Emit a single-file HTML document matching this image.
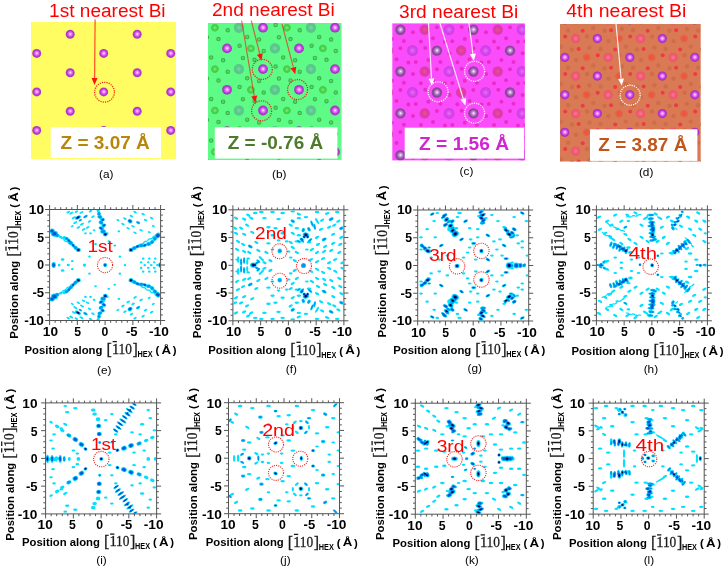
<!DOCTYPE html>
<html><head><meta charset="utf-8"><style>
*{margin:0;padding:0}
html,body{width:725px;height:568px;overflow:hidden;background:#fff}
svg{position:absolute;left:0;top:0;display:block;filter:blur(0.35px)}
</style></head>
<body>
<svg width="725" height="568" viewBox="0 0 725 568"><defs>
<radialGradient id="ga" cx="0.5" cy="0.5" r="0.5" fx="0.5" fy="0.5">
 <stop offset="0" stop-color="#fff4ff"/><stop offset="0.3" stop-color="#e878f4"/><stop offset="0.75" stop-color="#b830d8"/><stop offset="1" stop-color="#a028c8" stop-opacity="0.8"/>
</radialGradient>
<radialGradient id="gc" cx="0.5" cy="0.5" r="0.5">
 <stop offset="0" stop-color="#fff4ff"/><stop offset="0.3" stop-color="#c890d8"/><stop offset="0.75" stop-color="#8a509a"/><stop offset="1" stop-color="#7a4a8a" stop-opacity="0.8"/>
</radialGradient>

<radialGradient id="gA" cx="0.5" cy="0.5" r="0.5" fx="0.52" fy="0.48">
 <stop offset="0" stop-color="#fff6ff"/><stop offset="0.28" stop-color="#ee88f8"/><stop offset="0.7" stop-color="#bb33dd"/><stop offset="1" stop-color="#9922bb" stop-opacity="0.85"/>
</radialGradient>
<radialGradient id="gC" cx="0.5" cy="0.5" r="0.5" fx="0.52" fy="0.48">
 <stop offset="0" stop-color="#fff6ff"/><stop offset="0.28" stop-color="#cc99e0"/><stop offset="0.7" stop-color="#8c4c9c"/><stop offset="1" stop-color="#7a3c8a" stop-opacity="0.85"/>
</radialGradient>
<radialGradient id="gTeal" cx="0.5" cy="0.5" r="0.5">
 <stop offset="0" stop-color="#78d8a4"/><stop offset="0.55" stop-color="#5ac48c"/><stop offset="0.85" stop-color="#56c088" stop-opacity="0.8"/><stop offset="1" stop-color="#56c088" stop-opacity="0.1"/>
</radialGradient>
<radialGradient id="gGrn" cx="0.5" cy="0.5" r="0.5">
 <stop offset="0" stop-color="#80ee80"/><stop offset="0.5" stop-color="#48d048"/><stop offset="0.85" stop-color="#40c840" stop-opacity="0.8"/><stop offset="1" stop-color="#40c840" stop-opacity="0.1"/>
</radialGradient>
<radialGradient id="gMag" cx="0.5" cy="0.5" r="0.5">
 <stop offset="0" stop-color="#e670f4"/><stop offset="0.5" stop-color="#d648ec"/><stop offset="0.85" stop-color="#cc3ce4" stop-opacity="0.9"/><stop offset="1" stop-color="#cc3ce4" stop-opacity="0.2"/>
</radialGradient>
<radialGradient id="gRed" cx="0.5" cy="0.5" r="0.5">
 <stop offset="0" stop-color="#e8509e"/><stop offset="0.5" stop-color="#e03c9e"/><stop offset="0.85" stop-color="#dc38a8" stop-opacity="0.85"/><stop offset="1" stop-color="#dc38a8" stop-opacity="0.15"/>
</radialGradient>
<radialGradient id="gPink" cx="0.5" cy="0.5" r="0.5">
 <stop offset="0" stop-color="#fa7a90"/><stop offset="0.5" stop-color="#f25a76"/><stop offset="0.85" stop-color="#ee5070" stop-opacity="0.85"/><stop offset="1" stop-color="#ee5070" stop-opacity="0.15"/>
</radialGradient>
<radialGradient id="gOr" cx="0.5" cy="0.5" r="0.5">
 <stop offset="0" stop-color="#f4503a"/><stop offset="0.5" stop-color="#ea5a42"/><stop offset="0.85" stop-color="#e26048" stop-opacity="0.6"/><stop offset="1" stop-color="#e26048" stop-opacity="0"/>
</radialGradient>
<clipPath id="cpa"><rect x="31" y="22" width="145" height="137"/></clipPath>
<clipPath id="cpb"><rect x="208" y="23" width="133.5" height="137"/></clipPath>
<clipPath id="cpc"><rect x="392.3" y="23.4" width="132.5" height="137"/></clipPath>
<clipPath id="cpd"><rect x="560" y="24" width="140.7" height="137.5"/></clipPath>
</defs>
<rect x="31" y="22" width="145" height="137" fill="#fffd62"/><g clip-path="url(#cpa)"><circle cx="36.7" cy="14.9" r="4.5" fill="url(#gA)"/><circle cx="36.7" cy="53.4" r="4.5" fill="url(#gA)"/><circle cx="70.2" cy="34.2" r="4.5" fill="url(#gA)"/><circle cx="103.7" cy="14.9" r="4.5" fill="url(#gA)"/><circle cx="36.7" cy="91.9" r="4.5" fill="url(#gA)"/><circle cx="70.2" cy="72.7" r="4.5" fill="url(#gA)"/><circle cx="103.7" cy="53.4" r="4.5" fill="url(#gA)"/><circle cx="137.2" cy="34.2" r="4.5" fill="url(#gA)"/><circle cx="170.7" cy="14.9" r="4.5" fill="url(#gA)"/><circle cx="36.7" cy="130.4" r="4.5" fill="url(#gA)"/><circle cx="70.2" cy="111.2" r="4.5" fill="url(#gA)"/><circle cx="103.7" cy="91.9" r="4.5" fill="url(#gA)"/><circle cx="137.2" cy="72.7" r="4.5" fill="url(#gA)"/><circle cx="170.7" cy="53.4" r="4.5" fill="url(#gA)"/><circle cx="70.2" cy="149.7" r="4.5" fill="url(#gA)"/><circle cx="103.7" cy="130.4" r="4.5" fill="url(#gA)"/><circle cx="137.2" cy="111.2" r="4.5" fill="url(#gA)"/><circle cx="170.7" cy="91.9" r="4.5" fill="url(#gA)"/><circle cx="137.2" cy="149.7" r="4.5" fill="url(#gA)"/><circle cx="170.7" cy="130.4" r="4.5" fill="url(#gA)"/></g><rect x="208" y="23" width="133.5" height="137" fill="#5efc86"/><g clip-path="url(#cpb)"><circle cx="203.6" cy="25.0" r="1.7" fill="#58dc72" stroke="#3cb446" stroke-width="1.1"/><circle cx="206.9" cy="37.2" r="1.7" fill="#58dc72" stroke="#3cb446" stroke-width="1.1"/><circle cx="223.1" cy="18.9" r="1.7" fill="#58dc72" stroke="#3cb446" stroke-width="1.1"/><circle cx="242.9" cy="16.5" r="1.7" fill="#58dc72" stroke="#3cb446" stroke-width="1.1"/><circle cx="211.2" cy="16.2" r="1.7" fill="#58dc72" stroke="#3cb446" stroke-width="1.1"/><circle cx="203.6" cy="66.4" r="1.7" fill="#58dc72" stroke="#3cb446" stroke-width="1.1"/><circle cx="206.9" cy="78.6" r="1.7" fill="#58dc72" stroke="#3cb446" stroke-width="1.1"/><circle cx="227.7" cy="30.3" r="1.7" fill="#58dc72" stroke="#3cb446" stroke-width="1.1"/><circle cx="218.5" cy="39.1" r="1.7" fill="#58dc72" stroke="#3cb446" stroke-width="1.1"/><circle cx="239.6" cy="45.7" r="1.7" fill="#58dc72" stroke="#3cb446" stroke-width="1.1"/><circle cx="223.1" cy="60.3" r="1.7" fill="#58dc72" stroke="#3cb446" stroke-width="1.1"/><circle cx="242.9" cy="57.9" r="1.7" fill="#58dc72" stroke="#3cb446" stroke-width="1.1"/><circle cx="211.2" cy="57.6" r="1.7" fill="#58dc72" stroke="#3cb446" stroke-width="1.1"/><circle cx="254.5" cy="18.4" r="1.7" fill="#58dc72" stroke="#3cb446" stroke-width="1.1"/><circle cx="275.6" cy="25.0" r="1.7" fill="#58dc72" stroke="#3cb446" stroke-width="1.1"/><circle cx="259.1" cy="39.6" r="1.7" fill="#58dc72" stroke="#3cb446" stroke-width="1.1"/><circle cx="278.9" cy="37.2" r="1.7" fill="#58dc72" stroke="#3cb446" stroke-width="1.1"/><circle cx="247.2" cy="36.9" r="1.7" fill="#58dc72" stroke="#3cb446" stroke-width="1.1"/><circle cx="295.1" cy="18.9" r="1.7" fill="#58dc72" stroke="#3cb446" stroke-width="1.1"/><circle cx="314.9" cy="16.5" r="1.7" fill="#58dc72" stroke="#3cb446" stroke-width="1.1"/><circle cx="283.2" cy="16.2" r="1.7" fill="#58dc72" stroke="#3cb446" stroke-width="1.1"/><circle cx="203.6" cy="107.8" r="1.7" fill="#58dc72" stroke="#3cb446" stroke-width="1.1"/><circle cx="206.9" cy="120.0" r="1.7" fill="#58dc72" stroke="#3cb446" stroke-width="1.1"/><circle cx="227.7" cy="71.7" r="1.7" fill="#58dc72" stroke="#3cb446" stroke-width="1.1"/><circle cx="218.5" cy="80.5" r="1.7" fill="#58dc72" stroke="#3cb446" stroke-width="1.1"/><circle cx="239.6" cy="87.1" r="1.7" fill="#58dc72" stroke="#3cb446" stroke-width="1.1"/><circle cx="223.1" cy="101.7" r="1.7" fill="#58dc72" stroke="#3cb446" stroke-width="1.1"/><circle cx="242.9" cy="99.3" r="1.7" fill="#58dc72" stroke="#3cb446" stroke-width="1.1"/><circle cx="211.2" cy="99.0" r="1.7" fill="#58dc72" stroke="#3cb446" stroke-width="1.1"/><circle cx="263.7" cy="51.0" r="1.7" fill="#58dc72" stroke="#3cb446" stroke-width="1.1"/><circle cx="254.5" cy="59.8" r="1.7" fill="#58dc72" stroke="#3cb446" stroke-width="1.1"/><circle cx="275.6" cy="66.4" r="1.7" fill="#58dc72" stroke="#3cb446" stroke-width="1.1"/><circle cx="259.1" cy="81.0" r="1.7" fill="#58dc72" stroke="#3cb446" stroke-width="1.1"/><circle cx="278.9" cy="78.6" r="1.7" fill="#58dc72" stroke="#3cb446" stroke-width="1.1"/><circle cx="247.2" cy="78.3" r="1.7" fill="#58dc72" stroke="#3cb446" stroke-width="1.1"/><circle cx="299.7" cy="30.3" r="1.7" fill="#58dc72" stroke="#3cb446" stroke-width="1.1"/><circle cx="290.5" cy="39.1" r="1.7" fill="#58dc72" stroke="#3cb446" stroke-width="1.1"/><circle cx="311.6" cy="45.7" r="1.7" fill="#58dc72" stroke="#3cb446" stroke-width="1.1"/><circle cx="295.1" cy="60.3" r="1.7" fill="#58dc72" stroke="#3cb446" stroke-width="1.1"/><circle cx="314.9" cy="57.9" r="1.7" fill="#58dc72" stroke="#3cb446" stroke-width="1.1"/><circle cx="283.2" cy="57.6" r="1.7" fill="#58dc72" stroke="#3cb446" stroke-width="1.1"/><circle cx="326.5" cy="18.4" r="1.7" fill="#58dc72" stroke="#3cb446" stroke-width="1.1"/><circle cx="347.6" cy="25.0" r="1.7" fill="#58dc72" stroke="#3cb446" stroke-width="1.1"/><circle cx="331.1" cy="39.6" r="1.7" fill="#58dc72" stroke="#3cb446" stroke-width="1.1"/><circle cx="319.2" cy="36.9" r="1.7" fill="#58dc72" stroke="#3cb446" stroke-width="1.1"/><circle cx="203.6" cy="149.2" r="1.7" fill="#58dc72" stroke="#3cb446" stroke-width="1.1"/><circle cx="206.9" cy="161.4" r="1.7" fill="#58dc72" stroke="#3cb446" stroke-width="1.1"/><circle cx="227.7" cy="113.1" r="1.7" fill="#58dc72" stroke="#3cb446" stroke-width="1.1"/><circle cx="218.5" cy="121.9" r="1.7" fill="#58dc72" stroke="#3cb446" stroke-width="1.1"/><circle cx="239.6" cy="128.5" r="1.7" fill="#58dc72" stroke="#3cb446" stroke-width="1.1"/><circle cx="223.1" cy="143.1" r="1.7" fill="#58dc72" stroke="#3cb446" stroke-width="1.1"/><circle cx="242.9" cy="140.7" r="1.7" fill="#58dc72" stroke="#3cb446" stroke-width="1.1"/><circle cx="211.2" cy="140.4" r="1.7" fill="#58dc72" stroke="#3cb446" stroke-width="1.1"/><circle cx="263.7" cy="92.4" r="1.7" fill="#58dc72" stroke="#3cb446" stroke-width="1.1"/><circle cx="254.5" cy="101.2" r="1.7" fill="#58dc72" stroke="#3cb446" stroke-width="1.1"/><circle cx="275.6" cy="107.8" r="1.7" fill="#58dc72" stroke="#3cb446" stroke-width="1.1"/><circle cx="259.1" cy="122.4" r="1.7" fill="#58dc72" stroke="#3cb446" stroke-width="1.1"/><circle cx="278.9" cy="120.0" r="1.7" fill="#58dc72" stroke="#3cb446" stroke-width="1.1"/><circle cx="247.2" cy="119.7" r="1.7" fill="#58dc72" stroke="#3cb446" stroke-width="1.1"/><circle cx="299.7" cy="71.7" r="1.7" fill="#58dc72" stroke="#3cb446" stroke-width="1.1"/><circle cx="290.5" cy="80.5" r="1.7" fill="#58dc72" stroke="#3cb446" stroke-width="1.1"/><circle cx="311.6" cy="87.1" r="1.7" fill="#58dc72" stroke="#3cb446" stroke-width="1.1"/><circle cx="295.1" cy="101.7" r="1.7" fill="#58dc72" stroke="#3cb446" stroke-width="1.1"/><circle cx="314.9" cy="99.3" r="1.7" fill="#58dc72" stroke="#3cb446" stroke-width="1.1"/><circle cx="283.2" cy="99.0" r="1.7" fill="#58dc72" stroke="#3cb446" stroke-width="1.1"/><circle cx="335.7" cy="51.0" r="1.7" fill="#58dc72" stroke="#3cb446" stroke-width="1.1"/><circle cx="326.5" cy="59.8" r="1.7" fill="#58dc72" stroke="#3cb446" stroke-width="1.1"/><circle cx="347.6" cy="66.4" r="1.7" fill="#58dc72" stroke="#3cb446" stroke-width="1.1"/><circle cx="331.1" cy="81.0" r="1.7" fill="#58dc72" stroke="#3cb446" stroke-width="1.1"/><circle cx="319.2" cy="78.3" r="1.7" fill="#58dc72" stroke="#3cb446" stroke-width="1.1"/><circle cx="227.7" cy="154.5" r="1.7" fill="#58dc72" stroke="#3cb446" stroke-width="1.1"/><circle cx="218.5" cy="163.3" r="1.7" fill="#58dc72" stroke="#3cb446" stroke-width="1.1"/><circle cx="263.7" cy="133.8" r="1.7" fill="#58dc72" stroke="#3cb446" stroke-width="1.1"/><circle cx="254.5" cy="142.6" r="1.7" fill="#58dc72" stroke="#3cb446" stroke-width="1.1"/><circle cx="275.6" cy="149.2" r="1.7" fill="#58dc72" stroke="#3cb446" stroke-width="1.1"/><circle cx="259.1" cy="163.8" r="1.7" fill="#58dc72" stroke="#3cb446" stroke-width="1.1"/><circle cx="278.9" cy="161.4" r="1.7" fill="#58dc72" stroke="#3cb446" stroke-width="1.1"/><circle cx="247.2" cy="161.1" r="1.7" fill="#58dc72" stroke="#3cb446" stroke-width="1.1"/><circle cx="299.7" cy="113.1" r="1.7" fill="#58dc72" stroke="#3cb446" stroke-width="1.1"/><circle cx="290.5" cy="121.9" r="1.7" fill="#58dc72" stroke="#3cb446" stroke-width="1.1"/><circle cx="311.6" cy="128.5" r="1.7" fill="#58dc72" stroke="#3cb446" stroke-width="1.1"/><circle cx="295.1" cy="143.1" r="1.7" fill="#58dc72" stroke="#3cb446" stroke-width="1.1"/><circle cx="314.9" cy="140.7" r="1.7" fill="#58dc72" stroke="#3cb446" stroke-width="1.1"/><circle cx="283.2" cy="140.4" r="1.7" fill="#58dc72" stroke="#3cb446" stroke-width="1.1"/><circle cx="335.7" cy="92.4" r="1.7" fill="#58dc72" stroke="#3cb446" stroke-width="1.1"/><circle cx="326.5" cy="101.2" r="1.7" fill="#58dc72" stroke="#3cb446" stroke-width="1.1"/><circle cx="347.6" cy="107.8" r="1.7" fill="#58dc72" stroke="#3cb446" stroke-width="1.1"/><circle cx="331.1" cy="122.4" r="1.7" fill="#58dc72" stroke="#3cb446" stroke-width="1.1"/><circle cx="319.2" cy="119.7" r="1.7" fill="#58dc72" stroke="#3cb446" stroke-width="1.1"/><circle cx="299.7" cy="154.5" r="1.7" fill="#58dc72" stroke="#3cb446" stroke-width="1.1"/><circle cx="290.5" cy="163.3" r="1.7" fill="#58dc72" stroke="#3cb446" stroke-width="1.1"/><circle cx="335.7" cy="133.8" r="1.7" fill="#58dc72" stroke="#3cb446" stroke-width="1.1"/><circle cx="326.5" cy="142.6" r="1.7" fill="#58dc72" stroke="#3cb446" stroke-width="1.1"/><circle cx="347.6" cy="149.2" r="1.7" fill="#58dc72" stroke="#3cb446" stroke-width="1.1"/><circle cx="331.1" cy="163.8" r="1.7" fill="#58dc72" stroke="#3cb446" stroke-width="1.1"/><circle cx="319.2" cy="161.1" r="1.7" fill="#58dc72" stroke="#3cb446" stroke-width="1.1"/><circle cx="202.9" cy="48.4" r="5.6" fill="url(#gTeal)"/><circle cx="238.9" cy="27.7" r="5.6" fill="url(#gTeal)"/><circle cx="202.9" cy="89.8" r="5.6" fill="url(#gTeal)"/><circle cx="238.9" cy="69.1" r="5.6" fill="url(#gTeal)"/><circle cx="274.9" cy="48.4" r="5.6" fill="url(#gTeal)"/><circle cx="310.9" cy="27.7" r="5.6" fill="url(#gTeal)"/><circle cx="202.9" cy="131.2" r="5.6" fill="url(#gTeal)"/><circle cx="238.9" cy="110.5" r="5.6" fill="url(#gTeal)"/><circle cx="274.9" cy="89.8" r="5.6" fill="url(#gTeal)"/><circle cx="310.9" cy="69.1" r="5.6" fill="url(#gTeal)"/><circle cx="346.9" cy="48.4" r="5.6" fill="url(#gTeal)"/><circle cx="238.9" cy="151.9" r="5.6" fill="url(#gTeal)"/><circle cx="274.9" cy="131.2" r="5.6" fill="url(#gTeal)"/><circle cx="310.9" cy="110.5" r="5.6" fill="url(#gTeal)"/><circle cx="346.9" cy="89.8" r="5.6" fill="url(#gTeal)"/><circle cx="310.9" cy="151.9" r="5.6" fill="url(#gTeal)"/><circle cx="346.9" cy="131.2" r="5.6" fill="url(#gTeal)"/><circle cx="214.9" cy="27.7" r="4.2" fill="url(#gGrn)"/><circle cx="214.9" cy="69.1" r="4.2" fill="url(#gGrn)"/><circle cx="250.9" cy="48.4" r="4.2" fill="url(#gGrn)"/><circle cx="286.9" cy="27.7" r="4.2" fill="url(#gGrn)"/><circle cx="214.9" cy="110.5" r="4.2" fill="url(#gGrn)"/><circle cx="250.9" cy="89.8" r="4.2" fill="url(#gGrn)"/><circle cx="286.9" cy="69.1" r="4.2" fill="url(#gGrn)"/><circle cx="322.9" cy="48.4" r="4.2" fill="url(#gGrn)"/><circle cx="214.9" cy="151.9" r="4.2" fill="url(#gGrn)"/><circle cx="250.9" cy="131.2" r="4.2" fill="url(#gGrn)"/><circle cx="286.9" cy="110.5" r="4.2" fill="url(#gGrn)"/><circle cx="322.9" cy="89.8" r="4.2" fill="url(#gGrn)"/><circle cx="286.9" cy="151.9" r="4.2" fill="url(#gGrn)"/><circle cx="322.9" cy="131.2" r="4.2" fill="url(#gGrn)"/><circle cx="227.0" cy="48.4" r="4.9" fill="url(#gA)"/><circle cx="263.0" cy="27.7" r="4.9" fill="url(#gA)"/><circle cx="227.0" cy="89.8" r="4.9" fill="url(#gA)"/><circle cx="263.0" cy="69.1" r="4.9" fill="url(#gA)"/><circle cx="299.0" cy="48.4" r="4.9" fill="url(#gA)"/><circle cx="335.0" cy="27.7" r="4.9" fill="url(#gA)"/><circle cx="227.0" cy="131.2" r="4.9" fill="url(#gA)"/><circle cx="263.0" cy="110.5" r="4.9" fill="url(#gA)"/><circle cx="299.0" cy="89.8" r="4.9" fill="url(#gA)"/><circle cx="335.0" cy="69.1" r="4.9" fill="url(#gA)"/><circle cx="263.0" cy="151.9" r="4.9" fill="url(#gA)"/><circle cx="299.0" cy="131.2" r="4.9" fill="url(#gA)"/><circle cx="335.0" cy="110.5" r="4.9" fill="url(#gA)"/><circle cx="335.0" cy="151.9" r="4.9" fill="url(#gA)"/></g><rect x="392.3" y="23.4" width="132.5" height="137" fill="#fb4cfb"/><g clip-path="url(#cpc)"><circle cx="388.7" cy="27.0" r="2.0" fill="#ec2cc8"/><circle cx="408.4" cy="20.8" r="2.0" fill="#ec2cc8"/><circle cx="396.5" cy="17.4" r="2.0" fill="#ec2cc8"/><circle cx="413.0" cy="32.3" r="2.0" fill="#ec2cc8"/><circle cx="403.9" cy="41.0" r="2.0" fill="#ec2cc8"/><circle cx="391.8" cy="39.0" r="2.0" fill="#ec2cc8"/><circle cx="384.4" cy="20.5" r="2.0" fill="#ec2cc8"/><circle cx="400.4" cy="48.3" r="2.0" fill="#ec2cc8"/><circle cx="415.8" cy="20.3" r="2.0" fill="#ec2cc8"/><circle cx="440.4" cy="20.0" r="2.0" fill="#ec2cc8"/><circle cx="428.3" cy="18.0" r="2.0" fill="#ec2cc8"/><circle cx="436.9" cy="27.3" r="2.0" fill="#ec2cc8"/><circle cx="388.7" cy="68.8" r="2.0" fill="#ec2cc8"/><circle cx="408.4" cy="62.6" r="2.0" fill="#ec2cc8"/><circle cx="396.5" cy="59.2" r="2.0" fill="#ec2cc8"/><circle cx="413.0" cy="74.1" r="2.0" fill="#ec2cc8"/><circle cx="403.9" cy="82.8" r="2.0" fill="#ec2cc8"/><circle cx="391.8" cy="80.8" r="2.0" fill="#ec2cc8"/><circle cx="384.4" cy="62.3" r="2.0" fill="#ec2cc8"/><circle cx="400.4" cy="90.1" r="2.0" fill="#ec2cc8"/><circle cx="415.8" cy="62.1" r="2.0" fill="#ec2cc8"/><circle cx="425.2" cy="47.9" r="2.0" fill="#ec2cc8"/><circle cx="444.9" cy="41.7" r="2.0" fill="#ec2cc8"/><circle cx="433.0" cy="38.3" r="2.0" fill="#ec2cc8"/><circle cx="449.5" cy="53.2" r="2.0" fill="#ec2cc8"/><circle cx="440.4" cy="61.9" r="2.0" fill="#ec2cc8"/><circle cx="428.3" cy="59.9" r="2.0" fill="#ec2cc8"/><circle cx="420.9" cy="41.4" r="2.0" fill="#ec2cc8"/><circle cx="436.9" cy="69.2" r="2.0" fill="#ec2cc8"/><circle cx="452.3" cy="41.2" r="2.0" fill="#ec2cc8"/><circle cx="461.7" cy="27.0" r="2.0" fill="#ec2cc8"/><circle cx="481.4" cy="20.8" r="2.0" fill="#ec2cc8"/><circle cx="469.5" cy="17.4" r="2.0" fill="#ec2cc8"/><circle cx="486.0" cy="32.3" r="2.0" fill="#ec2cc8"/><circle cx="476.9" cy="41.0" r="2.0" fill="#ec2cc8"/><circle cx="464.8" cy="39.0" r="2.0" fill="#ec2cc8"/><circle cx="457.4" cy="20.5" r="2.0" fill="#ec2cc8"/><circle cx="473.4" cy="48.3" r="2.0" fill="#ec2cc8"/><circle cx="488.8" cy="20.3" r="2.0" fill="#ec2cc8"/><circle cx="513.5" cy="20.0" r="2.0" fill="#ec2cc8"/><circle cx="501.4" cy="18.0" r="2.0" fill="#ec2cc8"/><circle cx="510.0" cy="27.3" r="2.0" fill="#ec2cc8"/><circle cx="388.7" cy="110.7" r="2.0" fill="#ec2cc8"/><circle cx="408.4" cy="104.5" r="2.0" fill="#ec2cc8"/><circle cx="396.5" cy="101.1" r="2.0" fill="#ec2cc8"/><circle cx="413.0" cy="116.0" r="2.0" fill="#ec2cc8"/><circle cx="403.9" cy="124.7" r="2.0" fill="#ec2cc8"/><circle cx="391.8" cy="122.7" r="2.0" fill="#ec2cc8"/><circle cx="384.4" cy="104.2" r="2.0" fill="#ec2cc8"/><circle cx="400.4" cy="132.0" r="2.0" fill="#ec2cc8"/><circle cx="415.8" cy="104.0" r="2.0" fill="#ec2cc8"/><circle cx="425.2" cy="89.8" r="2.0" fill="#ec2cc8"/><circle cx="444.9" cy="83.6" r="2.0" fill="#ec2cc8"/><circle cx="433.0" cy="80.2" r="2.0" fill="#ec2cc8"/><circle cx="449.5" cy="95.1" r="2.0" fill="#ec2cc8"/><circle cx="440.4" cy="103.8" r="2.0" fill="#ec2cc8"/><circle cx="428.3" cy="101.8" r="2.0" fill="#ec2cc8"/><circle cx="420.9" cy="83.3" r="2.0" fill="#ec2cc8"/><circle cx="436.9" cy="111.1" r="2.0" fill="#ec2cc8"/><circle cx="452.3" cy="83.1" r="2.0" fill="#ec2cc8"/><circle cx="461.7" cy="68.8" r="2.0" fill="#ec2cc8"/><circle cx="481.4" cy="62.6" r="2.0" fill="#ec2cc8"/><circle cx="469.5" cy="59.2" r="2.0" fill="#ec2cc8"/><circle cx="486.0" cy="74.1" r="2.0" fill="#ec2cc8"/><circle cx="476.9" cy="82.8" r="2.0" fill="#ec2cc8"/><circle cx="464.8" cy="80.8" r="2.0" fill="#ec2cc8"/><circle cx="457.4" cy="62.3" r="2.0" fill="#ec2cc8"/><circle cx="473.4" cy="90.1" r="2.0" fill="#ec2cc8"/><circle cx="488.8" cy="62.1" r="2.0" fill="#ec2cc8"/><circle cx="498.3" cy="47.9" r="2.0" fill="#ec2cc8"/><circle cx="518.0" cy="41.7" r="2.0" fill="#ec2cc8"/><circle cx="506.1" cy="38.3" r="2.0" fill="#ec2cc8"/><circle cx="522.6" cy="53.2" r="2.0" fill="#ec2cc8"/><circle cx="513.5" cy="61.9" r="2.0" fill="#ec2cc8"/><circle cx="501.4" cy="59.9" r="2.0" fill="#ec2cc8"/><circle cx="494.0" cy="41.4" r="2.0" fill="#ec2cc8"/><circle cx="510.0" cy="69.2" r="2.0" fill="#ec2cc8"/><circle cx="525.4" cy="41.2" r="2.0" fill="#ec2cc8"/><circle cx="530.5" cy="20.5" r="2.0" fill="#ec2cc8"/><circle cx="388.7" cy="152.6" r="2.0" fill="#ec2cc8"/><circle cx="408.4" cy="146.3" r="2.0" fill="#ec2cc8"/><circle cx="396.5" cy="142.9" r="2.0" fill="#ec2cc8"/><circle cx="413.0" cy="157.8" r="2.0" fill="#ec2cc8"/><circle cx="403.9" cy="166.6" r="2.0" fill="#ec2cc8"/><circle cx="391.8" cy="164.6" r="2.0" fill="#ec2cc8"/><circle cx="384.4" cy="146.1" r="2.0" fill="#ec2cc8"/><circle cx="415.8" cy="145.8" r="2.0" fill="#ec2cc8"/><circle cx="425.2" cy="131.6" r="2.0" fill="#ec2cc8"/><circle cx="444.9" cy="125.4" r="2.0" fill="#ec2cc8"/><circle cx="433.0" cy="122.0" r="2.0" fill="#ec2cc8"/><circle cx="449.5" cy="136.9" r="2.0" fill="#ec2cc8"/><circle cx="440.4" cy="145.6" r="2.0" fill="#ec2cc8"/><circle cx="428.3" cy="143.6" r="2.0" fill="#ec2cc8"/><circle cx="420.9" cy="125.1" r="2.0" fill="#ec2cc8"/><circle cx="436.9" cy="152.9" r="2.0" fill="#ec2cc8"/><circle cx="452.3" cy="124.9" r="2.0" fill="#ec2cc8"/><circle cx="461.7" cy="110.7" r="2.0" fill="#ec2cc8"/><circle cx="481.4" cy="104.5" r="2.0" fill="#ec2cc8"/><circle cx="469.5" cy="101.1" r="2.0" fill="#ec2cc8"/><circle cx="486.0" cy="116.0" r="2.0" fill="#ec2cc8"/><circle cx="476.9" cy="124.7" r="2.0" fill="#ec2cc8"/><circle cx="464.8" cy="122.7" r="2.0" fill="#ec2cc8"/><circle cx="457.4" cy="104.2" r="2.0" fill="#ec2cc8"/><circle cx="473.4" cy="132.0" r="2.0" fill="#ec2cc8"/><circle cx="488.8" cy="104.0" r="2.0" fill="#ec2cc8"/><circle cx="498.3" cy="89.8" r="2.0" fill="#ec2cc8"/><circle cx="518.0" cy="83.6" r="2.0" fill="#ec2cc8"/><circle cx="506.1" cy="80.2" r="2.0" fill="#ec2cc8"/><circle cx="522.6" cy="95.1" r="2.0" fill="#ec2cc8"/><circle cx="513.5" cy="103.8" r="2.0" fill="#ec2cc8"/><circle cx="501.4" cy="101.8" r="2.0" fill="#ec2cc8"/><circle cx="494.0" cy="83.3" r="2.0" fill="#ec2cc8"/><circle cx="510.0" cy="111.1" r="2.0" fill="#ec2cc8"/><circle cx="525.4" cy="83.1" r="2.0" fill="#ec2cc8"/><circle cx="530.5" cy="62.3" r="2.0" fill="#ec2cc8"/><circle cx="444.9" cy="167.3" r="2.0" fill="#ec2cc8"/><circle cx="433.0" cy="163.9" r="2.0" fill="#ec2cc8"/><circle cx="420.9" cy="167.0" r="2.0" fill="#ec2cc8"/><circle cx="452.3" cy="166.8" r="2.0" fill="#ec2cc8"/><circle cx="461.7" cy="152.6" r="2.0" fill="#ec2cc8"/><circle cx="481.4" cy="146.3" r="2.0" fill="#ec2cc8"/><circle cx="469.5" cy="142.9" r="2.0" fill="#ec2cc8"/><circle cx="486.0" cy="157.8" r="2.0" fill="#ec2cc8"/><circle cx="476.9" cy="166.6" r="2.0" fill="#ec2cc8"/><circle cx="464.8" cy="164.6" r="2.0" fill="#ec2cc8"/><circle cx="457.4" cy="146.1" r="2.0" fill="#ec2cc8"/><circle cx="488.8" cy="145.8" r="2.0" fill="#ec2cc8"/><circle cx="498.3" cy="131.6" r="2.0" fill="#ec2cc8"/><circle cx="518.0" cy="125.4" r="2.0" fill="#ec2cc8"/><circle cx="506.1" cy="122.0" r="2.0" fill="#ec2cc8"/><circle cx="522.6" cy="136.9" r="2.0" fill="#ec2cc8"/><circle cx="513.5" cy="145.6" r="2.0" fill="#ec2cc8"/><circle cx="501.4" cy="143.6" r="2.0" fill="#ec2cc8"/><circle cx="494.0" cy="125.1" r="2.0" fill="#ec2cc8"/><circle cx="510.0" cy="152.9" r="2.0" fill="#ec2cc8"/><circle cx="525.4" cy="124.9" r="2.0" fill="#ec2cc8"/><circle cx="530.5" cy="104.2" r="2.0" fill="#ec2cc8"/><circle cx="518.0" cy="167.3" r="2.0" fill="#ec2cc8"/><circle cx="506.1" cy="163.9" r="2.0" fill="#ec2cc8"/><circle cx="494.0" cy="167.0" r="2.0" fill="#ec2cc8"/><circle cx="525.4" cy="166.8" r="2.0" fill="#ec2cc8"/><circle cx="530.5" cy="146.1" r="2.0" fill="#ec2cc8"/><circle cx="388.1" cy="50.6" r="5.6" fill="url(#gRed)"/><circle cx="424.7" cy="29.7" r="5.6" fill="url(#gRed)"/><circle cx="388.1" cy="92.5" r="5.6" fill="url(#gRed)"/><circle cx="424.7" cy="71.5" r="5.6" fill="url(#gRed)"/><circle cx="461.2" cy="50.6" r="5.6" fill="url(#gRed)"/><circle cx="497.7" cy="29.7" r="5.6" fill="url(#gRed)"/><circle cx="388.1" cy="134.3" r="5.6" fill="url(#gRed)"/><circle cx="424.7" cy="113.4" r="5.6" fill="url(#gRed)"/><circle cx="461.2" cy="92.5" r="5.6" fill="url(#gRed)"/><circle cx="497.7" cy="71.5" r="5.6" fill="url(#gRed)"/><circle cx="424.7" cy="155.2" r="5.6" fill="url(#gRed)"/><circle cx="461.2" cy="134.3" r="5.6" fill="url(#gRed)"/><circle cx="497.7" cy="113.4" r="5.6" fill="url(#gRed)"/><circle cx="497.7" cy="155.2" r="5.6" fill="url(#gRed)"/><circle cx="412.5" cy="50.6" r="5.8" fill="url(#gMag)"/><circle cx="449.1" cy="29.7" r="5.8" fill="url(#gMag)"/><circle cx="412.5" cy="92.5" r="5.8" fill="url(#gMag)"/><circle cx="449.1" cy="71.5" r="5.8" fill="url(#gMag)"/><circle cx="485.6" cy="50.6" r="5.8" fill="url(#gMag)"/><circle cx="522.1" cy="29.7" r="5.8" fill="url(#gMag)"/><circle cx="412.5" cy="134.3" r="5.8" fill="url(#gMag)"/><circle cx="449.1" cy="113.4" r="5.8" fill="url(#gMag)"/><circle cx="485.6" cy="92.5" r="5.8" fill="url(#gMag)"/><circle cx="522.1" cy="71.5" r="5.8" fill="url(#gMag)"/><circle cx="449.1" cy="155.2" r="5.8" fill="url(#gMag)"/><circle cx="485.6" cy="134.3" r="5.8" fill="url(#gMag)"/><circle cx="522.1" cy="113.4" r="5.8" fill="url(#gMag)"/><circle cx="522.1" cy="155.2" r="5.8" fill="url(#gMag)"/><circle cx="400.4" cy="29.7" r="5.2" fill="url(#gC)"/><circle cx="400.4" cy="71.5" r="5.2" fill="url(#gC)"/><circle cx="436.9" cy="50.6" r="5.2" fill="url(#gC)"/><circle cx="473.4" cy="29.7" r="5.2" fill="url(#gC)"/><circle cx="400.4" cy="113.4" r="5.2" fill="url(#gC)"/><circle cx="436.9" cy="92.5" r="5.2" fill="url(#gC)"/><circle cx="473.4" cy="71.5" r="5.2" fill="url(#gC)"/><circle cx="510.0" cy="50.6" r="5.2" fill="url(#gC)"/><circle cx="400.4" cy="155.2" r="5.2" fill="url(#gC)"/><circle cx="436.9" cy="134.3" r="5.2" fill="url(#gC)"/><circle cx="473.4" cy="113.4" r="5.2" fill="url(#gC)"/><circle cx="510.0" cy="92.5" r="5.2" fill="url(#gC)"/><circle cx="473.4" cy="155.2" r="5.2" fill="url(#gC)"/><circle cx="510.0" cy="134.3" r="5.2" fill="url(#gC)"/></g><rect x="560" y="24" width="140.7" height="137.5" fill="#d97a54"/><g clip-path="url(#cpd)"><circle cx="554.6" cy="17.8" r="2.2" fill="#cc6a48" opacity="0.8"/><circle cx="576.0" cy="22.4" r="2.2" fill="#cc6a48" opacity="0.8"/><circle cx="568.1" cy="30.2" r="2.2" fill="#cc6a48" opacity="0.8"/><circle cx="556.9" cy="29.0" r="2.2" fill="#cc6a48" opacity="0.8"/><circle cx="554.6" cy="55.2" r="2.2" fill="#cc6a48" opacity="0.8"/><circle cx="560.8" cy="46.7" r="2.2" fill="#cc6a48" opacity="0.8"/><circle cx="572.0" cy="49.6" r="2.2" fill="#cc6a48" opacity="0.8"/><circle cx="576.0" cy="59.9" r="2.2" fill="#cc6a48" opacity="0.8"/><circle cx="568.1" cy="67.8" r="2.2" fill="#cc6a48" opacity="0.8"/><circle cx="556.9" cy="66.5" r="2.2" fill="#cc6a48" opacity="0.8"/><circle cx="587.1" cy="36.5" r="2.2" fill="#cc6a48" opacity="0.8"/><circle cx="593.3" cy="27.9" r="2.2" fill="#cc6a48" opacity="0.8"/><circle cx="604.5" cy="30.8" r="2.2" fill="#cc6a48" opacity="0.8"/><circle cx="608.5" cy="41.1" r="2.2" fill="#cc6a48" opacity="0.8"/><circle cx="600.6" cy="49.0" r="2.2" fill="#cc6a48" opacity="0.8"/><circle cx="589.4" cy="47.7" r="2.2" fill="#cc6a48" opacity="0.8"/><circle cx="619.6" cy="17.8" r="2.2" fill="#cc6a48" opacity="0.8"/><circle cx="641.0" cy="22.4" r="2.2" fill="#cc6a48" opacity="0.8"/><circle cx="633.1" cy="30.2" r="2.2" fill="#cc6a48" opacity="0.8"/><circle cx="621.9" cy="29.0" r="2.2" fill="#cc6a48" opacity="0.8"/><circle cx="554.6" cy="92.8" r="2.2" fill="#cc6a48" opacity="0.8"/><circle cx="560.8" cy="84.1" r="2.2" fill="#cc6a48" opacity="0.8"/><circle cx="572.0" cy="87.0" r="2.2" fill="#cc6a48" opacity="0.8"/><circle cx="576.0" cy="97.3" r="2.2" fill="#cc6a48" opacity="0.8"/><circle cx="568.1" cy="105.2" r="2.2" fill="#cc6a48" opacity="0.8"/><circle cx="556.9" cy="103.9" r="2.2" fill="#cc6a48" opacity="0.8"/><circle cx="587.1" cy="74.0" r="2.2" fill="#cc6a48" opacity="0.8"/><circle cx="593.3" cy="65.4" r="2.2" fill="#cc6a48" opacity="0.8"/><circle cx="604.5" cy="68.3" r="2.2" fill="#cc6a48" opacity="0.8"/><circle cx="608.5" cy="78.6" r="2.2" fill="#cc6a48" opacity="0.8"/><circle cx="600.6" cy="86.5" r="2.2" fill="#cc6a48" opacity="0.8"/><circle cx="589.4" cy="85.2" r="2.2" fill="#cc6a48" opacity="0.8"/><circle cx="619.6" cy="55.2" r="2.2" fill="#cc6a48" opacity="0.8"/><circle cx="625.8" cy="46.7" r="2.2" fill="#cc6a48" opacity="0.8"/><circle cx="637.0" cy="49.6" r="2.2" fill="#cc6a48" opacity="0.8"/><circle cx="641.0" cy="59.9" r="2.2" fill="#cc6a48" opacity="0.8"/><circle cx="633.1" cy="67.8" r="2.2" fill="#cc6a48" opacity="0.8"/><circle cx="621.9" cy="66.5" r="2.2" fill="#cc6a48" opacity="0.8"/><circle cx="652.1" cy="36.5" r="2.2" fill="#cc6a48" opacity="0.8"/><circle cx="658.3" cy="27.9" r="2.2" fill="#cc6a48" opacity="0.8"/><circle cx="669.5" cy="30.8" r="2.2" fill="#cc6a48" opacity="0.8"/><circle cx="673.5" cy="41.1" r="2.2" fill="#cc6a48" opacity="0.8"/><circle cx="665.6" cy="49.0" r="2.2" fill="#cc6a48" opacity="0.8"/><circle cx="654.4" cy="47.7" r="2.2" fill="#cc6a48" opacity="0.8"/><circle cx="684.6" cy="17.8" r="2.2" fill="#cc6a48" opacity="0.8"/><circle cx="706.0" cy="22.4" r="2.2" fill="#cc6a48" opacity="0.8"/><circle cx="698.1" cy="30.2" r="2.2" fill="#cc6a48" opacity="0.8"/><circle cx="686.9" cy="29.0" r="2.2" fill="#cc6a48" opacity="0.8"/><circle cx="554.6" cy="130.2" r="2.2" fill="#cc6a48" opacity="0.8"/><circle cx="560.8" cy="121.6" r="2.2" fill="#cc6a48" opacity="0.8"/><circle cx="572.0" cy="124.5" r="2.2" fill="#cc6a48" opacity="0.8"/><circle cx="576.0" cy="134.8" r="2.2" fill="#cc6a48" opacity="0.8"/><circle cx="568.1" cy="142.8" r="2.2" fill="#cc6a48" opacity="0.8"/><circle cx="556.9" cy="141.4" r="2.2" fill="#cc6a48" opacity="0.8"/><circle cx="587.1" cy="111.5" r="2.2" fill="#cc6a48" opacity="0.8"/><circle cx="593.3" cy="102.9" r="2.2" fill="#cc6a48" opacity="0.8"/><circle cx="604.5" cy="105.8" r="2.2" fill="#cc6a48" opacity="0.8"/><circle cx="608.5" cy="116.1" r="2.2" fill="#cc6a48" opacity="0.8"/><circle cx="600.6" cy="124.0" r="2.2" fill="#cc6a48" opacity="0.8"/><circle cx="589.4" cy="122.7" r="2.2" fill="#cc6a48" opacity="0.8"/><circle cx="619.6" cy="92.8" r="2.2" fill="#cc6a48" opacity="0.8"/><circle cx="625.8" cy="84.1" r="2.2" fill="#cc6a48" opacity="0.8"/><circle cx="637.0" cy="87.0" r="2.2" fill="#cc6a48" opacity="0.8"/><circle cx="641.0" cy="97.3" r="2.2" fill="#cc6a48" opacity="0.8"/><circle cx="633.1" cy="105.2" r="2.2" fill="#cc6a48" opacity="0.8"/><circle cx="621.9" cy="103.9" r="2.2" fill="#cc6a48" opacity="0.8"/><circle cx="652.1" cy="74.0" r="2.2" fill="#cc6a48" opacity="0.8"/><circle cx="658.3" cy="65.4" r="2.2" fill="#cc6a48" opacity="0.8"/><circle cx="669.5" cy="68.3" r="2.2" fill="#cc6a48" opacity="0.8"/><circle cx="673.5" cy="78.6" r="2.2" fill="#cc6a48" opacity="0.8"/><circle cx="665.6" cy="86.5" r="2.2" fill="#cc6a48" opacity="0.8"/><circle cx="654.4" cy="85.2" r="2.2" fill="#cc6a48" opacity="0.8"/><circle cx="684.6" cy="55.2" r="2.2" fill="#cc6a48" opacity="0.8"/><circle cx="690.8" cy="46.6" r="2.2" fill="#cc6a48" opacity="0.8"/><circle cx="702.0" cy="49.5" r="2.2" fill="#cc6a48" opacity="0.8"/><circle cx="706.0" cy="59.8" r="2.2" fill="#cc6a48" opacity="0.8"/><circle cx="698.1" cy="67.8" r="2.2" fill="#cc6a48" opacity="0.8"/><circle cx="686.9" cy="66.4" r="2.2" fill="#cc6a48" opacity="0.8"/><circle cx="554.6" cy="167.8" r="2.2" fill="#cc6a48" opacity="0.8"/><circle cx="560.8" cy="159.2" r="2.2" fill="#cc6a48" opacity="0.8"/><circle cx="572.0" cy="162.0" r="2.2" fill="#cc6a48" opacity="0.8"/><circle cx="587.1" cy="149.0" r="2.2" fill="#cc6a48" opacity="0.8"/><circle cx="593.3" cy="140.4" r="2.2" fill="#cc6a48" opacity="0.8"/><circle cx="604.5" cy="143.3" r="2.2" fill="#cc6a48" opacity="0.8"/><circle cx="608.5" cy="153.6" r="2.2" fill="#cc6a48" opacity="0.8"/><circle cx="600.6" cy="161.5" r="2.2" fill="#cc6a48" opacity="0.8"/><circle cx="589.4" cy="160.2" r="2.2" fill="#cc6a48" opacity="0.8"/><circle cx="619.6" cy="130.2" r="2.2" fill="#cc6a48" opacity="0.8"/><circle cx="625.8" cy="121.6" r="2.2" fill="#cc6a48" opacity="0.8"/><circle cx="637.0" cy="124.5" r="2.2" fill="#cc6a48" opacity="0.8"/><circle cx="641.0" cy="134.8" r="2.2" fill="#cc6a48" opacity="0.8"/><circle cx="633.1" cy="142.8" r="2.2" fill="#cc6a48" opacity="0.8"/><circle cx="621.9" cy="141.4" r="2.2" fill="#cc6a48" opacity="0.8"/><circle cx="652.1" cy="111.5" r="2.2" fill="#cc6a48" opacity="0.8"/><circle cx="658.3" cy="102.9" r="2.2" fill="#cc6a48" opacity="0.8"/><circle cx="669.5" cy="105.8" r="2.2" fill="#cc6a48" opacity="0.8"/><circle cx="673.5" cy="116.1" r="2.2" fill="#cc6a48" opacity="0.8"/><circle cx="665.6" cy="124.0" r="2.2" fill="#cc6a48" opacity="0.8"/><circle cx="654.4" cy="122.7" r="2.2" fill="#cc6a48" opacity="0.8"/><circle cx="684.6" cy="92.8" r="2.2" fill="#cc6a48" opacity="0.8"/><circle cx="690.8" cy="84.1" r="2.2" fill="#cc6a48" opacity="0.8"/><circle cx="702.0" cy="87.0" r="2.2" fill="#cc6a48" opacity="0.8"/><circle cx="706.0" cy="97.3" r="2.2" fill="#cc6a48" opacity="0.8"/><circle cx="698.1" cy="105.2" r="2.2" fill="#cc6a48" opacity="0.8"/><circle cx="686.9" cy="103.9" r="2.2" fill="#cc6a48" opacity="0.8"/><circle cx="619.6" cy="167.8" r="2.2" fill="#cc6a48" opacity="0.8"/><circle cx="625.8" cy="159.2" r="2.2" fill="#cc6a48" opacity="0.8"/><circle cx="637.0" cy="162.0" r="2.2" fill="#cc6a48" opacity="0.8"/><circle cx="652.1" cy="149.0" r="2.2" fill="#cc6a48" opacity="0.8"/><circle cx="658.3" cy="140.4" r="2.2" fill="#cc6a48" opacity="0.8"/><circle cx="669.5" cy="143.3" r="2.2" fill="#cc6a48" opacity="0.8"/><circle cx="673.5" cy="153.6" r="2.2" fill="#cc6a48" opacity="0.8"/><circle cx="665.6" cy="161.5" r="2.2" fill="#cc6a48" opacity="0.8"/><circle cx="654.4" cy="160.2" r="2.2" fill="#cc6a48" opacity="0.8"/><circle cx="684.6" cy="130.2" r="2.2" fill="#cc6a48" opacity="0.8"/><circle cx="690.8" cy="121.6" r="2.2" fill="#cc6a48" opacity="0.8"/><circle cx="702.0" cy="124.5" r="2.2" fill="#cc6a48" opacity="0.8"/><circle cx="706.0" cy="134.8" r="2.2" fill="#cc6a48" opacity="0.8"/><circle cx="698.1" cy="142.8" r="2.2" fill="#cc6a48" opacity="0.8"/><circle cx="686.9" cy="141.4" r="2.2" fill="#cc6a48" opacity="0.8"/><circle cx="684.6" cy="167.8" r="2.2" fill="#cc6a48" opacity="0.8"/><circle cx="690.8" cy="159.2" r="2.2" fill="#cc6a48" opacity="0.8"/><circle cx="702.0" cy="162.0" r="2.2" fill="#cc6a48" opacity="0.8"/><circle cx="565.2" cy="36.5" r="2.0" fill="#f23844"/><circle cx="597.7" cy="17.8" r="2.0" fill="#f23844"/><circle cx="578.6" cy="49.0" r="2.0" fill="#f23844"/><circle cx="565.2" cy="74.0" r="2.0" fill="#f23844"/><circle cx="582.7" cy="30.8" r="2.0" fill="#f23844"/><circle cx="611.1" cy="30.3" r="2.0" fill="#f23844"/><circle cx="597.7" cy="55.3" r="2.0" fill="#f23844"/><circle cx="630.2" cy="36.5" r="2.0" fill="#f23844"/><circle cx="662.7" cy="17.8" r="2.0" fill="#f23844"/><circle cx="578.6" cy="86.5" r="2.0" fill="#f23844"/><circle cx="565.2" cy="111.5" r="2.0" fill="#f23844"/><circle cx="582.7" cy="68.3" r="2.0" fill="#f23844"/><circle cx="611.1" cy="67.8" r="2.0" fill="#f23844"/><circle cx="597.7" cy="92.8" r="2.0" fill="#f23844"/><circle cx="615.2" cy="49.6" r="2.0" fill="#f23844"/><circle cx="643.6" cy="49.0" r="2.0" fill="#f23844"/><circle cx="630.2" cy="74.0" r="2.0" fill="#f23844"/><circle cx="647.7" cy="30.8" r="2.0" fill="#f23844"/><circle cx="676.1" cy="30.3" r="2.0" fill="#f23844"/><circle cx="662.7" cy="55.3" r="2.0" fill="#f23844"/><circle cx="695.2" cy="36.5" r="2.0" fill="#f23844"/><circle cx="578.6" cy="124.0" r="2.0" fill="#f23844"/><circle cx="565.2" cy="149.0" r="2.0" fill="#f23844"/><circle cx="582.7" cy="105.8" r="2.0" fill="#f23844"/><circle cx="611.1" cy="105.3" r="2.0" fill="#f23844"/><circle cx="597.7" cy="130.3" r="2.0" fill="#f23844"/><circle cx="615.2" cy="87.0" r="2.0" fill="#f23844"/><circle cx="643.6" cy="86.5" r="2.0" fill="#f23844"/><circle cx="630.2" cy="111.5" r="2.0" fill="#f23844"/><circle cx="647.7" cy="68.3" r="2.0" fill="#f23844"/><circle cx="676.1" cy="67.8" r="2.0" fill="#f23844"/><circle cx="662.7" cy="92.8" r="2.0" fill="#f23844"/><circle cx="680.2" cy="49.5" r="2.0" fill="#f23844"/><circle cx="708.6" cy="49.0" r="2.0" fill="#f23844"/><circle cx="695.2" cy="74.0" r="2.0" fill="#f23844"/><circle cx="578.6" cy="161.5" r="2.0" fill="#f23844"/><circle cx="582.7" cy="143.3" r="2.0" fill="#f23844"/><circle cx="611.1" cy="142.8" r="2.0" fill="#f23844"/><circle cx="597.7" cy="167.8" r="2.0" fill="#f23844"/><circle cx="615.2" cy="124.5" r="2.0" fill="#f23844"/><circle cx="643.6" cy="124.0" r="2.0" fill="#f23844"/><circle cx="630.2" cy="149.0" r="2.0" fill="#f23844"/><circle cx="647.7" cy="105.8" r="2.0" fill="#f23844"/><circle cx="676.1" cy="105.3" r="2.0" fill="#f23844"/><circle cx="662.7" cy="130.3" r="2.0" fill="#f23844"/><circle cx="680.2" cy="87.0" r="2.0" fill="#f23844"/><circle cx="708.6" cy="86.5" r="2.0" fill="#f23844"/><circle cx="695.2" cy="111.5" r="2.0" fill="#f23844"/><circle cx="615.2" cy="162.0" r="2.0" fill="#f23844"/><circle cx="643.6" cy="161.5" r="2.0" fill="#f23844"/><circle cx="647.7" cy="143.3" r="2.0" fill="#f23844"/><circle cx="676.1" cy="142.8" r="2.0" fill="#f23844"/><circle cx="662.7" cy="167.8" r="2.0" fill="#f23844"/><circle cx="680.2" cy="124.5" r="2.0" fill="#f23844"/><circle cx="708.6" cy="124.0" r="2.0" fill="#f23844"/><circle cx="695.2" cy="149.0" r="2.0" fill="#f23844"/><circle cx="680.2" cy="162.0" r="2.0" fill="#f23844"/><circle cx="708.6" cy="161.5" r="2.0" fill="#f23844"/><circle cx="554.1" cy="38.6" r="4.4" fill="url(#gOr)"/><circle cx="586.6" cy="19.9" r="4.4" fill="url(#gOr)"/><circle cx="554.1" cy="76.1" r="4.4" fill="url(#gOr)"/><circle cx="586.6" cy="57.4" r="4.4" fill="url(#gOr)"/><circle cx="619.1" cy="38.6" r="4.4" fill="url(#gOr)"/><circle cx="651.6" cy="19.9" r="4.4" fill="url(#gOr)"/><circle cx="554.1" cy="113.6" r="4.4" fill="url(#gOr)"/><circle cx="586.6" cy="94.8" r="4.4" fill="url(#gOr)"/><circle cx="619.1" cy="76.1" r="4.4" fill="url(#gOr)"/><circle cx="651.6" cy="57.4" r="4.4" fill="url(#gOr)"/><circle cx="684.1" cy="38.6" r="4.4" fill="url(#gOr)"/><circle cx="554.1" cy="151.1" r="4.4" fill="url(#gOr)"/><circle cx="586.6" cy="132.3" r="4.4" fill="url(#gOr)"/><circle cx="619.1" cy="113.6" r="4.4" fill="url(#gOr)"/><circle cx="651.6" cy="94.8" r="4.4" fill="url(#gOr)"/><circle cx="684.1" cy="76.1" r="4.4" fill="url(#gOr)"/><circle cx="619.1" cy="151.1" r="4.4" fill="url(#gOr)"/><circle cx="651.6" cy="132.3" r="4.4" fill="url(#gOr)"/><circle cx="684.1" cy="113.6" r="4.4" fill="url(#gOr)"/><circle cx="684.1" cy="151.1" r="4.4" fill="url(#gOr)"/><circle cx="575.6" cy="38.6" r="5.0" fill="url(#gPink)"/><circle cx="608.1" cy="19.9" r="5.0" fill="url(#gPink)"/><circle cx="575.6" cy="76.1" r="5.0" fill="url(#gPink)"/><circle cx="608.1" cy="57.4" r="5.0" fill="url(#gPink)"/><circle cx="640.6" cy="38.6" r="5.0" fill="url(#gPink)"/><circle cx="673.1" cy="19.9" r="5.0" fill="url(#gPink)"/><circle cx="575.6" cy="113.6" r="5.0" fill="url(#gPink)"/><circle cx="608.1" cy="94.8" r="5.0" fill="url(#gPink)"/><circle cx="640.6" cy="76.1" r="5.0" fill="url(#gPink)"/><circle cx="673.1" cy="57.4" r="5.0" fill="url(#gPink)"/><circle cx="705.6" cy="38.6" r="5.0" fill="url(#gPink)"/><circle cx="575.6" cy="151.1" r="5.0" fill="url(#gPink)"/><circle cx="608.1" cy="132.3" r="5.0" fill="url(#gPink)"/><circle cx="640.6" cy="113.6" r="5.0" fill="url(#gPink)"/><circle cx="673.1" cy="94.8" r="5.0" fill="url(#gPink)"/><circle cx="705.6" cy="76.1" r="5.0" fill="url(#gPink)"/><circle cx="640.6" cy="151.1" r="5.0" fill="url(#gPink)"/><circle cx="673.1" cy="132.3" r="5.0" fill="url(#gPink)"/><circle cx="705.6" cy="113.6" r="5.0" fill="url(#gPink)"/><circle cx="705.6" cy="151.1" r="5.0" fill="url(#gPink)"/><circle cx="564.8" cy="19.9" r="4.6" fill="url(#gA)"/><circle cx="564.8" cy="57.4" r="4.6" fill="url(#gA)"/><circle cx="597.3" cy="38.6" r="4.6" fill="url(#gA)"/><circle cx="629.8" cy="19.9" r="4.6" fill="url(#gA)"/><circle cx="564.8" cy="94.8" r="4.6" fill="url(#gA)"/><circle cx="597.3" cy="76.1" r="4.6" fill="url(#gA)"/><circle cx="629.8" cy="57.4" r="4.6" fill="url(#gA)"/><circle cx="662.3" cy="38.6" r="4.6" fill="url(#gA)"/><circle cx="694.8" cy="19.9" r="4.6" fill="url(#gA)"/><circle cx="564.8" cy="132.3" r="4.6" fill="url(#gA)"/><circle cx="597.3" cy="113.6" r="4.6" fill="url(#gA)"/><circle cx="629.8" cy="94.8" r="4.6" fill="url(#gA)"/><circle cx="662.3" cy="76.1" r="4.6" fill="url(#gA)"/><circle cx="694.8" cy="57.3" r="4.6" fill="url(#gA)"/><circle cx="597.3" cy="151.1" r="4.6" fill="url(#gA)"/><circle cx="629.8" cy="132.3" r="4.6" fill="url(#gA)"/><circle cx="662.3" cy="113.6" r="4.6" fill="url(#gA)"/><circle cx="694.8" cy="94.8" r="4.6" fill="url(#gA)"/><circle cx="662.3" cy="151.1" r="4.6" fill="url(#gA)"/><circle cx="694.8" cy="132.3" r="4.6" fill="url(#gA)"/></g><path d="M95.1 19.5L94.6 78.0" stroke="#ff1010" stroke-width="1.2" opacity="0.75"/><path d="M94.5 85.0L91.6 78.0L97.6 78.0Z" fill="#ff1010"/><circle cx="104.5" cy="92.2" r="9.9" fill="none" stroke="#ee2a1a" stroke-width="1.3" stroke-dasharray="1.2 1.1"/><path d="M241.6 20.5L254.2 95.9" stroke="#ff1010" stroke-width="1.2" opacity="0.62"/><path d="M255.4 102.8L251.3 96.4L257.2 95.4Z" fill="#ff1010"/><path d="M251.2 20.5L259.8 54.0" stroke="#ff1010" stroke-width="1.2" opacity="0.62"/><path d="M261.5 60.8L256.9 54.8L262.7 53.3Z" fill="#ff1010"/><path d="M282.0 24.0L293.4 67.4" stroke="#ff1010" stroke-width="1.2" opacity="0.62"/><path d="M295.2 74.2L290.5 68.2L296.3 66.7Z" fill="#ff1010"/><circle cx="262.3" cy="69.3" r="10" fill="none" stroke="#e03020" stroke-width="1.3" stroke-dasharray="1.2 1.1"/><circle cx="261.6" cy="110.8" r="10" fill="none" stroke="#e03020" stroke-width="1.3" stroke-dasharray="1.2 1.1"/><circle cx="297.6" cy="89.6" r="10" fill="none" stroke="#e03020" stroke-width="1.3" stroke-dasharray="1.2 1.1"/><path d="M428.4 21.5L431.5 78.5" stroke="#ffffff" stroke-width="1.2" opacity="0.85"/><path d="M431.9 85.5L428.5 78.7L434.5 78.3Z" fill="#ffffff"/><path d="M439.4 21.5L463.3 98.9" stroke="#ffffff" stroke-width="1.2" opacity="0.85"/><path d="M465.4 105.6L460.5 99.8L466.2 98.0Z" fill="#ffffff"/><path d="M468.8 21.5L472.9 53.9" stroke="#ffffff" stroke-width="1.2" opacity="0.85"/><path d="M473.8 60.8L469.9 54.2L475.9 53.5Z" fill="#ffffff"/><circle cx="438.1" cy="91.8" r="10" fill="none" stroke="#ffffff" stroke-width="1.3" stroke-dasharray="1.2 1.1"/><circle cx="474.6" cy="71.3" r="10" fill="none" stroke="#ffffff" stroke-width="1.3" stroke-dasharray="1.2 1.1"/><circle cx="474.6" cy="113.2" r="10" fill="none" stroke="#ffffff" stroke-width="1.3" stroke-dasharray="1.2 1.1"/><path d="M615.8 21.5L621.1 78.6" stroke="#ffffff" stroke-width="1.2" opacity="0.85"/><path d="M621.7 85.6L618.1 78.9L624.0 78.4Z" fill="#ffffff"/><circle cx="630.2" cy="95.2" r="10" fill="none" stroke="#ffffff" stroke-width="1.3" stroke-dasharray="1.2 1.1"/><text x="49.10" y="16.60" font-size="18.8" font-family="'Liberation Sans', sans-serif" fill="#f00" textLength="116.50" lengthAdjust="spacingAndGlyphs">1st nearest Bi</text><text x="212.00" y="15.90" font-size="18.8" font-family="'Liberation Sans', sans-serif" fill="#f00" textLength="122.80" lengthAdjust="spacingAndGlyphs">2nd nearest Bi</text><text x="399.10" y="17.70" font-size="18.8" font-family="'Liberation Sans', sans-serif" fill="#f00" textLength="119.10" lengthAdjust="spacingAndGlyphs">3rd nearest Bi</text><text x="566.30" y="17.20" font-size="18.8" font-family="'Liberation Sans', sans-serif" fill="#f00" textLength="120.10" lengthAdjust="spacingAndGlyphs">4th nearest Bi</text><rect x="50.7" y="127" width="110.3" height="31.0" fill="#fff"/><text x="60.50" y="149.00" font-size="18.3" font-family="'Liberation Sans', sans-serif" font-weight="bold" fill="#b8860b" textLength="89.30" lengthAdjust="spacingAndGlyphs">Z = 3.07 Å</text><rect x="214.8" y="127.3" width="122.6" height="31.3" fill="#fff"/><text x="227.70" y="149.30" font-size="18.3" font-family="'Liberation Sans', sans-serif" font-weight="bold" fill="#4e7a2c" textLength="95.50" lengthAdjust="spacingAndGlyphs">Z = -0.76 Å</text><rect x="404.7" y="127.7" width="119.3" height="30.9" fill="#fff"/><text x="419.10" y="149.90" font-size="18.3" font-family="'Liberation Sans', sans-serif" font-weight="bold" fill="#d026d2" textLength="90.00" lengthAdjust="spacingAndGlyphs">Z = 1.56 Å</text><rect x="590" y="129.3" width="107.4" height="31.6" fill="#fff"/><text x="598.30" y="151.30" font-size="18.3" font-family="'Liberation Sans', sans-serif" font-weight="bold" fill="#c0561a" textLength="89.10" lengthAdjust="spacingAndGlyphs">Z = 3.87 Å</text><text x="99.10" y="177.50" font-size="11.8" font-family="'Liberation Sans', sans-serif">(a)</text><text x="272.10" y="177.50" font-size="11.8" font-family="'Liberation Sans', sans-serif">(b)</text><text x="459.60" y="174.60" font-size="11.8" font-family="'Liberation Sans', sans-serif">(c)</text><text x="638.90" y="176.40" font-size="11.8" font-family="'Liberation Sans', sans-serif">(d)</text><rect x="49.6" y="209.5" width="111.0" height="111.0" fill="#fff" stroke="#555" stroke-width="1"/><clipPath id="pce"><rect x="50.1" y="210.0" width="110.0" height="110.0"/></clipPath><g clip-path="url(#pce)"><path fill="#00e0ff" d="M105.5 236.2a1.85 0.59 -106 1 0 -1.02 -3.56a1.85 0.59 -106 1 0 1.02 3.56zM105.4 233.4a1.85 0.65 -106 1 0 -1.02 -3.56a1.85 0.65 -106 1 0 1.02 3.56zM104.0 231.0a1.85 0.71 -106 1 0 -1.02 -3.56a1.85 0.71 -106 1 0 1.02 3.56zM103.9 228.2a1.85 0.77 -106 1 0 -1.02 -3.56a1.85 0.77 -106 1 0 1.02 3.56zM102.5 225.9a1.85 0.62 -106 1 0 -1.02 -3.56a1.85 0.62 -106 1 0 1.02 3.56zM102.4 223.1a1.85 0.68 -106 1 0 -1.02 -3.56a1.85 0.68 -106 1 0 1.02 3.56zM101.0 220.7a1.85 0.74 -106 1 0 -1.02 -3.56a1.85 0.74 -106 1 0 1.02 3.56zM100.9 217.9a1.85 0.59 -106 1 0 -1.02 -3.56a1.85 0.59 -106 1 0 1.02 3.56zM99.5 215.5a1.85 0.65 -106 1 0 -1.02 -3.56a1.85 0.65 -106 1 0 1.02 3.56zM99.5 212.7a1.85 0.71 -106 1 0 -1.02 -3.56a1.85 0.71 -106 1 0 1.02 3.56zM79.7 251.3a1.85 0.59 -145 1 0 -3.03 -2.14a1.85 0.59 -145 1 0 3.03 2.14zM77.9 249.1a1.85 0.65 -145 1 0 -3.03 -2.14a1.85 0.65 -145 1 0 3.03 2.14zM75.3 248.2a1.85 0.71 -145 1 0 -3.03 -2.14a1.85 0.71 -145 1 0 3.03 2.14zM73.5 246.0a1.85 0.77 -145 1 0 -3.03 -2.14a1.85 0.77 -145 1 0 3.03 2.14zM70.9 245.1a1.85 0.62 -145 1 0 -3.03 -2.14a1.85 0.62 -145 1 0 3.03 2.14zM69.1 242.9a1.85 0.68 -145 1 0 -3.03 -2.14a1.85 0.68 -145 1 0 3.03 2.14zM66.5 242.0a1.85 0.74 -145 1 0 -3.03 -2.14a1.85 0.74 -145 1 0 3.03 2.14zM64.7 239.8a1.85 0.59 -145 1 0 -3.03 -2.14a1.85 0.59 -145 1 0 3.03 2.14zM62.1 238.8a1.85 0.65 -145 1 0 -3.03 -2.14a1.85 0.65 -145 1 0 3.03 2.14zM60.3 236.7a1.85 0.71 -145 1 0 -3.03 -2.14a1.85 0.71 -145 1 0 3.03 2.14zM57.7 235.7a1.85 0.77 -145 1 0 -3.03 -2.14a1.85 0.77 -145 1 0 3.03 2.14zM56.0 233.6a1.85 0.62 -145 1 0 -3.03 -2.14a1.85 0.62 -145 1 0 3.03 2.14zM53.4 232.6a1.85 0.68 -145 1 0 -3.03 -2.14a1.85 0.68 -145 1 0 3.03 2.14zM129.2 250.5a1.85 0.59 -30 1 0 3.22 -1.84a1.85 0.59 -30 1 0 -3.22 1.84zM131.9 249.8a1.85 0.65 -30 1 0 3.22 -1.84a1.85 0.65 -30 1 0 -3.22 1.84zM133.8 247.9a1.85 0.71 -30 1 0 3.22 -1.84a1.85 0.71 -30 1 0 -3.22 1.84zM136.4 247.2a1.85 0.77 -30 1 0 3.22 -1.84a1.85 0.77 -30 1 0 -3.22 1.84zM138.3 245.3a1.85 0.62 -30 1 0 3.22 -1.84a1.85 0.62 -30 1 0 -3.22 1.84zM141.0 244.6a1.85 0.68 -30 1 0 3.22 -1.84a1.85 0.68 -30 1 0 -3.22 1.84zM142.9 242.7a1.85 0.74 -30 1 0 3.22 -1.84a1.85 0.74 -30 1 0 -3.22 1.84zM145.5 242.0a1.85 0.59 -30 1 0 3.22 -1.84a1.85 0.59 -30 1 0 -3.22 1.84zM147.4 240.1a1.85 0.65 -30 1 0 3.22 -1.84a1.85 0.65 -30 1 0 -3.22 1.84zM150.1 239.4a1.85 0.71 -30 1 0 3.22 -1.84a1.85 0.71 -30 1 0 -3.22 1.84zM152.0 237.5a1.85 0.77 -30 1 0 3.22 -1.84a1.85 0.77 -30 1 0 -3.22 1.84zM154.6 236.8a1.85 0.62 -30 1 0 3.22 -1.84a1.85 0.62 -30 1 0 -3.22 1.84zM156.6 234.9a1.85 0.68 -30 1 0 3.22 -1.84a1.85 0.68 -30 1 0 -3.22 1.84zM106.1 294.2a1.85 0.59 106 1 0 -1.02 3.56a1.85 0.59 106 1 0 1.02 -3.56zM104.7 296.6a1.85 0.65 106 1 0 -1.02 3.56a1.85 0.65 106 1 0 1.02 -3.56zM104.7 299.4a1.85 0.71 106 1 0 -1.02 3.56a1.85 0.71 106 1 0 1.02 -3.56zM103.2 301.8a1.85 0.77 106 1 0 -1.02 3.56a1.85 0.77 106 1 0 1.02 -3.56zM103.2 304.5a1.85 0.62 106 1 0 -1.02 3.56a1.85 0.62 106 1 0 1.02 -3.56zM101.8 306.9a1.85 0.68 106 1 0 -1.02 3.56a1.85 0.68 106 1 0 1.02 -3.56zM101.7 309.7a1.85 0.74 106 1 0 -1.02 3.56a1.85 0.74 106 1 0 1.02 -3.56zM100.3 312.1a1.85 0.59 106 1 0 -1.02 3.56a1.85 0.59 106 1 0 1.02 -3.56zM100.2 314.9a1.85 0.65 106 1 0 -1.02 3.56a1.85 0.65 106 1 0 1.02 -3.56zM98.8 317.3a1.85 0.71 106 1 0 -1.02 3.56a1.85 0.71 106 1 0 1.02 -3.56zM80.1 279.5a1.85 0.59 145 1 0 -3.03 2.14a1.85 0.59 145 1 0 3.03 -2.14zM77.5 280.5a1.85 0.65 145 1 0 -3.03 2.14a1.85 0.65 145 1 0 3.03 -2.14zM75.7 282.6a1.85 0.71 145 1 0 -3.03 2.14a1.85 0.71 145 1 0 3.03 -2.14zM73.1 283.6a1.85 0.77 145 1 0 -3.03 2.14a1.85 0.77 145 1 0 3.03 -2.14zM71.3 285.7a1.85 0.62 145 1 0 -3.03 2.14a1.85 0.62 145 1 0 3.03 -2.14zM68.7 286.7a1.85 0.68 145 1 0 -3.03 2.14a1.85 0.68 145 1 0 3.03 -2.14zM66.9 288.8a1.85 0.74 145 1 0 -3.03 2.14a1.85 0.74 145 1 0 3.03 -2.14zM64.3 289.8a1.85 0.59 145 1 0 -3.03 2.14a1.85 0.59 145 1 0 3.03 -2.14zM62.5 291.9a1.85 0.65 145 1 0 -3.03 2.14a1.85 0.65 145 1 0 3.03 -2.14zM59.9 292.9a1.85 0.71 145 1 0 -3.03 2.14a1.85 0.71 145 1 0 3.03 -2.14zM58.2 295.0a1.85 0.77 145 1 0 -3.03 2.14a1.85 0.77 145 1 0 3.03 -2.14zM55.6 296.0a1.85 0.62 145 1 0 -3.03 2.14a1.85 0.62 145 1 0 3.03 -2.14zM53.8 298.1a1.85 0.68 145 1 0 -3.03 2.14a1.85 0.68 145 1 0 3.03 -2.14zM129.6 279.1a1.85 0.59 30 1 0 3.22 1.84a1.85 0.59 30 1 0 -3.22 -1.84zM131.5 281.0a1.85 0.65 30 1 0 3.22 1.84a1.85 0.65 30 1 0 -3.22 -1.84zM134.1 281.7a1.85 0.71 30 1 0 3.22 1.84a1.85 0.71 30 1 0 -3.22 -1.84zM136.1 283.6a1.85 0.77 30 1 0 3.22 1.84a1.85 0.77 30 1 0 -3.22 -1.84zM138.7 284.3a1.85 0.62 30 1 0 3.22 1.84a1.85 0.62 30 1 0 -3.22 -1.84zM140.6 286.2a1.85 0.68 30 1 0 3.22 1.84a1.85 0.68 30 1 0 -3.22 -1.84zM143.2 286.9a1.85 0.74 30 1 0 3.22 1.84a1.85 0.74 30 1 0 -3.22 -1.84zM145.2 288.8a1.85 0.59 30 1 0 3.22 1.84a1.85 0.59 30 1 0 -3.22 -1.84zM147.8 289.5a1.85 0.65 30 1 0 3.22 1.84a1.85 0.65 30 1 0 -3.22 -1.84zM149.7 291.4a1.85 0.71 30 1 0 3.22 1.84a1.85 0.71 30 1 0 -3.22 -1.84zM152.4 292.0a1.85 0.77 30 1 0 3.22 1.84a1.85 0.77 30 1 0 -3.22 -1.84zM154.3 294.0a1.85 0.62 30 1 0 3.22 1.84a1.85 0.62 30 1 0 -3.22 -1.84zM156.9 294.6a1.85 0.68 30 1 0 3.22 1.84a1.85 0.68 30 1 0 -3.22 -1.84zM102.8 234.3a2.48 2.20 0 1 0 4.96 0.00a2.48 2.20 0 1 0 -4.96 -0.00zM75.9 249.9a2.48 2.20 0 1 0 4.96 0.00a2.48 2.20 0 1 0 -4.96 -0.00zM128.5 249.9a2.48 2.20 0 1 0 4.96 0.00a2.48 2.20 0 1 0 -4.96 -0.00zM75.1 219.2a3.30 1.65 -30 1 0 5.72 -3.30a3.30 1.65 -30 1 0 -5.72 3.30zM127.9 219.9a2.48 1.93 30 1 0 4.29 2.48a2.48 1.93 30 1 0 -4.29 -2.48zM158.3 265.1a1.65 2.75 0 1 0 3.30 0.00a1.65 2.75 0 1 0 -3.30 -0.00zM51.5 265.1a2.20 3.03 0 1 0 4.41 0.00a2.20 3.03 0 1 0 -4.41 -0.00zM103.2 265.1a1.93 1.93 0 1 0 3.85 0.00a1.93 1.93 0 1 0 -3.85 -0.00zM100.2 231.5a2.85 2.22 0 1 0 5.70 0.00a2.85 2.22 0 1 0 -5.70 -0.00zM98.9 227.0a2.48 1.65 30 1 0 4.29 2.48a2.48 1.65 30 1 0 -4.29 -2.48zM101.7 226.7a2.48 1.65 -30 1 0 4.29 -2.48a2.48 1.65 -30 1 0 -4.29 2.48zM98.9 221.3a2.53 1.90 30 1 0 4.39 2.53a2.53 1.90 30 1 0 -4.39 -2.53zM100.6 220.5a2.20 1.65 -20 1 0 4.14 -1.51a2.20 1.65 -20 1 0 -4.14 1.51zM97.5 216.0a2.53 1.90 20 1 0 4.76 1.73a2.53 1.90 20 1 0 -4.76 -1.73zM97.1 213.7a1.90 1.90 0 1 0 3.80 0.00a1.90 1.90 0 1 0 -3.80 -0.00zM96.6 210.6a1.58 1.90 0 1 0 3.17 0.00a1.58 1.90 0 1 0 -3.17 -0.00zM105.5 233.5a1.58 1.27 0 1 0 3.17 0.00a1.58 1.27 0 1 0 -3.17 -0.00zM73.6 246.1a2.53 1.90 40 1 0 3.88 3.26a2.53 1.90 40 1 0 -3.88 -3.26zM71.7 243.6a2.20 1.65 50 1 0 2.83 3.37a2.20 1.65 50 1 0 -2.83 -3.37zM68.8 241.7a2.22 1.90 30 1 0 3.84 2.22a2.22 1.90 30 1 0 -3.84 -2.22zM67.4 238.9a2.20 1.65 50 1 0 2.83 3.37a2.20 1.65 50 1 0 -2.83 -3.37zM64.5 237.8a2.22 1.58 20 1 0 4.17 1.52a2.22 1.58 20 1 0 -4.17 -1.52zM62.3 237.6a1.90 1.58 0 1 0 3.80 0.00a1.90 1.58 0 1 0 -3.80 -0.00zM59.0 237.0a1.58 1.27 0 1 0 3.17 0.00a1.58 1.27 0 1 0 -3.17 -0.00zM54.9 235.5a2.22 1.90 0 1 0 4.43 0.00a2.22 1.90 0 1 0 -4.43 -0.00zM50.9 233.7a3.58 3.03 0 1 0 7.16 0.00a3.58 3.03 0 1 0 -7.16 -0.00zM49.3 231.1a2.75 2.48 0 1 0 5.51 0.00a2.75 2.48 0 1 0 -5.51 -0.00zM131.9 249.0a2.53 1.90 -20 1 0 4.76 -1.73a2.53 1.90 -20 1 0 -4.76 1.73zM135.2 247.3a2.48 1.65 -20 1 0 4.66 -1.70a2.48 1.65 -20 1 0 -4.66 1.70zM138.6 245.7a2.53 1.90 0 1 0 5.07 0.00a2.53 1.90 0 1 0 -5.07 -0.00zM142.4 246.1a2.48 1.65 -20 1 0 4.66 -1.70a2.48 1.65 -20 1 0 -4.66 1.70zM146.1 244.0a2.53 1.90 0 1 0 5.07 0.00a2.53 1.90 0 1 0 -5.07 -0.00zM150.4 243.4a2.22 1.90 -40 1 0 3.40 -2.85a2.22 1.90 -40 1 0 -3.40 2.85zM153.2 240.2a2.22 1.90 -40 1 0 3.40 -2.85a2.22 1.90 -40 1 0 -3.40 2.85zM155.4 237.5a3.03 2.48 -40 1 0 4.64 -3.89a3.03 2.48 -40 1 0 -4.64 3.89zM69.4 214.2a2.22 0.95 -30 1 0 3.84 -2.22a2.22 0.95 -30 1 0 -3.84 2.22zM79.5 213.6a2.22 0.95 -30 1 0 3.84 -2.22a2.22 0.95 -30 1 0 -3.84 2.22zM88.9 212.0a1.90 0.95 -30 1 0 3.29 -1.90a1.90 0.95 -30 1 0 -3.29 1.90zM72.0 218.8a2.22 0.95 -30 1 0 3.84 -2.22a2.22 0.95 -30 1 0 -3.84 2.22zM83.3 217.8a2.53 1.27 -30 1 0 4.39 -2.53a2.53 1.27 -30 1 0 -4.39 2.53zM73.4 223.7a2.22 0.95 -30 1 0 3.84 -2.22a2.22 0.95 -30 1 0 -3.84 2.22zM80.1 225.3a2.22 0.95 -30 1 0 3.84 -2.22a2.22 0.95 -30 1 0 -3.84 2.22zM87.9 222.3a1.90 0.95 -30 1 0 3.29 -1.90a1.90 0.95 -30 1 0 -3.29 1.90zM76.7 228.4a1.90 0.95 -30 1 0 3.29 -1.90a1.90 0.95 -30 1 0 -3.29 1.90zM82.0 230.4a1.90 0.95 -30 1 0 3.29 -1.90a1.90 0.95 -30 1 0 -3.29 1.90zM86.0 228.4a1.90 0.95 -30 1 0 3.29 -1.90a1.90 0.95 -30 1 0 -3.29 1.90zM89.3 233.3a1.27 0.95 0 1 0 2.53 0.00a1.27 0.95 0 1 0 -2.53 -0.00zM84.2 233.3a1.27 0.95 0 1 0 2.53 0.00a1.27 0.95 0 1 0 -2.53 -0.00zM92.9 230.3a1.27 0.95 0 1 0 2.53 0.00a1.27 0.95 0 1 0 -2.53 -0.00zM66.6 213.0a1.90 0.95 -30 1 0 3.29 -1.90a1.90 0.95 -30 1 0 -3.29 1.90zM74.7 212.6a1.90 0.95 -30 1 0 3.29 -1.90a1.90 0.95 -30 1 0 -3.29 1.90zM78.7 221.1a1.90 0.95 -30 1 0 3.29 -1.90a1.90 0.95 -30 1 0 -3.29 1.90zM91.3 217.5a1.90 0.95 -30 1 0 3.29 -1.90a1.90 0.95 -30 1 0 -3.29 1.90zM70.9 227.0a1.58 0.95 -30 1 0 2.74 -1.58a1.58 0.95 -30 1 0 -2.74 1.58zM123.3 217.6a1.90 0.95 30 1 0 3.29 1.90a1.90 0.95 30 1 0 -3.29 -1.90zM129.8 215.1a1.90 0.95 30 1 0 3.29 1.90a1.90 0.95 30 1 0 -3.29 -1.90zM121.3 223.2a1.90 0.95 30 1 0 3.29 1.90a1.90 0.95 30 1 0 -3.29 -1.90zM126.5 227.3a1.90 0.95 30 1 0 3.29 1.90a1.90 0.95 30 1 0 -3.29 -1.90zM131.4 225.3a1.90 0.95 30 1 0 3.29 1.90a1.90 0.95 30 1 0 -3.29 -1.90zM136.2 221.5a2.22 1.27 30 1 0 3.84 2.22a2.22 1.27 30 1 0 -3.84 -2.22zM133.4 231.8a1.90 0.95 30 1 0 3.29 1.90a1.90 0.95 30 1 0 -3.29 -1.90zM139.5 229.3a1.90 0.95 30 1 0 3.29 1.90a1.90 0.95 30 1 0 -3.29 -1.90zM117.6 231.3a1.27 0.95 0 1 0 2.53 0.00a1.27 0.95 0 1 0 -2.53 -0.00zM143.9 219.2a1.90 0.95 30 1 0 3.29 1.90a1.90 0.95 30 1 0 -3.29 -1.90zM150.0 217.2a1.90 0.95 30 1 0 3.29 1.90a1.90 0.95 30 1 0 -3.29 -1.90zM133.4 211.1a1.90 0.95 30 1 0 3.29 1.90a1.90 0.95 30 1 0 -3.29 -1.90zM141.5 213.1a1.90 0.95 30 1 0 3.29 1.90a1.90 0.95 30 1 0 -3.29 -1.90zM151.9 225.4a1.58 0.95 30 1 0 2.74 1.58a1.58 0.95 30 1 0 -2.74 -1.58zM116.5 219.4a1.58 0.95 30 1 0 2.74 1.58a1.58 0.95 30 1 0 -2.74 -1.58zM147.9 231.5a1.58 0.95 30 1 0 2.74 1.58a1.58 0.95 30 1 0 -2.74 -1.58zM139.9 262.3a1.27 0.95 0 1 0 2.53 0.00a1.27 0.95 0 1 0 -2.53 -0.00zM143.5 265.1a1.27 0.95 0 1 0 2.53 0.00a1.27 0.95 0 1 0 -2.53 -0.00zM147.0 262.3a1.27 0.95 0 1 0 2.53 0.00a1.27 0.95 0 1 0 -2.53 -0.00zM150.0 265.1a1.27 0.95 0 1 0 2.53 0.00a1.27 0.95 0 1 0 -2.53 -0.00zM153.0 262.3a1.27 0.95 0 1 0 2.53 0.00a1.27 0.95 0 1 0 -2.53 -0.00zM156.1 265.1a1.27 0.95 0 1 0 2.53 0.00a1.27 0.95 0 1 0 -2.53 -0.00zM141.9 258.6a1.27 0.95 0 1 0 2.53 0.00a1.27 0.95 0 1 0 -2.53 -0.00zM148.0 258.6a1.27 0.95 0 1 0 2.53 0.00a1.27 0.95 0 1 0 -2.53 -0.00zM154.0 258.6a1.27 0.95 0 1 0 2.53 0.00a1.27 0.95 0 1 0 -2.53 -0.00zM60.7 259.6a1.90 1.27 0 1 0 3.80 0.00a1.90 1.27 0 1 0 -3.80 -0.00zM66.7 265.1a1.58 1.27 0 1 0 3.17 0.00a1.58 1.27 0 1 0 -3.17 -0.00zM57.9 265.1a1.27 1.27 0 1 0 2.53 0.00a1.27 1.27 0 1 0 -2.53 -0.00zM71.0 261.0a1.27 0.95 0 1 0 2.53 0.00a1.27 0.95 0 1 0 -2.53 -0.00zM88.2 256.6a1.27 0.95 0 1 0 2.53 0.00a1.27 0.95 0 1 0 -2.53 -0.00zM118.6 256.6a1.27 0.95 0 1 0 2.53 0.00a1.27 0.95 0 1 0 -2.53 -0.00zM82.9 265.1a1.58 1.58 0 1 0 3.17 0.00a1.58 1.58 0 1 0 -3.17 -0.00zM113.5 245.5a1.27 0.95 0 1 0 2.53 0.00a1.27 0.95 0 1 0 -2.53 -0.00zM94.3 244.0a1.27 0.95 0 1 0 2.53 0.00a1.27 0.95 0 1 0 -2.53 -0.00zM123.7 265.1a1.27 0.95 0 1 0 2.53 0.00a1.27 0.95 0 1 0 -2.53 -0.00zM107.5 241.4a1.27 0.95 0 1 0 2.53 0.00a1.27 0.95 0 1 0 -2.53 -0.00zM102.8 295.9a2.48 2.20 0 1 0 4.96 0.00a2.48 2.20 0 1 0 -4.96 -0.00zM75.9 280.3a2.48 2.20 0 1 0 4.96 0.00a2.48 2.20 0 1 0 -4.96 -0.00zM128.5 280.3a2.48 2.20 0 1 0 4.96 0.00a2.48 2.20 0 1 0 -4.96 -0.00zM75.1 311.0a3.30 1.65 30 1 0 5.72 3.30a3.30 1.65 30 1 0 -5.72 -3.30zM127.9 310.3a2.48 1.93 -30 1 0 4.29 -2.48a2.48 1.93 -30 1 0 -4.29 2.48zM100.2 298.7a2.85 2.22 0 1 0 5.70 0.00a2.85 2.22 0 1 0 -5.70 -0.00zM98.9 303.2a2.48 1.65 -30 1 0 4.29 -2.48a2.48 1.65 -30 1 0 -4.29 2.48zM101.7 303.5a2.48 1.65 30 1 0 4.29 2.48a2.48 1.65 30 1 0 -4.29 -2.48zM98.9 308.9a2.53 1.90 -30 1 0 4.39 -2.53a2.53 1.90 -30 1 0 -4.39 2.53zM100.6 309.7a2.20 1.65 20 1 0 4.14 1.51a2.20 1.65 20 1 0 -4.14 -1.51zM97.5 314.1a2.53 1.90 -20 1 0 4.76 -1.73a2.53 1.90 -20 1 0 -4.76 1.73zM97.1 316.5a1.90 1.90 0 1 0 3.80 0.00a1.90 1.90 0 1 0 -3.80 -0.00zM96.6 319.6a1.58 1.90 0 1 0 3.17 0.00a1.58 1.90 0 1 0 -3.17 -0.00zM105.5 296.7a1.58 1.27 0 1 0 3.17 0.00a1.58 1.27 0 1 0 -3.17 -0.00zM73.6 284.1a2.53 1.90 -40 1 0 3.88 -3.26a2.53 1.90 -40 1 0 -3.88 3.26zM71.7 286.6a2.20 1.65 -50 1 0 2.83 -3.37a2.20 1.65 -50 1 0 -2.83 3.37zM68.8 288.5a2.22 1.90 -30 1 0 3.84 -2.22a2.22 1.90 -30 1 0 -3.84 2.22zM67.4 291.3a2.20 1.65 -50 1 0 2.83 -3.37a2.20 1.65 -50 1 0 -2.83 3.37zM64.5 292.4a2.22 1.58 -20 1 0 4.17 -1.52a2.22 1.58 -20 1 0 -4.17 1.52zM62.3 292.6a1.90 1.58 0 1 0 3.80 0.00a1.90 1.58 0 1 0 -3.80 -0.00zM59.0 293.2a1.58 1.27 0 1 0 3.17 0.00a1.58 1.27 0 1 0 -3.17 -0.00zM54.9 294.7a2.22 1.90 0 1 0 4.43 0.00a2.22 1.90 0 1 0 -4.43 -0.00zM50.9 296.5a3.58 3.03 0 1 0 7.16 0.00a3.58 3.03 0 1 0 -7.16 -0.00zM49.3 299.1a2.75 2.48 0 1 0 5.51 0.00a2.75 2.48 0 1 0 -5.51 -0.00zM131.9 281.2a2.53 1.90 20 1 0 4.76 1.73a2.53 1.90 20 1 0 -4.76 -1.73zM135.2 282.9a2.48 1.65 20 1 0 4.66 1.70a2.48 1.65 20 1 0 -4.66 -1.70zM138.6 284.5a2.53 1.90 0 1 0 5.07 0.00a2.53 1.90 0 1 0 -5.07 -0.00zM142.4 284.1a2.48 1.65 20 1 0 4.66 1.70a2.48 1.65 20 1 0 -4.66 -1.70zM146.1 286.2a2.53 1.90 0 1 0 5.07 0.00a2.53 1.90 0 1 0 -5.07 -0.00zM150.4 286.8a2.22 1.90 40 1 0 3.40 2.85a2.22 1.90 40 1 0 -3.40 -2.85zM153.2 290.0a2.22 1.90 40 1 0 3.40 2.85a2.22 1.90 40 1 0 -3.40 -2.85zM155.4 292.7a3.03 2.48 40 1 0 4.64 3.89a3.03 2.48 40 1 0 -4.64 -3.89zM69.4 316.0a2.22 0.95 30 1 0 3.84 2.22a2.22 0.95 30 1 0 -3.84 -2.22zM79.5 316.6a2.22 0.95 30 1 0 3.84 2.22a2.22 0.95 30 1 0 -3.84 -2.22zM88.9 318.2a1.90 0.95 30 1 0 3.29 1.90a1.90 0.95 30 1 0 -3.29 -1.90zM72.0 311.4a2.22 0.95 30 1 0 3.84 2.22a2.22 0.95 30 1 0 -3.84 -2.22zM83.3 312.4a2.53 1.27 30 1 0 4.39 2.53a2.53 1.27 30 1 0 -4.39 -2.53zM73.4 306.5a2.22 0.95 30 1 0 3.84 2.22a2.22 0.95 30 1 0 -3.84 -2.22zM80.1 304.9a2.22 0.95 30 1 0 3.84 2.22a2.22 0.95 30 1 0 -3.84 -2.22zM87.9 307.9a1.90 0.95 30 1 0 3.29 1.90a1.90 0.95 30 1 0 -3.29 -1.90zM76.7 301.8a1.90 0.95 30 1 0 3.29 1.90a1.90 0.95 30 1 0 -3.29 -1.90zM82.0 299.8a1.90 0.95 30 1 0 3.29 1.90a1.90 0.95 30 1 0 -3.29 -1.90zM86.0 301.8a1.90 0.95 30 1 0 3.29 1.90a1.90 0.95 30 1 0 -3.29 -1.90zM89.3 296.9a1.27 0.95 0 1 0 2.53 0.00a1.27 0.95 0 1 0 -2.53 -0.00zM84.2 296.9a1.27 0.95 0 1 0 2.53 0.00a1.27 0.95 0 1 0 -2.53 -0.00zM92.9 299.9a1.27 0.95 0 1 0 2.53 0.00a1.27 0.95 0 1 0 -2.53 -0.00zM66.6 317.2a1.90 0.95 30 1 0 3.29 1.90a1.90 0.95 30 1 0 -3.29 -1.90zM74.7 317.6a1.90 0.95 30 1 0 3.29 1.90a1.90 0.95 30 1 0 -3.29 -1.90zM78.7 309.1a1.90 0.95 30 1 0 3.29 1.90a1.90 0.95 30 1 0 -3.29 -1.90zM91.3 312.7a1.90 0.95 30 1 0 3.29 1.90a1.90 0.95 30 1 0 -3.29 -1.90zM70.9 303.2a1.58 0.95 30 1 0 2.74 1.58a1.58 0.95 30 1 0 -2.74 -1.58zM123.3 312.6a1.90 0.95 -30 1 0 3.29 -1.90a1.90 0.95 -30 1 0 -3.29 1.90zM129.8 315.0a1.90 0.95 -30 1 0 3.29 -1.90a1.90 0.95 -30 1 0 -3.29 1.90zM121.3 306.9a1.90 0.95 -30 1 0 3.29 -1.90a1.90 0.95 -30 1 0 -3.29 1.90zM126.5 302.9a1.90 0.95 -30 1 0 3.29 -1.90a1.90 0.95 -30 1 0 -3.29 1.90zM131.4 304.9a1.90 0.95 -30 1 0 3.29 -1.90a1.90 0.95 -30 1 0 -3.29 1.90zM136.2 308.7a2.22 1.27 -30 1 0 3.84 -2.22a2.22 1.27 -30 1 0 -3.84 2.22zM133.4 298.4a1.90 0.95 -30 1 0 3.29 -1.90a1.90 0.95 -30 1 0 -3.29 1.90zM139.5 300.9a1.90 0.95 -30 1 0 3.29 -1.90a1.90 0.95 -30 1 0 -3.29 1.90zM117.6 298.9a1.27 0.95 0 1 0 2.53 0.00a1.27 0.95 0 1 0 -2.53 -0.00zM143.9 311.0a1.90 0.95 -30 1 0 3.29 -1.90a1.90 0.95 -30 1 0 -3.29 1.90zM150.0 313.0a1.90 0.95 -30 1 0 3.29 -1.90a1.90 0.95 -30 1 0 -3.29 1.90zM133.4 319.1a1.90 0.95 -30 1 0 3.29 -1.90a1.90 0.95 -30 1 0 -3.29 1.90zM141.5 317.1a1.90 0.95 -30 1 0 3.29 -1.90a1.90 0.95 -30 1 0 -3.29 1.90zM151.9 304.8a1.58 0.95 -30 1 0 2.74 -1.58a1.58 0.95 -30 1 0 -2.74 1.58zM116.5 310.8a1.58 0.95 -30 1 0 2.74 -1.58a1.58 0.95 -30 1 0 -2.74 1.58zM147.9 298.7a1.58 0.95 -30 1 0 2.74 -1.58a1.58 0.95 -30 1 0 -2.74 1.58zM139.9 267.9a1.27 0.95 0 1 0 2.53 0.00a1.27 0.95 0 1 0 -2.53 -0.00zM147.0 267.9a1.27 0.95 0 1 0 2.53 0.00a1.27 0.95 0 1 0 -2.53 -0.00zM153.0 267.9a1.27 0.95 0 1 0 2.53 0.00a1.27 0.95 0 1 0 -2.53 -0.00zM141.9 271.6a1.27 0.95 0 1 0 2.53 0.00a1.27 0.95 0 1 0 -2.53 -0.00zM148.0 271.6a1.27 0.95 0 1 0 2.53 0.00a1.27 0.95 0 1 0 -2.53 -0.00zM154.0 271.6a1.27 0.95 0 1 0 2.53 0.00a1.27 0.95 0 1 0 -2.53 -0.00zM60.7 270.6a1.90 1.27 0 1 0 3.80 0.00a1.90 1.27 0 1 0 -3.80 -0.00zM71.0 269.1a1.27 0.95 0 1 0 2.53 0.00a1.27 0.95 0 1 0 -2.53 -0.00zM88.2 273.6a1.27 0.95 0 1 0 2.53 0.00a1.27 0.95 0 1 0 -2.53 -0.00zM118.6 273.6a1.27 0.95 0 1 0 2.53 0.00a1.27 0.95 0 1 0 -2.53 -0.00zM113.5 284.7a1.27 0.95 0 1 0 2.53 0.00a1.27 0.95 0 1 0 -2.53 -0.00zM94.3 286.2a1.27 0.95 0 1 0 2.53 0.00a1.27 0.95 0 1 0 -2.53 -0.00zM107.5 288.8a1.27 0.95 0 1 0 2.53 0.00a1.27 0.95 0 1 0 -2.53 -0.00z"/><path fill="#0098ee" d="M103.5 234.3a1.83 1.63 0 1 0 3.67 0.00a1.83 1.63 0 1 0 -3.67 -0.00zM76.5 249.9a1.83 1.63 0 1 0 3.67 0.00a1.83 1.63 0 1 0 -3.67 -0.00zM129.2 249.9a1.83 1.63 0 1 0 3.67 0.00a1.83 1.63 0 1 0 -3.67 -0.00zM75.8 218.7a2.45 1.22 -30 1 0 4.24 -2.45a2.45 1.22 -30 1 0 -4.24 2.45zM128.4 220.2a1.83 1.43 30 1 0 3.18 1.83a1.83 1.43 30 1 0 -3.18 -1.83zM158.7 265.1a1.22 2.04 0 1 0 2.45 0.00a1.22 2.04 0 1 0 -2.45 -0.00zM52.0 265.1a1.63 2.24 0 1 0 3.26 0.00a1.63 2.24 0 1 0 -3.26 -0.00zM103.7 265.1a1.43 1.43 0 1 0 2.85 0.00a1.43 1.43 0 1 0 -2.85 -0.00zM101.0 231.5a2.11 1.64 0 1 0 4.22 0.00a2.11 1.64 0 1 0 -4.22 -0.00zM99.5 227.3a1.83 1.22 30 1 0 3.18 1.83a1.83 1.22 30 1 0 -3.18 -1.83zM102.3 226.3a1.83 1.22 -30 1 0 3.18 -1.83a1.83 1.22 -30 1 0 -3.18 1.83zM99.4 221.6a1.87 1.41 30 1 0 3.25 1.87a1.87 1.41 30 1 0 -3.25 -1.87zM101.1 220.3a1.63 1.22 -20 1 0 3.06 -1.12a1.63 1.22 -20 1 0 -3.06 1.12zM98.1 216.3a1.87 1.41 20 1 0 3.52 1.28a1.87 1.41 20 1 0 -3.52 -1.28zM97.6 213.7a1.41 1.41 0 1 0 2.81 0.00a1.41 1.41 0 1 0 -2.81 -0.00zM74.1 246.5a1.87 1.41 40 1 0 2.87 2.41a1.87 1.41 40 1 0 -2.87 -2.41zM72.1 244.0a1.63 1.22 50 1 0 2.10 2.50a1.63 1.22 50 1 0 -2.10 -2.50zM69.3 242.0a1.64 1.41 30 1 0 2.84 1.64a1.64 1.41 30 1 0 -2.84 -1.64zM67.8 239.3a1.63 1.22 50 1 0 2.10 2.50a1.63 1.22 50 1 0 -2.10 -2.50zM65.1 238.0a1.64 1.17 20 1 0 3.08 1.12a1.64 1.17 20 1 0 -3.08 -1.12zM55.5 235.5a1.64 1.41 0 1 0 3.28 0.00a1.64 1.41 0 1 0 -3.28 -0.00zM51.8 233.7a2.65 2.24 0 1 0 5.30 0.00a2.65 2.24 0 1 0 -5.30 -0.00zM50.0 231.1a2.04 1.83 0 1 0 4.08 0.00a2.04 1.83 0 1 0 -4.08 -0.00zM132.5 248.7a1.87 1.41 -20 1 0 3.52 -1.28a1.87 1.41 -20 1 0 -3.52 1.28zM135.8 247.1a1.83 1.22 -20 1 0 3.45 -1.25a1.83 1.22 -20 1 0 -3.45 1.25zM139.3 245.7a1.87 1.41 0 1 0 3.75 0.00a1.87 1.41 0 1 0 -3.75 -0.00zM143.1 245.9a1.83 1.22 -20 1 0 3.45 -1.25a1.83 1.22 -20 1 0 -3.45 1.25zM146.8 244.0a1.87 1.41 0 1 0 3.75 0.00a1.87 1.41 0 1 0 -3.75 -0.00zM150.8 243.1a1.64 1.41 -40 1 0 2.51 -2.11a1.64 1.41 -40 1 0 -2.51 2.11zM153.6 239.8a1.64 1.41 -40 1 0 2.51 -2.11a1.64 1.41 -40 1 0 -2.51 2.11zM156.0 237.0a2.24 1.83 -40 1 0 3.43 -2.88a2.24 1.83 -40 1 0 -3.43 2.88zM83.8 217.4a1.87 0.94 -30 1 0 3.25 -1.87a1.87 0.94 -30 1 0 -3.25 1.87zM79.2 220.9a1.41 0.70 -30 1 0 2.44 -1.41a1.41 0.70 -30 1 0 -2.44 1.41zM136.7 221.8a1.64 0.94 30 1 0 2.84 1.64a1.64 0.94 30 1 0 -2.84 -1.64zM103.5 295.9a1.83 1.63 0 1 0 3.67 0.00a1.83 1.63 0 1 0 -3.67 -0.00zM76.5 280.3a1.83 1.63 0 1 0 3.67 0.00a1.83 1.63 0 1 0 -3.67 -0.00zM129.2 280.3a1.83 1.63 0 1 0 3.67 0.00a1.83 1.63 0 1 0 -3.67 -0.00zM75.8 311.5a2.45 1.22 30 1 0 4.24 2.45a2.45 1.22 30 1 0 -4.24 -2.45zM128.4 309.9a1.83 1.43 -30 1 0 3.18 -1.83a1.83 1.43 -30 1 0 -3.18 1.83zM101.0 298.7a2.11 1.64 0 1 0 4.22 0.00a2.11 1.64 0 1 0 -4.22 -0.00zM99.5 302.9a1.83 1.22 -30 1 0 3.18 -1.83a1.83 1.22 -30 1 0 -3.18 1.83zM102.3 303.9a1.83 1.22 30 1 0 3.18 1.83a1.83 1.22 30 1 0 -3.18 -1.83zM99.4 308.5a1.87 1.41 -30 1 0 3.25 -1.87a1.87 1.41 -30 1 0 -3.25 1.87zM101.1 309.9a1.63 1.22 20 1 0 3.06 1.12a1.63 1.22 20 1 0 -3.06 -1.12zM98.1 313.9a1.87 1.41 -20 1 0 3.52 -1.28a1.87 1.41 -20 1 0 -3.52 1.28zM97.6 316.5a1.41 1.41 0 1 0 2.81 0.00a1.41 1.41 0 1 0 -2.81 -0.00zM74.1 283.7a1.87 1.41 -40 1 0 2.87 -2.41a1.87 1.41 -40 1 0 -2.87 2.41zM72.1 286.2a1.63 1.22 -50 1 0 2.10 -2.50a1.63 1.22 -50 1 0 -2.10 2.50zM69.3 288.2a1.64 1.41 -30 1 0 2.84 -1.64a1.64 1.41 -30 1 0 -2.84 1.64zM67.8 290.8a1.63 1.22 -50 1 0 2.10 -2.50a1.63 1.22 -50 1 0 -2.10 2.50zM65.1 292.2a1.64 1.17 -20 1 0 3.08 -1.12a1.64 1.17 -20 1 0 -3.08 1.12zM55.5 294.7a1.64 1.41 0 1 0 3.28 0.00a1.64 1.41 0 1 0 -3.28 -0.00zM51.8 296.5a2.65 2.24 0 1 0 5.30 0.00a2.65 2.24 0 1 0 -5.30 -0.00zM50.0 299.1a2.04 1.83 0 1 0 4.08 0.00a2.04 1.83 0 1 0 -4.08 -0.00zM132.5 281.5a1.87 1.41 20 1 0 3.52 1.28a1.87 1.41 20 1 0 -3.52 -1.28zM135.8 283.1a1.83 1.22 20 1 0 3.45 1.25a1.83 1.22 20 1 0 -3.45 -1.25zM139.3 284.5a1.87 1.41 0 1 0 3.75 0.00a1.87 1.41 0 1 0 -3.75 -0.00zM143.1 284.3a1.83 1.22 20 1 0 3.45 1.25a1.83 1.22 20 1 0 -3.45 -1.25zM146.8 286.2a1.87 1.41 0 1 0 3.75 0.00a1.87 1.41 0 1 0 -3.75 -0.00zM150.8 287.1a1.64 1.41 40 1 0 2.51 2.11a1.64 1.41 40 1 0 -2.51 -2.11zM153.6 290.4a1.64 1.41 40 1 0 2.51 2.11a1.64 1.41 40 1 0 -2.51 -2.11zM156.0 293.2a2.24 1.83 40 1 0 3.43 2.88a2.24 1.83 40 1 0 -3.43 -2.88zM83.8 312.7a1.87 0.94 30 1 0 3.25 1.87a1.87 0.94 30 1 0 -3.25 -1.87zM79.2 309.3a1.41 0.70 30 1 0 2.44 1.41a1.41 0.70 30 1 0 -2.44 -1.41zM136.7 308.4a1.64 0.94 -30 1 0 2.84 -1.64a1.64 0.94 -30 1 0 -2.84 1.64z"/><path fill="#0054d0" d="M103.9 234.3a1.36 1.21 0 1 0 2.73 0.00a1.36 1.21 0 1 0 -2.73 -0.00zM77.0 249.9a1.36 1.21 0 1 0 2.73 0.00a1.36 1.21 0 1 0 -2.73 -0.00zM129.6 249.9a1.36 1.21 0 1 0 2.73 0.00a1.36 1.21 0 1 0 -2.73 -0.00zM76.4 218.4a1.82 0.91 -30 1 0 3.15 -1.82a1.82 0.91 -30 1 0 -3.15 1.82zM128.8 220.5a1.36 1.06 30 1 0 2.36 1.36a1.36 1.06 30 1 0 -2.36 -1.36zM159.1 265.1a0.91 1.51 0 1 0 1.82 0.00a0.91 1.51 0 1 0 -1.82 -0.00zM52.5 265.1a1.21 1.67 0 1 0 2.42 0.00a1.21 1.67 0 1 0 -2.42 -0.00zM104.0 265.1a1.06 1.06 0 1 0 2.12 0.00a1.06 1.06 0 1 0 -2.12 -0.00zM99.9 227.6a1.36 0.91 30 1 0 2.36 1.36a1.36 0.91 30 1 0 -2.36 -1.36zM102.7 226.1a1.36 0.91 -30 1 0 2.36 -1.36a1.36 0.91 -30 1 0 -2.36 1.36zM101.5 220.2a1.21 0.91 -20 1 0 2.28 -0.83a1.21 0.91 -20 1 0 -2.28 0.83zM72.3 244.3a1.21 0.91 50 1 0 1.56 1.86a1.21 0.91 50 1 0 -1.56 -1.86zM68.1 239.7a1.21 0.91 50 1 0 1.56 1.86a1.21 0.91 50 1 0 -1.56 -1.86zM52.5 233.7a1.97 1.67 0 1 0 3.94 0.00a1.97 1.67 0 1 0 -3.94 -0.00zM50.5 231.1a1.51 1.36 0 1 0 3.03 0.00a1.51 1.36 0 1 0 -3.03 -0.00zM136.2 246.9a1.36 0.91 -20 1 0 2.56 -0.93a1.36 0.91 -20 1 0 -2.56 0.93zM143.5 245.7a1.36 0.91 -20 1 0 2.56 -0.93a1.36 0.91 -20 1 0 -2.56 0.93zM156.5 236.6a1.67 1.36 -40 1 0 2.55 -2.14a1.67 1.36 -40 1 0 -2.55 2.14zM103.9 295.9a1.36 1.21 0 1 0 2.73 0.00a1.36 1.21 0 1 0 -2.73 -0.00zM77.0 280.3a1.36 1.21 0 1 0 2.73 0.00a1.36 1.21 0 1 0 -2.73 -0.00zM129.6 280.3a1.36 1.21 0 1 0 2.73 0.00a1.36 1.21 0 1 0 -2.73 -0.00zM76.4 311.8a1.82 0.91 30 1 0 3.15 1.82a1.82 0.91 30 1 0 -3.15 -1.82zM128.8 309.7a1.36 1.06 -30 1 0 2.36 -1.36a1.36 1.06 -30 1 0 -2.36 1.36zM99.9 302.6a1.36 0.91 -30 1 0 2.36 -1.36a1.36 0.91 -30 1 0 -2.36 1.36zM102.7 304.1a1.36 0.91 30 1 0 2.36 1.36a1.36 0.91 30 1 0 -2.36 -1.36zM101.5 310.0a1.21 0.91 20 1 0 2.28 0.83a1.21 0.91 20 1 0 -2.28 -0.83zM72.3 285.9a1.21 0.91 -50 1 0 1.56 -1.86a1.21 0.91 -50 1 0 -1.56 1.86zM68.1 290.5a1.21 0.91 -50 1 0 1.56 -1.86a1.21 0.91 -50 1 0 -1.56 1.86zM52.5 296.5a1.97 1.67 0 1 0 3.94 0.00a1.97 1.67 0 1 0 -3.94 -0.00zM50.5 299.1a1.51 1.36 0 1 0 3.03 0.00a1.51 1.36 0 1 0 -3.03 -0.00zM136.2 283.3a1.36 0.91 20 1 0 2.56 0.93a1.36 0.91 20 1 0 -2.56 -0.93zM143.5 284.5a1.36 0.91 20 1 0 2.56 0.93a1.36 0.91 20 1 0 -2.56 -0.93zM156.5 293.6a1.67 1.36 40 1 0 2.55 2.14a1.67 1.36 40 1 0 -2.55 -2.14z"/><path fill="#001470" d="M104.3 234.3a1.04 0.93 0 1 0 2.08 0.00a1.04 0.93 0 1 0 -2.08 -0.00zM77.3 249.9a1.04 0.93 0 1 0 2.08 0.00a1.04 0.93 0 1 0 -2.08 -0.00zM130.0 249.9a1.04 0.93 0 1 0 2.08 0.00a1.04 0.93 0 1 0 -2.08 -0.00zM76.8 218.2a1.39 0.69 -30 1 0 2.40 -1.39a1.39 0.69 -30 1 0 -2.40 1.39zM104.3 295.9a1.04 0.93 0 1 0 2.08 0.00a1.04 0.93 0 1 0 -2.08 -0.00zM77.3 280.3a1.04 0.93 0 1 0 2.08 0.00a1.04 0.93 0 1 0 -2.08 -0.00zM130.0 280.3a1.04 0.93 0 1 0 2.08 0.00a1.04 0.93 0 1 0 -2.08 -0.00zM76.8 312.0a1.39 0.69 30 1 0 2.40 1.39a1.39 0.69 30 1 0 -2.40 -1.39z"/><path fill="#000018" d="M104.7 234.3a0.62 0.55 0 1 0 1.24 0.00a0.62 0.55 0 1 0 -1.24 -0.00zM77.8 249.9a0.62 0.55 0 1 0 1.24 0.00a0.62 0.55 0 1 0 -1.24 -0.00zM130.4 249.9a0.62 0.55 0 1 0 1.24 0.00a0.62 0.55 0 1 0 -1.24 -0.00zM77.2 217.9a0.83 0.41 -30 1 0 1.43 -0.83a0.83 0.41 -30 1 0 -1.43 0.83zM104.7 295.9a0.62 0.55 0 1 0 1.24 0.00a0.62 0.55 0 1 0 -1.24 -0.00zM77.8 280.3a0.62 0.55 0 1 0 1.24 0.00a0.62 0.55 0 1 0 -1.24 -0.00zM130.4 280.3a0.62 0.55 0 1 0 1.24 0.00a0.62 0.55 0 1 0 -1.24 -0.00zM77.2 312.3a0.83 0.41 30 1 0 1.43 0.83a0.83 0.41 30 1 0 -1.43 -0.83z"/></g><text x="87.50" y="252.30" font-size="17.4" font-family="'Liberation Sans', sans-serif" fill="#f00" textLength="25.40" lengthAdjust="spacingAndGlyphs">1st</text><circle cx="105.0" cy="265.1" r="7.6" fill="none" stroke="#f02020" stroke-width="1.1" stroke-dasharray="1.1 1.1"/><path d="M49.60 209.5v-4.5M49.60 320.5v4.5M49.6 209.50h-4.5M160.6 209.50h4.5M55.15 209.5v-2.3M55.15 320.5v2.3M49.6 215.05h-2.3M160.6 215.05h2.3M60.70 209.5v-2.3M60.70 320.5v2.3M49.6 220.60h-2.3M160.6 220.60h2.3M66.25 209.5v-2.3M66.25 320.5v2.3M49.6 226.15h-2.3M160.6 226.15h2.3M71.80 209.5v-2.3M71.80 320.5v2.3M49.6 231.70h-2.3M160.6 231.70h2.3M77.35 209.5v-4.5M77.35 320.5v4.5M49.6 237.25h-4.5M160.6 237.25h4.5M82.90 209.5v-2.3M82.90 320.5v2.3M49.6 242.80h-2.3M160.6 242.80h2.3M88.45 209.5v-2.3M88.45 320.5v2.3M49.6 248.35h-2.3M160.6 248.35h2.3M94.00 209.5v-2.3M94.00 320.5v2.3M49.6 253.90h-2.3M160.6 253.90h2.3M99.55 209.5v-2.3M99.55 320.5v2.3M49.6 259.45h-2.3M160.6 259.45h2.3M105.10 209.5v-4.5M105.10 320.5v4.5M49.6 265.00h-4.5M160.6 265.00h4.5M110.65 209.5v-2.3M110.65 320.5v2.3M49.6 270.55h-2.3M160.6 270.55h2.3M116.20 209.5v-2.3M116.20 320.5v2.3M49.6 276.10h-2.3M160.6 276.10h2.3M121.75 209.5v-2.3M121.75 320.5v2.3M49.6 281.65h-2.3M160.6 281.65h2.3M127.30 209.5v-2.3M127.30 320.5v2.3M49.6 287.20h-2.3M160.6 287.20h2.3M132.85 209.5v-4.5M132.85 320.5v4.5M49.6 292.75h-4.5M160.6 292.75h4.5M138.40 209.5v-2.3M138.40 320.5v2.3M49.6 298.30h-2.3M160.6 298.30h2.3M143.95 209.5v-2.3M143.95 320.5v2.3M49.6 303.85h-2.3M160.6 303.85h2.3M149.50 209.5v-2.3M149.50 320.5v2.3M49.6 309.40h-2.3M160.6 309.40h2.3M155.05 209.5v-2.3M155.05 320.5v2.3M49.6 314.95h-2.3M160.6 314.95h2.3M160.60 209.5v-4.5M160.60 320.5v4.5M49.6 320.50h-4.5M160.6 320.50h4.5" stroke="#555" stroke-width="1" fill="none"/><text x="44.00" y="213.85" font-size="12.3" font-family="'Liberation Sans', sans-serif" font-weight="bold" text-anchor="end" textLength="15.20" lengthAdjust="spacingAndGlyphs">10</text><text x="44.00" y="241.60" font-size="12.3" font-family="'Liberation Sans', sans-serif" font-weight="bold" text-anchor="end" textLength="6.80" lengthAdjust="spacingAndGlyphs">5</text><text x="44.00" y="269.35" font-size="12.3" font-family="'Liberation Sans', sans-serif" font-weight="bold" text-anchor="end" textLength="6.80" lengthAdjust="spacingAndGlyphs">0</text><text x="44.00" y="297.10" font-size="12.3" font-family="'Liberation Sans', sans-serif" font-weight="bold" text-anchor="end" textLength="11.60" lengthAdjust="spacingAndGlyphs">-5</text><text x="44.00" y="324.85" font-size="12.3" font-family="'Liberation Sans', sans-serif" font-weight="bold" text-anchor="end" textLength="19.80" lengthAdjust="spacingAndGlyphs">-10</text><text x="50.40" y="336.00" font-size="12.3" font-family="'Liberation Sans', sans-serif" font-weight="bold" text-anchor="middle" textLength="15.20" lengthAdjust="spacingAndGlyphs">10</text><text x="77.60" y="336.00" font-size="12.3" font-family="'Liberation Sans', sans-serif" font-weight="bold" text-anchor="middle" textLength="6.80" lengthAdjust="spacingAndGlyphs">5</text><text x="104.80" y="336.00" font-size="12.3" font-family="'Liberation Sans', sans-serif" font-weight="bold" text-anchor="middle" textLength="6.80" lengthAdjust="spacingAndGlyphs">0</text><text x="131.70" y="336.00" font-size="12.3" font-family="'Liberation Sans', sans-serif" font-weight="bold" text-anchor="middle" textLength="11.60" lengthAdjust="spacingAndGlyphs">-5</text><text x="158.90" y="336.00" font-size="12.3" font-family="'Liberation Sans', sans-serif" font-weight="bold" text-anchor="middle" textLength="19.80" lengthAdjust="spacingAndGlyphs">-10</text><text x="24.50" y="353.50" font-size="11.3" font-family="'Liberation Sans', sans-serif" font-weight="bold" textLength="77.90" lengthAdjust="spacingAndGlyphs">Position along</text><text x="106.50" y="354.70" font-size="16" font-family="'Liberation Serif', serif" fill="#1a1a1a" stroke="#1a1a1a" stroke-width="0.3">[</text><text x="111.90" y="353.80" font-size="14.6" font-family="'Liberation Serif', serif" fill="#1a1a1a" stroke="#1a1a1a" stroke-width="0.3">1</text><path d="M112.60 341.60h4.3" stroke="#1a1a1a" stroke-width="1.3"/><text x="118.50" y="353.80" font-size="14.6" font-family="'Liberation Serif', serif" fill="#1a1a1a" textLength="13.40" lengthAdjust="spacingAndGlyphs" stroke="#1a1a1a" stroke-width="0.3">10</text><text x="132.50" y="354.70" font-size="16" font-family="'Liberation Serif', serif" fill="#1a1a1a" stroke="#1a1a1a" stroke-width="0.3">]</text><text x="137.50" y="356.80" font-size="8.2" font-family="'Liberation Sans', sans-serif" font-weight="bold" textLength="15.00" lengthAdjust="spacingAndGlyphs">HEX</text><text x="155.50" y="353.90" font-size="11.3" font-family="'Liberation Sans', sans-serif" font-weight="bold">(</text><text x="161.50" y="353.50" font-size="11.3" font-family="'Liberation Sans', sans-serif" font-weight="bold" textLength="9.60" lengthAdjust="spacingAndGlyphs">Å</text><text x="172.80" y="353.90" font-size="11.3" font-family="'Liberation Sans', sans-serif" font-weight="bold">)</text><g transform="translate(17.90 338.40) rotate(-90)"><text x="-0.40" y="0.00" font-size="11.3" font-family="'Liberation Sans', sans-serif" font-weight="bold" textLength="77.90" lengthAdjust="spacingAndGlyphs">Position along</text><text x="81.60" y="1.20" font-size="16" font-family="'Liberation Serif', serif" fill="#1a1a1a" stroke="#1a1a1a" stroke-width="0.3">[</text><text x="87.00" y="0.30" font-size="14.6" font-family="'Liberation Serif', serif" fill="#1a1a1a" stroke="#1a1a1a" stroke-width="0.3">1</text><path d="M87.70 -11.90h4.3" stroke="#1a1a1a" stroke-width="1.3"/><path d="M94.40 -11.90h4.3" stroke="#1a1a1a" stroke-width="1.3"/><text x="93.60" y="0.30" font-size="14.6" font-family="'Liberation Serif', serif" fill="#1a1a1a" textLength="13.40" lengthAdjust="spacingAndGlyphs" stroke="#1a1a1a" stroke-width="0.3">10</text><text x="107.60" y="1.20" font-size="16" font-family="'Liberation Serif', serif" fill="#1a1a1a" stroke="#1a1a1a" stroke-width="0.3">]</text><text x="112.60" y="3.30" font-size="8.2" font-family="'Liberation Sans', sans-serif" font-weight="bold" textLength="15.00" lengthAdjust="spacingAndGlyphs">HEX</text><text x="130.60" y="0.40" font-size="11.3" font-family="'Liberation Sans', sans-serif" font-weight="bold">(</text><text x="136.60" y="0.00" font-size="11.3" font-family="'Liberation Sans', sans-serif" font-weight="bold" textLength="9.60" lengthAdjust="spacingAndGlyphs">Å</text><text x="147.90" y="0.40" font-size="11.3" font-family="'Liberation Sans', sans-serif" font-weight="bold">)</text></g><text x="97.10" y="374.10" font-size="11.8" font-family="'Liberation Sans', sans-serif">(e)</text><rect x="232.9" y="209.8" width="111.0" height="111.0" fill="#fff" stroke="#555" stroke-width="1"/><clipPath id="pcf"><rect x="233.4" y="210.3" width="110.0" height="110.0"/></clipPath><g clip-path="url(#pcf)"><path fill="#00e0ff" d="M302.9 233.8a3.24 2.59 20 1 0 6.09 2.22a3.24 2.59 20 1 0 -6.09 -2.22zM302.8 235.9a1.62 1.30 40 1 0 2.48 2.08a1.62 1.30 40 1 0 -2.48 -2.08zM306.5 238.0a1.62 1.30 -40 1 0 2.48 -2.08a1.62 1.30 -40 1 0 -2.48 2.08zM250.0 265.1a3.24 2.59 0 1 0 6.48 0.00a3.24 2.59 0 1 0 -6.48 -0.00zM252.9 265.1a1.94 1.94 0 1 0 3.89 0.00a1.94 1.94 0 1 0 -3.89 -0.00zM299.7 238.3a2.98 1.12 45 1 0 4.21 4.21a2.98 1.12 45 1 0 -4.21 -4.21zM307.8 242.5a2.98 1.12 -45 1 0 4.21 -4.21a2.98 1.12 -45 1 0 -4.21 4.21zM254.7 264.1a2.98 1.12 -30 1 0 5.16 -2.98a2.98 1.12 -30 1 0 -5.16 2.98zM277.5 250.9a2.24 2.24 0 1 0 4.47 0.00a2.24 2.24 0 1 0 -4.47 -0.00zM300.9 265.5a2.61 2.61 0 1 0 5.22 0.00a2.61 2.61 0 1 0 -5.22 -0.00zM300.1 237.9a2.27 1.30 40 1 0 3.47 2.92a2.27 1.30 40 1 0 -3.47 -2.92zM302.5 232.2a2.24 1.49 -70 1 0 1.53 -4.20a2.24 1.49 -70 1 0 -1.53 4.20zM307.8 227.3a2.24 1.49 60 1 0 2.24 3.87a2.24 1.49 60 1 0 -2.24 -3.87zM310.8 220.4a3.35 1.12 70 1 0 2.29 6.30a3.35 1.12 70 1 0 -2.29 -6.30zM314.0 223.5a3.35 1.12 80 1 0 1.16 6.60a3.35 1.12 80 1 0 -1.16 -6.60zM315.4 218.2a3.35 1.12 60 1 0 3.35 5.81a3.35 1.12 60 1 0 -3.35 -5.81zM296.9 240.3a2.24 1.12 30 1 0 3.87 2.24a2.24 1.12 30 1 0 -3.87 -2.24zM240.0 262.0a1.12 3.73 0 1 0 2.24 0.00a1.12 3.73 0 1 0 -2.24 -0.00zM243.0 260.6a1.12 3.35 0 1 0 2.24 0.00a1.12 3.35 0 1 0 -2.24 -0.00zM246.1 262.0a1.12 2.98 0 1 0 2.24 0.00a1.12 2.98 0 1 0 -2.24 -0.00zM237.0 259.6a1.12 3.35 0 1 0 2.24 0.00a1.12 3.35 0 1 0 -2.24 -0.00zM256.6 259.8a2.24 1.12 40 1 0 3.42 2.87a2.24 1.12 40 1 0 -3.42 -2.87zM260.9 258.4a1.86 1.12 40 1 0 2.85 2.39a1.86 1.12 40 1 0 -2.85 -2.39zM258.9 256.4a1.86 1.12 40 1 0 2.85 2.39a1.86 1.12 40 1 0 -2.85 -2.39zM253.0 213.0a2.24 1.12 0 1 0 4.47 0.00a2.24 1.12 0 1 0 -4.47 -0.00zM259.1 212.0a2.24 1.12 0 1 0 4.47 0.00a2.24 1.12 0 1 0 -4.47 -0.00zM270.3 212.0a2.24 1.12 0 1 0 4.47 0.00a2.24 1.12 0 1 0 -4.47 -0.00zM280.4 213.0a2.24 1.12 0 1 0 4.47 0.00a2.24 1.12 0 1 0 -4.47 -0.00zM290.5 211.4a2.24 1.12 0 1 0 4.47 0.00a2.24 1.12 0 1 0 -4.47 -0.00zM296.7 213.3a2.24 1.12 20 1 0 4.20 1.53a2.24 1.12 20 1 0 -4.20 -1.53zM314.8 212.0a2.24 1.12 0 1 0 4.47 0.00a2.24 1.12 0 1 0 -4.47 -0.00zM325.1 214.2a2.24 1.12 -20 1 0 4.20 -1.53a2.24 1.12 -20 1 0 -4.20 1.53zM335.0 212.0a2.24 1.12 0 1 0 4.47 0.00a2.24 1.12 0 1 0 -4.47 -0.00zM234.1 217.0a2.24 1.12 30 1 0 3.87 2.24a2.24 1.12 30 1 0 -3.87 -2.24zM242.2 218.0a2.24 1.12 30 1 0 3.87 2.24a2.24 1.12 30 1 0 -3.87 -2.24zM249.3 217.0a2.24 1.12 30 1 0 3.87 2.24a2.24 1.12 30 1 0 -3.87 -2.24zM276.3 219.1a2.24 1.12 0 1 0 4.47 0.00a2.24 1.12 0 1 0 -4.47 -0.00zM290.8 220.0a2.24 1.49 30 1 0 3.87 2.24a2.24 1.49 30 1 0 -3.87 -2.24zM296.6 218.1a2.24 1.12 0 1 0 4.47 0.00a2.24 1.12 0 1 0 -4.47 -0.00zM320.2 221.3a2.24 1.12 -30 1 0 3.87 -2.24a2.24 1.12 -30 1 0 -3.87 2.24zM328.9 220.4a2.61 1.49 -30 1 0 4.52 -2.61a2.61 1.49 -30 1 0 -4.52 2.61zM336.4 222.3a2.24 1.12 -30 1 0 3.87 -2.24a2.24 1.12 -30 1 0 -3.87 2.24zM233.1 227.1a2.24 1.12 30 1 0 3.87 2.24a2.24 1.12 30 1 0 -3.87 -2.24zM239.2 227.1a2.24 1.12 30 1 0 3.87 2.24a2.24 1.12 30 1 0 -3.87 -2.24zM245.2 224.1a2.24 1.12 30 1 0 3.87 2.24a2.24 1.12 30 1 0 -3.87 -2.24zM266.2 227.2a2.24 1.12 0 1 0 4.47 0.00a2.24 1.12 0 1 0 -4.47 -0.00zM273.3 228.2a2.24 1.12 0 1 0 4.47 0.00a2.24 1.12 0 1 0 -4.47 -0.00zM288.8 224.1a2.24 1.12 30 1 0 3.87 2.24a2.24 1.12 30 1 0 -3.87 -2.24zM294.6 228.2a2.24 1.12 0 1 0 4.47 0.00a2.24 1.12 0 1 0 -4.47 -0.00zM319.1 230.4a2.24 1.12 -30 1 0 3.87 -2.24a2.24 1.12 -30 1 0 -3.87 2.24zM327.2 228.3a2.24 1.12 -30 1 0 3.87 -2.24a2.24 1.12 -30 1 0 -3.87 2.24zM332.3 226.3a2.24 1.12 -30 1 0 3.87 -2.24a2.24 1.12 -30 1 0 -3.87 2.24zM339.4 229.4a2.24 1.49 -30 1 0 3.87 -2.24a2.24 1.49 -30 1 0 -3.87 2.24zM234.1 232.2a2.24 1.12 30 1 0 3.87 2.24a2.24 1.12 30 1 0 -3.87 -2.24zM242.2 233.2a2.24 1.12 30 1 0 3.87 2.24a2.24 1.12 30 1 0 -3.87 -2.24zM250.3 231.2a2.24 1.12 30 1 0 3.87 2.24a2.24 1.12 30 1 0 -3.87 -2.24zM290.8 232.2a2.24 1.12 30 1 0 3.87 2.24a2.24 1.12 30 1 0 -3.87 -2.24zM296.6 235.3a2.24 1.12 0 1 0 4.47 0.00a2.24 1.12 0 1 0 -4.47 -0.00zM315.1 238.5a2.24 1.12 -30 1 0 3.87 -2.24a2.24 1.12 -30 1 0 -3.87 2.24zM321.9 240.7a2.61 1.49 -30 1 0 4.52 -2.61a2.61 1.49 -30 1 0 -4.52 2.61zM331.3 235.4a2.24 1.12 -30 1 0 3.87 -2.24a2.24 1.12 -30 1 0 -3.87 2.24zM339.4 238.5a2.24 1.12 -30 1 0 3.87 -2.24a2.24 1.12 -30 1 0 -3.87 2.24zM236.1 240.3a2.24 1.12 30 1 0 3.87 2.24a2.24 1.12 30 1 0 -3.87 -2.24zM241.2 243.3a2.24 1.12 30 1 0 3.87 2.24a2.24 1.12 30 1 0 -3.87 -2.24zM248.0 245.2a2.61 1.49 30 1 0 4.52 2.61a2.61 1.49 30 1 0 -4.52 -2.61zM254.4 241.3a2.24 1.12 30 1 0 3.87 2.24a2.24 1.12 30 1 0 -3.87 -2.24zM266.2 243.4a2.24 1.12 0 1 0 4.47 0.00a2.24 1.12 0 1 0 -4.47 -0.00zM288.8 241.3a2.24 1.12 30 1 0 3.87 2.24a2.24 1.12 30 1 0 -3.87 -2.24zM294.6 241.4a2.24 1.12 0 1 0 4.47 0.00a2.24 1.12 0 1 0 -4.47 -0.00zM306.7 242.4a2.24 1.12 0 1 0 4.47 0.00a2.24 1.12 0 1 0 -4.47 -0.00zM316.1 245.5a2.24 1.12 -30 1 0 3.87 -2.24a2.24 1.12 -30 1 0 -3.87 2.24zM323.2 247.6a2.24 1.12 -30 1 0 3.87 -2.24a2.24 1.12 -30 1 0 -3.87 2.24zM331.3 244.5a2.24 1.12 -30 1 0 3.87 -2.24a2.24 1.12 -30 1 0 -3.87 2.24zM338.4 245.5a2.24 1.12 -30 1 0 3.87 -2.24a2.24 1.12 -30 1 0 -3.87 2.24zM235.1 248.4a2.24 1.12 30 1 0 3.87 2.24a2.24 1.12 30 1 0 -3.87 -2.24zM242.2 250.4a2.24 1.12 30 1 0 3.87 2.24a2.24 1.12 30 1 0 -3.87 -2.24zM247.3 251.4a2.24 1.12 30 1 0 3.87 2.24a2.24 1.12 30 1 0 -3.87 -2.24zM256.4 249.4a2.24 1.12 30 1 0 3.87 2.24a2.24 1.12 30 1 0 -3.87 -2.24zM264.5 251.4a2.24 1.12 30 1 0 3.87 2.24a2.24 1.12 30 1 0 -3.87 -2.24zM270.6 249.5a1.86 1.12 0 1 0 3.73 0.00a1.86 1.12 0 1 0 -3.73 -0.00zM286.8 251.5a1.86 1.12 0 1 0 3.73 0.00a1.86 1.12 0 1 0 -3.73 -0.00zM290.8 246.4a2.24 1.12 30 1 0 3.87 2.24a2.24 1.12 30 1 0 -3.87 -2.24zM294.9 251.4a2.24 1.12 30 1 0 3.87 2.24a2.24 1.12 30 1 0 -3.87 -2.24zM310.0 250.6a2.24 1.12 -30 1 0 3.87 -2.24a2.24 1.12 -30 1 0 -3.87 2.24zM315.1 253.6a2.24 1.12 -30 1 0 3.87 -2.24a2.24 1.12 -30 1 0 -3.87 2.24zM322.2 252.6a2.24 1.12 -30 1 0 3.87 -2.24a2.24 1.12 -30 1 0 -3.87 2.24zM329.3 251.6a2.24 1.12 -30 1 0 3.87 -2.24a2.24 1.12 -30 1 0 -3.87 2.24zM337.4 253.6a2.24 1.12 -30 1 0 3.87 -2.24a2.24 1.12 -30 1 0 -3.87 2.24zM235.2 259.6a1.86 1.12 0 1 0 3.73 0.00a1.86 1.12 0 1 0 -3.73 -0.00zM246.3 258.6a1.86 1.12 0 1 0 3.73 0.00a1.86 1.12 0 1 0 -3.73 -0.00zM262.5 261.5a2.24 1.12 30 1 0 3.87 2.24a2.24 1.12 30 1 0 -3.87 -2.24zM268.5 259.5a2.24 1.12 30 1 0 3.87 2.24a2.24 1.12 30 1 0 -3.87 -2.24zM288.9 257.6a1.86 1.12 0 1 0 3.73 0.00a1.86 1.12 0 1 0 -3.73 -0.00zM292.8 259.5a2.24 1.12 30 1 0 3.87 2.24a2.24 1.12 30 1 0 -3.87 -2.24zM309.0 260.7a2.24 1.12 -30 1 0 3.87 -2.24a2.24 1.12 -30 1 0 -3.87 2.24zM315.1 262.8a2.24 1.12 -30 1 0 3.87 -2.24a2.24 1.12 -30 1 0 -3.87 2.24zM321.2 259.7a2.24 1.12 -30 1 0 3.87 -2.24a2.24 1.12 -30 1 0 -3.87 2.24zM327.2 263.8a2.24 1.12 -30 1 0 3.87 -2.24a2.24 1.12 -30 1 0 -3.87 2.24zM333.3 260.7a2.24 1.12 -30 1 0 3.87 -2.24a2.24 1.12 -30 1 0 -3.87 2.24zM340.4 263.8a2.24 1.12 -30 1 0 3.87 -2.24a2.24 1.12 -30 1 0 -3.87 2.24zM270.3 235.3a2.24 1.12 0 1 0 4.47 0.00a2.24 1.12 0 1 0 -4.47 -0.00zM280.4 233.3a2.24 1.12 0 1 0 4.47 0.00a2.24 1.12 0 1 0 -4.47 -0.00zM284.8 241.4a1.86 1.12 0 1 0 3.73 0.00a1.86 1.12 0 1 0 -3.73 -0.00zM276.7 240.4a1.86 1.12 0 1 0 3.73 0.00a1.86 1.12 0 1 0 -3.73 -0.00zM246.3 214.0a2.24 1.12 30 1 0 3.87 2.24a2.24 1.12 30 1 0 -3.87 -2.24zM262.2 218.1a2.24 1.12 0 1 0 4.47 0.00a2.24 1.12 0 1 0 -4.47 -0.00zM303.7 217.1a2.24 1.12 0 1 0 4.47 0.00a2.24 1.12 0 1 0 -4.47 -0.00zM305.0 249.5a1.86 1.12 0 1 0 3.73 0.00a1.86 1.12 0 1 0 -3.73 -0.00zM302.9 297.2a3.24 2.59 -20 1 0 6.09 -2.22a3.24 2.59 -20 1 0 -6.09 2.22zM302.8 295.1a1.62 1.30 -40 1 0 2.48 -2.08a1.62 1.30 -40 1 0 -2.48 2.08zM306.5 293.0a1.62 1.30 40 1 0 2.48 2.08a1.62 1.30 40 1 0 -2.48 -2.08zM299.7 292.7a2.98 1.12 -45 1 0 4.21 -4.21a2.98 1.12 -45 1 0 -4.21 4.21zM307.8 288.5a2.98 1.12 45 1 0 4.21 4.21a2.98 1.12 45 1 0 -4.21 -4.21zM254.7 266.8a2.98 1.12 30 1 0 5.16 2.98a2.98 1.12 30 1 0 -5.16 -2.98zM277.5 280.1a2.24 2.24 0 1 0 4.47 0.00a2.24 2.24 0 1 0 -4.47 -0.00zM300.1 293.1a2.27 1.30 -40 1 0 3.47 -2.92a2.27 1.30 -40 1 0 -3.47 2.92zM302.5 298.8a2.24 1.49 70 1 0 1.53 4.20a2.24 1.49 70 1 0 -1.53 -4.20zM307.8 303.7a2.24 1.49 -60 1 0 2.24 -3.87a2.24 1.49 -60 1 0 -2.24 3.87zM310.8 310.5a3.35 1.12 -70 1 0 2.29 -6.30a3.35 1.12 -70 1 0 -2.29 6.30zM314.0 307.5a3.35 1.12 -80 1 0 1.16 -6.60a3.35 1.12 -80 1 0 -1.16 6.60zM315.4 312.7a3.35 1.12 -60 1 0 3.35 -5.81a3.35 1.12 -60 1 0 -3.35 5.81zM296.9 290.7a2.24 1.12 -30 1 0 3.87 -2.24a2.24 1.12 -30 1 0 -3.87 2.24zM240.0 268.9a1.12 3.73 0 1 0 2.24 0.00a1.12 3.73 0 1 0 -2.24 -0.00zM243.0 270.3a1.12 3.35 0 1 0 2.24 0.00a1.12 3.35 0 1 0 -2.24 -0.00zM246.1 268.9a1.12 2.98 0 1 0 2.24 0.00a1.12 2.98 0 1 0 -2.24 -0.00zM237.0 271.4a1.12 3.35 0 1 0 2.24 0.00a1.12 3.35 0 1 0 -2.24 -0.00zM256.6 271.2a2.24 1.12 -40 1 0 3.42 -2.87a2.24 1.12 -40 1 0 -3.42 2.87zM260.9 272.6a1.86 1.12 -40 1 0 2.85 -2.39a1.86 1.12 -40 1 0 -2.85 2.39zM258.9 274.6a1.86 1.12 -40 1 0 2.85 -2.39a1.86 1.12 -40 1 0 -2.85 2.39zM253.0 317.9a2.24 1.12 0 1 0 4.47 0.00a2.24 1.12 0 1 0 -4.47 -0.00zM259.1 318.9a2.24 1.12 0 1 0 4.47 0.00a2.24 1.12 0 1 0 -4.47 -0.00zM270.3 318.9a2.24 1.12 0 1 0 4.47 0.00a2.24 1.12 0 1 0 -4.47 -0.00zM280.4 317.9a2.24 1.12 0 1 0 4.47 0.00a2.24 1.12 0 1 0 -4.47 -0.00zM290.5 319.5a2.24 1.12 0 1 0 4.47 0.00a2.24 1.12 0 1 0 -4.47 -0.00zM296.7 317.7a2.24 1.12 -20 1 0 4.20 -1.53a2.24 1.12 -20 1 0 -4.20 1.53zM314.8 318.9a2.24 1.12 0 1 0 4.47 0.00a2.24 1.12 0 1 0 -4.47 -0.00zM325.1 316.8a2.24 1.12 20 1 0 4.20 1.53a2.24 1.12 20 1 0 -4.20 -1.53zM335.0 318.9a2.24 1.12 0 1 0 4.47 0.00a2.24 1.12 0 1 0 -4.47 -0.00zM234.1 314.0a2.24 1.12 -30 1 0 3.87 -2.24a2.24 1.12 -30 1 0 -3.87 2.24zM242.2 313.0a2.24 1.12 -30 1 0 3.87 -2.24a2.24 1.12 -30 1 0 -3.87 2.24zM249.3 314.0a2.24 1.12 -30 1 0 3.87 -2.24a2.24 1.12 -30 1 0 -3.87 2.24zM276.3 311.9a2.24 1.12 0 1 0 4.47 0.00a2.24 1.12 0 1 0 -4.47 -0.00zM290.8 310.9a2.24 1.49 -30 1 0 3.87 -2.24a2.24 1.49 -30 1 0 -3.87 2.24zM296.6 312.9a2.24 1.12 0 1 0 4.47 0.00a2.24 1.12 0 1 0 -4.47 -0.00zM320.2 309.7a2.24 1.12 30 1 0 3.87 2.24a2.24 1.12 30 1 0 -3.87 -2.24zM328.9 310.5a2.61 1.49 30 1 0 4.52 2.61a2.61 1.49 30 1 0 -4.52 -2.61zM336.4 308.7a2.24 1.12 30 1 0 3.87 2.24a2.24 1.12 30 1 0 -3.87 -2.24zM233.1 303.9a2.24 1.12 -30 1 0 3.87 -2.24a2.24 1.12 -30 1 0 -3.87 2.24zM239.2 303.9a2.24 1.12 -30 1 0 3.87 -2.24a2.24 1.12 -30 1 0 -3.87 2.24zM245.2 306.9a2.24 1.12 -30 1 0 3.87 -2.24a2.24 1.12 -30 1 0 -3.87 2.24zM266.2 303.8a2.24 1.12 0 1 0 4.47 0.00a2.24 1.12 0 1 0 -4.47 -0.00zM273.3 302.7a2.24 1.12 0 1 0 4.47 0.00a2.24 1.12 0 1 0 -4.47 -0.00zM288.8 306.9a2.24 1.12 -30 1 0 3.87 -2.24a2.24 1.12 -30 1 0 -3.87 2.24zM294.6 302.7a2.24 1.12 0 1 0 4.47 0.00a2.24 1.12 0 1 0 -4.47 -0.00zM319.1 300.6a2.24 1.12 30 1 0 3.87 2.24a2.24 1.12 30 1 0 -3.87 -2.24zM327.2 302.6a2.24 1.12 30 1 0 3.87 2.24a2.24 1.12 30 1 0 -3.87 -2.24zM332.3 304.7a2.24 1.12 30 1 0 3.87 2.24a2.24 1.12 30 1 0 -3.87 -2.24zM339.4 301.6a2.24 1.49 30 1 0 3.87 2.24a2.24 1.49 30 1 0 -3.87 -2.24zM234.1 298.8a2.24 1.12 -30 1 0 3.87 -2.24a2.24 1.12 -30 1 0 -3.87 2.24zM242.2 297.8a2.24 1.12 -30 1 0 3.87 -2.24a2.24 1.12 -30 1 0 -3.87 2.24zM250.3 299.8a2.24 1.12 -30 1 0 3.87 -2.24a2.24 1.12 -30 1 0 -3.87 2.24zM290.8 298.8a2.24 1.12 -30 1 0 3.87 -2.24a2.24 1.12 -30 1 0 -3.87 2.24zM296.6 295.7a2.24 1.12 0 1 0 4.47 0.00a2.24 1.12 0 1 0 -4.47 -0.00zM315.1 292.5a2.24 1.12 30 1 0 3.87 2.24a2.24 1.12 30 1 0 -3.87 -2.24zM321.9 290.3a2.61 1.49 30 1 0 4.52 2.61a2.61 1.49 30 1 0 -4.52 -2.61zM331.3 295.5a2.24 1.12 30 1 0 3.87 2.24a2.24 1.12 30 1 0 -3.87 -2.24zM339.4 292.5a2.24 1.12 30 1 0 3.87 2.24a2.24 1.12 30 1 0 -3.87 -2.24zM236.1 290.7a2.24 1.12 -30 1 0 3.87 -2.24a2.24 1.12 -30 1 0 -3.87 2.24zM241.2 287.7a2.24 1.12 -30 1 0 3.87 -2.24a2.24 1.12 -30 1 0 -3.87 2.24zM248.0 285.8a2.61 1.49 -30 1 0 4.52 -2.61a2.61 1.49 -30 1 0 -4.52 2.61zM254.4 289.7a2.24 1.12 -30 1 0 3.87 -2.24a2.24 1.12 -30 1 0 -3.87 2.24zM266.2 287.6a2.24 1.12 0 1 0 4.47 0.00a2.24 1.12 0 1 0 -4.47 -0.00zM288.8 289.7a2.24 1.12 -30 1 0 3.87 -2.24a2.24 1.12 -30 1 0 -3.87 2.24zM294.6 289.6a2.24 1.12 0 1 0 4.47 0.00a2.24 1.12 0 1 0 -4.47 -0.00zM306.7 288.6a2.24 1.12 0 1 0 4.47 0.00a2.24 1.12 0 1 0 -4.47 -0.00zM316.1 285.4a2.24 1.12 30 1 0 3.87 2.24a2.24 1.12 30 1 0 -3.87 -2.24zM323.2 283.4a2.24 1.12 30 1 0 3.87 2.24a2.24 1.12 30 1 0 -3.87 -2.24zM331.3 286.4a2.24 1.12 30 1 0 3.87 2.24a2.24 1.12 30 1 0 -3.87 -2.24zM338.4 285.4a2.24 1.12 30 1 0 3.87 2.24a2.24 1.12 30 1 0 -3.87 -2.24zM235.1 282.6a2.24 1.12 -30 1 0 3.87 -2.24a2.24 1.12 -30 1 0 -3.87 2.24zM242.2 280.6a2.24 1.12 -30 1 0 3.87 -2.24a2.24 1.12 -30 1 0 -3.87 2.24zM247.3 279.6a2.24 1.12 -30 1 0 3.87 -2.24a2.24 1.12 -30 1 0 -3.87 2.24zM256.4 281.6a2.24 1.12 -30 1 0 3.87 -2.24a2.24 1.12 -30 1 0 -3.87 2.24zM264.5 279.6a2.24 1.12 -30 1 0 3.87 -2.24a2.24 1.12 -30 1 0 -3.87 2.24zM270.6 281.5a1.86 1.12 0 1 0 3.73 0.00a1.86 1.12 0 1 0 -3.73 -0.00zM286.8 279.5a1.86 1.12 0 1 0 3.73 0.00a1.86 1.12 0 1 0 -3.73 -0.00zM290.8 284.6a2.24 1.12 -30 1 0 3.87 -2.24a2.24 1.12 -30 1 0 -3.87 2.24zM294.9 279.6a2.24 1.12 -30 1 0 3.87 -2.24a2.24 1.12 -30 1 0 -3.87 2.24zM310.0 280.4a2.24 1.12 30 1 0 3.87 2.24a2.24 1.12 30 1 0 -3.87 -2.24zM315.1 277.3a2.24 1.12 30 1 0 3.87 2.24a2.24 1.12 30 1 0 -3.87 -2.24zM322.2 278.3a2.24 1.12 30 1 0 3.87 2.24a2.24 1.12 30 1 0 -3.87 -2.24zM329.3 279.4a2.24 1.12 30 1 0 3.87 2.24a2.24 1.12 30 1 0 -3.87 -2.24zM337.4 277.3a2.24 1.12 30 1 0 3.87 2.24a2.24 1.12 30 1 0 -3.87 -2.24zM235.2 271.4a1.86 1.12 0 1 0 3.73 0.00a1.86 1.12 0 1 0 -3.73 -0.00zM246.3 272.4a1.86 1.12 0 1 0 3.73 0.00a1.86 1.12 0 1 0 -3.73 -0.00zM262.5 269.4a2.24 1.12 -30 1 0 3.87 -2.24a2.24 1.12 -30 1 0 -3.87 2.24zM268.5 271.5a2.24 1.12 -30 1 0 3.87 -2.24a2.24 1.12 -30 1 0 -3.87 2.24zM288.9 273.4a1.86 1.12 0 1 0 3.73 0.00a1.86 1.12 0 1 0 -3.73 -0.00zM292.8 271.5a2.24 1.12 -30 1 0 3.87 -2.24a2.24 1.12 -30 1 0 -3.87 2.24zM309.0 270.2a2.24 1.12 30 1 0 3.87 2.24a2.24 1.12 30 1 0 -3.87 -2.24zM315.1 268.2a2.24 1.12 30 1 0 3.87 2.24a2.24 1.12 30 1 0 -3.87 -2.24zM321.2 271.3a2.24 1.12 30 1 0 3.87 2.24a2.24 1.12 30 1 0 -3.87 -2.24zM327.2 267.2a2.24 1.12 30 1 0 3.87 2.24a2.24 1.12 30 1 0 -3.87 -2.24zM333.3 270.2a2.24 1.12 30 1 0 3.87 2.24a2.24 1.12 30 1 0 -3.87 -2.24zM340.4 267.2a2.24 1.12 30 1 0 3.87 2.24a2.24 1.12 30 1 0 -3.87 -2.24zM270.3 295.7a2.24 1.12 0 1 0 4.47 0.00a2.24 1.12 0 1 0 -4.47 -0.00zM280.4 297.7a2.24 1.12 0 1 0 4.47 0.00a2.24 1.12 0 1 0 -4.47 -0.00zM284.8 289.6a1.86 1.12 0 1 0 3.73 0.00a1.86 1.12 0 1 0 -3.73 -0.00zM276.7 290.6a1.86 1.12 0 1 0 3.73 0.00a1.86 1.12 0 1 0 -3.73 -0.00zM246.3 317.0a2.24 1.12 -30 1 0 3.87 -2.24a2.24 1.12 -30 1 0 -3.87 2.24zM262.2 312.9a2.24 1.12 0 1 0 4.47 0.00a2.24 1.12 0 1 0 -4.47 -0.00zM303.7 313.9a2.24 1.12 0 1 0 4.47 0.00a2.24 1.12 0 1 0 -4.47 -0.00zM305.0 281.5a1.86 1.12 0 1 0 3.73 0.00a1.86 1.12 0 1 0 -3.73 -0.00z"/><path fill="#0098ee" d="M303.6 234.1a2.40 1.92 20 1 0 4.51 1.64a2.40 1.92 20 1 0 -4.51 -1.64zM303.2 236.2a1.20 0.96 40 1 0 1.84 1.54a1.20 0.96 40 1 0 -1.84 -1.54zM306.8 237.7a1.20 0.96 -40 1 0 1.84 -1.54a1.20 0.96 -40 1 0 -1.84 1.54zM250.9 265.1a2.40 1.92 0 1 0 4.79 0.00a2.40 1.92 0 1 0 -4.79 -0.00zM253.4 265.1a1.44 1.44 0 1 0 2.88 0.00a1.44 1.44 0 1 0 -2.88 -0.00zM300.3 238.8a2.21 0.83 45 1 0 3.12 3.12a2.21 0.83 45 1 0 -3.12 -3.12zM308.4 241.9a2.21 0.83 -45 1 0 3.12 -3.12a2.21 0.83 -45 1 0 -3.12 3.12zM255.4 263.8a2.21 0.83 -30 1 0 3.82 -2.21a2.21 0.83 -30 1 0 -3.82 2.21zM278.1 250.9a1.65 1.65 0 1 0 3.31 0.00a1.65 1.65 0 1 0 -3.31 -0.00zM301.5 265.5a1.93 1.93 0 1 0 3.86 0.00a1.93 1.93 0 1 0 -3.86 -0.00zM300.6 238.3a1.68 0.96 40 1 0 2.57 2.16a1.68 0.96 40 1 0 -2.57 -2.16zM302.7 231.6a1.65 1.10 -70 1 0 1.13 -3.11a1.65 1.10 -70 1 0 -1.13 3.11zM308.1 227.8a1.65 1.10 60 1 0 1.65 2.86a1.65 1.10 60 1 0 -1.65 -2.86zM311.1 221.2a2.48 0.83 70 1 0 1.70 4.66a2.48 0.83 70 1 0 -1.70 -4.66zM314.2 224.4a2.48 0.83 80 1 0 0.86 4.89a2.48 0.83 80 1 0 -0.86 -4.89zM297.4 240.6a1.65 0.83 30 1 0 2.86 1.65a1.65 0.83 30 1 0 -2.86 -1.65zM240.3 262.0a0.83 2.76 0 1 0 1.65 0.00a0.83 2.76 0 1 0 -1.65 -0.00zM243.3 260.6a0.83 2.48 0 1 0 1.65 0.00a0.83 2.48 0 1 0 -1.65 -0.00zM257.1 260.2a1.65 0.83 40 1 0 2.53 2.13a1.65 0.83 40 1 0 -2.53 -2.13zM291.3 220.3a1.65 1.10 30 1 0 2.86 1.65a1.65 1.10 30 1 0 -2.86 -1.65zM329.5 220.1a1.93 1.10 -30 1 0 3.34 -1.93a1.93 1.10 -30 1 0 -3.34 1.93zM339.9 229.1a1.65 1.10 -30 1 0 2.86 -1.65a1.65 1.10 -30 1 0 -2.86 1.65zM322.5 240.3a1.93 1.10 -30 1 0 3.34 -1.93a1.93 1.10 -30 1 0 -3.34 1.93zM248.6 245.5a1.93 1.10 30 1 0 3.34 1.93a1.93 1.10 30 1 0 -3.34 -1.93zM303.6 296.9a2.40 1.92 -20 1 0 4.51 -1.64a2.40 1.92 -20 1 0 -4.51 1.64zM303.2 294.8a1.20 0.96 -40 1 0 1.84 -1.54a1.20 0.96 -40 1 0 -1.84 1.54zM306.8 293.3a1.20 0.96 40 1 0 1.84 1.54a1.20 0.96 40 1 0 -1.84 -1.54zM300.3 292.2a2.21 0.83 -45 1 0 3.12 -3.12a2.21 0.83 -45 1 0 -3.12 3.12zM308.4 289.0a2.21 0.83 45 1 0 3.12 3.12a2.21 0.83 45 1 0 -3.12 -3.12zM255.4 267.2a2.21 0.83 30 1 0 3.82 2.21a2.21 0.83 30 1 0 -3.82 -2.21zM278.1 280.1a1.65 1.65 0 1 0 3.31 0.00a1.65 1.65 0 1 0 -3.31 -0.00zM300.6 292.7a1.68 0.96 -40 1 0 2.57 -2.16a1.68 0.96 -40 1 0 -2.57 2.16zM302.7 299.4a1.65 1.10 70 1 0 1.13 3.11a1.65 1.10 70 1 0 -1.13 -3.11zM308.1 303.2a1.65 1.10 -60 1 0 1.65 -2.86a1.65 1.10 -60 1 0 -1.65 2.86zM311.1 309.7a2.48 0.83 -70 1 0 1.70 -4.66a2.48 0.83 -70 1 0 -1.70 4.66zM314.2 306.6a2.48 0.83 -80 1 0 0.86 -4.89a2.48 0.83 -80 1 0 -0.86 4.89zM297.4 290.4a1.65 0.83 -30 1 0 2.86 -1.65a1.65 0.83 -30 1 0 -2.86 1.65zM240.3 268.9a0.83 2.76 0 1 0 1.65 0.00a0.83 2.76 0 1 0 -1.65 -0.00zM243.3 270.3a0.83 2.48 0 1 0 1.65 0.00a0.83 2.48 0 1 0 -1.65 -0.00zM257.1 270.8a1.65 0.83 -40 1 0 2.53 -2.13a1.65 0.83 -40 1 0 -2.53 2.13zM291.3 310.7a1.65 1.10 -30 1 0 2.86 -1.65a1.65 1.10 -30 1 0 -2.86 1.65zM329.5 310.9a1.93 1.10 30 1 0 3.34 1.93a1.93 1.10 30 1 0 -3.34 -1.93zM339.9 301.9a1.65 1.10 30 1 0 2.86 1.65a1.65 1.10 30 1 0 -2.86 -1.65zM322.5 290.6a1.93 1.10 30 1 0 3.34 1.93a1.93 1.10 30 1 0 -3.34 -1.93zM248.6 285.5a1.93 1.10 -30 1 0 3.34 -1.93a1.93 1.10 -30 1 0 -3.34 1.93z"/><path fill="#0054d0" d="M304.2 234.3a1.78 1.43 20 1 0 3.35 1.22a1.78 1.43 20 1 0 -3.35 -1.22zM303.4 236.4a0.89 0.71 40 1 0 1.36 1.15a0.89 0.71 40 1 0 -1.36 -1.15zM307.0 237.5a0.89 0.71 -40 1 0 1.36 -1.15a0.89 0.71 -40 1 0 -1.36 1.15zM251.5 265.1a1.78 1.43 0 1 0 3.56 0.00a1.78 1.43 0 1 0 -3.56 -0.00zM253.8 265.1a1.07 1.07 0 1 0 2.14 0.00a1.07 1.07 0 1 0 -2.14 -0.00zM300.9 238.6a1.25 0.71 40 1 0 1.91 1.60a1.25 0.71 40 1 0 -1.91 -1.60zM304.2 296.7a1.78 1.43 -20 1 0 3.35 -1.22a1.78 1.43 -20 1 0 -3.35 1.22zM303.4 294.6a0.89 0.71 -40 1 0 1.36 -1.15a0.89 0.71 -40 1 0 -1.36 1.15zM307.0 293.5a0.89 0.71 40 1 0 1.36 1.15a0.89 0.71 40 1 0 -1.36 -1.15zM300.9 292.4a1.25 0.71 -40 1 0 1.91 -1.60a1.25 0.71 -40 1 0 -1.91 1.60z"/><path fill="#001470" d="M304.6 234.5a1.36 1.09 20 1 0 2.56 0.93a1.36 1.09 20 1 0 -2.56 -0.93zM303.6 236.5a0.68 0.54 40 1 0 1.04 0.87a0.68 0.54 40 1 0 -1.04 -0.87zM307.2 237.4a0.68 0.54 -40 1 0 1.04 -0.87a0.68 0.54 -40 1 0 -1.04 0.87zM251.9 265.1a1.36 1.09 0 1 0 2.72 0.00a1.36 1.09 0 1 0 -2.72 -0.00zM254.1 265.1a0.82 0.82 0 1 0 1.63 0.00a0.82 0.82 0 1 0 -1.63 -0.00zM304.6 296.5a1.36 1.09 -20 1 0 2.56 -0.93a1.36 1.09 -20 1 0 -2.56 0.93zM303.6 294.5a0.68 0.54 -40 1 0 1.04 -0.87a0.68 0.54 -40 1 0 -1.04 0.87zM307.2 293.6a0.68 0.54 40 1 0 1.04 0.87a0.68 0.54 40 1 0 -1.04 -0.87z"/><path fill="#000018" d="M305.1 234.6a0.81 0.65 20 1 0 1.52 0.55a0.81 0.65 20 1 0 -1.52 -0.55zM303.8 236.7a0.40 0.32 40 1 0 0.62 0.52a0.40 0.32 40 1 0 -0.62 -0.52zM307.4 237.2a0.40 0.32 -40 1 0 0.62 -0.52a0.40 0.32 -40 1 0 -0.62 0.52zM252.4 265.1a0.81 0.65 0 1 0 1.62 0.00a0.81 0.65 0 1 0 -1.62 -0.00zM254.4 265.1a0.49 0.49 0 1 0 0.97 0.00a0.49 0.49 0 1 0 -0.97 -0.00zM305.1 296.3a0.81 0.65 -20 1 0 1.52 -0.55a0.81 0.65 -20 1 0 -1.52 0.55zM303.8 294.3a0.40 0.32 -40 1 0 0.62 -0.52a0.40 0.32 -40 1 0 -0.62 0.52zM307.4 293.8a0.40 0.32 40 1 0 0.62 0.52a0.40 0.32 40 1 0 -0.62 -0.52z"/></g><text x="255.10" y="238.90" font-size="17.4" font-family="'Liberation Sans', sans-serif" fill="#f00" textLength="31.60" lengthAdjust="spacingAndGlyphs">2nd</text><circle cx="279.5" cy="251.3" r="7.5" fill="none" stroke="#f02020" stroke-width="1.1" stroke-dasharray="1.1 1.1"/><circle cx="304.0" cy="266.0" r="7.5" fill="none" stroke="#f02020" stroke-width="1.1" stroke-dasharray="1.1 1.1"/><circle cx="279.5" cy="280.7" r="7.5" fill="none" stroke="#f02020" stroke-width="1.1" stroke-dasharray="1.1 1.1"/><path d="M232.90 209.8v-4.5M232.90 320.8v4.5M232.9 209.80h-4.5M343.9 209.80h4.5M238.45 209.8v-2.3M238.45 320.8v2.3M232.9 215.35h-2.3M343.9 215.35h2.3M244.00 209.8v-2.3M244.00 320.8v2.3M232.9 220.90h-2.3M343.9 220.90h2.3M249.55 209.8v-2.3M249.55 320.8v2.3M232.9 226.45h-2.3M343.9 226.45h2.3M255.10 209.8v-2.3M255.10 320.8v2.3M232.9 232.00h-2.3M343.9 232.00h2.3M260.65 209.8v-4.5M260.65 320.8v4.5M232.9 237.55h-4.5M343.9 237.55h4.5M266.20 209.8v-2.3M266.20 320.8v2.3M232.9 243.10h-2.3M343.9 243.10h2.3M271.75 209.8v-2.3M271.75 320.8v2.3M232.9 248.65h-2.3M343.9 248.65h2.3M277.30 209.8v-2.3M277.30 320.8v2.3M232.9 254.20h-2.3M343.9 254.20h2.3M282.85 209.8v-2.3M282.85 320.8v2.3M232.9 259.75h-2.3M343.9 259.75h2.3M288.40 209.8v-4.5M288.40 320.8v4.5M232.9 265.30h-4.5M343.9 265.30h4.5M293.95 209.8v-2.3M293.95 320.8v2.3M232.9 270.85h-2.3M343.9 270.85h2.3M299.50 209.8v-2.3M299.50 320.8v2.3M232.9 276.40h-2.3M343.9 276.40h2.3M305.05 209.8v-2.3M305.05 320.8v2.3M232.9 281.95h-2.3M343.9 281.95h2.3M310.60 209.8v-2.3M310.60 320.8v2.3M232.9 287.50h-2.3M343.9 287.50h2.3M316.15 209.8v-4.5M316.15 320.8v4.5M232.9 293.05h-4.5M343.9 293.05h4.5M321.70 209.8v-2.3M321.70 320.8v2.3M232.9 298.60h-2.3M343.9 298.60h2.3M327.25 209.8v-2.3M327.25 320.8v2.3M232.9 304.15h-2.3M343.9 304.15h2.3M332.80 209.8v-2.3M332.80 320.8v2.3M232.9 309.70h-2.3M343.9 309.70h2.3M338.35 209.8v-2.3M338.35 320.8v2.3M232.9 315.25h-2.3M343.9 315.25h2.3M343.90 209.8v-4.5M343.90 320.8v4.5M232.9 320.80h-4.5M343.9 320.80h4.5" stroke="#555" stroke-width="1" fill="none"/><text x="227.30" y="214.15" font-size="12.3" font-family="'Liberation Sans', sans-serif" font-weight="bold" text-anchor="end" textLength="15.20" lengthAdjust="spacingAndGlyphs">10</text><text x="227.30" y="241.90" font-size="12.3" font-family="'Liberation Sans', sans-serif" font-weight="bold" text-anchor="end" textLength="6.80" lengthAdjust="spacingAndGlyphs">5</text><text x="227.30" y="269.65" font-size="12.3" font-family="'Liberation Sans', sans-serif" font-weight="bold" text-anchor="end" textLength="6.80" lengthAdjust="spacingAndGlyphs">0</text><text x="227.30" y="297.40" font-size="12.3" font-family="'Liberation Sans', sans-serif" font-weight="bold" text-anchor="end" textLength="11.60" lengthAdjust="spacingAndGlyphs">-5</text><text x="227.30" y="325.15" font-size="12.3" font-family="'Liberation Sans', sans-serif" font-weight="bold" text-anchor="end" textLength="19.80" lengthAdjust="spacingAndGlyphs">-10</text><text x="233.70" y="336.30" font-size="12.3" font-family="'Liberation Sans', sans-serif" font-weight="bold" text-anchor="middle" textLength="15.20" lengthAdjust="spacingAndGlyphs">10</text><text x="260.90" y="336.30" font-size="12.3" font-family="'Liberation Sans', sans-serif" font-weight="bold" text-anchor="middle" textLength="6.80" lengthAdjust="spacingAndGlyphs">5</text><text x="288.10" y="336.30" font-size="12.3" font-family="'Liberation Sans', sans-serif" font-weight="bold" text-anchor="middle" textLength="6.80" lengthAdjust="spacingAndGlyphs">0</text><text x="315.00" y="336.30" font-size="12.3" font-family="'Liberation Sans', sans-serif" font-weight="bold" text-anchor="middle" textLength="11.60" lengthAdjust="spacingAndGlyphs">-5</text><text x="342.20" y="336.30" font-size="12.3" font-family="'Liberation Sans', sans-serif" font-weight="bold" text-anchor="middle" textLength="19.80" lengthAdjust="spacingAndGlyphs">-10</text><text x="208.30" y="354.20" font-size="11.3" font-family="'Liberation Sans', sans-serif" font-weight="bold" textLength="77.90" lengthAdjust="spacingAndGlyphs">Position along</text><text x="290.30" y="355.40" font-size="16" font-family="'Liberation Serif', serif" fill="#1a1a1a" stroke="#1a1a1a" stroke-width="0.3">[</text><text x="295.70" y="354.50" font-size="14.6" font-family="'Liberation Serif', serif" fill="#1a1a1a" stroke="#1a1a1a" stroke-width="0.3">1</text><path d="M296.40 342.30h4.3" stroke="#1a1a1a" stroke-width="1.3"/><text x="302.30" y="354.50" font-size="14.6" font-family="'Liberation Serif', serif" fill="#1a1a1a" textLength="13.40" lengthAdjust="spacingAndGlyphs" stroke="#1a1a1a" stroke-width="0.3">10</text><text x="316.30" y="355.40" font-size="16" font-family="'Liberation Serif', serif" fill="#1a1a1a" stroke="#1a1a1a" stroke-width="0.3">]</text><text x="321.30" y="357.50" font-size="8.2" font-family="'Liberation Sans', sans-serif" font-weight="bold" textLength="15.00" lengthAdjust="spacingAndGlyphs">HEX</text><text x="339.30" y="354.60" font-size="11.3" font-family="'Liberation Sans', sans-serif" font-weight="bold">(</text><text x="345.30" y="354.20" font-size="11.3" font-family="'Liberation Sans', sans-serif" font-weight="bold" textLength="9.60" lengthAdjust="spacingAndGlyphs">Å</text><text x="356.60" y="354.60" font-size="11.3" font-family="'Liberation Sans', sans-serif" font-weight="bold">)</text><g transform="translate(200.80 337.90) rotate(-90)"><text x="-0.40" y="0.00" font-size="11.3" font-family="'Liberation Sans', sans-serif" font-weight="bold" textLength="77.90" lengthAdjust="spacingAndGlyphs">Position along</text><text x="81.60" y="1.20" font-size="16" font-family="'Liberation Serif', serif" fill="#1a1a1a" stroke="#1a1a1a" stroke-width="0.3">[</text><text x="87.00" y="0.30" font-size="14.6" font-family="'Liberation Serif', serif" fill="#1a1a1a" stroke="#1a1a1a" stroke-width="0.3">1</text><path d="M87.70 -11.90h4.3" stroke="#1a1a1a" stroke-width="1.3"/><path d="M94.40 -11.90h4.3" stroke="#1a1a1a" stroke-width="1.3"/><text x="93.60" y="0.30" font-size="14.6" font-family="'Liberation Serif', serif" fill="#1a1a1a" textLength="13.40" lengthAdjust="spacingAndGlyphs" stroke="#1a1a1a" stroke-width="0.3">10</text><text x="107.60" y="1.20" font-size="16" font-family="'Liberation Serif', serif" fill="#1a1a1a" stroke="#1a1a1a" stroke-width="0.3">]</text><text x="112.60" y="3.30" font-size="8.2" font-family="'Liberation Sans', sans-serif" font-weight="bold" textLength="15.00" lengthAdjust="spacingAndGlyphs">HEX</text><text x="130.60" y="0.40" font-size="11.3" font-family="'Liberation Sans', sans-serif" font-weight="bold">(</text><text x="136.60" y="0.00" font-size="11.3" font-family="'Liberation Sans', sans-serif" font-weight="bold" textLength="9.60" lengthAdjust="spacingAndGlyphs">Å</text><text x="147.90" y="0.40" font-size="11.3" font-family="'Liberation Sans', sans-serif" font-weight="bold">)</text></g><text x="285.80" y="372.50" font-size="11.8" font-family="'Liberation Sans', sans-serif">(f)</text><rect x="417.7" y="210.0" width="111.0" height="111.0" fill="#fff" stroke="#555" stroke-width="1"/><clipPath id="pcg"><rect x="418.2" y="210.5" width="110.0" height="110.0"/></clipPath><g clip-path="url(#pcg)"><path fill="#00e0ff" d="M481.6 209.7a1.33 2.18 82 1 0 0.35 2.65a1.33 2.18 82 1 0 -0.35 -2.65zM481.4 213.8a1.33 2.40 82 1 0 0.35 2.65a1.33 2.40 82 1 0 -0.35 -2.65zM482.6 217.8a1.33 2.62 82 1 0 0.35 2.65a1.33 2.62 82 1 0 -0.35 -2.65zM482.5 221.9a1.33 2.84 82 1 0 0.35 2.65a1.33 2.84 82 1 0 -0.35 -2.65zM444.6 213.7a1.33 2.18 61 1 0 1.29 2.34a1.33 2.18 61 1 0 -1.29 -2.34zM445.8 217.4a1.33 2.40 61 1 0 1.29 2.34a1.33 2.40 61 1 0 -1.29 -2.34zM448.2 220.3a1.33 2.62 61 1 0 1.29 2.34a1.33 2.62 61 1 0 -1.29 -2.34zM449.5 224.0a1.33 2.84 61 1 0 1.29 2.34a1.33 2.84 61 1 0 -1.29 -2.34zM451.9 227.0a1.33 2.29 61 1 0 1.29 2.34a1.33 2.29 61 1 0 -1.29 -2.34zM453.1 230.6a1.33 2.51 61 1 0 1.29 2.34a1.33 2.51 61 1 0 -1.29 -2.34zM455.5 233.6a1.33 2.73 61 1 0 1.29 2.34a1.33 2.73 61 1 0 -1.29 -2.34zM420.7 244.3a1.33 1.78 40 1 0 2.05 1.71a1.33 1.78 40 1 0 -2.05 -1.71zM423.8 247.9a1.33 1.96 40 1 0 2.05 1.71a1.33 1.96 40 1 0 -2.05 -1.71zM427.9 250.4a1.33 2.14 40 1 0 2.05 1.71a1.33 2.14 40 1 0 -2.05 -1.71zM504.5 227.7a1.33 1.78 39 1 0 2.07 1.68a1.33 1.78 39 1 0 -2.07 -1.68zM506.9 230.6a1.33 1.96 39 1 0 2.07 1.68a1.33 1.96 39 1 0 -2.07 -1.68zM510.1 232.3a1.33 2.14 39 1 0 2.07 1.68a1.33 2.14 39 1 0 -2.07 -1.68zM512.5 235.2a1.33 2.32 39 1 0 2.07 1.68a1.33 2.32 39 1 0 -2.07 -1.68zM506.4 265.1a1.33 1.78 0 1 0 2.67 0.00a1.33 1.78 0 1 0 -2.67 -0.00zM510.6 265.8a1.33 1.96 0 1 0 2.67 0.00a1.33 1.96 0 1 0 -2.67 -0.00zM514.9 265.1a1.33 2.14 0 1 0 2.67 0.00a1.33 2.14 0 1 0 -2.67 -0.00zM519.1 265.8a1.33 2.32 0 1 0 2.67 0.00a1.33 2.32 0 1 0 -2.67 -0.00zM523.4 265.1a1.33 1.87 0 1 0 2.67 0.00a1.33 1.87 0 1 0 -2.67 -0.00zM480.9 321.2a1.33 2.18 -82 1 0 0.35 -2.65a1.33 2.18 -82 1 0 -0.35 2.65zM482.1 317.3a1.33 2.40 -82 1 0 0.35 -2.65a1.33 2.40 -82 1 0 -0.35 2.65zM481.9 313.1a1.33 2.62 -82 1 0 0.35 -2.65a1.33 2.62 -82 1 0 -0.35 2.65zM483.2 309.2a1.33 2.84 -82 1 0 0.35 -2.65a1.33 2.84 -82 1 0 -0.35 2.65zM444.0 316.9a1.33 2.18 -61 1 0 1.29 -2.34a1.33 2.18 -61 1 0 -1.29 2.34zM446.4 313.9a1.33 2.40 -61 1 0 1.29 -2.34a1.33 2.40 -61 1 0 -1.29 2.34zM447.6 310.3a1.33 2.62 -61 1 0 1.29 -2.34a1.33 2.62 -61 1 0 -1.29 2.34zM450.1 307.3a1.33 2.84 -61 1 0 1.29 -2.34a1.33 2.84 -61 1 0 -1.29 2.34zM451.3 303.7a1.33 2.29 -61 1 0 1.29 -2.34a1.33 2.29 -61 1 0 -1.29 2.34zM453.7 300.7a1.33 2.51 -61 1 0 1.29 -2.34a1.33 2.51 -61 1 0 -1.29 2.34zM454.9 297.1a1.33 2.73 -61 1 0 1.29 -2.34a1.33 2.73 -61 1 0 -1.29 2.34zM420.2 286.1a1.33 1.78 -40 1 0 2.05 -1.71a1.33 1.78 -40 1 0 -2.05 1.71zM424.3 283.6a1.33 1.96 -40 1 0 2.05 -1.71a1.33 1.96 -40 1 0 -2.05 1.71zM427.5 280.0a1.33 2.14 -40 1 0 2.05 -1.71a1.33 2.14 -40 1 0 -2.05 1.71zM504.0 302.7a1.33 1.78 -39 1 0 2.07 -1.68a1.33 1.78 -39 1 0 -2.07 1.68zM507.3 301.0a1.33 1.96 -39 1 0 2.07 -1.68a1.33 1.96 -39 1 0 -2.07 1.68zM509.7 298.1a1.33 2.14 -39 1 0 2.07 -1.68a1.33 2.14 -39 1 0 -2.07 1.68zM513.0 296.4a1.33 2.32 -39 1 0 2.07 -1.68a1.33 2.32 -39 1 0 -2.07 1.68zM479.3 250.9a2.11 2.11 0 1 0 4.21 0.00a2.11 2.11 0 1 0 -4.21 -0.00zM454.6 265.9a2.53 2.11 0 1 0 5.05 0.00a2.53 2.11 0 1 0 -5.05 -0.00zM478.6 213.3a2.53 1.68 -30 1 0 4.38 -2.53a2.53 1.68 -30 1 0 -4.38 2.53zM479.9 216.8a3.37 1.68 -30 1 0 5.84 -3.37a3.37 1.68 -30 1 0 -5.84 3.37zM478.5 216.4a3.37 1.68 30 1 0 5.84 3.37a3.37 1.68 30 1 0 -5.84 -3.37zM480.9 222.0a2.95 1.68 -30 1 0 5.11 -2.95a2.95 1.68 -30 1 0 -5.11 2.95zM480.0 222.8a2.24 1.12 0 1 0 4.47 0.00a2.24 1.12 0 1 0 -4.47 -0.00zM476.9 216.1a1.86 1.12 0 1 0 3.73 0.00a1.86 1.12 0 1 0 -3.73 -0.00zM484.0 218.1a1.86 1.12 0 1 0 3.73 0.00a1.86 1.12 0 1 0 -3.73 -0.00zM442.0 217.0a2.95 1.68 -30 1 0 5.11 -2.95a2.95 1.68 -30 1 0 -5.11 2.95zM444.0 221.2a2.95 1.68 -30 1 0 5.11 -2.95a2.95 1.68 -30 1 0 -5.11 2.95zM443.0 226.3a2.95 1.68 -30 1 0 5.11 -2.95a2.95 1.68 -30 1 0 -5.11 2.95zM448.1 227.3a2.95 2.11 -30 1 0 5.11 -2.95a2.95 2.11 -30 1 0 -5.11 2.95zM450.0 222.6a2.53 1.68 -30 1 0 4.38 -2.53a2.53 1.68 -30 1 0 -4.38 2.53zM449.7 232.1a3.37 2.11 -30 1 0 5.84 -3.37a3.37 2.11 -30 1 0 -5.84 3.37zM452.0 235.8a3.79 2.95 -30 1 0 6.56 -3.79a3.79 2.95 -30 1 0 -6.56 3.79zM447.2 229.2a2.24 2.24 0 1 0 4.47 0.00a2.24 2.24 0 1 0 -4.47 -0.00zM454.6 228.2a1.86 1.12 0 1 0 3.73 0.00a1.86 1.12 0 1 0 -3.73 -0.00zM419.9 244.6a2.53 1.68 30 1 0 4.38 2.53a2.53 1.68 30 1 0 -4.38 -2.53zM422.1 246.4a2.95 1.68 30 1 0 5.11 2.95a2.95 1.68 30 1 0 -5.11 -2.95zM424.8 249.2a3.37 2.11 30 1 0 5.84 3.37a3.37 2.11 30 1 0 -5.84 -3.37zM419.2 249.5a1.86 1.12 0 1 0 3.73 0.00a1.86 1.12 0 1 0 -3.73 -0.00zM427.3 247.5a1.86 1.12 0 1 0 3.73 0.00a1.86 1.12 0 1 0 -3.73 -0.00zM503.5 228.8a2.95 1.68 30 1 0 5.11 2.95a2.95 1.68 30 1 0 -5.11 -2.95zM506.2 232.6a3.37 2.11 30 1 0 5.84 3.37a3.37 2.11 30 1 0 -5.84 -3.37zM510.0 231.6a2.53 1.68 30 1 0 4.38 2.53a2.53 1.68 30 1 0 -4.38 -2.53zM512.0 228.0a2.53 1.68 30 1 0 4.38 2.53a2.53 1.68 30 1 0 -4.38 -2.53zM508.9 237.3a2.24 1.12 0 1 0 4.47 0.00a2.24 1.12 0 1 0 -4.47 -0.00zM502.2 227.2a1.86 1.12 0 1 0 3.73 0.00a1.86 1.12 0 1 0 -3.73 -0.00zM515.4 235.3a1.86 1.12 0 1 0 3.73 0.00a1.86 1.12 0 1 0 -3.73 -0.00zM505.8 265.5a3.37 3.37 0 1 0 6.74 0.00a3.37 3.37 0 1 0 -6.74 -0.00zM513.3 265.5a2.95 2.95 0 1 0 5.90 0.00a2.95 2.95 0 1 0 -5.90 -0.00zM518.2 265.5a2.11 2.53 0 1 0 4.21 0.00a2.11 2.53 0 1 0 -4.21 -0.00zM522.2 265.5a1.49 1.86 0 1 0 2.98 0.00a1.49 1.86 0 1 0 -2.98 -0.00zM510.3 262.7a1.86 1.12 0 1 0 3.73 0.00a1.86 1.12 0 1 0 -3.73 -0.00zM430.0 215.3a2.53 1.26 -30 1 0 4.38 -2.53a2.53 1.26 -30 1 0 -4.38 2.53zM435.4 213.0a1.86 1.12 0 1 0 3.73 0.00a1.86 1.12 0 1 0 -3.73 -0.00zM441.1 218.4a2.53 1.26 -30 1 0 4.38 -2.53a2.53 1.26 -30 1 0 -4.38 2.53zM457.3 213.0a2.24 1.12 0 1 0 4.47 0.00a2.24 1.12 0 1 0 -4.47 -0.00zM463.4 222.4a2.53 1.26 -30 1 0 4.38 -2.53a2.53 1.26 -30 1 0 -4.38 2.53zM467.8 228.2a1.86 1.12 0 1 0 3.73 0.00a1.86 1.12 0 1 0 -3.73 -0.00zM459.4 240.6a2.53 1.26 -30 1 0 4.38 -2.53a2.53 1.26 -30 1 0 -4.38 2.53zM468.8 239.4a1.86 1.12 0 1 0 3.73 0.00a1.86 1.12 0 1 0 -3.73 -0.00zM475.9 237.3a1.86 1.12 0 1 0 3.73 0.00a1.86 1.12 0 1 0 -3.73 -0.00zM485.7 234.1a2.53 1.26 30 1 0 4.38 2.53a2.53 1.26 30 1 0 -4.38 -2.53zM492.1 241.4a1.86 1.12 0 1 0 3.73 0.00a1.86 1.12 0 1 0 -3.73 -0.00zM498.1 239.4a1.86 1.12 0 1 0 3.73 0.00a1.86 1.12 0 1 0 -3.73 -0.00zM501.9 244.2a2.53 1.26 30 1 0 4.38 2.53a2.53 1.26 30 1 0 -4.38 -2.53zM516.4 243.4a1.86 1.12 0 1 0 3.73 0.00a1.86 1.12 0 1 0 -3.73 -0.00zM520.4 247.5a1.86 1.12 0 1 0 3.73 0.00a1.86 1.12 0 1 0 -3.73 -0.00zM524.5 221.1a1.86 1.12 0 1 0 3.73 0.00a1.86 1.12 0 1 0 -3.73 -0.00zM520.1 211.8a2.53 1.26 30 1 0 4.38 2.53a2.53 1.26 30 1 0 -4.38 -2.53zM512.3 217.1a1.86 1.12 0 1 0 3.73 0.00a1.86 1.12 0 1 0 -3.73 -0.00zM496.1 221.1a1.86 1.12 0 1 0 3.73 0.00a1.86 1.12 0 1 0 -3.73 -0.00zM490.0 215.1a1.86 1.12 0 1 0 3.73 0.00a1.86 1.12 0 1 0 -3.73 -0.00zM439.1 246.7a2.53 1.26 -30 1 0 4.38 -2.53a2.53 1.26 -30 1 0 -4.38 2.53zM433.4 237.3a1.86 1.12 0 1 0 3.73 0.00a1.86 1.12 0 1 0 -3.73 -0.00zM419.2 237.3a1.86 1.12 0 1 0 3.73 0.00a1.86 1.12 0 1 0 -3.73 -0.00zM429.3 257.6a1.86 1.12 0 1 0 3.73 0.00a1.86 1.12 0 1 0 -3.73 -0.00zM437.4 259.6a1.86 1.12 0 1 0 3.73 0.00a1.86 1.12 0 1 0 -3.73 -0.00zM445.5 255.6a1.86 1.12 0 1 0 3.73 0.00a1.86 1.12 0 1 0 -3.73 -0.00zM461.7 257.6a1.86 1.12 0 1 0 3.73 0.00a1.86 1.12 0 1 0 -3.73 -0.00zM465.8 252.5a1.86 1.12 0 1 0 3.73 0.00a1.86 1.12 0 1 0 -3.73 -0.00zM473.9 259.6a1.86 1.12 0 1 0 3.73 0.00a1.86 1.12 0 1 0 -3.73 -0.00zM485.7 258.4a2.53 1.26 30 1 0 4.38 2.53a2.53 1.26 30 1 0 -4.38 -2.53zM490.0 255.6a1.86 1.12 0 1 0 3.73 0.00a1.86 1.12 0 1 0 -3.73 -0.00zM495.1 249.5a1.86 1.12 0 1 0 3.73 0.00a1.86 1.12 0 1 0 -3.73 -0.00zM500.2 255.6a1.86 1.12 0 1 0 3.73 0.00a1.86 1.12 0 1 0 -3.73 -0.00zM503.6 258.6a2.53 1.26 0 1 0 5.05 0.00a2.53 1.26 0 1 0 -5.05 -0.00zM467.8 247.5a1.86 1.12 0 1 0 3.73 0.00a1.86 1.12 0 1 0 -3.73 -0.00zM471.2 243.4a2.53 1.26 0 1 0 5.05 0.00a2.53 1.26 0 1 0 -5.05 -0.00zM432.3 221.1a1.86 1.12 0 1 0 3.73 0.00a1.86 1.12 0 1 0 -3.73 -0.00zM425.3 229.2a1.86 1.12 0 1 0 3.73 0.00a1.86 1.12 0 1 0 -3.73 -0.00zM455.6 217.1a1.86 1.12 0 1 0 3.73 0.00a1.86 1.12 0 1 0 -3.73 -0.00zM475.9 229.2a1.86 1.12 0 1 0 3.73 0.00a1.86 1.12 0 1 0 -3.73 -0.00zM525.5 255.6a1.86 1.12 0 1 0 3.73 0.00a1.86 1.12 0 1 0 -3.73 -0.00zM520.4 241.4a1.86 1.12 0 1 0 3.73 0.00a1.86 1.12 0 1 0 -3.73 -0.00zM479.3 280.1a2.11 2.11 0 1 0 4.21 0.00a2.11 2.11 0 1 0 -4.21 -0.00zM478.6 317.7a2.53 1.68 30 1 0 4.38 2.53a2.53 1.68 30 1 0 -4.38 -2.53zM479.9 314.2a3.37 1.68 30 1 0 5.84 3.37a3.37 1.68 30 1 0 -5.84 -3.37zM478.5 314.5a3.37 1.68 -30 1 0 5.84 -3.37a3.37 1.68 -30 1 0 -5.84 3.37zM480.9 309.0a2.95 1.68 30 1 0 5.11 2.95a2.95 1.68 30 1 0 -5.11 -2.95zM480.0 308.2a2.24 1.12 0 1 0 4.47 0.00a2.24 1.12 0 1 0 -4.47 -0.00zM476.9 314.9a1.86 1.12 0 1 0 3.73 0.00a1.86 1.12 0 1 0 -3.73 -0.00zM484.0 312.9a1.86 1.12 0 1 0 3.73 0.00a1.86 1.12 0 1 0 -3.73 -0.00zM442.0 314.0a2.95 1.68 30 1 0 5.11 2.95a2.95 1.68 30 1 0 -5.11 -2.95zM444.0 309.8a2.95 1.68 30 1 0 5.11 2.95a2.95 1.68 30 1 0 -5.11 -2.95zM443.0 304.7a2.95 1.68 30 1 0 5.11 2.95a2.95 1.68 30 1 0 -5.11 -2.95zM448.1 303.7a2.95 2.11 30 1 0 5.11 2.95a2.95 2.11 30 1 0 -5.11 -2.95zM450.0 308.4a2.53 1.68 30 1 0 4.38 2.53a2.53 1.68 30 1 0 -4.38 -2.53zM449.7 298.8a3.37 2.11 30 1 0 5.84 3.37a3.37 2.11 30 1 0 -5.84 -3.37zM452.0 295.2a3.79 2.95 30 1 0 6.56 3.79a3.79 2.95 30 1 0 -6.56 -3.79zM447.2 301.7a2.24 2.24 0 1 0 4.47 0.00a2.24 2.24 0 1 0 -4.47 -0.00zM454.6 302.7a1.86 1.12 0 1 0 3.73 0.00a1.86 1.12 0 1 0 -3.73 -0.00zM419.9 286.4a2.53 1.68 -30 1 0 4.38 -2.53a2.53 1.68 -30 1 0 -4.38 2.53zM422.1 284.6a2.95 1.68 -30 1 0 5.11 -2.95a2.95 1.68 -30 1 0 -5.11 2.95zM424.8 281.7a3.37 2.11 -30 1 0 5.84 -3.37a3.37 2.11 -30 1 0 -5.84 3.37zM419.2 281.5a1.86 1.12 0 1 0 3.73 0.00a1.86 1.12 0 1 0 -3.73 -0.00zM427.3 283.5a1.86 1.12 0 1 0 3.73 0.00a1.86 1.12 0 1 0 -3.73 -0.00zM503.5 302.2a2.95 1.68 -30 1 0 5.11 -2.95a2.95 1.68 -30 1 0 -5.11 2.95zM506.2 298.4a3.37 2.11 -30 1 0 5.84 -3.37a3.37 2.11 -30 1 0 -5.84 3.37zM510.0 299.3a2.53 1.68 -30 1 0 4.38 -2.53a2.53 1.68 -30 1 0 -4.38 2.53zM512.0 303.0a2.53 1.68 -30 1 0 4.38 -2.53a2.53 1.68 -30 1 0 -4.38 2.53zM508.9 293.6a2.24 1.12 0 1 0 4.47 0.00a2.24 1.12 0 1 0 -4.47 -0.00zM502.2 303.8a1.86 1.12 0 1 0 3.73 0.00a1.86 1.12 0 1 0 -3.73 -0.00zM515.4 295.7a1.86 1.12 0 1 0 3.73 0.00a1.86 1.12 0 1 0 -3.73 -0.00zM510.3 268.3a1.86 1.12 0 1 0 3.73 0.00a1.86 1.12 0 1 0 -3.73 -0.00zM430.0 315.7a2.53 1.26 30 1 0 4.38 2.53a2.53 1.26 30 1 0 -4.38 -2.53zM435.4 317.9a1.86 1.12 0 1 0 3.73 0.00a1.86 1.12 0 1 0 -3.73 -0.00zM441.1 312.6a2.53 1.26 30 1 0 4.38 2.53a2.53 1.26 30 1 0 -4.38 -2.53zM457.3 317.9a2.24 1.12 0 1 0 4.47 0.00a2.24 1.12 0 1 0 -4.47 -0.00zM463.4 308.6a2.53 1.26 30 1 0 4.38 2.53a2.53 1.26 30 1 0 -4.38 -2.53zM467.8 302.7a1.86 1.12 0 1 0 3.73 0.00a1.86 1.12 0 1 0 -3.73 -0.00zM459.4 290.3a2.53 1.26 30 1 0 4.38 2.53a2.53 1.26 30 1 0 -4.38 -2.53zM468.8 291.6a1.86 1.12 0 1 0 3.73 0.00a1.86 1.12 0 1 0 -3.73 -0.00zM475.9 293.6a1.86 1.12 0 1 0 3.73 0.00a1.86 1.12 0 1 0 -3.73 -0.00zM485.7 296.9a2.53 1.26 -30 1 0 4.38 -2.53a2.53 1.26 -30 1 0 -4.38 2.53zM492.1 289.6a1.86 1.12 0 1 0 3.73 0.00a1.86 1.12 0 1 0 -3.73 -0.00zM498.1 291.6a1.86 1.12 0 1 0 3.73 0.00a1.86 1.12 0 1 0 -3.73 -0.00zM501.9 286.8a2.53 1.26 -30 1 0 4.38 -2.53a2.53 1.26 -30 1 0 -4.38 2.53zM516.4 287.6a1.86 1.12 0 1 0 3.73 0.00a1.86 1.12 0 1 0 -3.73 -0.00zM520.4 283.5a1.86 1.12 0 1 0 3.73 0.00a1.86 1.12 0 1 0 -3.73 -0.00zM524.5 309.8a1.86 1.12 0 1 0 3.73 0.00a1.86 1.12 0 1 0 -3.73 -0.00zM520.1 319.2a2.53 1.26 -30 1 0 4.38 -2.53a2.53 1.26 -30 1 0 -4.38 2.53zM512.3 313.9a1.86 1.12 0 1 0 3.73 0.00a1.86 1.12 0 1 0 -3.73 -0.00zM496.1 309.8a1.86 1.12 0 1 0 3.73 0.00a1.86 1.12 0 1 0 -3.73 -0.00zM490.0 315.9a1.86 1.12 0 1 0 3.73 0.00a1.86 1.12 0 1 0 -3.73 -0.00zM439.1 284.3a2.53 1.26 30 1 0 4.38 2.53a2.53 1.26 30 1 0 -4.38 -2.53zM433.4 293.6a1.86 1.12 0 1 0 3.73 0.00a1.86 1.12 0 1 0 -3.73 -0.00zM419.2 293.6a1.86 1.12 0 1 0 3.73 0.00a1.86 1.12 0 1 0 -3.73 -0.00zM429.3 273.4a1.86 1.12 0 1 0 3.73 0.00a1.86 1.12 0 1 0 -3.73 -0.00zM437.4 271.4a1.86 1.12 0 1 0 3.73 0.00a1.86 1.12 0 1 0 -3.73 -0.00zM445.5 275.4a1.86 1.12 0 1 0 3.73 0.00a1.86 1.12 0 1 0 -3.73 -0.00zM461.7 273.4a1.86 1.12 0 1 0 3.73 0.00a1.86 1.12 0 1 0 -3.73 -0.00zM465.8 278.4a1.86 1.12 0 1 0 3.73 0.00a1.86 1.12 0 1 0 -3.73 -0.00zM473.9 271.4a1.86 1.12 0 1 0 3.73 0.00a1.86 1.12 0 1 0 -3.73 -0.00zM485.7 272.6a2.53 1.26 -30 1 0 4.38 -2.53a2.53 1.26 -30 1 0 -4.38 2.53zM490.0 275.4a1.86 1.12 0 1 0 3.73 0.00a1.86 1.12 0 1 0 -3.73 -0.00zM495.1 281.5a1.86 1.12 0 1 0 3.73 0.00a1.86 1.12 0 1 0 -3.73 -0.00zM500.2 275.4a1.86 1.12 0 1 0 3.73 0.00a1.86 1.12 0 1 0 -3.73 -0.00zM503.6 272.4a2.53 1.26 0 1 0 5.05 0.00a2.53 1.26 0 1 0 -5.05 -0.00zM467.8 283.5a1.86 1.12 0 1 0 3.73 0.00a1.86 1.12 0 1 0 -3.73 -0.00zM471.2 287.6a2.53 1.26 0 1 0 5.05 0.00a2.53 1.26 0 1 0 -5.05 -0.00zM432.3 309.8a1.86 1.12 0 1 0 3.73 0.00a1.86 1.12 0 1 0 -3.73 -0.00zM425.3 301.7a1.86 1.12 0 1 0 3.73 0.00a1.86 1.12 0 1 0 -3.73 -0.00zM455.6 313.9a1.86 1.12 0 1 0 3.73 0.00a1.86 1.12 0 1 0 -3.73 -0.00zM475.9 301.7a1.86 1.12 0 1 0 3.73 0.00a1.86 1.12 0 1 0 -3.73 -0.00zM525.5 275.4a1.86 1.12 0 1 0 3.73 0.00a1.86 1.12 0 1 0 -3.73 -0.00zM520.4 289.6a1.86 1.12 0 1 0 3.73 0.00a1.86 1.12 0 1 0 -3.73 -0.00z"/><path fill="#0098ee" d="M481.6 210.0a0.99 1.61 82 1 0 0.26 1.96a0.99 1.61 82 1 0 -0.26 -1.96zM481.4 214.1a0.99 1.77 82 1 0 0.26 1.96a0.99 1.77 82 1 0 -0.26 -1.96zM482.7 218.1a0.99 1.94 82 1 0 0.26 1.96a0.99 1.94 82 1 0 -0.26 -1.96zM482.5 222.2a0.99 2.10 82 1 0 0.26 1.96a0.99 2.10 82 1 0 -0.26 -1.96zM444.8 214.0a0.99 1.61 61 1 0 0.95 1.73a0.99 1.61 61 1 0 -0.95 -1.73zM446.0 217.7a0.99 1.77 61 1 0 0.95 1.73a0.99 1.77 61 1 0 -0.95 -1.73zM448.4 220.7a0.99 1.94 61 1 0 0.95 1.73a0.99 1.94 61 1 0 -0.95 -1.73zM449.6 224.3a0.99 2.10 61 1 0 0.95 1.73a0.99 2.10 61 1 0 -0.95 -1.73zM452.1 227.3a0.99 1.69 61 1 0 0.95 1.73a0.99 1.69 61 1 0 -0.95 -1.73zM453.3 230.9a0.99 1.85 61 1 0 0.95 1.73a0.99 1.85 61 1 0 -0.95 -1.73zM455.7 233.9a0.99 2.02 61 1 0 0.95 1.73a0.99 2.02 61 1 0 -0.95 -1.73zM420.9 244.5a0.99 1.32 40 1 0 1.52 1.26a0.99 1.32 40 1 0 -1.52 -1.26zM424.1 248.1a0.99 1.45 40 1 0 1.52 1.26a0.99 1.45 40 1 0 -1.52 -1.26zM428.2 250.6a0.99 1.58 40 1 0 1.52 1.26a0.99 1.58 40 1 0 -1.52 -1.26zM504.7 227.9a0.99 1.32 39 1 0 1.54 1.24a0.99 1.32 39 1 0 -1.54 -1.24zM507.1 230.8a0.99 1.45 39 1 0 1.54 1.24a0.99 1.45 39 1 0 -1.54 -1.24zM510.4 232.5a0.99 1.58 39 1 0 1.54 1.24a0.99 1.58 39 1 0 -1.54 -1.24zM512.8 235.4a0.99 1.72 39 1 0 1.54 1.24a0.99 1.72 39 1 0 -1.54 -1.24zM506.7 265.1a0.99 1.32 0 1 0 1.98 0.00a0.99 1.32 0 1 0 -1.98 -0.00zM511.0 265.8a0.99 1.45 0 1 0 1.98 0.00a0.99 1.45 0 1 0 -1.98 -0.00zM515.2 265.1a0.99 1.58 0 1 0 1.98 0.00a0.99 1.58 0 1 0 -1.98 -0.00zM519.5 265.8a0.99 1.72 0 1 0 1.98 0.00a0.99 1.72 0 1 0 -1.98 -0.00zM523.7 265.1a0.99 1.38 0 1 0 1.98 0.00a0.99 1.38 0 1 0 -1.98 -0.00zM480.9 320.9a0.99 1.61 -82 1 0 0.26 -1.96a0.99 1.61 -82 1 0 -0.26 1.96zM482.1 316.9a0.99 1.77 -82 1 0 0.26 -1.96a0.99 1.77 -82 1 0 -0.26 1.96zM482.0 312.8a0.99 1.94 -82 1 0 0.26 -1.96a0.99 1.94 -82 1 0 -0.26 1.96zM483.2 308.8a0.99 2.10 -82 1 0 0.26 -1.96a0.99 2.10 -82 1 0 -0.26 1.96zM444.2 316.6a0.99 1.61 -61 1 0 0.95 -1.73a0.99 1.61 -61 1 0 -0.95 1.73zM446.6 313.6a0.99 1.77 -61 1 0 0.95 -1.73a0.99 1.77 -61 1 0 -0.95 1.73zM447.8 310.0a0.99 1.94 -61 1 0 0.95 -1.73a0.99 1.94 -61 1 0 -0.95 1.73zM450.2 307.0a0.99 2.10 -61 1 0 0.95 -1.73a0.99 2.10 -61 1 0 -0.95 1.73zM451.4 303.4a0.99 1.69 -61 1 0 0.95 -1.73a0.99 1.69 -61 1 0 -0.95 1.73zM453.9 300.4a0.99 1.85 -61 1 0 0.95 -1.73a0.99 1.85 -61 1 0 -0.95 1.73zM455.1 296.8a0.99 2.02 -61 1 0 0.95 -1.73a0.99 2.02 -61 1 0 -0.95 1.73zM420.5 285.9a0.99 1.32 -40 1 0 1.52 -1.26a0.99 1.32 -40 1 0 -1.52 1.26zM424.6 283.4a0.99 1.45 -40 1 0 1.52 -1.26a0.99 1.45 -40 1 0 -1.52 1.26zM427.8 279.8a0.99 1.58 -40 1 0 1.52 -1.26a0.99 1.58 -40 1 0 -1.52 1.26zM504.3 302.5a0.99 1.32 -39 1 0 1.54 -1.24a0.99 1.32 -39 1 0 -1.54 1.24zM507.6 300.7a0.99 1.45 -39 1 0 1.54 -1.24a0.99 1.45 -39 1 0 -1.54 1.24zM510.0 297.9a0.99 1.58 -39 1 0 1.54 -1.24a0.99 1.58 -39 1 0 -1.54 1.24zM513.2 296.1a0.99 1.72 -39 1 0 1.54 -1.24a0.99 1.72 -39 1 0 -1.54 1.24zM479.8 250.9a1.56 1.56 0 1 0 3.12 0.00a1.56 1.56 0 1 0 -3.12 -0.00zM455.2 265.9a1.87 1.56 0 1 0 3.74 0.00a1.87 1.56 0 1 0 -3.74 -0.00zM479.2 213.0a1.87 1.25 -30 1 0 3.24 -1.87a1.87 1.25 -30 1 0 -3.24 1.87zM480.6 216.3a2.49 1.25 -30 1 0 4.32 -2.49a2.49 1.25 -30 1 0 -4.32 2.49zM479.2 216.9a2.49 1.25 30 1 0 4.32 2.49a2.49 1.25 30 1 0 -4.32 -2.49zM481.5 221.6a2.18 1.25 -30 1 0 3.78 -2.18a2.18 1.25 -30 1 0 -3.78 2.18zM480.5 222.8a1.65 0.83 0 1 0 3.31 0.00a1.65 0.83 0 1 0 -3.31 -0.00zM442.6 216.6a2.18 1.25 -30 1 0 3.78 -2.18a2.18 1.25 -30 1 0 -3.78 2.18zM444.7 220.8a2.18 1.25 -30 1 0 3.78 -2.18a2.18 1.25 -30 1 0 -3.78 2.18zM443.7 225.9a2.18 1.25 -30 1 0 3.78 -2.18a2.18 1.25 -30 1 0 -3.78 2.18zM448.7 226.9a2.18 1.56 -30 1 0 3.78 -2.18a2.18 1.56 -30 1 0 -3.78 2.18zM450.6 222.3a1.87 1.25 -30 1 0 3.24 -1.87a1.87 1.25 -30 1 0 -3.24 1.87zM450.5 231.7a2.49 1.56 -30 1 0 4.32 -2.49a2.49 1.56 -30 1 0 -4.32 2.49zM452.8 235.3a2.80 2.18 -30 1 0 4.86 -2.80a2.80 2.18 -30 1 0 -4.86 2.80zM420.4 244.9a1.87 1.25 30 1 0 3.24 1.87a1.87 1.25 30 1 0 -3.24 -1.87zM422.8 246.8a2.18 1.25 30 1 0 3.78 2.18a2.18 1.25 30 1 0 -3.78 -2.18zM425.6 249.7a2.49 1.56 30 1 0 4.32 2.49a2.49 1.56 30 1 0 -4.32 -2.49zM427.8 247.5a1.38 0.83 0 1 0 2.76 0.00a1.38 0.83 0 1 0 -2.76 -0.00zM504.2 229.2a2.18 1.25 30 1 0 3.78 2.18a2.18 1.25 30 1 0 -3.78 -2.18zM507.0 233.1a2.49 1.56 30 1 0 4.32 2.49a2.49 1.56 30 1 0 -4.32 -2.49zM510.5 232.0a1.87 1.25 30 1 0 3.24 1.87a1.87 1.25 30 1 0 -3.24 -1.87zM512.6 228.3a1.87 1.25 30 1 0 3.24 1.87a1.87 1.25 30 1 0 -3.24 -1.87zM509.5 237.3a1.65 0.83 0 1 0 3.31 0.00a1.65 0.83 0 1 0 -3.31 -0.00zM506.6 265.5a2.49 2.49 0 1 0 4.99 0.00a2.49 2.49 0 1 0 -4.99 -0.00zM514.0 265.5a2.18 2.18 0 1 0 4.36 0.00a2.18 2.18 0 1 0 -4.36 -0.00zM518.7 265.5a1.56 1.87 0 1 0 3.12 0.00a1.56 1.87 0 1 0 -3.12 -0.00zM522.6 265.5a1.10 1.38 0 1 0 2.21 0.00a1.10 1.38 0 1 0 -2.21 -0.00zM430.6 215.0a1.87 0.93 -30 1 0 3.24 -1.87a1.87 0.93 -30 1 0 -3.24 1.87zM441.7 218.0a1.87 0.93 -30 1 0 3.24 -1.87a1.87 0.93 -30 1 0 -3.24 1.87zM464.0 222.1a1.87 0.93 -30 1 0 3.24 -1.87a1.87 0.93 -30 1 0 -3.24 1.87zM459.9 240.3a1.87 0.93 -30 1 0 3.24 -1.87a1.87 0.93 -30 1 0 -3.24 1.87zM486.2 234.4a1.87 0.93 30 1 0 3.24 1.87a1.87 0.93 30 1 0 -3.24 -1.87zM502.4 244.5a1.87 0.93 30 1 0 3.24 1.87a1.87 0.93 30 1 0 -3.24 -1.87zM520.7 212.1a1.87 0.93 30 1 0 3.24 1.87a1.87 0.93 30 1 0 -3.24 -1.87zM439.7 246.4a1.87 0.93 -30 1 0 3.24 -1.87a1.87 0.93 -30 1 0 -3.24 1.87zM486.2 258.7a1.87 0.93 30 1 0 3.24 1.87a1.87 0.93 30 1 0 -3.24 -1.87zM504.2 258.6a1.87 0.93 0 1 0 3.74 0.00a1.87 0.93 0 1 0 -3.74 -0.00zM471.8 243.4a1.87 0.93 0 1 0 3.74 0.00a1.87 0.93 0 1 0 -3.74 -0.00zM479.8 280.1a1.56 1.56 0 1 0 3.12 0.00a1.56 1.56 0 1 0 -3.12 -0.00zM479.2 318.0a1.87 1.25 30 1 0 3.24 1.87a1.87 1.25 30 1 0 -3.24 -1.87zM480.6 314.7a2.49 1.25 30 1 0 4.32 2.49a2.49 1.25 30 1 0 -4.32 -2.49zM479.2 314.1a2.49 1.25 -30 1 0 4.32 -2.49a2.49 1.25 -30 1 0 -4.32 2.49zM481.5 309.3a2.18 1.25 30 1 0 3.78 2.18a2.18 1.25 30 1 0 -3.78 -2.18zM480.5 308.2a1.65 0.83 0 1 0 3.31 0.00a1.65 0.83 0 1 0 -3.31 -0.00zM442.6 314.4a2.18 1.25 30 1 0 3.78 2.18a2.18 1.25 30 1 0 -3.78 -2.18zM444.7 310.2a2.18 1.25 30 1 0 3.78 2.18a2.18 1.25 30 1 0 -3.78 -2.18zM443.7 305.1a2.18 1.25 30 1 0 3.78 2.18a2.18 1.25 30 1 0 -3.78 -2.18zM448.7 304.1a2.18 1.56 30 1 0 3.78 2.18a2.18 1.56 30 1 0 -3.78 -2.18zM450.6 308.7a1.87 1.25 30 1 0 3.24 1.87a1.87 1.25 30 1 0 -3.24 -1.87zM450.5 299.3a2.49 1.56 30 1 0 4.32 2.49a2.49 1.56 30 1 0 -4.32 -2.49zM452.8 295.7a2.80 2.18 30 1 0 4.86 2.80a2.80 2.18 30 1 0 -4.86 -2.80zM420.4 286.1a1.87 1.25 -30 1 0 3.24 -1.87a1.87 1.25 -30 1 0 -3.24 1.87zM422.8 284.2a2.18 1.25 -30 1 0 3.78 -2.18a2.18 1.25 -30 1 0 -3.78 2.18zM425.6 281.3a2.49 1.56 -30 1 0 4.32 -2.49a2.49 1.56 -30 1 0 -4.32 2.49zM427.8 283.5a1.38 0.83 0 1 0 2.76 0.00a1.38 0.83 0 1 0 -2.76 -0.00zM504.2 301.8a2.18 1.25 -30 1 0 3.78 -2.18a2.18 1.25 -30 1 0 -3.78 2.18zM507.0 297.9a2.49 1.56 -30 1 0 4.32 -2.49a2.49 1.56 -30 1 0 -4.32 2.49zM510.5 299.0a1.87 1.25 -30 1 0 3.24 -1.87a1.87 1.25 -30 1 0 -3.24 1.87zM512.6 302.7a1.87 1.25 -30 1 0 3.24 -1.87a1.87 1.25 -30 1 0 -3.24 1.87zM509.5 293.6a1.65 0.83 0 1 0 3.31 0.00a1.65 0.83 0 1 0 -3.31 -0.00zM430.6 316.0a1.87 0.93 30 1 0 3.24 1.87a1.87 0.93 30 1 0 -3.24 -1.87zM441.7 312.9a1.87 0.93 30 1 0 3.24 1.87a1.87 0.93 30 1 0 -3.24 -1.87zM464.0 308.9a1.87 0.93 30 1 0 3.24 1.87a1.87 0.93 30 1 0 -3.24 -1.87zM459.9 290.7a1.87 0.93 30 1 0 3.24 1.87a1.87 0.93 30 1 0 -3.24 -1.87zM486.2 296.6a1.87 0.93 -30 1 0 3.24 -1.87a1.87 0.93 -30 1 0 -3.24 1.87zM502.4 286.5a1.87 0.93 -30 1 0 3.24 -1.87a1.87 0.93 -30 1 0 -3.24 1.87zM520.7 318.9a1.87 0.93 -30 1 0 3.24 -1.87a1.87 0.93 -30 1 0 -3.24 1.87zM439.7 284.6a1.87 0.93 30 1 0 3.24 1.87a1.87 0.93 30 1 0 -3.24 -1.87zM486.2 272.3a1.87 0.93 -30 1 0 3.24 -1.87a1.87 0.93 -30 1 0 -3.24 1.87zM504.2 272.4a1.87 0.93 0 1 0 3.74 0.00a1.87 0.93 0 1 0 -3.74 -0.00zM471.8 287.6a1.87 0.93 0 1 0 3.74 0.00a1.87 0.93 0 1 0 -3.74 -0.00z"/><path fill="#0054d0" d="M480.2 250.9a1.16 1.16 0 1 0 2.32 0.00a1.16 1.16 0 1 0 -2.32 -0.00zM455.7 265.9a1.39 1.16 0 1 0 2.78 0.00a1.39 1.16 0 1 0 -2.78 -0.00zM479.6 212.7a1.39 0.93 -30 1 0 2.41 -1.39a1.39 0.93 -30 1 0 -2.41 1.39zM481.2 216.0a1.85 0.93 -30 1 0 3.21 -1.85a1.85 0.93 -30 1 0 -3.21 1.85zM479.8 217.2a1.85 0.93 30 1 0 3.21 1.85a1.85 0.93 30 1 0 -3.21 -1.85zM482.0 221.4a1.62 0.93 -30 1 0 2.81 -1.62a1.62 0.93 -30 1 0 -2.81 1.62zM443.1 216.3a1.62 0.93 -30 1 0 2.81 -1.62a1.62 0.93 -30 1 0 -2.81 1.62zM445.2 220.5a1.62 0.93 -30 1 0 2.81 -1.62a1.62 0.93 -30 1 0 -2.81 1.62zM444.1 225.6a1.62 0.93 -30 1 0 2.81 -1.62a1.62 0.93 -30 1 0 -2.81 1.62zM449.2 226.6a1.62 1.16 -30 1 0 2.81 -1.62a1.62 1.16 -30 1 0 -2.81 1.62zM451.0 222.0a1.39 0.93 -30 1 0 2.41 -1.39a1.39 0.93 -30 1 0 -2.41 1.39zM451.0 231.4a1.85 1.16 -30 1 0 3.21 -1.85a1.85 1.16 -30 1 0 -3.21 1.85zM453.5 234.9a2.08 1.62 -30 1 0 3.61 -2.08a2.08 1.62 -30 1 0 -3.61 2.08zM420.9 245.2a1.39 0.93 30 1 0 2.41 1.39a1.39 0.93 30 1 0 -2.41 -1.39zM423.3 247.1a1.62 0.93 30 1 0 2.81 1.62a1.62 0.93 30 1 0 -2.81 -1.62zM426.1 250.0a1.85 1.16 30 1 0 3.21 1.85a1.85 1.16 30 1 0 -3.21 -1.85zM504.7 229.4a1.62 0.93 30 1 0 2.81 1.62a1.62 0.93 30 1 0 -2.81 -1.62zM507.5 233.4a1.85 1.16 30 1 0 3.21 1.85a1.85 1.16 30 1 0 -3.21 -1.85zM511.0 232.2a1.39 0.93 30 1 0 2.41 1.39a1.39 0.93 30 1 0 -2.41 -1.39zM513.0 228.6a1.39 0.93 30 1 0 2.41 1.39a1.39 0.93 30 1 0 -2.41 -1.39zM507.3 265.5a1.85 1.85 0 1 0 3.71 0.00a1.85 1.85 0 1 0 -3.71 -0.00zM514.6 265.5a1.62 1.62 0 1 0 3.24 0.00a1.62 1.62 0 1 0 -3.24 -0.00zM519.1 265.5a1.16 1.39 0 1 0 2.32 0.00a1.16 1.39 0 1 0 -2.32 -0.00zM431.0 214.8a1.39 0.69 -30 1 0 2.41 -1.39a1.39 0.69 -30 1 0 -2.41 1.39zM442.1 217.8a1.39 0.69 -30 1 0 2.41 -1.39a1.39 0.69 -30 1 0 -2.41 1.39zM464.4 221.8a1.39 0.69 -30 1 0 2.41 -1.39a1.39 0.69 -30 1 0 -2.41 1.39zM460.3 240.1a1.39 0.69 -30 1 0 2.41 -1.39a1.39 0.69 -30 1 0 -2.41 1.39zM486.7 234.6a1.39 0.69 30 1 0 2.41 1.39a1.39 0.69 30 1 0 -2.41 -1.39zM502.9 244.7a1.39 0.69 30 1 0 2.41 1.39a1.39 0.69 30 1 0 -2.41 -1.39zM521.1 212.4a1.39 0.69 30 1 0 2.41 1.39a1.39 0.69 30 1 0 -2.41 -1.39zM440.1 246.1a1.39 0.69 -30 1 0 2.41 -1.39a1.39 0.69 -30 1 0 -2.41 1.39zM486.7 258.9a1.39 0.69 30 1 0 2.41 1.39a1.39 0.69 30 1 0 -2.41 -1.39zM504.7 258.6a1.39 0.69 0 1 0 2.78 0.00a1.39 0.69 0 1 0 -2.78 -0.00zM472.3 243.4a1.39 0.69 0 1 0 2.78 0.00a1.39 0.69 0 1 0 -2.78 -0.00zM480.2 280.1a1.16 1.16 0 1 0 2.32 0.00a1.16 1.16 0 1 0 -2.32 -0.00zM479.6 318.2a1.39 0.93 30 1 0 2.41 1.39a1.39 0.93 30 1 0 -2.41 -1.39zM481.2 315.0a1.85 0.93 30 1 0 3.21 1.85a1.85 0.93 30 1 0 -3.21 -1.85zM479.8 313.8a1.85 0.93 -30 1 0 3.21 -1.85a1.85 0.93 -30 1 0 -3.21 1.85zM482.0 309.6a1.62 0.93 30 1 0 2.81 1.62a1.62 0.93 30 1 0 -2.81 -1.62zM443.1 314.7a1.62 0.93 30 1 0 2.81 1.62a1.62 0.93 30 1 0 -2.81 -1.62zM445.2 310.4a1.62 0.93 30 1 0 2.81 1.62a1.62 0.93 30 1 0 -2.81 -1.62zM444.1 305.4a1.62 0.93 30 1 0 2.81 1.62a1.62 0.93 30 1 0 -2.81 -1.62zM449.2 304.4a1.62 1.16 30 1 0 2.81 1.62a1.62 1.16 30 1 0 -2.81 -1.62zM451.0 308.9a1.39 0.93 30 1 0 2.41 1.39a1.39 0.93 30 1 0 -2.41 -1.39zM451.0 299.6a1.85 1.16 30 1 0 3.21 1.85a1.85 1.16 30 1 0 -3.21 -1.85zM453.5 296.0a2.08 1.62 30 1 0 3.61 2.08a2.08 1.62 30 1 0 -3.61 -2.08zM420.9 285.8a1.39 0.93 -30 1 0 2.41 -1.39a1.39 0.93 -30 1 0 -2.41 1.39zM423.3 283.9a1.62 0.93 -30 1 0 2.81 -1.62a1.62 0.93 -30 1 0 -2.81 1.62zM426.1 281.0a1.85 1.16 -30 1 0 3.21 -1.85a1.85 1.16 -30 1 0 -3.21 1.85zM504.7 301.5a1.62 0.93 -30 1 0 2.81 -1.62a1.62 0.93 -30 1 0 -2.81 1.62zM507.5 297.6a1.85 1.16 -30 1 0 3.21 -1.85a1.85 1.16 -30 1 0 -3.21 1.85zM511.0 298.8a1.39 0.93 -30 1 0 2.41 -1.39a1.39 0.93 -30 1 0 -2.41 1.39zM513.0 302.4a1.39 0.93 -30 1 0 2.41 -1.39a1.39 0.93 -30 1 0 -2.41 1.39zM431.0 316.2a1.39 0.69 30 1 0 2.41 1.39a1.39 0.69 30 1 0 -2.41 -1.39zM442.1 313.2a1.39 0.69 30 1 0 2.41 1.39a1.39 0.69 30 1 0 -2.41 -1.39zM464.4 309.1a1.39 0.69 30 1 0 2.41 1.39a1.39 0.69 30 1 0 -2.41 -1.39zM460.3 290.9a1.39 0.69 30 1 0 2.41 1.39a1.39 0.69 30 1 0 -2.41 -1.39zM486.7 296.3a1.39 0.69 -30 1 0 2.41 -1.39a1.39 0.69 -30 1 0 -2.41 1.39zM502.9 286.2a1.39 0.69 -30 1 0 2.41 -1.39a1.39 0.69 -30 1 0 -2.41 1.39zM521.1 318.6a1.39 0.69 -30 1 0 2.41 -1.39a1.39 0.69 -30 1 0 -2.41 1.39zM440.1 284.8a1.39 0.69 30 1 0 2.41 1.39a1.39 0.69 30 1 0 -2.41 -1.39zM486.7 272.1a1.39 0.69 -30 1 0 2.41 -1.39a1.39 0.69 -30 1 0 -2.41 1.39zM504.7 272.4a1.39 0.69 0 1 0 2.78 0.00a1.39 0.69 0 1 0 -2.78 -0.00zM472.3 287.6a1.39 0.69 0 1 0 2.78 0.00a1.39 0.69 0 1 0 -2.78 -0.00z"/><path fill="#001470" d="M480.5 250.9a0.88 0.88 0 1 0 1.77 0.00a0.88 0.88 0 1 0 -1.77 -0.00zM456.0 265.9a1.06 0.88 0 1 0 2.12 0.00a1.06 0.88 0 1 0 -2.12 -0.00zM481.6 215.8a1.41 0.71 -30 1 0 2.45 -1.41a1.41 0.71 -30 1 0 -2.45 1.41zM480.2 217.4a1.41 0.71 30 1 0 2.45 1.41a1.41 0.71 30 1 0 -2.45 -1.41zM445.5 220.3a1.24 0.71 -30 1 0 2.14 -1.24a1.24 0.71 -30 1 0 -2.14 1.24zM449.5 226.4a1.24 0.88 -30 1 0 2.14 -1.24a1.24 0.88 -30 1 0 -2.14 1.24zM451.4 231.2a1.41 0.88 -30 1 0 2.45 -1.41a1.41 0.88 -30 1 0 -2.45 1.41zM453.9 234.7a1.59 1.24 -30 1 0 2.76 -1.59a1.59 1.24 -30 1 0 -2.76 1.59zM426.5 250.2a1.41 0.88 30 1 0 2.45 1.41a1.41 0.88 30 1 0 -2.45 -1.41zM505.0 229.6a1.24 0.71 30 1 0 2.14 1.24a1.24 0.71 30 1 0 -2.14 -1.24zM507.9 233.6a1.41 0.88 30 1 0 2.45 1.41a1.41 0.88 30 1 0 -2.45 -1.41zM507.7 265.5a1.41 1.41 0 1 0 2.83 0.00a1.41 1.41 0 1 0 -2.83 -0.00zM480.5 280.1a0.88 0.88 0 1 0 1.77 0.00a0.88 0.88 0 1 0 -1.77 -0.00zM481.6 315.2a1.41 0.71 30 1 0 2.45 1.41a1.41 0.71 30 1 0 -2.45 -1.41zM480.2 313.6a1.41 0.71 -30 1 0 2.45 -1.41a1.41 0.71 -30 1 0 -2.45 1.41zM445.5 310.6a1.24 0.71 30 1 0 2.14 1.24a1.24 0.71 30 1 0 -2.14 -1.24zM449.5 304.6a1.24 0.88 30 1 0 2.14 1.24a1.24 0.88 30 1 0 -2.14 -1.24zM451.4 299.8a1.41 0.88 30 1 0 2.45 1.41a1.41 0.88 30 1 0 -2.45 -1.41zM453.9 296.3a1.59 1.24 30 1 0 2.76 1.59a1.59 1.24 30 1 0 -2.76 -1.59zM426.5 280.8a1.41 0.88 -30 1 0 2.45 -1.41a1.41 0.88 -30 1 0 -2.45 1.41zM505.0 301.3a1.24 0.71 -30 1 0 2.14 -1.24a1.24 0.71 -30 1 0 -2.14 1.24zM507.9 297.4a1.41 0.88 -30 1 0 2.45 -1.41a1.41 0.88 -30 1 0 -2.45 1.41z"/><path fill="#000018" d="M480.9 250.9a0.53 0.53 0 1 0 1.05 0.00a0.53 0.53 0 1 0 -1.05 -0.00zM456.5 265.9a0.63 0.53 0 1 0 1.26 0.00a0.63 0.53 0 1 0 -1.26 -0.00zM482.1 215.5a0.84 0.42 -30 1 0 1.46 -0.84a0.84 0.42 -30 1 0 -1.46 0.84zM480.7 217.7a0.84 0.42 30 1 0 1.46 0.84a0.84 0.42 30 1 0 -1.46 -0.84zM445.9 220.1a0.74 0.42 -30 1 0 1.28 -0.74a0.74 0.42 -30 1 0 -1.28 0.74zM450.0 226.2a0.74 0.53 -30 1 0 1.28 -0.74a0.74 0.53 -30 1 0 -1.28 0.74zM451.9 230.9a0.84 0.53 -30 1 0 1.46 -0.84a0.84 0.53 -30 1 0 -1.46 0.84zM454.4 234.4a0.95 0.74 -30 1 0 1.64 -0.95a0.95 0.74 -30 1 0 -1.64 0.95zM427.0 250.5a0.84 0.53 30 1 0 1.46 0.84a0.84 0.53 30 1 0 -1.46 -0.84zM505.4 229.9a0.74 0.42 30 1 0 1.28 0.74a0.74 0.42 30 1 0 -1.28 -0.74zM508.4 233.9a0.84 0.53 30 1 0 1.46 0.84a0.84 0.53 30 1 0 -1.46 -0.84zM508.3 265.5a0.84 0.84 0 1 0 1.68 0.00a0.84 0.84 0 1 0 -1.68 -0.00zM480.9 280.1a0.53 0.53 0 1 0 1.05 0.00a0.53 0.53 0 1 0 -1.05 -0.00zM482.1 315.5a0.84 0.42 30 1 0 1.46 0.84a0.84 0.42 30 1 0 -1.46 -0.84zM480.7 313.3a0.84 0.42 -30 1 0 1.46 -0.84a0.84 0.42 -30 1 0 -1.46 0.84zM445.9 310.9a0.74 0.42 30 1 0 1.28 0.74a0.74 0.42 30 1 0 -1.28 -0.74zM450.0 304.8a0.74 0.53 30 1 0 1.28 0.74a0.74 0.53 30 1 0 -1.28 -0.74zM451.9 300.1a0.84 0.53 30 1 0 1.46 0.84a0.84 0.53 30 1 0 -1.46 -0.84zM454.4 296.6a0.95 0.74 30 1 0 1.64 0.95a0.95 0.74 30 1 0 -1.64 -0.95zM427.0 280.5a0.84 0.53 -30 1 0 1.46 -0.84a0.84 0.53 -30 1 0 -1.46 0.84zM505.4 301.1a0.74 0.42 -30 1 0 1.28 -0.74a0.74 0.42 -30 1 0 -1.28 0.74zM508.4 297.1a0.84 0.53 -30 1 0 1.46 -0.84a0.84 0.53 -30 1 0 -1.46 0.84z"/></g><text x="429.20" y="261.10" font-size="17.4" font-family="'Liberation Sans', sans-serif" fill="#f00" textLength="27.30" lengthAdjust="spacingAndGlyphs">3rd</text><circle cx="457.1" cy="266.3" r="7.7" fill="none" stroke="#f02020" stroke-width="1.1" stroke-dasharray="1.1 1.1"/><circle cx="481.4" cy="250.9" r="7.7" fill="none" stroke="#f02020" stroke-width="1.1" stroke-dasharray="1.1 1.1"/><circle cx="481.4" cy="279.5" r="7.7" fill="none" stroke="#f02020" stroke-width="1.1" stroke-dasharray="1.1 1.1"/><path d="M417.70 210.0v-4.5M417.70 321.0v4.5M417.7 210.00h-4.5M528.7 210.00h4.5M423.25 210.0v-2.3M423.25 321.0v2.3M417.7 215.55h-2.3M528.7 215.55h2.3M428.80 210.0v-2.3M428.80 321.0v2.3M417.7 221.10h-2.3M528.7 221.10h2.3M434.35 210.0v-2.3M434.35 321.0v2.3M417.7 226.65h-2.3M528.7 226.65h2.3M439.90 210.0v-2.3M439.90 321.0v2.3M417.7 232.20h-2.3M528.7 232.20h2.3M445.45 210.0v-4.5M445.45 321.0v4.5M417.7 237.75h-4.5M528.7 237.75h4.5M451.00 210.0v-2.3M451.00 321.0v2.3M417.7 243.30h-2.3M528.7 243.30h2.3M456.55 210.0v-2.3M456.55 321.0v2.3M417.7 248.85h-2.3M528.7 248.85h2.3M462.10 210.0v-2.3M462.10 321.0v2.3M417.7 254.40h-2.3M528.7 254.40h2.3M467.65 210.0v-2.3M467.65 321.0v2.3M417.7 259.95h-2.3M528.7 259.95h2.3M473.20 210.0v-4.5M473.20 321.0v4.5M417.7 265.50h-4.5M528.7 265.50h4.5M478.75 210.0v-2.3M478.75 321.0v2.3M417.7 271.05h-2.3M528.7 271.05h2.3M484.30 210.0v-2.3M484.30 321.0v2.3M417.7 276.60h-2.3M528.7 276.60h2.3M489.85 210.0v-2.3M489.85 321.0v2.3M417.7 282.15h-2.3M528.7 282.15h2.3M495.40 210.0v-2.3M495.40 321.0v2.3M417.7 287.70h-2.3M528.7 287.70h2.3M500.95 210.0v-4.5M500.95 321.0v4.5M417.7 293.25h-4.5M528.7 293.25h4.5M506.50 210.0v-2.3M506.50 321.0v2.3M417.7 298.80h-2.3M528.7 298.80h2.3M512.05 210.0v-2.3M512.05 321.0v2.3M417.7 304.35h-2.3M528.7 304.35h2.3M517.60 210.0v-2.3M517.60 321.0v2.3M417.7 309.90h-2.3M528.7 309.90h2.3M523.15 210.0v-2.3M523.15 321.0v2.3M417.7 315.45h-2.3M528.7 315.45h2.3M528.70 210.0v-4.5M528.70 321.0v4.5M417.7 321.00h-4.5M528.7 321.00h4.5" stroke="#555" stroke-width="1" fill="none"/><text x="412.10" y="214.35" font-size="12.3" font-family="'Liberation Sans', sans-serif" font-weight="bold" text-anchor="end" textLength="15.20" lengthAdjust="spacingAndGlyphs">10</text><text x="412.10" y="242.10" font-size="12.3" font-family="'Liberation Sans', sans-serif" font-weight="bold" text-anchor="end" textLength="6.80" lengthAdjust="spacingAndGlyphs">5</text><text x="412.10" y="269.85" font-size="12.3" font-family="'Liberation Sans', sans-serif" font-weight="bold" text-anchor="end" textLength="6.80" lengthAdjust="spacingAndGlyphs">0</text><text x="412.10" y="297.60" font-size="12.3" font-family="'Liberation Sans', sans-serif" font-weight="bold" text-anchor="end" textLength="11.60" lengthAdjust="spacingAndGlyphs">-5</text><text x="412.10" y="325.35" font-size="12.3" font-family="'Liberation Sans', sans-serif" font-weight="bold" text-anchor="end" textLength="19.80" lengthAdjust="spacingAndGlyphs">-10</text><text x="418.50" y="336.50" font-size="12.3" font-family="'Liberation Sans', sans-serif" font-weight="bold" text-anchor="middle" textLength="15.20" lengthAdjust="spacingAndGlyphs">10</text><text x="445.70" y="336.50" font-size="12.3" font-family="'Liberation Sans', sans-serif" font-weight="bold" text-anchor="middle" textLength="6.80" lengthAdjust="spacingAndGlyphs">5</text><text x="472.90" y="336.50" font-size="12.3" font-family="'Liberation Sans', sans-serif" font-weight="bold" text-anchor="middle" textLength="6.80" lengthAdjust="spacingAndGlyphs">0</text><text x="499.80" y="336.50" font-size="12.3" font-family="'Liberation Sans', sans-serif" font-weight="bold" text-anchor="middle" textLength="11.60" lengthAdjust="spacingAndGlyphs">-5</text><text x="527.00" y="336.50" font-size="12.3" font-family="'Liberation Sans', sans-serif" font-weight="bold" text-anchor="middle" textLength="19.80" lengthAdjust="spacingAndGlyphs">-10</text><text x="393.30" y="353.70" font-size="11.3" font-family="'Liberation Sans', sans-serif" font-weight="bold" textLength="77.90" lengthAdjust="spacingAndGlyphs">Position along</text><text x="475.30" y="354.90" font-size="16" font-family="'Liberation Serif', serif" fill="#1a1a1a" stroke="#1a1a1a" stroke-width="0.3">[</text><text x="480.70" y="354.00" font-size="14.6" font-family="'Liberation Serif', serif" fill="#1a1a1a" stroke="#1a1a1a" stroke-width="0.3">1</text><path d="M481.40 341.80h4.3" stroke="#1a1a1a" stroke-width="1.3"/><text x="487.30" y="354.00" font-size="14.6" font-family="'Liberation Serif', serif" fill="#1a1a1a" textLength="13.40" lengthAdjust="spacingAndGlyphs" stroke="#1a1a1a" stroke-width="0.3">10</text><text x="501.30" y="354.90" font-size="16" font-family="'Liberation Serif', serif" fill="#1a1a1a" stroke="#1a1a1a" stroke-width="0.3">]</text><text x="506.30" y="357.00" font-size="8.2" font-family="'Liberation Sans', sans-serif" font-weight="bold" textLength="15.00" lengthAdjust="spacingAndGlyphs">HEX</text><text x="524.30" y="354.10" font-size="11.3" font-family="'Liberation Sans', sans-serif" font-weight="bold">(</text><text x="530.30" y="353.70" font-size="11.3" font-family="'Liberation Sans', sans-serif" font-weight="bold" textLength="9.60" lengthAdjust="spacingAndGlyphs">Å</text><text x="541.60" y="354.10" font-size="11.3" font-family="'Liberation Sans', sans-serif" font-weight="bold">)</text><g transform="translate(386.20 337.10) rotate(-90)"><text x="-0.40" y="0.00" font-size="11.3" font-family="'Liberation Sans', sans-serif" font-weight="bold" textLength="77.90" lengthAdjust="spacingAndGlyphs">Position along</text><text x="81.60" y="1.20" font-size="16" font-family="'Liberation Serif', serif" fill="#1a1a1a" stroke="#1a1a1a" stroke-width="0.3">[</text><text x="87.00" y="0.30" font-size="14.6" font-family="'Liberation Serif', serif" fill="#1a1a1a" stroke="#1a1a1a" stroke-width="0.3">1</text><path d="M87.70 -11.90h4.3" stroke="#1a1a1a" stroke-width="1.3"/><path d="M94.40 -11.90h4.3" stroke="#1a1a1a" stroke-width="1.3"/><text x="93.60" y="0.30" font-size="14.6" font-family="'Liberation Serif', serif" fill="#1a1a1a" textLength="13.40" lengthAdjust="spacingAndGlyphs" stroke="#1a1a1a" stroke-width="0.3">10</text><text x="107.60" y="1.20" font-size="16" font-family="'Liberation Serif', serif" fill="#1a1a1a" stroke="#1a1a1a" stroke-width="0.3">]</text><text x="112.60" y="3.30" font-size="8.2" font-family="'Liberation Sans', sans-serif" font-weight="bold" textLength="15.00" lengthAdjust="spacingAndGlyphs">HEX</text><text x="130.60" y="0.40" font-size="11.3" font-family="'Liberation Sans', sans-serif" font-weight="bold">(</text><text x="136.60" y="0.00" font-size="11.3" font-family="'Liberation Sans', sans-serif" font-weight="bold" textLength="9.60" lengthAdjust="spacingAndGlyphs">Å</text><text x="147.90" y="0.40" font-size="11.3" font-family="'Liberation Sans', sans-serif" font-weight="bold">)</text></g><text x="467.50" y="371.80" font-size="11.8" font-family="'Liberation Sans', sans-serif">(g)</text><rect x="596.4" y="209.8" width="111.0" height="111.0" fill="#fff" stroke="#555" stroke-width="1"/><clipPath id="pch"><rect x="596.9" y="210.3" width="110.0" height="110.0"/></clipPath><g clip-path="url(#pch)"><path fill="#00e0ff" d="M651.1 213.7a1.33 2.97 86 1 0 0.17 2.66a1.33 2.97 86 1 0 -0.17 -2.66zM650.7 217.4a1.33 3.27 86 1 0 0.17 2.66a1.33 3.27 86 1 0 -0.17 -2.66zM651.6 221.0a1.33 3.57 86 1 0 0.17 2.66a1.33 3.57 86 1 0 -0.17 -2.66zM651.1 224.6a1.33 3.87 86 1 0 0.17 2.66a1.33 3.87 86 1 0 -0.17 -2.66zM652.1 228.2a1.33 3.12 86 1 0 0.17 2.66a1.33 3.12 86 1 0 -0.17 -2.66zM651.6 231.8a1.33 3.42 86 1 0 0.17 2.66a1.33 3.42 86 1 0 -0.17 -2.66zM652.5 235.4a1.33 3.72 86 1 0 0.17 2.66a1.33 3.72 86 1 0 -0.17 -2.66zM652.1 239.1a1.33 2.97 86 1 0 0.17 2.66a1.33 2.97 86 1 0 -0.17 -2.66zM652.2 221.0a1.16 1.38 87 1 0 0.12 2.32a1.16 1.38 87 1 0 -0.12 -2.32zM651.7 224.8a1.16 1.52 87 1 0 0.12 2.32a1.16 1.52 87 1 0 -0.12 -2.32zM652.6 228.6a1.16 1.65 87 1 0 0.12 2.32a1.16 1.65 87 1 0 -0.12 -2.32zM652.1 232.4a1.16 1.79 87 1 0 0.12 2.32a1.16 1.79 87 1 0 -0.12 -2.32zM653.0 236.2a1.16 1.45 87 1 0 0.12 2.32a1.16 1.45 87 1 0 -0.12 -2.32zM609.7 243.8a1.33 2.77 21 1 0 2.50 0.95a1.33 2.77 21 1 0 -2.50 -0.95zM612.6 245.7a1.33 3.05 21 1 0 2.50 0.95a1.33 3.05 21 1 0 -2.50 -0.95zM616.1 246.3a1.33 3.33 21 1 0 2.50 0.95a1.33 3.33 21 1 0 -2.50 -0.95zM619.0 248.1a1.33 3.61 21 1 0 2.50 0.95a1.33 3.61 21 1 0 -2.50 -0.95zM622.5 248.7a1.33 2.91 21 1 0 2.50 0.95a1.33 2.91 21 1 0 -2.50 -0.95zM625.4 250.6a1.33 3.19 21 1 0 2.50 0.95a1.33 3.19 21 1 0 -2.50 -0.95zM616.4 245.9a1.16 1.29 24 1 0 2.11 0.96a1.16 1.29 24 1 0 -2.11 -0.96zM620.5 248.5a1.16 1.42 24 1 0 2.11 0.96a1.16 1.42 24 1 0 -2.11 -0.96zM625.3 249.9a1.16 1.55 24 1 0 2.11 0.96a1.16 1.55 24 1 0 -2.11 -0.96zM673.3 252.9a1.33 2.77 -39 1 0 2.07 -1.68a1.33 2.77 -39 1 0 -2.07 1.68zM676.5 251.2a1.33 3.05 -39 1 0 2.07 -1.68a1.33 3.05 -39 1 0 -2.07 1.68zM678.9 248.4a1.33 3.33 -39 1 0 2.07 -1.68a1.33 3.33 -39 1 0 -2.07 1.68zM682.1 246.6a1.33 3.61 -39 1 0 2.07 -1.68a1.33 3.61 -39 1 0 -2.07 1.68zM684.5 243.8a1.33 2.91 -39 1 0 2.07 -1.68a1.33 2.91 -39 1 0 -2.07 1.68zM687.7 242.1a1.33 3.19 -39 1 0 2.07 -1.68a1.33 3.19 -39 1 0 -2.07 1.68zM674.9 251.4a1.16 1.29 -38 1 0 1.82 -1.44a1.16 1.29 -38 1 0 -1.82 1.44zM678.5 249.4a1.16 1.42 -38 1 0 1.82 -1.44a1.16 1.42 -38 1 0 -1.82 1.44zM681.2 246.4a1.16 1.55 -38 1 0 1.82 -1.44a1.16 1.55 -38 1 0 -1.82 1.44zM684.8 244.4a1.16 1.68 -38 1 0 1.82 -1.44a1.16 1.68 -38 1 0 -1.82 1.44zM668.5 253.3a1.85 0.79 -21 1 0 3.45 -1.36a1.85 0.79 -21 1 0 -3.45 1.36zM671.6 252.8a1.85 0.87 -21 1 0 3.45 -1.36a1.85 0.87 -21 1 0 -3.45 1.36zM674.1 251.1a1.85 0.95 -21 1 0 3.45 -1.36a1.85 0.95 -21 1 0 -3.45 1.36zM684.7 237.0a1.85 0.59 46 1 0 2.58 2.66a1.85 0.59 46 1 0 -2.58 -2.66zM686.5 239.9a1.85 0.65 46 1 0 2.58 2.66a1.85 0.65 46 1 0 -2.58 -2.66zM689.4 241.8a1.85 0.71 46 1 0 2.58 2.66a1.85 0.71 46 1 0 -2.58 -2.66zM691.2 244.8a1.85 0.77 46 1 0 2.58 2.66a1.85 0.77 46 1 0 -2.58 -2.66zM671.3 226.0a1.33 1.39 -52 1 0 1.63 -2.12a1.33 1.39 -52 1 0 -1.63 2.12zM674.3 223.2a1.33 1.53 -52 1 0 1.63 -2.12a1.33 1.53 -52 1 0 -1.63 2.12zM676.3 219.5a1.33 1.66 -52 1 0 1.63 -2.12a1.33 1.66 -52 1 0 -1.63 2.12zM679.4 216.6a1.33 1.80 -52 1 0 1.63 -2.12a1.33 1.80 -52 1 0 -1.63 2.12zM681.4 212.9a1.33 1.46 -52 1 0 1.63 -2.12a1.33 1.46 -52 1 0 -1.63 2.12zM673.4 225.6a1.16 0.69 -57 1 0 1.28 -1.94a1.16 0.69 -57 1 0 -1.28 1.94zM676.2 222.6a1.16 0.76 -57 1 0 1.28 -1.94a1.16 0.76 -57 1 0 -1.28 1.94zM677.9 218.8a1.16 0.83 -57 1 0 1.28 -1.94a1.16 0.83 -57 1 0 -1.28 1.94zM680.7 215.8a1.16 0.90 -57 1 0 1.28 -1.94a1.16 0.90 -57 1 0 -1.28 1.94zM671.1 223.8a1.85 0.59 39 1 0 2.90 2.32a1.85 0.59 39 1 0 -2.90 -2.32zM674.7 227.6a1.85 0.65 39 1 0 2.90 2.32a1.85 0.65 39 1 0 -2.90 -2.32zM595.6 265.8a1.85 0.89 -26 1 0 3.34 -1.62a1.85 0.89 -26 1 0 -3.34 1.62zM599.3 264.8a1.85 0.98 -26 1 0 3.34 -1.62a1.85 0.98 -26 1 0 -3.34 1.62zM602.3 262.5a1.85 1.07 -26 1 0 3.34 -1.62a1.85 1.07 -26 1 0 -3.34 1.62zM695.4 264.9a1.85 0.89 0 1 0 3.71 0.00a1.85 0.89 0 1 0 -3.71 -0.00zM698.9 265.6a1.85 0.98 0 1 0 3.71 0.00a1.85 0.98 0 1 0 -3.71 -0.00zM702.5 264.9a1.85 1.07 0 1 0 3.71 0.00a1.85 1.07 0 1 0 -3.71 -0.00zM605.6 222.0a1.85 0.59 27 1 0 3.32 1.66a1.85 0.59 27 1 0 -3.32 -1.66zM608.0 224.0a1.85 0.65 27 1 0 3.32 1.66a1.85 0.65 27 1 0 -3.32 -1.66zM611.0 224.7a1.85 0.71 27 1 0 3.32 1.66a1.85 0.71 27 1 0 -3.32 -1.66zM613.4 226.7a1.85 0.77 27 1 0 3.32 1.66a1.85 0.77 27 1 0 -3.32 -1.66zM616.4 227.4a1.85 0.62 27 1 0 3.32 1.66a1.85 0.62 27 1 0 -3.32 -1.66zM618.8 229.4a1.85 0.68 27 1 0 3.32 1.66a1.85 0.68 27 1 0 -3.32 -1.66zM621.8 230.1a1.85 0.74 27 1 0 3.32 1.66a1.85 0.74 27 1 0 -3.32 -1.66zM601.7 232.0a1.85 0.59 31 1 0 3.18 1.91a1.85 0.59 31 1 0 -3.18 -1.91zM603.9 234.2a1.85 0.65 31 1 0 3.18 1.91a1.85 0.65 31 1 0 -3.18 -1.91zM606.8 235.1a1.85 0.71 31 1 0 3.18 1.91a1.85 0.71 31 1 0 -3.18 -1.91zM608.9 237.2a1.85 0.77 31 1 0 3.18 1.91a1.85 0.77 31 1 0 -3.18 -1.91zM611.8 238.1a1.85 0.62 31 1 0 3.18 1.91a1.85 0.62 31 1 0 -3.18 -1.91zM625.5 217.1a1.85 0.59 -9 1 0 3.66 -0.61a1.85 0.59 -9 1 0 -3.66 0.61zM628.7 217.2a1.85 0.65 -9 1 0 3.66 -0.61a1.85 0.65 -9 1 0 -3.66 0.61zM631.6 216.0a1.85 0.71 -9 1 0 3.66 -0.61a1.85 0.71 -9 1 0 -3.66 0.61zM634.7 216.2a1.85 0.77 -9 1 0 3.66 -0.61a1.85 0.77 -9 1 0 -3.66 0.61zM637.7 215.0a1.85 0.62 -9 1 0 3.66 -0.61a1.85 0.62 -9 1 0 -3.66 0.61zM650.4 316.8a1.33 2.97 -86 1 0 0.17 -2.66a1.33 2.97 -86 1 0 -0.17 2.66zM651.4 313.2a1.33 3.27 -86 1 0 0.17 -2.66a1.33 3.27 -86 1 0 -0.17 2.66zM650.9 309.6a1.33 3.57 -86 1 0 0.17 -2.66a1.33 3.57 -86 1 0 -0.17 2.66zM651.8 306.0a1.33 3.87 -86 1 0 0.17 -2.66a1.33 3.87 -86 1 0 -0.17 2.66zM651.4 302.3a1.33 3.12 -86 1 0 0.17 -2.66a1.33 3.12 -86 1 0 -0.17 2.66zM652.3 298.8a1.33 3.42 -86 1 0 0.17 -2.66a1.33 3.42 -86 1 0 -0.17 2.66zM651.8 295.1a1.33 3.72 -86 1 0 0.17 -2.66a1.33 3.72 -86 1 0 -0.17 2.66zM652.8 291.5a1.33 2.97 -86 1 0 0.17 -2.66a1.33 2.97 -86 1 0 -0.17 2.66zM651.5 309.6a1.16 1.38 -87 1 0 0.12 -2.32a1.16 1.38 -87 1 0 -0.12 2.32zM652.4 305.8a1.16 1.52 -87 1 0 0.12 -2.32a1.16 1.52 -87 1 0 -0.12 2.32zM651.9 302.0a1.16 1.65 -87 1 0 0.12 -2.32a1.16 1.65 -87 1 0 -0.12 2.32zM652.8 298.2a1.16 1.79 -87 1 0 0.12 -2.32a1.16 1.79 -87 1 0 -0.12 2.32zM652.3 294.4a1.16 1.45 -87 1 0 0.12 -2.32a1.16 1.45 -87 1 0 -0.12 2.32zM609.4 286.1a1.33 2.77 -21 1 0 2.50 -0.95a1.33 2.77 -21 1 0 -2.50 0.95zM612.9 285.5a1.33 3.05 -21 1 0 2.50 -0.95a1.33 3.05 -21 1 0 -2.50 0.95zM615.8 283.7a1.33 3.33 -21 1 0 2.50 -0.95a1.33 3.33 -21 1 0 -2.50 0.95zM619.3 283.1a1.33 3.61 -21 1 0 2.50 -0.95a1.33 3.61 -21 1 0 -2.50 0.95zM622.2 281.2a1.33 2.91 -21 1 0 2.50 -0.95a1.33 2.91 -21 1 0 -2.50 0.95zM625.7 280.7a1.33 3.19 -21 1 0 2.50 -0.95a1.33 3.19 -21 1 0 -2.50 0.95zM616.1 284.1a1.16 1.29 -24 1 0 2.11 -0.96a1.16 1.29 -24 1 0 -2.11 0.96zM620.8 282.7a1.16 1.42 -24 1 0 2.11 -0.96a1.16 1.42 -24 1 0 -2.11 0.96zM625.0 280.0a1.16 1.55 -24 1 0 2.11 -0.96a1.16 1.55 -24 1 0 -2.11 0.96zM673.8 277.1a1.33 2.77 39 1 0 2.07 1.68a1.33 2.77 39 1 0 -2.07 -1.68zM676.1 279.9a1.33 3.05 39 1 0 2.07 1.68a1.33 3.05 39 1 0 -2.07 -1.68zM679.3 281.7a1.33 3.33 39 1 0 2.07 1.68a1.33 3.33 39 1 0 -2.07 -1.68zM681.7 284.5a1.33 3.61 39 1 0 2.07 1.68a1.33 3.61 39 1 0 -2.07 -1.68zM684.9 286.2a1.33 2.91 39 1 0 2.07 1.68a1.33 2.91 39 1 0 -2.07 -1.68zM687.3 289.0a1.33 3.19 39 1 0 2.07 1.68a1.33 3.19 39 1 0 -2.07 -1.68zM675.3 278.7a1.16 1.29 38 1 0 1.82 1.44a1.16 1.29 38 1 0 -1.82 -1.44zM678.0 281.7a1.16 1.42 38 1 0 1.82 1.44a1.16 1.42 38 1 0 -1.82 -1.44zM681.6 283.7a1.16 1.55 38 1 0 1.82 1.44a1.16 1.55 38 1 0 -1.82 -1.44zM684.4 286.7a1.16 1.68 38 1 0 1.82 1.44a1.16 1.68 38 1 0 -1.82 -1.44zM668.7 276.6a1.85 0.79 21 1 0 3.45 1.36a1.85 0.79 21 1 0 -3.45 -1.36zM671.3 278.4a1.85 0.87 21 1 0 3.45 1.36a1.85 0.87 21 1 0 -3.45 -1.36zM674.4 278.9a1.85 0.95 21 1 0 3.45 1.36a1.85 0.95 21 1 0 -3.45 -1.36zM684.2 293.1a1.85 0.59 -46 1 0 2.58 -2.66a1.85 0.59 -46 1 0 -2.58 2.66zM687.0 291.2a1.85 0.65 -46 1 0 2.58 -2.66a1.85 0.65 -46 1 0 -2.58 2.66zM688.9 288.2a1.85 0.71 -46 1 0 2.58 -2.66a1.85 0.71 -46 1 0 -2.58 2.66zM691.7 286.3a1.85 0.77 -46 1 0 2.58 -2.66a1.85 0.77 -46 1 0 -2.58 2.66zM671.8 304.1a1.33 1.39 52 1 0 1.63 2.12a1.33 1.39 52 1 0 -1.63 -2.12zM673.8 307.8a1.33 1.53 52 1 0 1.63 2.12a1.33 1.53 52 1 0 -1.63 -2.12zM676.9 310.7a1.33 1.66 52 1 0 1.63 2.12a1.33 1.66 52 1 0 -1.63 -2.12zM678.8 314.4a1.33 1.80 52 1 0 1.63 2.12a1.33 1.80 52 1 0 -1.63 -2.12zM681.9 317.3a1.33 1.46 52 1 0 1.63 2.12a1.33 1.46 52 1 0 -1.63 -2.12zM674.0 304.6a1.16 0.69 57 1 0 1.28 1.94a1.16 0.69 57 1 0 -1.28 -1.94zM675.7 308.4a1.16 0.76 57 1 0 1.28 1.94a1.16 0.76 57 1 0 -1.28 -1.94zM678.5 311.4a1.16 0.83 57 1 0 1.28 1.94a1.16 0.83 57 1 0 -1.28 -1.94zM680.1 315.1a1.16 0.90 57 1 0 1.28 1.94a1.16 0.90 57 1 0 -1.28 -1.94zM670.7 306.3a1.85 0.59 -39 1 0 2.90 -2.32a1.85 0.59 -39 1 0 -2.90 2.32zM675.2 303.6a1.85 0.65 -39 1 0 2.90 -2.32a1.85 0.65 -39 1 0 -2.90 2.32zM595.9 264.2a1.85 0.89 26 1 0 3.34 1.62a1.85 0.89 26 1 0 -3.34 -1.62zM598.9 266.4a1.85 0.98 26 1 0 3.34 1.62a1.85 0.98 26 1 0 -3.34 -1.62zM602.6 267.4a1.85 1.07 26 1 0 3.34 1.62a1.85 1.07 26 1 0 -3.34 -1.62zM605.3 307.9a1.85 0.59 -27 1 0 3.32 -1.66a1.85 0.59 -27 1 0 -3.32 1.66zM608.3 307.2a1.85 0.65 -27 1 0 3.32 -1.66a1.85 0.65 -27 1 0 -3.32 1.66zM610.7 305.2a1.85 0.71 -27 1 0 3.32 -1.66a1.85 0.71 -27 1 0 -3.32 1.66zM613.7 304.5a1.85 0.77 -27 1 0 3.32 -1.66a1.85 0.77 -27 1 0 -3.32 1.66zM616.1 302.5a1.85 0.62 -27 1 0 3.32 -1.66a1.85 0.62 -27 1 0 -3.32 1.66zM619.1 301.8a1.85 0.68 -27 1 0 3.32 -1.66a1.85 0.68 -27 1 0 -3.32 1.66zM621.5 299.8a1.85 0.74 -27 1 0 3.32 -1.66a1.85 0.74 -27 1 0 -3.32 1.66zM601.3 297.9a1.85 0.59 -31 1 0 3.18 -1.91a1.85 0.59 -31 1 0 -3.18 1.91zM604.2 297.0a1.85 0.65 -31 1 0 3.18 -1.91a1.85 0.65 -31 1 0 -3.18 1.91zM606.4 294.9a1.85 0.71 -31 1 0 3.18 -1.91a1.85 0.71 -31 1 0 -3.18 1.91zM609.3 294.0a1.85 0.77 -31 1 0 3.18 -1.91a1.85 0.77 -31 1 0 -3.18 1.91zM611.5 291.9a1.85 0.62 -31 1 0 3.18 -1.91a1.85 0.62 -31 1 0 -3.18 1.91zM625.6 312.8a1.85 0.59 9 1 0 3.66 0.61a1.85 0.59 9 1 0 -3.66 -0.61zM628.5 314.0a1.85 0.65 9 1 0 3.66 0.61a1.85 0.65 9 1 0 -3.66 -0.61zM631.7 313.8a1.85 0.71 9 1 0 3.66 0.61a1.85 0.71 9 1 0 -3.66 -0.61zM634.6 315.0a1.85 0.77 9 1 0 3.66 0.61a1.85 0.77 9 1 0 -3.66 -0.61zM637.8 314.8a1.85 0.62 9 1 0 3.66 0.61a1.85 0.62 9 1 0 -3.66 -0.61zM650.2 265.3a1.94 1.94 0 1 0 3.89 0.00a1.94 1.94 0 1 0 -3.89 -0.00zM638.7 264.7a1.30 1.30 0 1 0 2.59 0.00a1.30 1.30 0 1 0 -2.59 -0.00zM656.5 274.8a1.30 1.30 0 1 0 2.59 0.00a1.30 1.30 0 1 0 -2.59 -0.00zM649.8 224.2a2.27 3.24 0 1 0 4.54 0.00a2.27 3.24 0 1 0 -4.54 -0.00zM650.3 229.2a2.59 3.89 0 1 0 5.18 0.00a2.59 3.89 0 1 0 -5.18 -0.00zM650.2 234.9a2.27 1.94 0 1 0 4.54 0.00a2.27 1.94 0 1 0 -4.54 -0.00zM648.4 219.1a2.24 1.86 0 1 0 4.47 0.00a2.24 1.86 0 1 0 -4.47 -0.00zM652.5 239.4a2.24 1.49 0 1 0 4.47 0.00a2.24 1.49 0 1 0 -4.47 -0.00zM643.0 219.6a2.98 1.12 -30 1 0 5.16 -2.98a2.98 1.12 -30 1 0 -5.16 2.98zM657.2 216.6a2.98 1.12 30 1 0 5.16 2.98a2.98 1.12 30 1 0 -5.16 -2.98zM645.7 240.3a2.24 1.12 30 1 0 3.87 2.24a2.24 1.12 30 1 0 -3.87 -2.24zM655.8 242.5a2.24 1.12 -30 1 0 3.87 -2.24a2.24 1.12 -30 1 0 -3.87 2.24zM646.7 216.2a2.24 1.12 -30 1 0 3.87 -2.24a2.24 1.12 -30 1 0 -3.87 2.24zM653.8 212.9a2.24 1.12 30 1 0 3.87 2.24a2.24 1.12 30 1 0 -3.87 -2.24zM617.1 245.2a2.59 1.62 30 1 0 4.49 2.59a2.59 1.62 30 1 0 -4.49 -2.59zM620.5 247.5a3.24 1.94 30 1 0 5.61 3.24a3.24 1.94 30 1 0 -5.61 -3.24zM623.5 250.9a2.27 1.94 0 1 0 4.54 0.00a2.27 1.94 0 1 0 -4.54 -0.00zM613.0 243.1a2.61 1.49 30 1 0 4.52 2.61a2.61 1.49 30 1 0 -4.52 -2.61zM628.2 252.5a2.24 1.49 0 1 0 4.47 0.00a2.24 1.49 0 1 0 -4.47 -0.00zM611.3 238.3a2.24 1.12 30 1 0 3.87 2.24a2.24 1.12 30 1 0 -3.87 -2.24zM608.2 235.2a2.24 1.12 30 1 0 3.87 2.24a2.24 1.12 30 1 0 -3.87 -2.24zM619.4 242.3a2.24 1.12 30 1 0 3.87 2.24a2.24 1.12 30 1 0 -3.87 -2.24zM626.2 247.5a2.24 1.12 0 1 0 4.47 0.00a2.24 1.12 0 1 0 -4.47 -0.00zM674.7 250.1a2.27 1.94 0 1 0 4.54 0.00a2.27 1.94 0 1 0 -4.54 -0.00zM678.0 249.1a2.59 1.62 -40 1 0 3.97 -3.33a2.59 1.62 -40 1 0 -3.97 3.33zM681.1 246.7a2.59 1.62 -40 1 0 3.97 -3.33a2.59 1.62 -40 1 0 -3.97 3.33zM673.5 253.8a1.94 1.30 -40 1 0 2.98 -2.50a1.94 1.30 -40 1 0 -2.98 2.50zM683.4 242.8a2.24 1.12 -40 1 0 3.42 -2.87a2.24 1.12 -40 1 0 -3.42 2.87zM669.7 253.5a2.24 1.12 0 1 0 4.47 0.00a2.24 1.12 0 1 0 -4.47 -0.00zM685.2 249.6a2.24 1.12 -30 1 0 3.87 -2.24a2.24 1.12 -30 1 0 -3.87 2.24zM673.3 225.8a1.94 1.30 -30 1 0 3.37 -1.94a1.94 1.30 -30 1 0 -3.37 1.94zM676.3 222.1a1.94 1.30 -30 1 0 3.37 -1.94a1.94 1.30 -30 1 0 -3.37 1.94zM671.8 226.3a2.24 1.49 60 1 0 2.24 3.87a2.24 1.49 60 1 0 -2.24 -3.87zM678.1 218.2a2.24 1.12 -30 1 0 3.87 -2.24a2.24 1.12 -30 1 0 -3.87 2.24zM670.0 220.0a2.24 1.12 30 1 0 3.87 2.24a2.24 1.12 30 1 0 -3.87 -2.24zM679.1 225.1a2.24 1.12 30 1 0 3.87 2.24a2.24 1.12 30 1 0 -3.87 -2.24zM619.4 222.3a2.24 1.12 -30 1 0 3.87 -2.24a2.24 1.12 -30 1 0 -3.87 2.24zM609.3 226.3a2.24 1.12 -30 1 0 3.87 -2.24a2.24 1.12 -30 1 0 -3.87 2.24zM623.4 228.3a2.24 1.12 -30 1 0 3.87 -2.24a2.24 1.12 -30 1 0 -3.87 2.24zM626.5 221.1a1.86 1.12 0 1 0 3.73 0.00a1.86 1.12 0 1 0 -3.73 -0.00zM615.4 229.2a1.86 1.12 0 1 0 3.73 0.00a1.86 1.12 0 1 0 -3.73 -0.00zM623.4 233.2a2.24 1.12 30 1 0 3.87 2.24a2.24 1.12 30 1 0 -3.87 -2.24zM598.2 265.3a2.92 1.30 0 1 0 5.83 0.00a2.92 1.30 0 1 0 -5.83 -0.00zM603.1 263.7a2.61 1.12 -40 1 0 4.00 -3.35a2.61 1.12 -40 1 0 -4.00 3.35zM606.1 262.4a1.86 1.12 -40 1 0 2.85 -2.39a1.86 1.12 -40 1 0 -2.85 2.39zM698.7 265.3a1.62 1.62 0 1 0 3.24 0.00a1.62 1.62 0 1 0 -3.24 -0.00zM703.9 265.3a1.49 1.49 0 1 0 2.98 0.00a1.49 1.49 0 1 0 -2.98 -0.00zM598.1 230.4a2.24 1.12 -30 1 0 3.87 -2.24a2.24 1.12 -30 1 0 -3.87 2.24zM603.2 234.4a2.24 1.12 -30 1 0 3.87 -2.24a2.24 1.12 -30 1 0 -3.87 2.24zM605.2 222.3a2.24 1.12 -30 1 0 3.87 -2.24a2.24 1.12 -30 1 0 -3.87 2.24zM597.1 218.2a2.24 1.12 -30 1 0 3.87 -2.24a2.24 1.12 -30 1 0 -3.87 2.24zM613.3 216.2a2.24 1.12 -30 1 0 3.87 -2.24a2.24 1.12 -30 1 0 -3.87 2.24zM625.5 214.0a2.24 1.12 30 1 0 3.87 2.24a2.24 1.12 30 1 0 -3.87 -2.24zM633.6 211.9a2.24 1.12 30 1 0 3.87 2.24a2.24 1.12 30 1 0 -3.87 -2.24zM639.6 224.1a2.24 1.12 30 1 0 3.87 2.24a2.24 1.12 30 1 0 -3.87 -2.24zM659.9 228.3a2.24 1.12 -30 1 0 3.87 -2.24a2.24 1.12 -30 1 0 -3.87 2.24zM666.0 218.2a2.24 1.12 -30 1 0 3.87 -2.24a2.24 1.12 -30 1 0 -3.87 2.24zM686.2 216.0a2.24 1.12 30 1 0 3.87 2.24a2.24 1.12 30 1 0 -3.87 -2.24zM696.3 211.9a2.24 1.12 30 1 0 3.87 2.24a2.24 1.12 30 1 0 -3.87 -2.24zM702.4 220.0a2.24 1.12 30 1 0 3.87 2.24a2.24 1.12 30 1 0 -3.87 -2.24zM698.3 228.1a2.24 1.12 30 1 0 3.87 2.24a2.24 1.12 30 1 0 -3.87 -2.24zM692.3 234.2a2.24 1.12 30 1 0 3.87 2.24a2.24 1.12 30 1 0 -3.87 -2.24zM702.4 240.3a2.24 1.12 30 1 0 3.87 2.24a2.24 1.12 30 1 0 -3.87 -2.24zM687.9 253.5a2.24 1.12 0 1 0 4.47 0.00a2.24 1.12 0 1 0 -4.47 -0.00zM694.0 259.6a2.24 1.12 0 1 0 4.47 0.00a2.24 1.12 0 1 0 -4.47 -0.00zM684.2 261.6a1.86 1.12 0 1 0 3.73 0.00a1.86 1.12 0 1 0 -3.73 -0.00zM633.6 242.3a2.24 1.12 30 1 0 3.87 2.24a2.24 1.12 30 1 0 -3.87 -2.24zM627.5 238.3a2.24 1.12 30 1 0 3.87 2.24a2.24 1.12 30 1 0 -3.87 -2.24zM639.6 236.2a2.24 1.12 30 1 0 3.87 2.24a2.24 1.12 30 1 0 -3.87 -2.24zM661.9 238.5a2.24 1.12 -30 1 0 3.87 -2.24a2.24 1.12 -30 1 0 -3.87 2.24zM666.0 244.5a2.24 1.12 -30 1 0 3.87 -2.24a2.24 1.12 -30 1 0 -3.87 2.24zM660.0 253.5a1.86 1.12 0 1 0 3.73 0.00a1.86 1.12 0 1 0 -3.73 -0.00zM636.7 257.6a1.86 1.12 0 1 0 3.73 0.00a1.86 1.12 0 1 0 -3.73 -0.00zM629.6 259.6a1.86 1.12 0 1 0 3.73 0.00a1.86 1.12 0 1 0 -3.73 -0.00zM613.4 257.6a1.86 1.12 0 1 0 3.73 0.00a1.86 1.12 0 1 0 -3.73 -0.00zM619.5 262.7a1.86 1.12 0 1 0 3.73 0.00a1.86 1.12 0 1 0 -3.73 -0.00zM688.2 228.1a2.24 1.12 30 1 0 3.87 2.24a2.24 1.12 30 1 0 -3.87 -2.24zM694.3 220.0a2.24 1.12 30 1 0 3.87 2.24a2.24 1.12 30 1 0 -3.87 -2.24zM703.5 233.3a1.86 1.12 0 1 0 3.73 0.00a1.86 1.12 0 1 0 -3.73 -0.00zM656.5 255.8a1.30 1.30 0 1 0 2.59 0.00a1.30 1.30 0 1 0 -2.59 -0.00zM649.8 306.4a2.27 3.24 0 1 0 4.54 0.00a2.27 3.24 0 1 0 -4.54 -0.00zM650.3 301.3a2.59 3.89 0 1 0 5.18 0.00a2.59 3.89 0 1 0 -5.18 -0.00zM650.2 295.7a2.27 1.94 0 1 0 4.54 0.00a2.27 1.94 0 1 0 -4.54 -0.00zM648.4 311.4a2.24 1.86 0 1 0 4.47 0.00a2.24 1.86 0 1 0 -4.47 -0.00zM652.5 291.2a2.24 1.49 0 1 0 4.47 0.00a2.24 1.49 0 1 0 -4.47 -0.00zM643.0 311.0a2.98 1.12 30 1 0 5.16 2.98a2.98 1.12 30 1 0 -5.16 -2.98zM657.2 313.9a2.98 1.12 -30 1 0 5.16 -2.98a2.98 1.12 -30 1 0 -5.16 2.98zM645.7 290.3a2.24 1.12 -30 1 0 3.87 -2.24a2.24 1.12 -30 1 0 -3.87 2.24zM655.8 288.1a2.24 1.12 30 1 0 3.87 2.24a2.24 1.12 30 1 0 -3.87 -2.24zM646.7 314.4a2.24 1.12 30 1 0 3.87 2.24a2.24 1.12 30 1 0 -3.87 -2.24zM653.8 317.6a2.24 1.12 -30 1 0 3.87 -2.24a2.24 1.12 -30 1 0 -3.87 2.24zM617.1 285.4a2.59 1.62 -30 1 0 4.49 -2.59a2.59 1.62 -30 1 0 -4.49 2.59zM620.5 283.1a3.24 1.94 -30 1 0 5.61 -3.24a3.24 1.94 -30 1 0 -5.61 3.24zM623.5 279.7a2.27 1.94 0 1 0 4.54 0.00a2.27 1.94 0 1 0 -4.54 -0.00zM613.0 287.4a2.61 1.49 -30 1 0 4.52 -2.61a2.61 1.49 -30 1 0 -4.52 2.61zM628.2 278.0a2.24 1.49 0 1 0 4.47 0.00a2.24 1.49 0 1 0 -4.47 -0.00zM611.3 292.3a2.24 1.12 -30 1 0 3.87 -2.24a2.24 1.12 -30 1 0 -3.87 2.24zM608.2 295.4a2.24 1.12 -30 1 0 3.87 -2.24a2.24 1.12 -30 1 0 -3.87 2.24zM619.4 288.3a2.24 1.12 -30 1 0 3.87 -2.24a2.24 1.12 -30 1 0 -3.87 2.24zM626.2 283.1a2.24 1.12 0 1 0 4.47 0.00a2.24 1.12 0 1 0 -4.47 -0.00zM674.7 280.5a2.27 1.94 0 1 0 4.54 0.00a2.27 1.94 0 1 0 -4.54 -0.00zM678.0 281.4a2.59 1.62 40 1 0 3.97 3.33a2.59 1.62 40 1 0 -3.97 -3.33zM681.1 283.9a2.59 1.62 40 1 0 3.97 3.33a2.59 1.62 40 1 0 -3.97 -3.33zM673.5 276.8a1.94 1.30 40 1 0 2.98 2.50a1.94 1.30 40 1 0 -2.98 -2.50zM683.4 287.7a2.24 1.12 40 1 0 3.42 2.87a2.24 1.12 40 1 0 -3.42 -2.87zM669.7 277.0a2.24 1.12 0 1 0 4.47 0.00a2.24 1.12 0 1 0 -4.47 -0.00zM685.2 281.0a2.24 1.12 30 1 0 3.87 2.24a2.24 1.12 30 1 0 -3.87 -2.24zM673.3 304.8a1.94 1.30 30 1 0 3.37 1.94a1.94 1.30 30 1 0 -3.37 -1.94zM676.3 308.5a1.94 1.30 30 1 0 3.37 1.94a1.94 1.30 30 1 0 -3.37 -1.94zM671.8 304.3a2.24 1.49 -60 1 0 2.24 -3.87a2.24 1.49 -60 1 0 -2.24 3.87zM678.1 312.4a2.24 1.12 30 1 0 3.87 2.24a2.24 1.12 30 1 0 -3.87 -2.24zM670.0 310.5a2.24 1.12 -30 1 0 3.87 -2.24a2.24 1.12 -30 1 0 -3.87 2.24zM679.1 305.5a2.24 1.12 -30 1 0 3.87 -2.24a2.24 1.12 -30 1 0 -3.87 2.24zM619.4 308.3a2.24 1.12 30 1 0 3.87 2.24a2.24 1.12 30 1 0 -3.87 -2.24zM609.3 304.3a2.24 1.12 30 1 0 3.87 2.24a2.24 1.12 30 1 0 -3.87 -2.24zM623.4 302.2a2.24 1.12 30 1 0 3.87 2.24a2.24 1.12 30 1 0 -3.87 -2.24zM626.5 309.4a1.86 1.12 0 1 0 3.73 0.00a1.86 1.12 0 1 0 -3.73 -0.00zM615.4 301.3a1.86 1.12 0 1 0 3.73 0.00a1.86 1.12 0 1 0 -3.73 -0.00zM623.4 297.4a2.24 1.12 -30 1 0 3.87 -2.24a2.24 1.12 -30 1 0 -3.87 2.24zM603.1 266.8a2.61 1.12 40 1 0 4.00 3.35a2.61 1.12 40 1 0 -4.00 -3.35zM606.1 268.1a1.86 1.12 40 1 0 2.85 2.39a1.86 1.12 40 1 0 -2.85 -2.39zM598.1 300.2a2.24 1.12 30 1 0 3.87 2.24a2.24 1.12 30 1 0 -3.87 -2.24zM603.2 296.2a2.24 1.12 30 1 0 3.87 2.24a2.24 1.12 30 1 0 -3.87 -2.24zM605.2 308.3a2.24 1.12 30 1 0 3.87 2.24a2.24 1.12 30 1 0 -3.87 -2.24zM597.1 312.4a2.24 1.12 30 1 0 3.87 2.24a2.24 1.12 30 1 0 -3.87 -2.24zM613.3 314.4a2.24 1.12 30 1 0 3.87 2.24a2.24 1.12 30 1 0 -3.87 -2.24zM625.5 316.6a2.24 1.12 -30 1 0 3.87 -2.24a2.24 1.12 -30 1 0 -3.87 2.24zM633.6 318.6a2.24 1.12 -30 1 0 3.87 -2.24a2.24 1.12 -30 1 0 -3.87 2.24zM639.6 306.5a2.24 1.12 -30 1 0 3.87 -2.24a2.24 1.12 -30 1 0 -3.87 2.24zM659.9 302.2a2.24 1.12 30 1 0 3.87 2.24a2.24 1.12 30 1 0 -3.87 -2.24zM666.0 312.4a2.24 1.12 30 1 0 3.87 2.24a2.24 1.12 30 1 0 -3.87 -2.24zM686.2 314.6a2.24 1.12 -30 1 0 3.87 -2.24a2.24 1.12 -30 1 0 -3.87 2.24zM696.3 318.6a2.24 1.12 -30 1 0 3.87 -2.24a2.24 1.12 -30 1 0 -3.87 2.24zM702.4 310.5a2.24 1.12 -30 1 0 3.87 -2.24a2.24 1.12 -30 1 0 -3.87 2.24zM698.3 302.4a2.24 1.12 -30 1 0 3.87 -2.24a2.24 1.12 -30 1 0 -3.87 2.24zM692.3 296.4a2.24 1.12 -30 1 0 3.87 -2.24a2.24 1.12 -30 1 0 -3.87 2.24zM702.4 290.3a2.24 1.12 -30 1 0 3.87 -2.24a2.24 1.12 -30 1 0 -3.87 2.24zM687.9 277.0a2.24 1.12 0 1 0 4.47 0.00a2.24 1.12 0 1 0 -4.47 -0.00zM694.0 271.0a2.24 1.12 0 1 0 4.47 0.00a2.24 1.12 0 1 0 -4.47 -0.00zM684.2 268.9a1.86 1.12 0 1 0 3.73 0.00a1.86 1.12 0 1 0 -3.73 -0.00zM633.6 288.3a2.24 1.12 -30 1 0 3.87 -2.24a2.24 1.12 -30 1 0 -3.87 2.24zM627.5 292.3a2.24 1.12 -30 1 0 3.87 -2.24a2.24 1.12 -30 1 0 -3.87 2.24zM639.6 294.3a2.24 1.12 -30 1 0 3.87 -2.24a2.24 1.12 -30 1 0 -3.87 2.24zM661.9 292.1a2.24 1.12 30 1 0 3.87 2.24a2.24 1.12 30 1 0 -3.87 -2.24zM666.0 286.0a2.24 1.12 30 1 0 3.87 2.24a2.24 1.12 30 1 0 -3.87 -2.24zM660.0 277.0a1.86 1.12 0 1 0 3.73 0.00a1.86 1.12 0 1 0 -3.73 -0.00zM636.7 273.0a1.86 1.12 0 1 0 3.73 0.00a1.86 1.12 0 1 0 -3.73 -0.00zM629.6 271.0a1.86 1.12 0 1 0 3.73 0.00a1.86 1.12 0 1 0 -3.73 -0.00zM613.4 273.0a1.86 1.12 0 1 0 3.73 0.00a1.86 1.12 0 1 0 -3.73 -0.00zM619.5 267.9a1.86 1.12 0 1 0 3.73 0.00a1.86 1.12 0 1 0 -3.73 -0.00zM688.2 302.4a2.24 1.12 -30 1 0 3.87 -2.24a2.24 1.12 -30 1 0 -3.87 2.24zM694.3 310.5a2.24 1.12 -30 1 0 3.87 -2.24a2.24 1.12 -30 1 0 -3.87 2.24zM703.5 297.3a1.86 1.12 0 1 0 3.73 0.00a1.86 1.12 0 1 0 -3.73 -0.00z"/><path fill="#0098ee" d="M651.2 214.1a0.99 2.20 86 1 0 0.13 1.97a0.99 2.20 86 1 0 -0.13 -1.97zM650.7 217.7a0.99 2.42 86 1 0 0.13 1.97a0.99 2.42 86 1 0 -0.13 -1.97zM651.6 221.3a0.99 2.64 86 1 0 0.13 1.97a0.99 2.64 86 1 0 -0.13 -1.97zM651.2 225.0a0.99 2.86 86 1 0 0.13 1.97a0.99 2.86 86 1 0 -0.13 -1.97zM652.1 228.5a0.99 2.31 86 1 0 0.13 1.97a0.99 2.31 86 1 0 -0.13 -1.97zM651.6 232.2a0.99 2.53 86 1 0 0.13 1.97a0.99 2.53 86 1 0 -0.13 -1.97zM652.6 235.8a0.99 2.75 86 1 0 0.13 1.97a0.99 2.75 86 1 0 -0.13 -1.97zM652.1 239.4a0.99 2.20 86 1 0 0.13 1.97a0.99 2.20 86 1 0 -0.13 -1.97zM652.2 221.3a0.86 1.02 87 1 0 0.09 1.72a0.86 1.02 87 1 0 -0.09 -1.72zM651.7 225.1a0.86 1.12 87 1 0 0.09 1.72a0.86 1.12 87 1 0 -0.09 -1.72zM652.6 228.9a0.86 1.22 87 1 0 0.09 1.72a0.86 1.22 87 1 0 -0.09 -1.72zM652.1 232.7a0.86 1.33 87 1 0 0.09 1.72a0.86 1.33 87 1 0 -0.09 -1.72zM653.0 236.5a0.86 1.07 87 1 0 0.09 1.72a0.86 1.07 87 1 0 -0.09 -1.72zM610.0 244.0a0.99 2.05 21 1 0 1.85 0.70a0.99 2.05 21 1 0 -1.85 -0.70zM612.9 245.8a0.99 2.26 21 1 0 1.85 0.70a0.99 2.26 21 1 0 -1.85 -0.70zM616.4 246.4a0.99 2.46 21 1 0 1.85 0.70a0.99 2.46 21 1 0 -1.85 -0.70zM619.3 248.3a0.99 2.67 21 1 0 1.85 0.70a0.99 2.67 21 1 0 -1.85 -0.70zM622.8 248.8a0.99 2.15 21 1 0 1.85 0.70a0.99 2.15 21 1 0 -1.85 -0.70zM625.7 250.7a0.99 2.36 21 1 0 1.85 0.70a0.99 2.36 21 1 0 -1.85 -0.70zM616.6 246.0a0.86 0.96 24 1 0 1.56 0.71a0.86 0.96 24 1 0 -1.56 -0.71zM620.8 248.6a0.86 1.05 24 1 0 1.56 0.71a0.86 1.05 24 1 0 -1.56 -0.71zM625.5 250.0a0.86 1.15 24 1 0 1.56 0.71a0.86 1.15 24 1 0 -1.56 -0.71zM673.6 252.7a0.99 2.05 -39 1 0 1.53 -1.24a0.99 2.05 -39 1 0 -1.53 1.24zM676.8 251.0a0.99 2.26 -39 1 0 1.53 -1.24a0.99 2.26 -39 1 0 -1.53 1.24zM679.2 248.1a0.99 2.46 -39 1 0 1.53 -1.24a0.99 2.46 -39 1 0 -1.53 1.24zM682.4 246.4a0.99 2.67 -39 1 0 1.53 -1.24a0.99 2.67 -39 1 0 -1.53 1.24zM684.8 243.6a0.99 2.15 -39 1 0 1.53 -1.24a0.99 2.15 -39 1 0 -1.53 1.24zM688.0 241.9a0.99 2.36 -39 1 0 1.53 -1.24a0.99 2.36 -39 1 0 -1.53 1.24zM675.1 251.2a0.86 0.96 -38 1 0 1.35 -1.06a0.86 0.96 -38 1 0 -1.35 1.06zM678.7 249.2a0.86 1.05 -38 1 0 1.35 -1.06a0.86 1.05 -38 1 0 -1.35 1.06zM681.4 246.2a0.86 1.15 -38 1 0 1.35 -1.06a0.86 1.15 -38 1 0 -1.35 1.06zM685.0 244.2a0.86 1.24 -38 1 0 1.35 -1.06a0.86 1.24 -38 1 0 -1.35 1.06zM671.5 225.8a0.99 1.03 -52 1 0 1.20 -1.57a0.99 1.03 -52 1 0 -1.20 1.57zM674.5 222.9a0.99 1.13 -52 1 0 1.20 -1.57a0.99 1.13 -52 1 0 -1.20 1.57zM676.5 219.2a0.99 1.23 -52 1 0 1.20 -1.57a0.99 1.23 -52 1 0 -1.20 1.57zM679.6 216.3a0.99 1.34 -52 1 0 1.20 -1.57a0.99 1.34 -52 1 0 -1.20 1.57zM681.6 212.6a0.99 1.08 -52 1 0 1.20 -1.57a0.99 1.08 -52 1 0 -1.20 1.57zM673.6 225.3a0.86 0.51 -57 1 0 0.95 -1.43a0.86 0.51 -57 1 0 -0.95 1.43zM676.4 222.3a0.86 0.56 -57 1 0 0.95 -1.43a0.86 0.56 -57 1 0 -0.95 1.43zM678.1 218.6a0.86 0.61 -57 1 0 0.95 -1.43a0.86 0.61 -57 1 0 -0.95 1.43zM680.9 215.6a0.86 0.66 -57 1 0 0.95 -1.43a0.86 0.66 -57 1 0 -0.95 1.43zM596.0 265.6a1.37 0.66 -26 1 0 2.47 -1.20a1.37 0.66 -26 1 0 -2.47 1.20zM599.7 264.6a1.37 0.73 -26 1 0 2.47 -1.20a1.37 0.73 -26 1 0 -2.47 1.20zM602.7 262.3a1.37 0.79 -26 1 0 2.47 -1.20a1.37 0.79 -26 1 0 -2.47 1.20zM695.9 264.9a1.37 0.66 0 1 0 2.74 0.00a1.37 0.66 0 1 0 -2.74 -0.00zM699.4 265.6a1.37 0.73 0 1 0 2.74 0.00a1.37 0.73 0 1 0 -2.74 -0.00zM703.0 264.9a1.37 0.79 0 1 0 2.74 0.00a1.37 0.79 0 1 0 -2.74 -0.00zM650.5 316.5a0.99 2.20 -86 1 0 0.13 -1.97a0.99 2.20 -86 1 0 -0.13 1.97zM651.4 312.9a0.99 2.42 -86 1 0 0.13 -1.97a0.99 2.42 -86 1 0 -0.13 1.97zM650.9 309.2a0.99 2.64 -86 1 0 0.13 -1.97a0.99 2.64 -86 1 0 -0.13 1.97zM651.9 305.7a0.99 2.86 -86 1 0 0.13 -1.97a0.99 2.86 -86 1 0 -0.13 1.97zM651.4 302.0a0.99 2.31 -86 1 0 0.13 -1.97a0.99 2.31 -86 1 0 -0.13 1.97zM652.3 298.4a0.99 2.53 -86 1 0 0.13 -1.97a0.99 2.53 -86 1 0 -0.13 1.97zM651.9 294.8a0.99 2.75 -86 1 0 0.13 -1.97a0.99 2.75 -86 1 0 -0.13 1.97zM652.8 291.2a0.99 2.20 -86 1 0 0.13 -1.97a0.99 2.20 -86 1 0 -0.13 1.97zM651.5 309.2a0.86 1.02 -87 1 0 0.09 -1.72a0.86 1.02 -87 1 0 -0.09 1.72zM652.4 305.5a0.86 1.12 -87 1 0 0.09 -1.72a0.86 1.12 -87 1 0 -0.09 1.72zM651.9 301.7a0.86 1.22 -87 1 0 0.09 -1.72a0.86 1.22 -87 1 0 -0.09 1.72zM652.8 297.9a0.86 1.33 -87 1 0 0.09 -1.72a0.86 1.33 -87 1 0 -0.09 1.72zM652.3 294.1a0.86 1.07 -87 1 0 0.09 -1.72a0.86 1.07 -87 1 0 -0.09 1.72zM609.7 286.0a0.99 2.05 -21 1 0 1.85 -0.70a0.99 2.05 -21 1 0 -1.85 0.70zM613.2 285.4a0.99 2.26 -21 1 0 1.85 -0.70a0.99 2.26 -21 1 0 -1.85 0.70zM616.1 283.5a0.99 2.46 -21 1 0 1.85 -0.70a0.99 2.46 -21 1 0 -1.85 0.70zM619.6 283.0a0.99 2.67 -21 1 0 1.85 -0.70a0.99 2.67 -21 1 0 -1.85 0.70zM622.5 281.1a0.99 2.15 -21 1 0 1.85 -0.70a0.99 2.15 -21 1 0 -1.85 0.70zM626.0 280.5a0.99 2.36 -21 1 0 1.85 -0.70a0.99 2.36 -21 1 0 -1.85 0.70zM616.3 283.9a0.86 0.96 -24 1 0 1.56 -0.71a0.86 0.96 -24 1 0 -1.56 0.71zM621.1 282.6a0.86 1.05 -24 1 0 1.56 -0.71a0.86 1.05 -24 1 0 -1.56 0.71zM625.3 279.9a0.86 1.15 -24 1 0 1.56 -0.71a0.86 1.15 -24 1 0 -1.56 0.71zM674.0 277.3a0.99 2.05 39 1 0 1.53 1.24a0.99 2.05 39 1 0 -1.53 -1.24zM676.4 280.2a0.99 2.26 39 1 0 1.53 1.24a0.99 2.26 39 1 0 -1.53 -1.24zM679.6 281.9a0.99 2.46 39 1 0 1.53 1.24a0.99 2.46 39 1 0 -1.53 -1.24zM682.0 284.7a0.99 2.67 39 1 0 1.53 1.24a0.99 2.67 39 1 0 -1.53 -1.24zM685.2 286.4a0.99 2.15 39 1 0 1.53 1.24a0.99 2.15 39 1 0 -1.53 -1.24zM687.6 289.2a0.99 2.36 39 1 0 1.53 1.24a0.99 2.36 39 1 0 -1.53 -1.24zM675.5 278.9a0.86 0.96 38 1 0 1.35 1.06a0.86 0.96 38 1 0 -1.35 -1.06zM678.3 281.9a0.86 1.05 38 1 0 1.35 1.06a0.86 1.05 38 1 0 -1.35 -1.06zM681.9 283.8a0.86 1.15 38 1 0 1.35 1.06a0.86 1.15 38 1 0 -1.35 -1.06zM684.6 286.9a0.86 1.24 38 1 0 1.35 1.06a0.86 1.24 38 1 0 -1.35 -1.06zM672.0 304.4a0.99 1.03 52 1 0 1.20 1.57a0.99 1.03 52 1 0 -1.20 -1.57zM674.0 308.1a0.99 1.13 52 1 0 1.20 1.57a0.99 1.13 52 1 0 -1.20 -1.57zM677.1 311.0a0.99 1.23 52 1 0 1.20 1.57a0.99 1.23 52 1 0 -1.20 -1.57zM679.1 314.7a0.99 1.34 52 1 0 1.20 1.57a0.99 1.34 52 1 0 -1.20 -1.57zM682.1 317.5a0.99 1.08 52 1 0 1.20 1.57a0.99 1.08 52 1 0 -1.20 -1.57zM674.2 304.9a0.86 0.51 57 1 0 0.95 1.43a0.86 0.51 57 1 0 -0.95 -1.43zM675.8 308.6a0.86 0.56 57 1 0 0.95 1.43a0.86 0.56 57 1 0 -0.95 -1.43zM678.6 311.6a0.86 0.61 57 1 0 0.95 1.43a0.86 0.61 57 1 0 -0.95 -1.43zM680.3 315.4a0.86 0.66 57 1 0 0.95 1.43a0.86 0.66 57 1 0 -0.95 -1.43zM596.3 264.4a1.37 0.66 26 1 0 2.47 1.20a1.37 0.66 26 1 0 -2.47 -1.20zM599.4 266.6a1.37 0.73 26 1 0 2.47 1.20a1.37 0.73 26 1 0 -2.47 -1.20zM603.0 267.6a1.37 0.79 26 1 0 2.47 1.20a1.37 0.79 26 1 0 -2.47 -1.20zM650.7 265.3a1.44 1.44 0 1 0 2.88 0.00a1.44 1.44 0 1 0 -2.88 -0.00zM639.0 264.7a0.96 0.96 0 1 0 1.92 0.00a0.96 0.96 0 1 0 -1.92 -0.00zM656.8 274.8a0.96 0.96 0 1 0 1.92 0.00a0.96 0.96 0 1 0 -1.92 -0.00zM650.4 224.2a1.68 2.40 0 1 0 3.36 0.00a1.68 2.40 0 1 0 -3.36 -0.00zM651.0 229.2a1.92 2.88 0 1 0 3.84 0.00a1.92 2.88 0 1 0 -3.84 -0.00zM650.8 234.9a1.68 1.44 0 1 0 3.36 0.00a1.68 1.44 0 1 0 -3.36 -0.00zM653.1 239.4a1.65 1.10 0 1 0 3.31 0.00a1.65 1.10 0 1 0 -3.31 -0.00zM617.6 245.5a1.92 1.20 30 1 0 3.32 1.92a1.92 1.20 30 1 0 -3.32 -1.92zM621.3 247.9a2.40 1.44 30 1 0 4.15 2.40a2.40 1.44 30 1 0 -4.15 -2.40zM624.1 250.9a1.68 1.44 0 1 0 3.36 0.00a1.68 1.44 0 1 0 -3.36 -0.00zM613.6 243.5a1.93 1.10 30 1 0 3.34 1.93a1.93 1.10 30 1 0 -3.34 -1.93zM675.3 250.1a1.68 1.44 0 1 0 3.36 0.00a1.68 1.44 0 1 0 -3.36 -0.00zM678.6 248.7a1.92 1.20 -40 1 0 2.94 -2.47a1.92 1.20 -40 1 0 -2.94 2.47zM681.6 246.3a1.92 1.20 -40 1 0 2.94 -2.47a1.92 1.20 -40 1 0 -2.94 2.47zM673.9 253.5a1.44 0.96 -40 1 0 2.20 -1.85a1.44 0.96 -40 1 0 -2.20 1.85zM673.7 225.5a1.44 0.96 -30 1 0 2.49 -1.44a1.44 0.96 -30 1 0 -2.49 1.44zM676.8 221.9a1.44 0.96 -30 1 0 2.49 -1.44a1.44 0.96 -30 1 0 -2.49 1.44zM672.1 226.8a1.65 1.10 60 1 0 1.65 2.86a1.65 1.10 60 1 0 -1.65 -2.86zM623.9 228.0a1.65 0.83 -30 1 0 2.86 -1.65a1.65 0.83 -30 1 0 -2.86 1.65zM598.9 265.3a2.16 0.96 0 1 0 4.31 0.00a2.16 0.96 0 1 0 -4.31 -0.00zM699.1 265.3a1.20 1.20 0 1 0 2.40 0.00a1.20 1.20 0 1 0 -2.40 -0.00zM656.8 255.8a0.96 0.96 0 1 0 1.92 0.00a0.96 0.96 0 1 0 -1.92 -0.00zM650.4 306.4a1.68 2.40 0 1 0 3.36 0.00a1.68 2.40 0 1 0 -3.36 -0.00zM651.0 301.3a1.92 2.88 0 1 0 3.84 0.00a1.92 2.88 0 1 0 -3.84 -0.00zM650.8 295.7a1.68 1.44 0 1 0 3.36 0.00a1.68 1.44 0 1 0 -3.36 -0.00zM653.1 291.2a1.65 1.10 0 1 0 3.31 0.00a1.65 1.10 0 1 0 -3.31 -0.00zM617.6 285.1a1.92 1.20 -30 1 0 3.32 -1.92a1.92 1.20 -30 1 0 -3.32 1.92zM621.3 282.7a2.40 1.44 -30 1 0 4.15 -2.40a2.40 1.44 -30 1 0 -4.15 2.40zM624.1 279.7a1.68 1.44 0 1 0 3.36 0.00a1.68 1.44 0 1 0 -3.36 -0.00zM613.6 287.1a1.93 1.10 -30 1 0 3.34 -1.93a1.93 1.10 -30 1 0 -3.34 1.93zM675.3 280.5a1.68 1.44 0 1 0 3.36 0.00a1.68 1.44 0 1 0 -3.36 -0.00zM678.6 281.9a1.92 1.20 40 1 0 2.94 2.47a1.92 1.20 40 1 0 -2.94 -2.47zM681.6 284.3a1.92 1.20 40 1 0 2.94 2.47a1.92 1.20 40 1 0 -2.94 -2.47zM673.9 277.1a1.44 0.96 40 1 0 2.20 1.85a1.44 0.96 40 1 0 -2.20 -1.85zM673.7 305.1a1.44 0.96 30 1 0 2.49 1.44a1.44 0.96 30 1 0 -2.49 -1.44zM676.8 308.7a1.44 0.96 30 1 0 2.49 1.44a1.44 0.96 30 1 0 -2.49 -1.44zM672.1 303.8a1.65 1.10 -60 1 0 1.65 -2.86a1.65 1.10 -60 1 0 -1.65 2.86zM623.9 302.5a1.65 0.83 30 1 0 2.86 1.65a1.65 0.83 30 1 0 -2.86 -1.65z"/><path fill="#0054d0" d="M652.2 221.5a0.64 0.76 87 1 0 0.07 1.27a0.64 0.76 87 1 0 -0.07 -1.27zM651.7 225.3a0.64 0.83 87 1 0 0.07 1.27a0.64 0.83 87 1 0 -0.07 -1.27zM652.6 229.1a0.64 0.91 87 1 0 0.07 1.27a0.64 0.91 87 1 0 -0.07 -1.27zM652.1 232.9a0.64 0.99 87 1 0 0.07 1.27a0.64 0.99 87 1 0 -0.07 -1.27zM653.0 236.7a0.64 0.80 87 1 0 0.07 1.27a0.64 0.80 87 1 0 -0.07 -1.27zM616.8 246.1a0.64 0.71 24 1 0 1.16 0.53a0.64 0.71 24 1 0 -1.16 -0.53zM621.0 248.7a0.64 0.78 24 1 0 1.16 0.53a0.64 0.78 24 1 0 -1.16 -0.53zM625.7 250.1a0.64 0.85 24 1 0 1.16 0.53a0.64 0.85 24 1 0 -1.16 -0.53zM675.3 251.0a0.64 0.71 -38 1 0 1.00 -0.79a0.64 0.71 -38 1 0 -1.00 0.79zM678.9 249.1a0.64 0.78 -38 1 0 1.00 -0.79a0.64 0.78 -38 1 0 -1.00 0.79zM681.6 246.0a0.64 0.85 -38 1 0 1.00 -0.79a0.64 0.85 -38 1 0 -1.00 0.79zM685.2 244.1a0.64 0.92 -38 1 0 1.00 -0.79a0.64 0.92 -38 1 0 -1.00 0.79zM673.7 225.1a0.64 0.38 -57 1 0 0.70 -1.07a0.64 0.38 -57 1 0 -0.70 1.07zM676.5 222.1a0.64 0.42 -57 1 0 0.70 -1.07a0.64 0.42 -57 1 0 -0.70 1.07zM678.2 218.4a0.64 0.45 -57 1 0 0.70 -1.07a0.64 0.45 -57 1 0 -0.70 1.07zM681.0 215.4a0.64 0.49 -57 1 0 0.70 -1.07a0.64 0.49 -57 1 0 -0.70 1.07zM651.5 309.0a0.64 0.76 -87 1 0 0.07 -1.27a0.64 0.76 -87 1 0 -0.07 1.27zM652.4 305.3a0.64 0.83 -87 1 0 0.07 -1.27a0.64 0.83 -87 1 0 -0.07 1.27zM651.9 301.4a0.64 0.91 -87 1 0 0.07 -1.27a0.64 0.91 -87 1 0 -0.07 1.27zM652.8 297.7a0.64 0.99 -87 1 0 0.07 -1.27a0.64 0.99 -87 1 0 -0.07 1.27zM652.3 293.8a0.64 0.80 -87 1 0 0.07 -1.27a0.64 0.80 -87 1 0 -0.07 1.27zM616.5 283.9a0.64 0.71 -24 1 0 1.16 -0.53a0.64 0.71 -24 1 0 -1.16 0.53zM621.3 282.5a0.64 0.78 -24 1 0 1.16 -0.53a0.64 0.78 -24 1 0 -1.16 0.53zM625.5 279.8a0.64 0.85 -24 1 0 1.16 -0.53a0.64 0.85 -24 1 0 -1.16 0.53zM675.7 279.0a0.64 0.71 38 1 0 1.00 0.79a0.64 0.71 38 1 0 -1.00 -0.79zM678.4 282.0a0.64 0.78 38 1 0 1.00 0.79a0.64 0.78 38 1 0 -1.00 -0.79zM682.0 284.0a0.64 0.85 38 1 0 1.00 0.79a0.64 0.85 38 1 0 -1.00 -0.79zM684.8 287.0a0.64 0.92 38 1 0 1.00 0.79a0.64 0.92 38 1 0 -1.00 -0.79zM674.3 305.1a0.64 0.38 57 1 0 0.70 1.07a0.64 0.38 57 1 0 -0.70 -1.07zM675.9 308.8a0.64 0.42 57 1 0 0.70 1.07a0.64 0.42 57 1 0 -0.70 -1.07zM678.8 311.8a0.64 0.45 57 1 0 0.70 1.07a0.64 0.45 57 1 0 -0.70 -1.07zM680.4 315.6a0.64 0.49 57 1 0 0.70 1.07a0.64 0.49 57 1 0 -0.70 -1.07zM651.0 265.3a1.07 1.07 0 1 0 2.14 0.00a1.07 1.07 0 1 0 -2.14 -0.00zM639.2 264.7a0.71 0.71 0 1 0 1.43 0.00a0.71 0.71 0 1 0 -1.43 -0.00zM657.1 274.8a0.71 0.71 0 1 0 1.43 0.00a0.71 0.71 0 1 0 -1.43 -0.00zM650.8 224.2a1.25 1.78 0 1 0 2.49 0.00a1.25 1.78 0 1 0 -2.49 -0.00zM651.5 229.2a1.43 2.14 0 1 0 2.85 0.00a1.43 2.14 0 1 0 -2.85 -0.00zM651.3 234.9a1.25 1.07 0 1 0 2.49 0.00a1.25 1.07 0 1 0 -2.49 -0.00zM618.1 245.7a1.43 0.89 30 1 0 2.47 1.43a1.43 0.89 30 1 0 -2.47 -1.43zM621.8 248.2a1.78 1.07 30 1 0 3.09 1.78a1.78 1.07 30 1 0 -3.09 -1.78zM624.5 250.9a1.25 1.07 0 1 0 2.49 0.00a1.25 1.07 0 1 0 -2.49 -0.00zM675.8 250.1a1.25 1.07 0 1 0 2.49 0.00a1.25 1.07 0 1 0 -2.49 -0.00zM678.9 248.4a1.43 0.89 -40 1 0 2.18 -1.83a1.43 0.89 -40 1 0 -2.18 1.83zM682.0 246.0a1.43 0.89 -40 1 0 2.18 -1.83a1.43 0.89 -40 1 0 -2.18 1.83zM674.2 253.2a1.07 0.71 -40 1 0 1.64 -1.37a1.07 0.71 -40 1 0 -1.64 1.37zM674.0 225.3a1.07 0.71 -30 1 0 1.85 -1.07a1.07 0.71 -30 1 0 -1.85 1.07zM677.1 221.7a1.07 0.71 -30 1 0 1.85 -1.07a1.07 0.71 -30 1 0 -1.85 1.07zM599.5 265.3a1.60 0.71 0 1 0 3.21 0.00a1.60 0.71 0 1 0 -3.21 -0.00zM699.4 265.3a0.89 0.89 0 1 0 1.78 0.00a0.89 0.89 0 1 0 -1.78 -0.00zM657.1 255.8a0.71 0.71 0 1 0 1.43 0.00a0.71 0.71 0 1 0 -1.43 -0.00zM650.8 306.4a1.25 1.78 0 1 0 2.49 0.00a1.25 1.78 0 1 0 -2.49 -0.00zM651.5 301.3a1.43 2.14 0 1 0 2.85 0.00a1.43 2.14 0 1 0 -2.85 -0.00zM651.3 295.7a1.25 1.07 0 1 0 2.49 0.00a1.25 1.07 0 1 0 -2.49 -0.00zM618.1 284.8a1.43 0.89 -30 1 0 2.47 -1.43a1.43 0.89 -30 1 0 -2.47 1.43zM621.8 282.4a1.78 1.07 -30 1 0 3.09 -1.78a1.78 1.07 -30 1 0 -3.09 1.78zM624.5 279.7a1.25 1.07 0 1 0 2.49 0.00a1.25 1.07 0 1 0 -2.49 -0.00zM675.8 280.5a1.25 1.07 0 1 0 2.49 0.00a1.25 1.07 0 1 0 -2.49 -0.00zM678.9 282.2a1.43 0.89 40 1 0 2.18 1.83a1.43 0.89 40 1 0 -2.18 -1.83zM682.0 284.6a1.43 0.89 40 1 0 2.18 1.83a1.43 0.89 40 1 0 -2.18 -1.83zM674.2 277.4a1.07 0.71 40 1 0 1.64 1.37a1.07 0.71 40 1 0 -1.64 -1.37zM674.0 305.2a1.07 0.71 30 1 0 1.85 1.07a1.07 0.71 30 1 0 -1.85 -1.07zM677.1 308.9a1.07 0.71 30 1 0 1.85 1.07a1.07 0.71 30 1 0 -1.85 -1.07z"/><path fill="#001470" d="M651.3 265.3a0.82 0.82 0 1 0 1.63 0.00a0.82 0.82 0 1 0 -1.63 -0.00zM651.5 234.9a0.95 0.82 0 1 0 1.90 0.00a0.95 0.82 0 1 0 -1.90 -0.00zM624.8 250.9a0.95 0.82 0 1 0 1.90 0.00a0.95 0.82 0 1 0 -1.90 -0.00zM676.0 250.1a0.95 0.82 0 1 0 1.90 0.00a0.95 0.82 0 1 0 -1.90 -0.00zM651.5 295.7a0.95 0.82 0 1 0 1.90 0.00a0.95 0.82 0 1 0 -1.90 -0.00zM624.8 279.7a0.95 0.82 0 1 0 1.90 0.00a0.95 0.82 0 1 0 -1.90 -0.00zM676.0 280.5a0.95 0.82 0 1 0 1.90 0.00a0.95 0.82 0 1 0 -1.90 -0.00z"/><path fill="#000018" d="M651.6 265.3a0.49 0.49 0 1 0 0.97 0.00a0.49 0.49 0 1 0 -0.97 -0.00zM651.9 234.9a0.57 0.49 0 1 0 1.13 0.00a0.57 0.49 0 1 0 -1.13 -0.00zM625.2 250.9a0.57 0.49 0 1 0 1.13 0.00a0.57 0.49 0 1 0 -1.13 -0.00zM676.4 250.1a0.57 0.49 0 1 0 1.13 0.00a0.57 0.49 0 1 0 -1.13 -0.00zM651.9 295.7a0.57 0.49 0 1 0 1.13 0.00a0.57 0.49 0 1 0 -1.13 -0.00zM625.2 279.7a0.57 0.49 0 1 0 1.13 0.00a0.57 0.49 0 1 0 -1.13 -0.00zM676.4 280.5a0.57 0.49 0 1 0 1.13 0.00a0.57 0.49 0 1 0 -1.13 -0.00z"/></g><text x="628.80" y="258.60" font-size="17.4" font-family="'Liberation Sans', sans-serif" fill="#f00" textLength="28.20" lengthAdjust="spacingAndGlyphs">4th</text><circle cx="650.7" cy="266.7" r="7.7" fill="none" stroke="#f02020" stroke-width="1.1" stroke-dasharray="1.1 1.1"/><path d="M596.40 209.8v-4.5M596.40 320.8v4.5M596.4 209.80h-4.5M707.4 209.80h4.5M601.95 209.8v-2.3M601.95 320.8v2.3M596.4 215.35h-2.3M707.4 215.35h2.3M607.50 209.8v-2.3M607.50 320.8v2.3M596.4 220.90h-2.3M707.4 220.90h2.3M613.05 209.8v-2.3M613.05 320.8v2.3M596.4 226.45h-2.3M707.4 226.45h2.3M618.60 209.8v-2.3M618.60 320.8v2.3M596.4 232.00h-2.3M707.4 232.00h2.3M624.15 209.8v-4.5M624.15 320.8v4.5M596.4 237.55h-4.5M707.4 237.55h4.5M629.70 209.8v-2.3M629.70 320.8v2.3M596.4 243.10h-2.3M707.4 243.10h2.3M635.25 209.8v-2.3M635.25 320.8v2.3M596.4 248.65h-2.3M707.4 248.65h2.3M640.80 209.8v-2.3M640.80 320.8v2.3M596.4 254.20h-2.3M707.4 254.20h2.3M646.35 209.8v-2.3M646.35 320.8v2.3M596.4 259.75h-2.3M707.4 259.75h2.3M651.90 209.8v-4.5M651.90 320.8v4.5M596.4 265.30h-4.5M707.4 265.30h4.5M657.45 209.8v-2.3M657.45 320.8v2.3M596.4 270.85h-2.3M707.4 270.85h2.3M663.00 209.8v-2.3M663.00 320.8v2.3M596.4 276.40h-2.3M707.4 276.40h2.3M668.55 209.8v-2.3M668.55 320.8v2.3M596.4 281.95h-2.3M707.4 281.95h2.3M674.10 209.8v-2.3M674.10 320.8v2.3M596.4 287.50h-2.3M707.4 287.50h2.3M679.65 209.8v-4.5M679.65 320.8v4.5M596.4 293.05h-4.5M707.4 293.05h4.5M685.20 209.8v-2.3M685.20 320.8v2.3M596.4 298.60h-2.3M707.4 298.60h2.3M690.75 209.8v-2.3M690.75 320.8v2.3M596.4 304.15h-2.3M707.4 304.15h2.3M696.30 209.8v-2.3M696.30 320.8v2.3M596.4 309.70h-2.3M707.4 309.70h2.3M701.85 209.8v-2.3M701.85 320.8v2.3M596.4 315.25h-2.3M707.4 315.25h2.3M707.40 209.8v-4.5M707.40 320.8v4.5M596.4 320.80h-4.5M707.4 320.80h4.5" stroke="#555" stroke-width="1" fill="none"/><text x="590.80" y="214.15" font-size="12.3" font-family="'Liberation Sans', sans-serif" font-weight="bold" text-anchor="end" textLength="15.20" lengthAdjust="spacingAndGlyphs">10</text><text x="590.80" y="241.90" font-size="12.3" font-family="'Liberation Sans', sans-serif" font-weight="bold" text-anchor="end" textLength="6.80" lengthAdjust="spacingAndGlyphs">5</text><text x="590.80" y="269.65" font-size="12.3" font-family="'Liberation Sans', sans-serif" font-weight="bold" text-anchor="end" textLength="6.80" lengthAdjust="spacingAndGlyphs">0</text><text x="590.80" y="297.40" font-size="12.3" font-family="'Liberation Sans', sans-serif" font-weight="bold" text-anchor="end" textLength="11.60" lengthAdjust="spacingAndGlyphs">-5</text><text x="590.80" y="325.15" font-size="12.3" font-family="'Liberation Sans', sans-serif" font-weight="bold" text-anchor="end" textLength="19.80" lengthAdjust="spacingAndGlyphs">-10</text><text x="597.20" y="336.30" font-size="12.3" font-family="'Liberation Sans', sans-serif" font-weight="bold" text-anchor="middle" textLength="15.20" lengthAdjust="spacingAndGlyphs">10</text><text x="624.40" y="336.30" font-size="12.3" font-family="'Liberation Sans', sans-serif" font-weight="bold" text-anchor="middle" textLength="6.80" lengthAdjust="spacingAndGlyphs">5</text><text x="651.60" y="336.30" font-size="12.3" font-family="'Liberation Sans', sans-serif" font-weight="bold" text-anchor="middle" textLength="6.80" lengthAdjust="spacingAndGlyphs">0</text><text x="678.50" y="336.30" font-size="12.3" font-family="'Liberation Sans', sans-serif" font-weight="bold" text-anchor="middle" textLength="11.60" lengthAdjust="spacingAndGlyphs">-5</text><text x="705.70" y="336.30" font-size="12.3" font-family="'Liberation Sans', sans-serif" font-weight="bold" text-anchor="middle" textLength="19.80" lengthAdjust="spacingAndGlyphs">-10</text><text x="571.40" y="354.70" font-size="11.3" font-family="'Liberation Sans', sans-serif" font-weight="bold" textLength="77.90" lengthAdjust="spacingAndGlyphs">Position along</text><text x="653.40" y="355.90" font-size="16" font-family="'Liberation Serif', serif" fill="#1a1a1a" stroke="#1a1a1a" stroke-width="0.3">[</text><text x="658.80" y="355.00" font-size="14.6" font-family="'Liberation Serif', serif" fill="#1a1a1a" stroke="#1a1a1a" stroke-width="0.3">1</text><path d="M659.50 342.80h4.3" stroke="#1a1a1a" stroke-width="1.3"/><text x="665.40" y="355.00" font-size="14.6" font-family="'Liberation Serif', serif" fill="#1a1a1a" textLength="13.40" lengthAdjust="spacingAndGlyphs" stroke="#1a1a1a" stroke-width="0.3">10</text><text x="679.40" y="355.90" font-size="16" font-family="'Liberation Serif', serif" fill="#1a1a1a" stroke="#1a1a1a" stroke-width="0.3">]</text><text x="684.40" y="358.00" font-size="8.2" font-family="'Liberation Sans', sans-serif" font-weight="bold" textLength="15.00" lengthAdjust="spacingAndGlyphs">HEX</text><text x="702.40" y="355.10" font-size="11.3" font-family="'Liberation Sans', sans-serif" font-weight="bold">(</text><text x="708.40" y="354.70" font-size="11.3" font-family="'Liberation Sans', sans-serif" font-weight="bold" textLength="9.60" lengthAdjust="spacingAndGlyphs">Å</text><text x="719.70" y="355.10" font-size="11.3" font-family="'Liberation Sans', sans-serif" font-weight="bold">)</text><g transform="translate(563.90 337.90) rotate(-90)"><text x="-0.40" y="0.00" font-size="11.3" font-family="'Liberation Sans', sans-serif" font-weight="bold" textLength="77.90" lengthAdjust="spacingAndGlyphs">Position along</text><text x="81.60" y="1.20" font-size="16" font-family="'Liberation Serif', serif" fill="#1a1a1a" stroke="#1a1a1a" stroke-width="0.3">[</text><text x="87.00" y="0.30" font-size="14.6" font-family="'Liberation Serif', serif" fill="#1a1a1a" stroke="#1a1a1a" stroke-width="0.3">1</text><path d="M87.70 -11.90h4.3" stroke="#1a1a1a" stroke-width="1.3"/><path d="M94.40 -11.90h4.3" stroke="#1a1a1a" stroke-width="1.3"/><text x="93.60" y="0.30" font-size="14.6" font-family="'Liberation Serif', serif" fill="#1a1a1a" textLength="13.40" lengthAdjust="spacingAndGlyphs" stroke="#1a1a1a" stroke-width="0.3">10</text><text x="107.60" y="1.20" font-size="16" font-family="'Liberation Serif', serif" fill="#1a1a1a" stroke="#1a1a1a" stroke-width="0.3">]</text><text x="112.60" y="3.30" font-size="8.2" font-family="'Liberation Sans', sans-serif" font-weight="bold" textLength="15.00" lengthAdjust="spacingAndGlyphs">HEX</text><text x="130.60" y="0.40" font-size="11.3" font-family="'Liberation Sans', sans-serif" font-weight="bold">(</text><text x="136.60" y="0.00" font-size="11.3" font-family="'Liberation Sans', sans-serif" font-weight="bold" textLength="9.60" lengthAdjust="spacingAndGlyphs">Å</text><text x="147.90" y="0.40" font-size="11.3" font-family="'Liberation Sans', sans-serif" font-weight="bold">)</text></g><text x="643.70" y="373.00" font-size="11.8" font-family="'Liberation Sans', sans-serif">(h)</text><rect x="45.6" y="402.9" width="111.0" height="111.0" fill="#fff" stroke="#555" stroke-width="1"/><clipPath id="pci"><rect x="46.1" y="403.4" width="110.0" height="110.0"/></clipPath><g clip-path="url(#pci)"><path fill="#00e0ff" d="M114.9 431.5a1.16 3.27 -56 1 0 1.31 -1.92a1.16 3.27 -56 1 0 -1.31 1.92zM117.8 428.6a1.16 3.60 -56 1 0 1.31 -1.92a1.16 3.60 -56 1 0 -1.31 1.92zM119.5 424.8a1.16 3.93 -56 1 0 1.31 -1.92a1.16 3.93 -56 1 0 -1.31 1.92zM122.3 421.9a1.16 4.26 -56 1 0 1.31 -1.92a1.16 4.26 -56 1 0 -1.31 1.92zM124.0 418.1a1.16 3.43 -56 1 0 1.31 -1.92a1.16 3.43 -56 1 0 -1.31 1.92zM126.9 415.2a1.16 3.76 -56 1 0 1.31 -1.92a1.16 3.76 -56 1 0 -1.31 1.92zM128.6 411.5a1.16 4.09 -56 1 0 1.31 -1.92a1.16 4.09 -56 1 0 -1.31 1.92zM131.4 408.5a1.16 3.27 -56 1 0 1.31 -1.92a1.16 3.27 -56 1 0 -1.31 1.92zM133.1 404.8a1.16 3.60 -56 1 0 1.31 -1.92a1.16 3.60 -56 1 0 -1.31 1.92zM44.2 458.5a1.85 1.58 0 1 0 3.71 0.00a1.85 1.58 0 1 0 -3.71 -0.00zM46.9 459.2a1.85 1.74 0 1 0 3.71 0.00a1.85 1.74 0 1 0 -3.71 -0.00zM49.7 458.5a1.85 1.90 0 1 0 3.71 0.00a1.85 1.90 0 1 0 -3.71 -0.00zM52.5 459.2a1.85 2.06 0 1 0 3.71 0.00a1.85 2.06 0 1 0 -3.71 -0.00zM55.3 458.5a1.85 1.66 0 1 0 3.71 0.00a1.85 1.66 0 1 0 -3.71 -0.00zM115.5 485.9a1.16 3.27 56 1 0 1.31 1.92a1.16 3.27 56 1 0 -1.31 -1.92zM117.2 489.6a1.16 3.60 56 1 0 1.31 1.92a1.16 3.60 56 1 0 -1.31 -1.92zM120.1 492.6a1.16 3.93 56 1 0 1.31 1.92a1.16 3.93 56 1 0 -1.31 -1.92zM121.8 496.3a1.16 4.26 56 1 0 1.31 1.92a1.16 4.26 56 1 0 -1.31 -1.92zM124.6 499.2a1.16 3.43 56 1 0 1.31 1.92a1.16 3.43 56 1 0 -1.31 -1.92zM126.3 503.0a1.16 3.76 56 1 0 1.31 1.92a1.16 3.76 56 1 0 -1.31 -1.92zM129.2 505.9a1.16 4.09 56 1 0 1.31 1.92a1.16 4.09 56 1 0 -1.31 -1.92zM130.9 509.7a1.16 3.27 56 1 0 1.31 1.92a1.16 3.27 56 1 0 -1.31 -1.92zM133.7 512.6a1.16 3.60 56 1 0 1.31 1.92a1.16 3.60 56 1 0 -1.31 -1.92zM99.3 458.9a1.94 1.94 0 1 0 3.89 0.00a1.94 1.94 0 1 0 -3.89 -0.00zM96.1 425.9a2.59 2.27 0 1 0 5.18 0.00a2.59 2.27 0 1 0 -5.18 -0.00zM96.7 434.0a2.59 2.27 0 1 0 5.18 0.00a2.59 2.27 0 1 0 -5.18 -0.00zM95.8 419.2a2.24 1.86 0 1 0 4.47 0.00a2.24 1.86 0 1 0 -4.47 -0.00zM92.4 414.1a2.24 1.49 0 1 0 4.47 0.00a2.24 1.49 0 1 0 -4.47 -0.00zM91.0 410.1a2.24 1.49 0 1 0 4.47 0.00a2.24 1.49 0 1 0 -4.47 -0.00zM98.2 442.5a1.49 1.49 0 1 0 2.98 0.00a1.49 1.49 0 1 0 -2.98 -0.00zM83.8 448.0a1.94 1.62 30 1 0 3.37 1.94a1.94 1.62 30 1 0 -3.37 -1.94zM78.9 443.1a2.92 2.27 30 1 0 5.05 2.92a2.92 2.27 30 1 0 -5.05 -2.92zM72.8 438.0a2.92 2.27 30 1 0 5.05 2.92a2.92 2.27 30 1 0 -5.05 -2.92zM66.6 434.1a2.61 1.86 30 1 0 4.52 2.61a2.61 1.86 30 1 0 -4.52 -2.61zM60.3 429.2a2.24 1.49 30 1 0 3.87 2.24a2.24 1.49 30 1 0 -3.87 -2.24zM55.2 425.2a2.24 1.49 30 1 0 3.87 2.24a2.24 1.49 30 1 0 -3.87 -2.24zM49.5 421.3a1.86 1.12 30 1 0 3.23 1.86a1.86 1.12 30 1 0 -3.23 -1.86zM115.8 451.2a1.94 1.62 -30 1 0 3.37 -1.94a1.94 1.62 -30 1 0 -3.37 1.94zM121.2 449.2a2.92 2.27 -20 1 0 5.48 -1.99a2.92 2.27 -20 1 0 -5.48 1.99zM128.3 446.5a2.92 2.27 -20 1 0 5.48 -1.99a2.92 2.27 -20 1 0 -5.48 1.99zM136.7 444.4a2.61 1.86 -20 1 0 4.90 -1.78a2.61 1.86 -20 1 0 -4.90 1.78zM144.1 441.2a2.24 1.49 -20 1 0 4.20 -1.53a2.24 1.49 -20 1 0 -4.20 1.53zM150.2 438.2a2.24 1.49 -20 1 0 4.20 -1.53a2.24 1.49 -20 1 0 -4.20 1.53zM126.3 413.1a1.30 0.97 0 1 0 2.59 0.00a1.30 0.97 0 1 0 -2.59 -0.00zM128.7 410.1a1.30 0.97 0 1 0 2.59 0.00a1.30 0.97 0 1 0 -2.59 -0.00zM114.0 434.4a1.86 1.12 0 1 0 3.73 0.00a1.86 1.12 0 1 0 -3.73 -0.00zM65.0 412.1a2.24 1.12 0 1 0 4.47 0.00a2.24 1.12 0 1 0 -4.47 -0.00zM73.1 408.1a2.24 1.12 0 1 0 4.47 0.00a2.24 1.12 0 1 0 -4.47 -0.00zM63.3 423.2a2.24 1.12 30 1 0 3.87 2.24a2.24 1.12 30 1 0 -3.87 -2.24zM59.3 428.3a1.86 1.12 0 1 0 3.73 0.00a1.86 1.12 0 1 0 -3.73 -0.00zM52.2 434.4a1.86 1.12 0 1 0 3.73 0.00a1.86 1.12 0 1 0 -3.73 -0.00zM49.2 440.5a1.86 1.12 0 1 0 3.73 0.00a1.86 1.12 0 1 0 -3.73 -0.00zM51.2 448.6a1.86 1.12 0 1 0 3.73 0.00a1.86 1.12 0 1 0 -3.73 -0.00zM71.5 450.6a1.86 1.12 0 1 0 3.73 0.00a1.86 1.12 0 1 0 -3.73 -0.00zM75.5 453.6a1.86 1.12 0 1 0 3.73 0.00a1.86 1.12 0 1 0 -3.73 -0.00zM63.4 406.0a1.86 1.12 0 1 0 3.73 0.00a1.86 1.12 0 1 0 -3.73 -0.00zM45.8 458.9a1.62 4.21 0 1 0 3.24 0.00a1.62 4.21 0 1 0 -3.24 -0.00zM50.5 458.9a1.62 3.89 0 1 0 3.24 0.00a1.62 3.89 0 1 0 -3.24 -0.00zM58.6 458.9a1.62 3.89 0 1 0 3.24 0.00a1.62 3.89 0 1 0 -3.24 -0.00zM62.7 458.9a1.49 2.98 0 1 0 2.98 0.00a1.49 2.98 0 1 0 -2.98 -0.00zM67.8 458.9a1.49 1.86 0 1 0 2.98 0.00a1.49 1.86 0 1 0 -2.98 -0.00zM76.5 458.9a1.86 1.86 0 1 0 3.73 0.00a1.86 1.86 0 1 0 -3.73 -0.00zM55.0 458.9a1.12 2.98 0 1 0 2.24 0.00a1.12 2.98 0 1 0 -2.24 -0.00zM146.4 458.9a1.86 1.86 0 1 0 3.73 0.00a1.86 1.86 0 1 0 -3.73 -0.00zM153.9 458.9a1.49 1.86 0 1 0 2.98 0.00a1.49 1.86 0 1 0 -2.98 -0.00zM107.9 452.6a1.86 1.12 0 1 0 3.73 0.00a1.86 1.12 0 1 0 -3.73 -0.00zM110.0 442.5a1.86 1.12 0 1 0 3.73 0.00a1.86 1.12 0 1 0 -3.73 -0.00zM103.9 420.2a1.86 1.12 0 1 0 3.73 0.00a1.86 1.12 0 1 0 -3.73 -0.00zM110.0 414.1a1.86 1.12 0 1 0 3.73 0.00a1.86 1.12 0 1 0 -3.73 -0.00zM139.9 424.3a2.24 1.12 0 1 0 4.47 0.00a2.24 1.12 0 1 0 -4.47 -0.00zM148.4 418.2a1.86 1.12 0 1 0 3.73 0.00a1.86 1.12 0 1 0 -3.73 -0.00zM152.5 430.3a1.86 1.12 0 1 0 3.73 0.00a1.86 1.12 0 1 0 -3.73 -0.00zM138.3 434.4a1.86 1.12 0 1 0 3.73 0.00a1.86 1.12 0 1 0 -3.73 -0.00zM130.2 432.4a1.86 1.12 0 1 0 3.73 0.00a1.86 1.12 0 1 0 -3.73 -0.00zM132.2 452.6a1.86 1.12 0 1 0 3.73 0.00a1.86 1.12 0 1 0 -3.73 -0.00zM142.3 450.6a1.86 1.12 0 1 0 3.73 0.00a1.86 1.12 0 1 0 -3.73 -0.00zM146.4 410.1a1.86 1.12 0 1 0 3.73 0.00a1.86 1.12 0 1 0 -3.73 -0.00zM96.1 491.9a2.59 2.27 0 1 0 5.18 0.00a2.59 2.27 0 1 0 -5.18 -0.00zM96.7 483.8a2.59 2.27 0 1 0 5.18 0.00a2.59 2.27 0 1 0 -5.18 -0.00zM95.8 498.6a2.24 1.86 0 1 0 4.47 0.00a2.24 1.86 0 1 0 -4.47 -0.00zM92.4 503.6a2.24 1.49 0 1 0 4.47 0.00a2.24 1.49 0 1 0 -4.47 -0.00zM91.0 507.7a2.24 1.49 0 1 0 4.47 0.00a2.24 1.49 0 1 0 -4.47 -0.00zM98.2 475.3a1.49 1.49 0 1 0 2.98 0.00a1.49 1.49 0 1 0 -2.98 -0.00zM83.8 469.8a1.94 1.62 -30 1 0 3.37 -1.94a1.94 1.62 -30 1 0 -3.37 1.94zM78.9 474.7a2.92 2.27 -30 1 0 5.05 -2.92a2.92 2.27 -30 1 0 -5.05 2.92zM72.8 479.8a2.92 2.27 -30 1 0 5.05 -2.92a2.92 2.27 -30 1 0 -5.05 2.92zM66.6 483.7a2.61 1.86 -30 1 0 4.52 -2.61a2.61 1.86 -30 1 0 -4.52 2.61zM60.3 488.6a2.24 1.49 -30 1 0 3.87 -2.24a2.24 1.49 -30 1 0 -3.87 2.24zM55.2 492.6a2.24 1.49 -30 1 0 3.87 -2.24a2.24 1.49 -30 1 0 -3.87 2.24zM49.5 496.5a1.86 1.12 -30 1 0 3.23 -1.86a1.86 1.12 -30 1 0 -3.23 1.86zM115.8 466.6a1.94 1.62 30 1 0 3.37 1.94a1.94 1.62 30 1 0 -3.37 -1.94zM121.2 468.6a2.92 2.27 20 1 0 5.48 1.99a2.92 2.27 20 1 0 -5.48 -1.99zM128.3 471.3a2.92 2.27 20 1 0 5.48 1.99a2.92 2.27 20 1 0 -5.48 -1.99zM136.7 473.4a2.61 1.86 20 1 0 4.90 1.78a2.61 1.86 20 1 0 -4.90 -1.78zM144.1 476.6a2.24 1.49 20 1 0 4.20 1.53a2.24 1.49 20 1 0 -4.20 -1.53zM150.2 479.6a2.24 1.49 20 1 0 4.20 1.53a2.24 1.49 20 1 0 -4.20 -1.53zM126.3 504.6a1.30 0.97 0 1 0 2.59 0.00a1.30 0.97 0 1 0 -2.59 -0.00zM128.7 507.7a1.30 0.97 0 1 0 2.59 0.00a1.30 0.97 0 1 0 -2.59 -0.00zM114.0 483.4a1.86 1.12 0 1 0 3.73 0.00a1.86 1.12 0 1 0 -3.73 -0.00zM65.0 505.7a2.24 1.12 0 1 0 4.47 0.00a2.24 1.12 0 1 0 -4.47 -0.00zM73.1 509.7a2.24 1.12 0 1 0 4.47 0.00a2.24 1.12 0 1 0 -4.47 -0.00zM63.3 494.6a2.24 1.12 -30 1 0 3.87 -2.24a2.24 1.12 -30 1 0 -3.87 2.24zM59.3 489.5a1.86 1.12 0 1 0 3.73 0.00a1.86 1.12 0 1 0 -3.73 -0.00zM52.2 483.4a1.86 1.12 0 1 0 3.73 0.00a1.86 1.12 0 1 0 -3.73 -0.00zM49.2 477.3a1.86 1.12 0 1 0 3.73 0.00a1.86 1.12 0 1 0 -3.73 -0.00zM51.2 469.2a1.86 1.12 0 1 0 3.73 0.00a1.86 1.12 0 1 0 -3.73 -0.00zM71.5 467.2a1.86 1.12 0 1 0 3.73 0.00a1.86 1.12 0 1 0 -3.73 -0.00zM75.5 464.2a1.86 1.12 0 1 0 3.73 0.00a1.86 1.12 0 1 0 -3.73 -0.00zM63.4 511.7a1.86 1.12 0 1 0 3.73 0.00a1.86 1.12 0 1 0 -3.73 -0.00zM107.9 465.2a1.86 1.12 0 1 0 3.73 0.00a1.86 1.12 0 1 0 -3.73 -0.00zM110.0 475.3a1.86 1.12 0 1 0 3.73 0.00a1.86 1.12 0 1 0 -3.73 -0.00zM103.9 497.6a1.86 1.12 0 1 0 3.73 0.00a1.86 1.12 0 1 0 -3.73 -0.00zM110.0 503.6a1.86 1.12 0 1 0 3.73 0.00a1.86 1.12 0 1 0 -3.73 -0.00zM139.9 493.5a2.24 1.12 0 1 0 4.47 0.00a2.24 1.12 0 1 0 -4.47 -0.00zM148.4 499.6a1.86 1.12 0 1 0 3.73 0.00a1.86 1.12 0 1 0 -3.73 -0.00zM152.5 487.4a1.86 1.12 0 1 0 3.73 0.00a1.86 1.12 0 1 0 -3.73 -0.00zM138.3 483.4a1.86 1.12 0 1 0 3.73 0.00a1.86 1.12 0 1 0 -3.73 -0.00zM130.2 485.4a1.86 1.12 0 1 0 3.73 0.00a1.86 1.12 0 1 0 -3.73 -0.00zM132.2 465.2a1.86 1.12 0 1 0 3.73 0.00a1.86 1.12 0 1 0 -3.73 -0.00zM142.3 467.2a1.86 1.12 0 1 0 3.73 0.00a1.86 1.12 0 1 0 -3.73 -0.00zM146.4 507.7a1.86 1.12 0 1 0 3.73 0.00a1.86 1.12 0 1 0 -3.73 -0.00z"/><path fill="#0098ee" d="M115.1 431.3a0.86 2.42 -56 1 0 0.97 -1.42a0.86 2.42 -56 1 0 -0.97 1.42zM117.9 428.3a0.86 2.66 -56 1 0 0.97 -1.42a0.86 2.66 -56 1 0 -0.97 1.42zM119.6 424.6a0.86 2.91 -56 1 0 0.97 -1.42a0.86 2.91 -56 1 0 -0.97 1.42zM122.5 421.6a0.86 3.15 -56 1 0 0.97 -1.42a0.86 3.15 -56 1 0 -0.97 1.42zM124.2 417.9a0.86 2.54 -56 1 0 0.97 -1.42a0.86 2.54 -56 1 0 -0.97 1.42zM127.1 415.0a0.86 2.79 -56 1 0 0.97 -1.42a0.86 2.79 -56 1 0 -0.97 1.42zM128.8 411.2a0.86 3.03 -56 1 0 0.97 -1.42a0.86 3.03 -56 1 0 -0.97 1.42zM131.6 408.3a0.86 2.42 -56 1 0 0.97 -1.42a0.86 2.42 -56 1 0 -0.97 1.42zM133.3 404.5a0.86 2.66 -56 1 0 0.97 -1.42a0.86 2.66 -56 1 0 -0.97 1.42zM115.7 486.1a0.86 2.42 56 1 0 0.97 1.42a0.86 2.42 56 1 0 -0.97 -1.42zM117.4 489.9a0.86 2.66 56 1 0 0.97 1.42a0.86 2.66 56 1 0 -0.97 -1.42zM120.2 492.8a0.86 2.91 56 1 0 0.97 1.42a0.86 2.91 56 1 0 -0.97 -1.42zM121.9 496.5a0.86 3.15 56 1 0 0.97 1.42a0.86 3.15 56 1 0 -0.97 -1.42zM124.8 499.5a0.86 2.54 56 1 0 0.97 1.42a0.86 2.54 56 1 0 -0.97 -1.42zM126.5 503.2a0.86 2.79 56 1 0 0.97 1.42a0.86 2.79 56 1 0 -0.97 -1.42zM129.3 506.2a0.86 3.03 56 1 0 0.97 1.42a0.86 3.03 56 1 0 -0.97 -1.42zM131.0 509.9a0.86 2.42 56 1 0 0.97 1.42a0.86 2.42 56 1 0 -0.97 -1.42zM133.9 512.9a0.86 2.66 56 1 0 0.97 1.42a0.86 2.66 56 1 0 -0.97 -1.42zM99.8 458.9a1.44 1.44 0 1 0 2.88 0.00a1.44 1.44 0 1 0 -2.88 -0.00zM96.7 425.9a1.92 1.68 0 1 0 3.84 0.00a1.92 1.68 0 1 0 -3.84 -0.00zM97.3 434.0a1.92 1.68 0 1 0 3.84 0.00a1.92 1.68 0 1 0 -3.84 -0.00zM98.6 442.5a1.10 1.10 0 1 0 2.21 0.00a1.10 1.10 0 1 0 -2.21 -0.00zM84.2 448.3a1.44 1.20 30 1 0 2.49 1.44a1.44 1.20 30 1 0 -2.49 -1.44zM79.6 443.4a2.16 1.68 30 1 0 3.74 2.16a2.16 1.68 30 1 0 -3.74 -2.16zM73.5 438.4a2.16 1.68 30 1 0 3.74 2.16a2.16 1.68 30 1 0 -3.74 -2.16zM67.2 434.4a1.93 1.38 30 1 0 3.34 1.93a1.93 1.38 30 1 0 -3.34 -1.93zM116.2 450.9a1.44 1.20 -30 1 0 2.49 -1.44a1.44 1.20 -30 1 0 -2.49 1.44zM121.9 448.9a2.16 1.68 -20 1 0 4.05 -1.48a2.16 1.68 -20 1 0 -4.05 1.48zM129.0 446.3a2.16 1.68 -20 1 0 4.05 -1.48a2.16 1.68 -20 1 0 -4.05 1.48zM137.3 444.2a1.93 1.38 -20 1 0 3.63 -1.32a1.93 1.38 -20 1 0 -3.63 1.32zM126.6 413.1a0.96 0.72 0 1 0 1.92 0.00a0.96 0.72 0 1 0 -1.92 -0.00zM129.1 410.1a0.96 0.72 0 1 0 1.92 0.00a0.96 0.72 0 1 0 -1.92 -0.00zM46.2 458.9a1.20 3.12 0 1 0 2.40 0.00a1.20 3.12 0 1 0 -2.40 -0.00zM50.9 458.9a1.20 2.88 0 1 0 2.40 0.00a1.20 2.88 0 1 0 -2.40 -0.00zM59.0 458.9a1.20 2.88 0 1 0 2.40 0.00a1.20 2.88 0 1 0 -2.40 -0.00zM63.1 458.9a1.10 2.21 0 1 0 2.21 0.00a1.10 2.21 0 1 0 -2.21 -0.00zM96.7 491.9a1.92 1.68 0 1 0 3.84 0.00a1.92 1.68 0 1 0 -3.84 -0.00zM97.3 483.8a1.92 1.68 0 1 0 3.84 0.00a1.92 1.68 0 1 0 -3.84 -0.00zM98.6 475.3a1.10 1.10 0 1 0 2.21 0.00a1.10 1.10 0 1 0 -2.21 -0.00zM84.2 469.5a1.44 1.20 -30 1 0 2.49 -1.44a1.44 1.20 -30 1 0 -2.49 1.44zM79.6 474.3a2.16 1.68 -30 1 0 3.74 -2.16a2.16 1.68 -30 1 0 -3.74 2.16zM73.5 479.4a2.16 1.68 -30 1 0 3.74 -2.16a2.16 1.68 -30 1 0 -3.74 2.16zM67.2 483.3a1.93 1.38 -30 1 0 3.34 -1.93a1.93 1.38 -30 1 0 -3.34 1.93zM116.2 466.9a1.44 1.20 30 1 0 2.49 1.44a1.44 1.20 30 1 0 -2.49 -1.44zM121.9 468.9a2.16 1.68 20 1 0 4.05 1.48a2.16 1.68 20 1 0 -4.05 -1.48zM129.0 471.5a2.16 1.68 20 1 0 4.05 1.48a2.16 1.68 20 1 0 -4.05 -1.48zM137.3 473.6a1.93 1.38 20 1 0 3.63 1.32a1.93 1.38 20 1 0 -3.63 -1.32zM126.6 504.6a0.96 0.72 0 1 0 1.92 0.00a0.96 0.72 0 1 0 -1.92 -0.00zM129.1 507.7a0.96 0.72 0 1 0 1.92 0.00a0.96 0.72 0 1 0 -1.92 -0.00z"/><path fill="#0054d0" d="M115.2 431.1a0.64 1.80 -56 1 0 0.72 -1.05a0.64 1.80 -56 1 0 -0.72 1.05zM118.1 428.1a0.64 1.98 -56 1 0 0.72 -1.05a0.64 1.98 -56 1 0 -0.72 1.05zM119.8 424.4a0.64 2.16 -56 1 0 0.72 -1.05a0.64 2.16 -56 1 0 -0.72 1.05zM122.6 421.5a0.64 2.34 -56 1 0 0.72 -1.05a0.64 2.34 -56 1 0 -0.72 1.05zM124.3 417.7a0.64 1.89 -56 1 0 0.72 -1.05a0.64 1.89 -56 1 0 -0.72 1.05zM127.2 414.8a0.64 2.07 -56 1 0 0.72 -1.05a0.64 2.07 -56 1 0 -0.72 1.05zM128.9 411.0a0.64 2.25 -56 1 0 0.72 -1.05a0.64 2.25 -56 1 0 -0.72 1.05zM131.7 408.1a0.64 1.80 -56 1 0 0.72 -1.05a0.64 1.80 -56 1 0 -0.72 1.05zM133.4 404.4a0.64 1.98 -56 1 0 0.72 -1.05a0.64 1.98 -56 1 0 -0.72 1.05zM115.8 486.3a0.64 1.80 56 1 0 0.72 1.05a0.64 1.80 56 1 0 -0.72 -1.05zM117.5 490.0a0.64 1.98 56 1 0 0.72 1.05a0.64 1.98 56 1 0 -0.72 -1.05zM120.3 493.0a0.64 2.16 56 1 0 0.72 1.05a0.64 2.16 56 1 0 -0.72 -1.05zM122.0 496.7a0.64 2.34 56 1 0 0.72 1.05a0.64 2.34 56 1 0 -0.72 -1.05zM124.9 499.7a0.64 1.89 56 1 0 0.72 1.05a0.64 1.89 56 1 0 -0.72 -1.05zM126.6 503.4a0.64 2.07 56 1 0 0.72 1.05a0.64 2.07 56 1 0 -0.72 -1.05zM129.5 506.4a0.64 2.25 56 1 0 0.72 1.05a0.64 2.25 56 1 0 -0.72 -1.05zM131.2 510.1a0.64 1.80 56 1 0 0.72 1.05a0.64 1.80 56 1 0 -0.72 -1.05zM134.0 513.0a0.64 1.98 56 1 0 0.72 1.05a0.64 1.98 56 1 0 -0.72 -1.05zM100.2 458.9a1.07 1.07 0 1 0 2.14 0.00a1.07 1.07 0 1 0 -2.14 -0.00zM97.2 425.9a1.43 1.25 0 1 0 2.85 0.00a1.43 1.25 0 1 0 -2.85 -0.00zM97.8 434.0a1.43 1.25 0 1 0 2.85 0.00a1.43 1.25 0 1 0 -2.85 -0.00zM84.6 448.4a1.07 0.89 30 1 0 1.85 1.07a1.07 0.89 30 1 0 -1.85 -1.07zM80.1 443.7a1.60 1.25 30 1 0 2.78 1.60a1.60 1.25 30 1 0 -2.78 -1.60zM74.0 438.7a1.60 1.25 30 1 0 2.78 1.60a1.60 1.25 30 1 0 -2.78 -1.60zM116.6 450.7a1.07 0.89 -30 1 0 1.85 -1.07a1.07 0.89 -30 1 0 -1.85 1.07zM122.5 448.7a1.60 1.25 -20 1 0 3.01 -1.10a1.60 1.25 -20 1 0 -3.01 1.10zM129.5 446.1a1.60 1.25 -20 1 0 3.01 -1.10a1.60 1.25 -20 1 0 -3.01 1.10zM126.9 413.1a0.71 0.53 0 1 0 1.43 0.00a0.71 0.53 0 1 0 -1.43 -0.00zM129.3 410.1a0.71 0.53 0 1 0 1.43 0.00a0.71 0.53 0 1 0 -1.43 -0.00zM46.5 458.9a0.89 2.32 0 1 0 1.78 0.00a0.89 2.32 0 1 0 -1.78 -0.00zM51.2 458.9a0.89 2.14 0 1 0 1.78 0.00a0.89 2.14 0 1 0 -1.78 -0.00zM59.3 458.9a0.89 2.14 0 1 0 1.78 0.00a0.89 2.14 0 1 0 -1.78 -0.00zM97.2 491.9a1.43 1.25 0 1 0 2.85 0.00a1.43 1.25 0 1 0 -2.85 -0.00zM97.8 483.8a1.43 1.25 0 1 0 2.85 0.00a1.43 1.25 0 1 0 -2.85 -0.00zM84.6 469.3a1.07 0.89 -30 1 0 1.85 -1.07a1.07 0.89 -30 1 0 -1.85 1.07zM80.1 474.1a1.60 1.25 -30 1 0 2.78 -1.60a1.60 1.25 -30 1 0 -2.78 1.60zM74.0 479.1a1.60 1.25 -30 1 0 2.78 -1.60a1.60 1.25 -30 1 0 -2.78 1.60zM116.6 467.1a1.07 0.89 30 1 0 1.85 1.07a1.07 0.89 30 1 0 -1.85 -1.07zM122.5 469.1a1.60 1.25 20 1 0 3.01 1.10a1.60 1.25 20 1 0 -3.01 -1.10zM129.5 471.7a1.60 1.25 20 1 0 3.01 1.10a1.60 1.25 20 1 0 -3.01 -1.10zM126.9 504.6a0.71 0.53 0 1 0 1.43 0.00a0.71 0.53 0 1 0 -1.43 -0.00zM129.3 507.7a0.71 0.53 0 1 0 1.43 0.00a0.71 0.53 0 1 0 -1.43 -0.00z"/><path fill="#001470" d="M100.5 458.9a0.82 0.82 0 1 0 1.63 0.00a0.82 0.82 0 1 0 -1.63 -0.00zM84.8 448.6a0.82 0.68 30 1 0 1.41 0.82a0.82 0.68 30 1 0 -1.41 -0.82zM116.8 450.6a0.82 0.68 -30 1 0 1.41 -0.82a0.82 0.68 -30 1 0 -1.41 0.82zM127.1 413.1a0.54 0.41 0 1 0 1.09 0.00a0.54 0.41 0 1 0 -1.09 -0.00zM129.5 410.1a0.54 0.41 0 1 0 1.09 0.00a0.54 0.41 0 1 0 -1.09 -0.00zM46.7 458.9a0.68 1.77 0 1 0 1.36 0.00a0.68 1.77 0 1 0 -1.36 -0.00zM84.8 469.2a0.82 0.68 -30 1 0 1.41 -0.82a0.82 0.68 -30 1 0 -1.41 0.82zM116.8 467.2a0.82 0.68 30 1 0 1.41 0.82a0.82 0.68 30 1 0 -1.41 -0.82zM127.1 504.6a0.54 0.41 0 1 0 1.09 0.00a0.54 0.41 0 1 0 -1.09 -0.00zM129.5 507.7a0.54 0.41 0 1 0 1.09 0.00a0.54 0.41 0 1 0 -1.09 -0.00z"/><path fill="#000018" d="M100.8 458.9a0.49 0.49 0 1 0 0.97 0.00a0.49 0.49 0 1 0 -0.97 -0.00zM85.1 448.7a0.49 0.40 30 1 0 0.84 0.49a0.49 0.40 30 1 0 -0.84 -0.49zM117.1 450.4a0.49 0.40 -30 1 0 0.84 -0.49a0.49 0.40 -30 1 0 -0.84 0.49zM127.3 413.1a0.32 0.24 0 1 0 0.65 0.00a0.32 0.24 0 1 0 -0.65 -0.00zM129.7 410.1a0.32 0.24 0 1 0 0.65 0.00a0.32 0.24 0 1 0 -0.65 -0.00zM47.0 458.9a0.40 1.05 0 1 0 0.81 0.00a0.40 1.05 0 1 0 -0.81 -0.00zM85.1 469.1a0.49 0.40 -30 1 0 0.84 -0.49a0.49 0.40 -30 1 0 -0.84 0.49zM117.1 467.4a0.49 0.40 30 1 0 0.84 0.49a0.49 0.40 30 1 0 -0.84 -0.49zM127.3 504.6a0.32 0.24 0 1 0 0.65 0.00a0.32 0.24 0 1 0 -0.65 -0.00zM129.7 507.7a0.32 0.24 0 1 0 0.65 0.00a0.32 0.24 0 1 0 -0.65 -0.00z"/></g><text x="91.00" y="449.60" font-size="17.4" font-family="'Liberation Sans', sans-serif" fill="#f00" textLength="25.10" lengthAdjust="spacingAndGlyphs">1st</text><circle cx="101.3" cy="459.1" r="7.7" fill="none" stroke="#f02020" stroke-width="1.1" stroke-dasharray="1.1 1.1"/><path d="M45.60 402.9v-4.5M45.60 513.9v4.5M45.6 402.90h-4.5M156.6 402.90h4.5M51.15 402.9v-2.3M51.15 513.9v2.3M45.6 408.45h-2.3M156.6 408.45h2.3M56.70 402.9v-2.3M56.70 513.9v2.3M45.6 414.00h-2.3M156.6 414.00h2.3M62.25 402.9v-2.3M62.25 513.9v2.3M45.6 419.55h-2.3M156.6 419.55h2.3M67.80 402.9v-2.3M67.80 513.9v2.3M45.6 425.10h-2.3M156.6 425.10h2.3M73.35 402.9v-4.5M73.35 513.9v4.5M45.6 430.65h-4.5M156.6 430.65h4.5M78.90 402.9v-2.3M78.90 513.9v2.3M45.6 436.20h-2.3M156.6 436.20h2.3M84.45 402.9v-2.3M84.45 513.9v2.3M45.6 441.75h-2.3M156.6 441.75h2.3M90.00 402.9v-2.3M90.00 513.9v2.3M45.6 447.30h-2.3M156.6 447.30h2.3M95.55 402.9v-2.3M95.55 513.9v2.3M45.6 452.85h-2.3M156.6 452.85h2.3M101.10 402.9v-4.5M101.10 513.9v4.5M45.6 458.40h-4.5M156.6 458.40h4.5M106.65 402.9v-2.3M106.65 513.9v2.3M45.6 463.95h-2.3M156.6 463.95h2.3M112.20 402.9v-2.3M112.20 513.9v2.3M45.6 469.50h-2.3M156.6 469.50h2.3M117.75 402.9v-2.3M117.75 513.9v2.3M45.6 475.05h-2.3M156.6 475.05h2.3M123.30 402.9v-2.3M123.30 513.9v2.3M45.6 480.60h-2.3M156.6 480.60h2.3M128.85 402.9v-4.5M128.85 513.9v4.5M45.6 486.15h-4.5M156.6 486.15h4.5M134.40 402.9v-2.3M134.40 513.9v2.3M45.6 491.70h-2.3M156.6 491.70h2.3M139.95 402.9v-2.3M139.95 513.9v2.3M45.6 497.25h-2.3M156.6 497.25h2.3M145.50 402.9v-2.3M145.50 513.9v2.3M45.6 502.80h-2.3M156.6 502.80h2.3M151.05 402.9v-2.3M151.05 513.9v2.3M45.6 508.35h-2.3M156.6 508.35h2.3M156.60 402.9v-4.5M156.60 513.9v4.5M45.6 513.90h-4.5M156.6 513.90h4.5" stroke="#555" stroke-width="1" fill="none"/><text x="37.50" y="407.75" font-size="12.3" font-family="'Liberation Sans', sans-serif" font-weight="bold" text-anchor="end" textLength="15.20" lengthAdjust="spacingAndGlyphs">10</text><text x="37.50" y="435.50" font-size="12.3" font-family="'Liberation Sans', sans-serif" font-weight="bold" text-anchor="end" textLength="6.80" lengthAdjust="spacingAndGlyphs">5</text><text x="37.50" y="463.25" font-size="12.3" font-family="'Liberation Sans', sans-serif" font-weight="bold" text-anchor="end" textLength="6.80" lengthAdjust="spacingAndGlyphs">0</text><text x="37.50" y="491.00" font-size="12.3" font-family="'Liberation Sans', sans-serif" font-weight="bold" text-anchor="end" textLength="11.60" lengthAdjust="spacingAndGlyphs">-5</text><text x="37.50" y="518.75" font-size="12.3" font-family="'Liberation Sans', sans-serif" font-weight="bold" text-anchor="end" textLength="19.80" lengthAdjust="spacingAndGlyphs">-10</text><text x="45.20" y="529.40" font-size="12.3" font-family="'Liberation Sans', sans-serif" font-weight="bold" text-anchor="middle" textLength="15.20" lengthAdjust="spacingAndGlyphs">10</text><text x="72.40" y="529.40" font-size="12.3" font-family="'Liberation Sans', sans-serif" font-weight="bold" text-anchor="middle" textLength="6.80" lengthAdjust="spacingAndGlyphs">5</text><text x="99.60" y="529.40" font-size="12.3" font-family="'Liberation Sans', sans-serif" font-weight="bold" text-anchor="middle" textLength="6.80" lengthAdjust="spacingAndGlyphs">0</text><text x="126.50" y="529.40" font-size="12.3" font-family="'Liberation Sans', sans-serif" font-weight="bold" text-anchor="middle" textLength="11.60" lengthAdjust="spacingAndGlyphs">-5</text><text x="153.70" y="529.40" font-size="12.3" font-family="'Liberation Sans', sans-serif" font-weight="bold" text-anchor="middle" textLength="19.80" lengthAdjust="spacingAndGlyphs">-10</text><text x="22.00" y="546.00" font-size="11.3" font-family="'Liberation Sans', sans-serif" font-weight="bold" textLength="77.90" lengthAdjust="spacingAndGlyphs">Position along</text><text x="104.00" y="547.20" font-size="16" font-family="'Liberation Serif', serif" fill="#1a1a1a" stroke="#1a1a1a" stroke-width="0.3">[</text><text x="109.40" y="546.30" font-size="14.6" font-family="'Liberation Serif', serif" fill="#1a1a1a" stroke="#1a1a1a" stroke-width="0.3">1</text><path d="M110.10 534.10h4.3" stroke="#1a1a1a" stroke-width="1.3"/><text x="116.00" y="546.30" font-size="14.6" font-family="'Liberation Serif', serif" fill="#1a1a1a" textLength="13.40" lengthAdjust="spacingAndGlyphs" stroke="#1a1a1a" stroke-width="0.3">10</text><text x="130.00" y="547.20" font-size="16" font-family="'Liberation Serif', serif" fill="#1a1a1a" stroke="#1a1a1a" stroke-width="0.3">]</text><text x="135.00" y="549.30" font-size="8.2" font-family="'Liberation Sans', sans-serif" font-weight="bold" textLength="15.00" lengthAdjust="spacingAndGlyphs">HEX</text><text x="153.00" y="546.40" font-size="11.3" font-family="'Liberation Sans', sans-serif" font-weight="bold">(</text><text x="159.00" y="546.00" font-size="11.3" font-family="'Liberation Sans', sans-serif" font-weight="bold" textLength="9.60" lengthAdjust="spacingAndGlyphs">Å</text><text x="170.30" y="546.40" font-size="11.3" font-family="'Liberation Sans', sans-serif" font-weight="bold">)</text><g transform="translate(13.60 540.30) rotate(-90)"><text x="-0.40" y="0.00" font-size="11.3" font-family="'Liberation Sans', sans-serif" font-weight="bold" textLength="77.90" lengthAdjust="spacingAndGlyphs">Position along</text><text x="81.60" y="1.20" font-size="16" font-family="'Liberation Serif', serif" fill="#1a1a1a" stroke="#1a1a1a" stroke-width="0.3">[</text><text x="87.00" y="0.30" font-size="14.6" font-family="'Liberation Serif', serif" fill="#1a1a1a" stroke="#1a1a1a" stroke-width="0.3">1</text><path d="M87.70 -11.90h4.3" stroke="#1a1a1a" stroke-width="1.3"/><path d="M94.40 -11.90h4.3" stroke="#1a1a1a" stroke-width="1.3"/><text x="93.60" y="0.30" font-size="14.6" font-family="'Liberation Serif', serif" fill="#1a1a1a" textLength="13.40" lengthAdjust="spacingAndGlyphs" stroke="#1a1a1a" stroke-width="0.3">10</text><text x="107.60" y="1.20" font-size="16" font-family="'Liberation Serif', serif" fill="#1a1a1a" stroke="#1a1a1a" stroke-width="0.3">]</text><text x="112.60" y="3.30" font-size="8.2" font-family="'Liberation Sans', sans-serif" font-weight="bold" textLength="15.00" lengthAdjust="spacingAndGlyphs">HEX</text><text x="130.60" y="0.40" font-size="11.3" font-family="'Liberation Sans', sans-serif" font-weight="bold">(</text><text x="136.60" y="0.00" font-size="11.3" font-family="'Liberation Sans', sans-serif" font-weight="bold" textLength="9.60" lengthAdjust="spacingAndGlyphs">Å</text><text x="147.90" y="0.40" font-size="11.3" font-family="'Liberation Sans', sans-serif" font-weight="bold">)</text></g><text x="96.30" y="564.20" font-size="11.8" font-family="'Liberation Sans', sans-serif">(i)</text><rect x="228.5" y="402.7" width="111.0" height="111.0" fill="#fff" stroke="#555" stroke-width="1"/><clipPath id="pcj"><rect x="229.0" y="403.2" width="110.0" height="110.0"/></clipPath><g clip-path="url(#pcj)"><path fill="#00e0ff" d="M273.6 444.2a2.27 1.62 -30 1 0 3.93 -2.27a2.27 1.62 -30 1 0 -3.93 2.27zM299.7 458.3a1.62 2.59 0 1 0 3.24 0.00a1.62 2.59 0 1 0 -3.24 -0.00zM298.6 427.9a2.27 2.27 0 1 0 4.54 0.00a2.27 2.27 0 1 0 -4.54 -0.00zM247.0 458.3a2.27 2.27 0 1 0 4.54 0.00a2.27 2.27 0 1 0 -4.54 -0.00zM293.1 423.7a2.24 1.12 -40 1 0 3.42 -2.87a2.24 1.12 -40 1 0 -3.42 2.87zM305.2 420.8a2.24 1.12 40 1 0 3.42 2.87a2.24 1.12 40 1 0 -3.42 -2.87zM295.1 430.9a2.24 1.12 40 1 0 3.42 2.87a2.24 1.12 40 1 0 -3.42 -2.87zM304.2 433.8a2.24 1.12 -40 1 0 3.42 -2.87a2.24 1.12 -40 1 0 -3.42 2.87zM299.0 421.2a1.86 1.12 0 1 0 3.73 0.00a1.86 1.12 0 1 0 -3.73 -0.00zM307.9 427.3a1.12 2.24 0 1 0 2.24 0.00a1.12 2.24 0 1 0 -2.24 -0.00zM291.7 427.3a1.12 2.24 0 1 0 2.24 0.00a1.12 2.24 0 1 0 -2.24 -0.00zM240.2 455.4a2.24 1.12 -30 1 0 3.87 -2.24a2.24 1.12 -30 1 0 -3.87 2.24zM254.4 452.5a2.24 1.12 30 1 0 3.87 2.24a2.24 1.12 30 1 0 -3.87 -2.24zM237.0 458.3a1.12 3.73 0 1 0 2.24 0.00a1.12 3.73 0 1 0 -2.24 -0.00zM233.0 458.3a1.12 3.35 0 1 0 2.24 0.00a1.12 3.35 0 1 0 -2.24 -0.00zM257.3 458.3a1.12 2.98 0 1 0 2.24 0.00a1.12 2.98 0 1 0 -2.24 -0.00zM242.0 449.6a2.24 1.12 0 1 0 4.47 0.00a2.24 1.12 0 1 0 -4.47 -0.00zM273.6 411.1a1.94 1.30 0 1 0 3.89 0.00a1.94 1.30 0 1 0 -3.89 -0.00zM286.5 415.2a2.24 1.12 0 1 0 4.47 0.00a2.24 1.12 0 1 0 -4.47 -0.00zM276.4 416.2a2.24 1.12 0 1 0 4.47 0.00a2.24 1.12 0 1 0 -4.47 -0.00zM258.2 417.2a2.24 1.49 0 1 0 4.47 0.00a2.24 1.49 0 1 0 -4.47 -0.00zM245.3 426.2a2.24 1.12 30 1 0 3.87 2.24a2.24 1.12 30 1 0 -3.87 -2.24zM240.9 440.5a2.24 1.49 0 1 0 4.47 0.00a2.24 1.49 0 1 0 -4.47 -0.00zM247.0 442.5a2.24 1.12 0 1 0 4.47 0.00a2.24 1.12 0 1 0 -4.47 -0.00zM259.2 432.4a2.24 1.49 0 1 0 4.47 0.00a2.24 1.49 0 1 0 -4.47 -0.00zM256.4 437.3a2.24 1.12 30 1 0 3.87 2.24a2.24 1.12 30 1 0 -3.87 -2.24zM265.2 437.4a2.24 1.12 0 1 0 4.47 0.00a2.24 1.12 0 1 0 -4.47 -0.00zM280.4 435.4a2.24 1.12 0 1 0 4.47 0.00a2.24 1.12 0 1 0 -4.47 -0.00zM286.5 440.5a2.24 1.12 0 1 0 4.47 0.00a2.24 1.12 0 1 0 -4.47 -0.00zM290.6 450.6a2.24 1.12 0 1 0 4.47 0.00a2.24 1.12 0 1 0 -4.47 -0.00zM279.8 453.6a1.86 1.12 0 1 0 3.73 0.00a1.86 1.12 0 1 0 -3.73 -0.00zM266.6 453.6a1.86 1.12 0 1 0 3.73 0.00a1.86 1.12 0 1 0 -3.73 -0.00zM260.6 454.6a1.86 1.12 0 1 0 3.73 0.00a1.86 1.12 0 1 0 -3.73 -0.00zM311.1 450.6a1.94 1.62 0 1 0 3.89 0.00a1.94 1.62 0 1 0 -3.89 -0.00zM320.9 441.5a2.24 1.49 0 1 0 4.47 0.00a2.24 1.49 0 1 0 -4.47 -0.00zM314.8 433.4a2.24 1.12 0 1 0 4.47 0.00a2.24 1.12 0 1 0 -4.47 -0.00zM325.0 427.3a2.24 1.12 0 1 0 4.47 0.00a2.24 1.12 0 1 0 -4.47 -0.00zM331.0 418.2a2.24 1.12 0 1 0 4.47 0.00a2.24 1.12 0 1 0 -4.47 -0.00zM323.2 413.0a2.24 1.49 30 1 0 3.87 2.24a2.24 1.49 30 1 0 -3.87 -2.24zM333.2 407.1a2.98 1.12 -45 1 0 4.21 -4.21a2.98 1.12 -45 1 0 -4.21 4.21zM306.8 418.2a2.24 1.12 0 1 0 4.47 0.00a2.24 1.12 0 1 0 -4.47 -0.00zM310.8 410.1a2.24 1.12 0 1 0 4.47 0.00a2.24 1.12 0 1 0 -4.47 -0.00zM230.1 421.1a2.24 1.12 30 1 0 3.87 2.24a2.24 1.12 30 1 0 -3.87 -2.24zM234.2 413.0a2.24 1.12 30 1 0 3.87 2.24a2.24 1.12 30 1 0 -3.87 -2.24zM228.4 421.8a2.24 1.12 -45 1 0 3.16 -3.16a2.24 1.12 -45 1 0 -3.16 3.16zM237.9 406.0a2.24 1.12 0 1 0 4.47 0.00a2.24 1.12 0 1 0 -4.47 -0.00zM250.1 408.1a2.24 1.12 0 1 0 4.47 0.00a2.24 1.12 0 1 0 -4.47 -0.00zM266.3 406.0a2.24 1.12 0 1 0 4.47 0.00a2.24 1.12 0 1 0 -4.47 -0.00zM294.6 406.0a2.24 1.12 0 1 0 4.47 0.00a2.24 1.12 0 1 0 -4.47 -0.00zM315.2 446.5a1.86 1.12 0 1 0 3.73 0.00a1.86 1.12 0 1 0 -3.73 -0.00zM327.4 454.6a1.86 1.12 0 1 0 3.73 0.00a1.86 1.12 0 1 0 -3.73 -0.00zM331.4 442.5a1.86 1.12 0 1 0 3.73 0.00a1.86 1.12 0 1 0 -3.73 -0.00zM336.5 450.6a1.86 1.12 0 1 0 3.73 0.00a1.86 1.12 0 1 0 -3.73 -0.00zM336.5 432.4a1.86 1.12 0 1 0 3.73 0.00a1.86 1.12 0 1 0 -3.73 -0.00zM284.9 424.3a1.86 1.12 0 1 0 3.73 0.00a1.86 1.12 0 1 0 -3.73 -0.00zM266.6 424.3a1.86 1.12 0 1 0 3.73 0.00a1.86 1.12 0 1 0 -3.73 -0.00zM273.6 472.3a2.27 1.62 30 1 0 3.93 2.27a2.27 1.62 30 1 0 -3.93 -2.27zM298.6 488.7a2.27 2.27 0 1 0 4.54 0.00a2.27 2.27 0 1 0 -4.54 -0.00zM293.1 492.9a2.24 1.12 40 1 0 3.42 2.87a2.24 1.12 40 1 0 -3.42 -2.87zM305.2 495.8a2.24 1.12 -40 1 0 3.42 -2.87a2.24 1.12 -40 1 0 -3.42 2.87zM295.1 485.6a2.24 1.12 -40 1 0 3.42 -2.87a2.24 1.12 -40 1 0 -3.42 2.87zM304.2 482.8a2.24 1.12 40 1 0 3.42 2.87a2.24 1.12 40 1 0 -3.42 -2.87zM299.0 495.3a1.86 1.12 0 1 0 3.73 0.00a1.86 1.12 0 1 0 -3.73 -0.00zM307.9 489.3a1.12 2.24 0 1 0 2.24 0.00a1.12 2.24 0 1 0 -2.24 -0.00zM291.7 489.3a1.12 2.24 0 1 0 2.24 0.00a1.12 2.24 0 1 0 -2.24 -0.00zM240.2 461.2a2.24 1.12 30 1 0 3.87 2.24a2.24 1.12 30 1 0 -3.87 -2.24zM254.4 464.1a2.24 1.12 -30 1 0 3.87 -2.24a2.24 1.12 -30 1 0 -3.87 2.24zM242.0 467.0a2.24 1.12 0 1 0 4.47 0.00a2.24 1.12 0 1 0 -4.47 -0.00zM273.6 505.5a1.94 1.30 0 1 0 3.89 0.00a1.94 1.30 0 1 0 -3.89 -0.00zM286.5 501.4a2.24 1.12 0 1 0 4.47 0.00a2.24 1.12 0 1 0 -4.47 -0.00zM276.4 500.4a2.24 1.12 0 1 0 4.47 0.00a2.24 1.12 0 1 0 -4.47 -0.00zM258.2 499.4a2.24 1.49 0 1 0 4.47 0.00a2.24 1.49 0 1 0 -4.47 -0.00zM245.3 490.4a2.24 1.12 -30 1 0 3.87 -2.24a2.24 1.12 -30 1 0 -3.87 2.24zM240.9 476.1a2.24 1.49 0 1 0 4.47 0.00a2.24 1.49 0 1 0 -4.47 -0.00zM247.0 474.1a2.24 1.12 0 1 0 4.47 0.00a2.24 1.12 0 1 0 -4.47 -0.00zM259.2 484.2a2.24 1.49 0 1 0 4.47 0.00a2.24 1.49 0 1 0 -4.47 -0.00zM256.4 479.2a2.24 1.12 -30 1 0 3.87 -2.24a2.24 1.12 -30 1 0 -3.87 2.24zM265.2 479.1a2.24 1.12 0 1 0 4.47 0.00a2.24 1.12 0 1 0 -4.47 -0.00zM280.4 481.2a2.24 1.12 0 1 0 4.47 0.00a2.24 1.12 0 1 0 -4.47 -0.00zM286.5 476.1a2.24 1.12 0 1 0 4.47 0.00a2.24 1.12 0 1 0 -4.47 -0.00zM290.6 466.0a2.24 1.12 0 1 0 4.47 0.00a2.24 1.12 0 1 0 -4.47 -0.00zM279.8 462.9a1.86 1.12 0 1 0 3.73 0.00a1.86 1.12 0 1 0 -3.73 -0.00zM266.6 462.9a1.86 1.12 0 1 0 3.73 0.00a1.86 1.12 0 1 0 -3.73 -0.00zM260.6 461.9a1.86 1.12 0 1 0 3.73 0.00a1.86 1.12 0 1 0 -3.73 -0.00zM311.1 466.0a1.94 1.62 0 1 0 3.89 0.00a1.94 1.62 0 1 0 -3.89 -0.00zM320.9 475.1a2.24 1.49 0 1 0 4.47 0.00a2.24 1.49 0 1 0 -4.47 -0.00zM314.8 483.2a2.24 1.12 0 1 0 4.47 0.00a2.24 1.12 0 1 0 -4.47 -0.00zM325.0 489.3a2.24 1.12 0 1 0 4.47 0.00a2.24 1.12 0 1 0 -4.47 -0.00zM331.0 498.4a2.24 1.12 0 1 0 4.47 0.00a2.24 1.12 0 1 0 -4.47 -0.00zM323.2 503.5a2.24 1.49 -30 1 0 3.87 -2.24a2.24 1.49 -30 1 0 -3.87 2.24zM333.2 509.4a2.98 1.12 45 1 0 4.21 4.21a2.98 1.12 45 1 0 -4.21 -4.21zM306.8 498.4a2.24 1.12 0 1 0 4.47 0.00a2.24 1.12 0 1 0 -4.47 -0.00zM310.8 506.5a2.24 1.12 0 1 0 4.47 0.00a2.24 1.12 0 1 0 -4.47 -0.00zM230.1 495.4a2.24 1.12 -30 1 0 3.87 -2.24a2.24 1.12 -30 1 0 -3.87 2.24zM234.2 503.5a2.24 1.12 -30 1 0 3.87 -2.24a2.24 1.12 -30 1 0 -3.87 2.24zM228.4 494.8a2.24 1.12 45 1 0 3.16 3.16a2.24 1.12 45 1 0 -3.16 -3.16zM237.9 510.5a2.24 1.12 0 1 0 4.47 0.00a2.24 1.12 0 1 0 -4.47 -0.00zM250.1 508.5a2.24 1.12 0 1 0 4.47 0.00a2.24 1.12 0 1 0 -4.47 -0.00zM266.3 510.5a2.24 1.12 0 1 0 4.47 0.00a2.24 1.12 0 1 0 -4.47 -0.00zM294.6 510.5a2.24 1.12 0 1 0 4.47 0.00a2.24 1.12 0 1 0 -4.47 -0.00zM315.2 470.0a1.86 1.12 0 1 0 3.73 0.00a1.86 1.12 0 1 0 -3.73 -0.00zM327.4 461.9a1.86 1.12 0 1 0 3.73 0.00a1.86 1.12 0 1 0 -3.73 -0.00zM331.4 474.1a1.86 1.12 0 1 0 3.73 0.00a1.86 1.12 0 1 0 -3.73 -0.00zM336.5 466.0a1.86 1.12 0 1 0 3.73 0.00a1.86 1.12 0 1 0 -3.73 -0.00zM336.5 484.2a1.86 1.12 0 1 0 3.73 0.00a1.86 1.12 0 1 0 -3.73 -0.00zM284.9 492.3a1.86 1.12 0 1 0 3.73 0.00a1.86 1.12 0 1 0 -3.73 -0.00zM266.6 492.3a1.86 1.12 0 1 0 3.73 0.00a1.86 1.12 0 1 0 -3.73 -0.00z"/><path fill="#0098ee" d="M274.1 443.9a1.68 1.20 -30 1 0 2.91 -1.68a1.68 1.20 -30 1 0 -2.91 1.68zM300.1 458.3a1.20 1.92 0 1 0 2.40 0.00a1.20 1.92 0 1 0 -2.40 -0.00zM299.2 427.9a1.68 1.68 0 1 0 3.36 0.00a1.68 1.68 0 1 0 -3.36 -0.00zM247.6 458.3a1.68 1.68 0 1 0 3.36 0.00a1.68 1.68 0 1 0 -3.36 -0.00zM305.7 421.2a1.65 0.83 40 1 0 2.53 2.13a1.65 0.83 40 1 0 -2.53 -2.13zM304.7 433.4a1.65 0.83 -40 1 0 2.53 -2.13a1.65 0.83 -40 1 0 -2.53 2.13zM240.7 455.1a1.65 0.83 -30 1 0 2.86 -1.65a1.65 0.83 -30 1 0 -2.86 1.65zM257.5 458.3a0.83 2.21 0 1 0 1.65 0.00a0.83 2.21 0 1 0 -1.65 -0.00zM274.1 411.1a1.44 0.96 0 1 0 2.88 0.00a1.44 0.96 0 1 0 -2.88 -0.00zM258.7 417.2a1.65 1.10 0 1 0 3.31 0.00a1.65 1.10 0 1 0 -3.31 -0.00zM241.5 440.5a1.65 1.10 0 1 0 3.31 0.00a1.65 1.10 0 1 0 -3.31 -0.00zM259.8 432.4a1.65 1.10 0 1 0 3.31 0.00a1.65 1.10 0 1 0 -3.31 -0.00zM311.6 450.6a1.44 1.20 0 1 0 2.88 0.00a1.44 1.20 0 1 0 -2.88 -0.00zM321.5 441.5a1.65 1.10 0 1 0 3.31 0.00a1.65 1.10 0 1 0 -3.31 -0.00zM323.8 413.3a1.65 1.10 30 1 0 2.86 1.65a1.65 1.10 30 1 0 -2.86 -1.65zM333.7 406.6a2.21 0.83 -45 1 0 3.12 -3.12a2.21 0.83 -45 1 0 -3.12 3.12zM307.3 418.2a1.65 0.83 0 1 0 3.31 0.00a1.65 0.83 0 1 0 -3.31 -0.00zM228.9 421.4a1.65 0.83 -45 1 0 2.34 -2.34a1.65 0.83 -45 1 0 -2.34 2.34zM274.1 472.6a1.68 1.20 30 1 0 2.91 1.68a1.68 1.20 30 1 0 -2.91 -1.68zM299.2 488.7a1.68 1.68 0 1 0 3.36 0.00a1.68 1.68 0 1 0 -3.36 -0.00zM305.7 495.4a1.65 0.83 -40 1 0 2.53 -2.13a1.65 0.83 -40 1 0 -2.53 2.13zM304.7 483.1a1.65 0.83 40 1 0 2.53 2.13a1.65 0.83 40 1 0 -2.53 -2.13zM240.7 461.5a1.65 0.83 30 1 0 2.86 1.65a1.65 0.83 30 1 0 -2.86 -1.65zM274.1 505.5a1.44 0.96 0 1 0 2.88 0.00a1.44 0.96 0 1 0 -2.88 -0.00zM258.7 499.4a1.65 1.10 0 1 0 3.31 0.00a1.65 1.10 0 1 0 -3.31 -0.00zM241.5 476.1a1.65 1.10 0 1 0 3.31 0.00a1.65 1.10 0 1 0 -3.31 -0.00zM259.8 484.2a1.65 1.10 0 1 0 3.31 0.00a1.65 1.10 0 1 0 -3.31 -0.00zM311.6 466.0a1.44 1.20 0 1 0 2.88 0.00a1.44 1.20 0 1 0 -2.88 -0.00zM321.5 475.1a1.65 1.10 0 1 0 3.31 0.00a1.65 1.10 0 1 0 -3.31 -0.00zM323.8 503.2a1.65 1.10 -30 1 0 2.86 -1.65a1.65 1.10 -30 1 0 -2.86 1.65zM333.7 510.0a2.21 0.83 45 1 0 3.12 3.12a2.21 0.83 45 1 0 -3.12 -3.12zM307.3 498.4a1.65 0.83 0 1 0 3.31 0.00a1.65 0.83 0 1 0 -3.31 -0.00zM228.9 495.2a1.65 0.83 45 1 0 2.34 2.34a1.65 0.83 45 1 0 -2.34 -2.34z"/><path fill="#0054d0" d="M274.5 443.7a1.25 0.89 -30 1 0 2.16 -1.25a1.25 0.89 -30 1 0 -2.16 1.25zM300.4 458.3a0.89 1.43 0 1 0 1.78 0.00a0.89 1.43 0 1 0 -1.78 -0.00zM299.6 427.9a1.25 1.25 0 1 0 2.49 0.00a1.25 1.25 0 1 0 -2.49 -0.00zM248.0 458.3a1.25 1.25 0 1 0 2.49 0.00a1.25 1.25 0 1 0 -2.49 -0.00zM274.5 411.1a1.07 0.71 0 1 0 2.14 0.00a1.07 0.71 0 1 0 -2.14 -0.00zM312.0 450.6a1.07 0.89 0 1 0 2.14 0.00a1.07 0.89 0 1 0 -2.14 -0.00zM274.5 472.8a1.25 0.89 30 1 0 2.16 1.25a1.25 0.89 30 1 0 -2.16 -1.25zM299.6 488.7a1.25 1.25 0 1 0 2.49 0.00a1.25 1.25 0 1 0 -2.49 -0.00zM274.5 505.5a1.07 0.71 0 1 0 2.14 0.00a1.07 0.71 0 1 0 -2.14 -0.00zM312.0 466.0a1.07 0.89 0 1 0 2.14 0.00a1.07 0.89 0 1 0 -2.14 -0.00z"/><path fill="#001470" d="M274.8 443.6a0.95 0.68 -30 1 0 1.65 -0.95a0.95 0.68 -30 1 0 -1.65 0.95zM300.6 458.3a0.68 1.09 0 1 0 1.36 0.00a0.68 1.09 0 1 0 -1.36 -0.00zM299.9 427.9a0.95 0.95 0 1 0 1.90 0.00a0.95 0.95 0 1 0 -1.90 -0.00zM248.3 458.3a0.95 0.95 0 1 0 1.90 0.00a0.95 0.95 0 1 0 -1.90 -0.00zM274.8 473.0a0.95 0.68 30 1 0 1.65 0.95a0.95 0.68 30 1 0 -1.65 -0.95zM299.9 488.7a0.95 0.95 0 1 0 1.90 0.00a0.95 0.95 0 1 0 -1.90 -0.00z"/><path fill="#000018" d="M275.1 443.4a0.57 0.40 -30 1 0 0.98 -0.57a0.57 0.40 -30 1 0 -0.98 0.57zM300.9 458.3a0.40 0.65 0 1 0 0.81 0.00a0.40 0.65 0 1 0 -0.81 -0.00zM300.3 427.9a0.57 0.57 0 1 0 1.13 0.00a0.57 0.57 0 1 0 -1.13 -0.00zM248.7 458.3a0.57 0.57 0 1 0 1.13 0.00a0.57 0.57 0 1 0 -1.13 -0.00zM275.1 473.2a0.57 0.40 30 1 0 0.98 0.57a0.57 0.40 30 1 0 -0.98 -0.57zM300.3 488.7a0.57 0.57 0 1 0 1.13 0.00a0.57 0.57 0 1 0 -1.13 -0.00z"/></g><text x="262.20" y="436.00" font-size="17.4" font-family="'Liberation Sans', sans-serif" fill="#f00" textLength="32.80" lengthAdjust="spacingAndGlyphs">2nd</text><circle cx="276.0" cy="444.5" r="7.5" fill="none" stroke="#f02020" stroke-width="1.1" stroke-dasharray="1.1 1.1"/><circle cx="300.3" cy="458.7" r="7.5" fill="none" stroke="#f02020" stroke-width="1.1" stroke-dasharray="1.1 1.1"/><circle cx="276.0" cy="472.9" r="7.5" fill="none" stroke="#f02020" stroke-width="1.1" stroke-dasharray="1.1 1.1"/><path d="M228.50 402.7v-4.5M228.50 513.7v4.5M228.5 402.70h-4.5M339.5 402.70h4.5M234.05 402.7v-2.3M234.05 513.7v2.3M228.5 408.25h-2.3M339.5 408.25h2.3M239.60 402.7v-2.3M239.60 513.7v2.3M228.5 413.80h-2.3M339.5 413.80h2.3M245.15 402.7v-2.3M245.15 513.7v2.3M228.5 419.35h-2.3M339.5 419.35h2.3M250.70 402.7v-2.3M250.70 513.7v2.3M228.5 424.90h-2.3M339.5 424.90h2.3M256.25 402.7v-4.5M256.25 513.7v4.5M228.5 430.45h-4.5M339.5 430.45h4.5M261.80 402.7v-2.3M261.80 513.7v2.3M228.5 436.00h-2.3M339.5 436.00h2.3M267.35 402.7v-2.3M267.35 513.7v2.3M228.5 441.55h-2.3M339.5 441.55h2.3M272.90 402.7v-2.3M272.90 513.7v2.3M228.5 447.10h-2.3M339.5 447.10h2.3M278.45 402.7v-2.3M278.45 513.7v2.3M228.5 452.65h-2.3M339.5 452.65h2.3M284.00 402.7v-4.5M284.00 513.7v4.5M228.5 458.20h-4.5M339.5 458.20h4.5M289.55 402.7v-2.3M289.55 513.7v2.3M228.5 463.75h-2.3M339.5 463.75h2.3M295.10 402.7v-2.3M295.10 513.7v2.3M228.5 469.30h-2.3M339.5 469.30h2.3M300.65 402.7v-2.3M300.65 513.7v2.3M228.5 474.85h-2.3M339.5 474.85h2.3M306.20 402.7v-2.3M306.20 513.7v2.3M228.5 480.40h-2.3M339.5 480.40h2.3M311.75 402.7v-4.5M311.75 513.7v4.5M228.5 485.95h-4.5M339.5 485.95h4.5M317.30 402.7v-2.3M317.30 513.7v2.3M228.5 491.50h-2.3M339.5 491.50h2.3M322.85 402.7v-2.3M322.85 513.7v2.3M228.5 497.05h-2.3M339.5 497.05h2.3M328.40 402.7v-2.3M328.40 513.7v2.3M228.5 502.60h-2.3M339.5 502.60h2.3M333.95 402.7v-2.3M333.95 513.7v2.3M228.5 508.15h-2.3M339.5 508.15h2.3M339.50 402.7v-4.5M339.50 513.7v4.5M228.5 513.70h-4.5M339.5 513.70h4.5" stroke="#555" stroke-width="1" fill="none"/><text x="221.80" y="407.55" font-size="12.3" font-family="'Liberation Sans', sans-serif" font-weight="bold" text-anchor="end" textLength="15.20" lengthAdjust="spacingAndGlyphs">10</text><text x="221.80" y="435.30" font-size="12.3" font-family="'Liberation Sans', sans-serif" font-weight="bold" text-anchor="end" textLength="6.80" lengthAdjust="spacingAndGlyphs">5</text><text x="221.80" y="463.05" font-size="12.3" font-family="'Liberation Sans', sans-serif" font-weight="bold" text-anchor="end" textLength="6.80" lengthAdjust="spacingAndGlyphs">0</text><text x="221.80" y="490.80" font-size="12.3" font-family="'Liberation Sans', sans-serif" font-weight="bold" text-anchor="end" textLength="11.60" lengthAdjust="spacingAndGlyphs">-5</text><text x="221.80" y="518.55" font-size="12.3" font-family="'Liberation Sans', sans-serif" font-weight="bold" text-anchor="end" textLength="19.80" lengthAdjust="spacingAndGlyphs">-10</text><text x="228.10" y="529.20" font-size="12.3" font-family="'Liberation Sans', sans-serif" font-weight="bold" text-anchor="middle" textLength="15.20" lengthAdjust="spacingAndGlyphs">10</text><text x="255.30" y="529.20" font-size="12.3" font-family="'Liberation Sans', sans-serif" font-weight="bold" text-anchor="middle" textLength="6.80" lengthAdjust="spacingAndGlyphs">5</text><text x="282.50" y="529.20" font-size="12.3" font-family="'Liberation Sans', sans-serif" font-weight="bold" text-anchor="middle" textLength="6.80" lengthAdjust="spacingAndGlyphs">0</text><text x="309.40" y="529.20" font-size="12.3" font-family="'Liberation Sans', sans-serif" font-weight="bold" text-anchor="middle" textLength="11.60" lengthAdjust="spacingAndGlyphs">-5</text><text x="336.60" y="529.20" font-size="12.3" font-family="'Liberation Sans', sans-serif" font-weight="bold" text-anchor="middle" textLength="19.80" lengthAdjust="spacingAndGlyphs">-10</text><text x="205.80" y="546.30" font-size="11.3" font-family="'Liberation Sans', sans-serif" font-weight="bold" textLength="77.90" lengthAdjust="spacingAndGlyphs">Position along</text><text x="287.80" y="547.50" font-size="16" font-family="'Liberation Serif', serif" fill="#1a1a1a" stroke="#1a1a1a" stroke-width="0.3">[</text><text x="293.20" y="546.60" font-size="14.6" font-family="'Liberation Serif', serif" fill="#1a1a1a" stroke="#1a1a1a" stroke-width="0.3">1</text><path d="M293.90 534.40h4.3" stroke="#1a1a1a" stroke-width="1.3"/><text x="299.80" y="546.60" font-size="14.6" font-family="'Liberation Serif', serif" fill="#1a1a1a" textLength="13.40" lengthAdjust="spacingAndGlyphs" stroke="#1a1a1a" stroke-width="0.3">10</text><text x="313.80" y="547.50" font-size="16" font-family="'Liberation Serif', serif" fill="#1a1a1a" stroke="#1a1a1a" stroke-width="0.3">]</text><text x="318.80" y="549.60" font-size="8.2" font-family="'Liberation Sans', sans-serif" font-weight="bold" textLength="15.00" lengthAdjust="spacingAndGlyphs">HEX</text><text x="336.80" y="546.70" font-size="11.3" font-family="'Liberation Sans', sans-serif" font-weight="bold">(</text><text x="342.80" y="546.30" font-size="11.3" font-family="'Liberation Sans', sans-serif" font-weight="bold" textLength="9.60" lengthAdjust="spacingAndGlyphs">Å</text><text x="354.10" y="546.70" font-size="11.3" font-family="'Liberation Sans', sans-serif" font-weight="bold">)</text><g transform="translate(197.00 539.60) rotate(-90)"><text x="-0.40" y="0.00" font-size="11.3" font-family="'Liberation Sans', sans-serif" font-weight="bold" textLength="77.90" lengthAdjust="spacingAndGlyphs">Position along</text><text x="81.60" y="1.20" font-size="16" font-family="'Liberation Serif', serif" fill="#1a1a1a" stroke="#1a1a1a" stroke-width="0.3">[</text><text x="87.00" y="0.30" font-size="14.6" font-family="'Liberation Serif', serif" fill="#1a1a1a" stroke="#1a1a1a" stroke-width="0.3">1</text><path d="M87.70 -11.90h4.3" stroke="#1a1a1a" stroke-width="1.3"/><path d="M94.40 -11.90h4.3" stroke="#1a1a1a" stroke-width="1.3"/><text x="93.60" y="0.30" font-size="14.6" font-family="'Liberation Serif', serif" fill="#1a1a1a" textLength="13.40" lengthAdjust="spacingAndGlyphs" stroke="#1a1a1a" stroke-width="0.3">10</text><text x="107.60" y="1.20" font-size="16" font-family="'Liberation Serif', serif" fill="#1a1a1a" stroke="#1a1a1a" stroke-width="0.3">]</text><text x="112.60" y="3.30" font-size="8.2" font-family="'Liberation Sans', sans-serif" font-weight="bold" textLength="15.00" lengthAdjust="spacingAndGlyphs">HEX</text><text x="130.60" y="0.40" font-size="11.3" font-family="'Liberation Sans', sans-serif" font-weight="bold">(</text><text x="136.60" y="0.00" font-size="11.3" font-family="'Liberation Sans', sans-serif" font-weight="bold" textLength="9.60" lengthAdjust="spacingAndGlyphs">Å</text><text x="147.90" y="0.40" font-size="11.3" font-family="'Liberation Sans', sans-serif" font-weight="bold">)</text></g><text x="280.10" y="564.20" font-size="11.8" font-family="'Liberation Sans', sans-serif">(j)</text><rect x="415.3" y="403.2" width="111.0" height="111.0" fill="#fff" stroke="#555" stroke-width="1"/><clipPath id="pck"><rect x="415.8" y="403.7" width="110.0" height="110.0"/></clipPath><g clip-path="url(#pck)"><path fill="#00e0ff" d="M479.0 402.7a1.33 2.37 83 1 0 0.31 2.65a1.33 2.37 83 1 0 -0.31 -2.65zM478.7 406.2a1.33 2.61 83 1 0 0.31 2.65a1.33 2.61 83 1 0 -0.31 -2.65zM479.8 409.7a1.33 2.85 83 1 0 0.31 2.65a1.33 2.85 83 1 0 -0.31 -2.65zM479.5 413.3a1.33 3.09 83 1 0 0.31 2.65a1.33 3.09 83 1 0 -0.31 -2.65zM448.1 419.9a1.33 2.18 61 1 0 1.30 2.33a1.33 2.18 61 1 0 -1.30 -2.33zM449.4 423.6a1.33 2.40 61 1 0 1.30 2.33a1.33 2.40 61 1 0 -1.30 -2.33zM451.9 426.6a1.33 2.62 61 1 0 1.30 2.33a1.33 2.62 61 1 0 -1.30 -2.33zM453.1 430.4a1.33 2.84 61 1 0 1.30 2.33a1.33 2.84 61 1 0 -1.30 -2.33zM417.0 438.0a1.33 1.78 26 1 0 2.41 1.15a1.33 1.78 26 1 0 -2.41 -1.15zM419.9 440.1a1.33 1.96 26 1 0 2.41 1.15a1.33 1.96 26 1 0 -2.41 -1.15zM423.5 441.1a1.33 2.14 26 1 0 2.41 1.15a1.33 2.14 26 1 0 -2.41 -1.15zM426.4 443.2a1.33 2.32 26 1 0 2.41 1.15a1.33 2.32 26 1 0 -2.41 -1.15zM503.6 419.3a1.33 1.98 56 1 0 1.49 2.21a1.33 1.98 56 1 0 -1.49 -2.21zM506.0 424.1a1.33 2.18 56 1 0 1.49 2.21a1.33 2.18 56 1 0 -1.49 -2.21zM509.5 428.0a1.33 2.38 56 1 0 1.49 2.21a1.33 2.38 56 1 0 -1.49 -2.21zM500.9 458.3a1.33 1.98 0 1 0 2.67 0.00a1.33 1.98 0 1 0 -2.67 -0.00zM505.9 459.0a1.33 2.18 0 1 0 2.67 0.00a1.33 2.18 0 1 0 -2.67 -0.00zM510.9 458.3a1.33 2.38 0 1 0 2.67 0.00a1.33 2.38 0 1 0 -2.67 -0.00zM478.3 514.6a1.33 2.37 -83 1 0 0.31 -2.65a1.33 2.37 -83 1 0 -0.31 2.65zM479.4 511.2a1.33 2.61 -83 1 0 0.31 -2.65a1.33 2.61 -83 1 0 -0.31 2.65zM479.1 507.6a1.33 2.85 -83 1 0 0.31 -2.65a1.33 2.85 -83 1 0 -0.31 2.65zM480.2 504.2a1.33 3.09 -83 1 0 0.31 -2.65a1.33 3.09 -83 1 0 -0.31 2.65zM447.5 497.1a1.33 2.18 -61 1 0 1.30 -2.33a1.33 2.18 -61 1 0 -1.30 2.33zM450.0 494.1a1.33 2.40 -61 1 0 1.30 -2.33a1.33 2.40 -61 1 0 -1.30 2.33zM451.2 490.4a1.33 2.62 -61 1 0 1.30 -2.33a1.33 2.62 -61 1 0 -1.30 2.33zM453.7 487.4a1.33 2.84 -61 1 0 1.30 -2.33a1.33 2.84 -61 1 0 -1.30 2.33zM416.7 478.8a1.33 1.78 -26 1 0 2.41 -1.15a1.33 1.78 -26 1 0 -2.41 1.15zM420.2 477.9a1.33 1.96 -26 1 0 2.41 -1.15a1.33 1.96 -26 1 0 -2.41 1.15zM423.2 475.7a1.33 2.14 -26 1 0 2.41 -1.15a1.33 2.14 -26 1 0 -2.41 1.15zM426.7 474.8a1.33 2.32 -26 1 0 2.41 -1.15a1.33 2.32 -26 1 0 -2.41 1.15zM503.1 497.7a1.33 1.98 -56 1 0 1.49 -2.21a1.33 1.98 -56 1 0 -1.49 2.21zM506.6 493.7a1.33 2.18 -56 1 0 1.49 -2.21a1.33 2.18 -56 1 0 -1.49 2.21zM508.9 489.0a1.33 2.38 -56 1 0 1.49 -2.21a1.33 2.38 -56 1 0 -1.49 2.21zM476.3 443.5a2.11 3.37 0 1 0 4.21 0.00a2.11 3.37 0 1 0 -4.21 -0.00zM451.1 458.7a3.37 2.11 0 1 0 6.74 0.00a3.37 2.11 0 1 0 -6.74 -0.00zM475.2 406.2a3.37 1.68 -20 1 0 6.33 -2.30a3.37 1.68 -20 1 0 -6.33 2.30zM477.6 406.9a3.37 1.68 20 1 0 6.33 2.30a3.37 1.68 20 1 0 -6.33 -2.30zM475.6 412.3a3.37 1.68 -20 1 0 6.33 -2.30a3.37 1.68 -20 1 0 -6.33 2.30zM476.9 413.7a2.95 1.68 0 1 0 5.90 0.00a2.95 1.68 0 1 0 -5.90 -0.00zM473.9 407.1a1.86 1.12 0 1 0 3.73 0.00a1.86 1.12 0 1 0 -3.73 -0.00zM446.9 420.8a2.95 2.11 30 1 0 5.11 2.95a2.95 2.11 30 1 0 -5.11 -2.95zM449.6 423.6a3.37 2.11 30 1 0 5.84 3.37a3.37 2.11 30 1 0 -5.84 -3.37zM448.9 426.8a2.95 2.11 30 1 0 5.11 2.95a2.95 2.11 30 1 0 -5.11 -2.95zM451.0 430.8a2.53 1.68 0 1 0 5.05 0.00a2.53 1.68 0 1 0 -5.05 -0.00zM445.5 426.3a1.86 1.12 0 1 0 3.73 0.00a1.86 1.12 0 1 0 -3.73 -0.00zM416.5 438.0a2.95 1.68 30 1 0 5.11 2.95a2.95 1.68 30 1 0 -5.11 -2.95zM419.5 441.0a2.95 1.68 30 1 0 5.11 2.95a2.95 1.68 30 1 0 -5.11 -2.95zM422.6 445.0a2.95 1.68 -30 1 0 5.11 -2.95a2.95 1.68 -30 1 0 -5.11 2.95zM425.0 443.4a2.53 1.68 -30 1 0 4.38 -2.53a2.53 1.68 -30 1 0 -4.38 2.53zM502.6 422.7a2.95 1.68 -30 1 0 5.11 -2.95a2.95 1.68 -30 1 0 -5.11 2.95zM505.6 421.8a2.95 2.11 30 1 0 5.11 2.95a2.95 2.11 30 1 0 -5.11 -2.95zM503.6 425.8a2.95 2.11 30 1 0 5.11 2.95a2.95 2.11 30 1 0 -5.11 -2.95zM506.6 428.7a2.53 1.68 0 1 0 5.05 0.00a2.53 1.68 0 1 0 -5.05 -0.00zM501.2 425.3a1.86 1.12 0 1 0 3.73 0.00a1.86 1.12 0 1 0 -3.73 -0.00zM501.1 458.7a2.95 2.53 0 1 0 5.90 0.00a2.95 2.53 0 1 0 -5.90 -0.00zM503.8 458.7a3.37 2.95 0 1 0 6.74 0.00a3.37 2.95 0 1 0 -6.74 -0.00zM507.6 458.7a2.53 2.53 0 1 0 5.05 0.00a2.53 2.53 0 1 0 -5.05 -0.00zM497.4 455.0a1.68 1.68 0 1 0 3.37 0.00a1.68 1.68 0 1 0 -3.37 -0.00zM511.7 458.7a1.49 1.86 0 1 0 2.98 0.00a1.49 1.86 0 1 0 -2.98 -0.00zM470.5 454.9a2.53 1.68 -30 1 0 4.38 -2.53a2.53 1.68 -30 1 0 -4.38 2.53zM464.8 458.7a1.86 1.49 0 1 0 3.73 0.00a1.86 1.49 0 1 0 -3.73 -0.00zM479.0 455.7a1.86 1.12 0 1 0 3.73 0.00a1.86 1.12 0 1 0 -3.73 -0.00zM461.7 452.6a1.86 1.12 0 1 0 3.73 0.00a1.86 1.12 0 1 0 -3.73 -0.00zM483.0 450.6a1.86 1.12 0 1 0 3.73 0.00a1.86 1.12 0 1 0 -3.73 -0.00zM464.0 446.6a1.86 1.12 30 1 0 3.23 1.86a1.86 1.12 30 1 0 -3.23 -1.86zM473.2 448.6a1.49 1.12 0 1 0 2.98 0.00a1.49 1.12 0 1 0 -2.98 -0.00zM420.2 404.9a2.24 1.12 30 1 0 3.87 2.24a2.24 1.12 30 1 0 -3.87 -2.24zM426.2 410.0a2.24 1.12 30 1 0 3.87 2.24a2.24 1.12 30 1 0 -3.87 -2.24zM432.3 415.1a2.24 1.12 30 1 0 3.87 2.24a2.24 1.12 30 1 0 -3.87 -2.24zM436.4 420.1a2.24 1.12 30 1 0 3.87 2.24a2.24 1.12 30 1 0 -3.87 -2.24zM444.2 408.1a2.24 1.12 0 1 0 4.47 0.00a2.24 1.12 0 1 0 -4.47 -0.00zM454.3 412.1a2.24 1.12 0 1 0 4.47 0.00a2.24 1.12 0 1 0 -4.47 -0.00zM462.4 418.2a2.24 1.12 0 1 0 4.47 0.00a2.24 1.12 0 1 0 -4.47 -0.00zM466.4 428.3a2.24 1.12 0 1 0 4.47 0.00a2.24 1.12 0 1 0 -4.47 -0.00zM472.5 424.3a2.24 1.12 0 1 0 4.47 0.00a2.24 1.12 0 1 0 -4.47 -0.00zM484.7 424.3a2.24 1.12 0 1 0 4.47 0.00a2.24 1.12 0 1 0 -4.47 -0.00zM492.0 419.3a2.24 1.12 -30 1 0 3.87 -2.24a2.24 1.12 -30 1 0 -3.87 2.24zM497.1 409.2a2.24 1.12 -30 1 0 3.87 -2.24a2.24 1.12 -30 1 0 -3.87 2.24zM509.2 411.2a2.24 1.12 -30 1 0 3.87 -2.24a2.24 1.12 -30 1 0 -3.87 2.24zM517.3 415.3a2.24 1.12 -30 1 0 3.87 -2.24a2.24 1.12 -30 1 0 -3.87 2.24zM520.1 422.2a2.24 1.12 0 1 0 4.47 0.00a2.24 1.12 0 1 0 -4.47 -0.00zM513.0 432.4a2.24 1.12 0 1 0 4.47 0.00a2.24 1.12 0 1 0 -4.47 -0.00zM498.8 434.4a2.24 1.12 0 1 0 4.47 0.00a2.24 1.12 0 1 0 -4.47 -0.00zM488.7 434.4a2.24 1.12 0 1 0 4.47 0.00a2.24 1.12 0 1 0 -4.47 -0.00zM480.6 436.4a2.24 1.12 0 1 0 4.47 0.00a2.24 1.12 0 1 0 -4.47 -0.00zM462.4 436.4a2.24 1.12 0 1 0 4.47 0.00a2.24 1.12 0 1 0 -4.47 -0.00zM440.1 434.4a2.24 1.12 0 1 0 4.47 0.00a2.24 1.12 0 1 0 -4.47 -0.00zM432.3 429.2a2.24 1.12 30 1 0 3.87 2.24a2.24 1.12 30 1 0 -3.87 -2.24zM424.2 427.2a2.24 1.12 30 1 0 3.87 2.24a2.24 1.12 30 1 0 -3.87 -2.24zM417.1 425.2a2.24 1.12 30 1 0 3.87 2.24a2.24 1.12 30 1 0 -3.87 -2.24zM415.8 450.6a2.24 1.12 0 1 0 4.47 0.00a2.24 1.12 0 1 0 -4.47 -0.00zM423.9 448.6a2.24 1.12 0 1 0 4.47 0.00a2.24 1.12 0 1 0 -4.47 -0.00zM434.0 450.6a2.24 1.12 0 1 0 4.47 0.00a2.24 1.12 0 1 0 -4.47 -0.00zM442.1 451.6a2.24 1.12 0 1 0 4.47 0.00a2.24 1.12 0 1 0 -4.47 -0.00zM492.8 444.5a2.24 1.12 0 1 0 4.47 0.00a2.24 1.12 0 1 0 -4.47 -0.00zM498.8 449.6a2.24 1.12 0 1 0 4.47 0.00a2.24 1.12 0 1 0 -4.47 -0.00zM508.9 448.6a2.24 1.12 0 1 0 4.47 0.00a2.24 1.12 0 1 0 -4.47 -0.00zM517.0 448.6a2.24 1.12 0 1 0 4.47 0.00a2.24 1.12 0 1 0 -4.47 -0.00zM522.1 442.5a2.24 1.12 0 1 0 4.47 0.00a2.24 1.12 0 1 0 -4.47 -0.00zM450.6 440.5a1.86 1.12 0 1 0 3.73 0.00a1.86 1.12 0 1 0 -3.73 -0.00zM456.7 434.4a1.86 1.12 0 1 0 3.73 0.00a1.86 1.12 0 1 0 -3.73 -0.00zM476.3 473.9a2.11 3.37 0 1 0 4.21 0.00a2.11 3.37 0 1 0 -4.21 -0.00zM475.2 511.2a3.37 1.68 20 1 0 6.33 2.30a3.37 1.68 20 1 0 -6.33 -2.30zM477.6 510.5a3.37 1.68 -20 1 0 6.33 -2.30a3.37 1.68 -20 1 0 -6.33 2.30zM475.6 505.1a3.37 1.68 20 1 0 6.33 2.30a3.37 1.68 20 1 0 -6.33 -2.30zM476.9 503.6a2.95 1.68 0 1 0 5.90 0.00a2.95 1.68 0 1 0 -5.90 -0.00zM473.9 510.3a1.86 1.12 0 1 0 3.73 0.00a1.86 1.12 0 1 0 -3.73 -0.00zM446.9 496.6a2.95 2.11 -30 1 0 5.11 -2.95a2.95 2.11 -30 1 0 -5.11 2.95zM449.6 493.8a3.37 2.11 -30 1 0 5.84 -3.37a3.37 2.11 -30 1 0 -5.84 3.37zM448.9 490.5a2.95 2.11 -30 1 0 5.11 -2.95a2.95 2.11 -30 1 0 -5.11 2.95zM451.0 486.6a2.53 1.68 0 1 0 5.05 0.00a2.53 1.68 0 1 0 -5.05 -0.00zM445.5 491.1a1.86 1.12 0 1 0 3.73 0.00a1.86 1.12 0 1 0 -3.73 -0.00zM416.5 479.4a2.95 1.68 -30 1 0 5.11 -2.95a2.95 1.68 -30 1 0 -5.11 2.95zM419.5 476.4a2.95 1.68 -30 1 0 5.11 -2.95a2.95 1.68 -30 1 0 -5.11 2.95zM422.6 472.4a2.95 1.68 30 1 0 5.11 2.95a2.95 1.68 30 1 0 -5.11 -2.95zM425.0 474.0a2.53 1.68 30 1 0 4.38 2.53a2.53 1.68 30 1 0 -4.38 -2.53zM502.6 494.7a2.95 1.68 30 1 0 5.11 2.95a2.95 1.68 30 1 0 -5.11 -2.95zM505.6 495.6a2.95 2.11 -30 1 0 5.11 -2.95a2.95 2.11 -30 1 0 -5.11 2.95zM503.6 491.5a2.95 2.11 -30 1 0 5.11 -2.95a2.95 2.11 -30 1 0 -5.11 2.95zM506.6 488.7a2.53 1.68 0 1 0 5.05 0.00a2.53 1.68 0 1 0 -5.05 -0.00zM501.2 492.1a1.86 1.12 0 1 0 3.73 0.00a1.86 1.12 0 1 0 -3.73 -0.00zM497.4 462.3a1.68 1.68 0 1 0 3.37 0.00a1.68 1.68 0 1 0 -3.37 -0.00zM470.5 462.5a2.53 1.68 30 1 0 4.38 2.53a2.53 1.68 30 1 0 -4.38 -2.53zM479.0 461.7a1.86 1.12 0 1 0 3.73 0.00a1.86 1.12 0 1 0 -3.73 -0.00zM461.7 464.8a1.86 1.12 0 1 0 3.73 0.00a1.86 1.12 0 1 0 -3.73 -0.00zM483.0 466.8a1.86 1.12 0 1 0 3.73 0.00a1.86 1.12 0 1 0 -3.73 -0.00zM464.0 470.8a1.86 1.12 -30 1 0 3.23 -1.86a1.86 1.12 -30 1 0 -3.23 1.86zM473.2 468.8a1.49 1.12 0 1 0 2.98 0.00a1.49 1.12 0 1 0 -2.98 -0.00zM420.2 512.4a2.24 1.12 -30 1 0 3.87 -2.24a2.24 1.12 -30 1 0 -3.87 2.24zM426.2 507.4a2.24 1.12 -30 1 0 3.87 -2.24a2.24 1.12 -30 1 0 -3.87 2.24zM432.3 502.3a2.24 1.12 -30 1 0 3.87 -2.24a2.24 1.12 -30 1 0 -3.87 2.24zM436.4 497.3a2.24 1.12 -30 1 0 3.87 -2.24a2.24 1.12 -30 1 0 -3.87 2.24zM444.2 509.3a2.24 1.12 0 1 0 4.47 0.00a2.24 1.12 0 1 0 -4.47 -0.00zM454.3 505.3a2.24 1.12 0 1 0 4.47 0.00a2.24 1.12 0 1 0 -4.47 -0.00zM462.4 499.2a2.24 1.12 0 1 0 4.47 0.00a2.24 1.12 0 1 0 -4.47 -0.00zM466.4 489.1a2.24 1.12 0 1 0 4.47 0.00a2.24 1.12 0 1 0 -4.47 -0.00zM472.5 493.1a2.24 1.12 0 1 0 4.47 0.00a2.24 1.12 0 1 0 -4.47 -0.00zM484.7 493.1a2.24 1.12 0 1 0 4.47 0.00a2.24 1.12 0 1 0 -4.47 -0.00zM492.0 498.1a2.24 1.12 30 1 0 3.87 2.24a2.24 1.12 30 1 0 -3.87 -2.24zM497.1 508.2a2.24 1.12 30 1 0 3.87 2.24a2.24 1.12 30 1 0 -3.87 -2.24zM509.2 506.2a2.24 1.12 30 1 0 3.87 2.24a2.24 1.12 30 1 0 -3.87 -2.24zM517.3 502.1a2.24 1.12 30 1 0 3.87 2.24a2.24 1.12 30 1 0 -3.87 -2.24zM520.1 495.1a2.24 1.12 0 1 0 4.47 0.00a2.24 1.12 0 1 0 -4.47 -0.00zM513.0 485.0a2.24 1.12 0 1 0 4.47 0.00a2.24 1.12 0 1 0 -4.47 -0.00zM498.8 483.0a2.24 1.12 0 1 0 4.47 0.00a2.24 1.12 0 1 0 -4.47 -0.00zM488.7 483.0a2.24 1.12 0 1 0 4.47 0.00a2.24 1.12 0 1 0 -4.47 -0.00zM480.6 481.0a2.24 1.12 0 1 0 4.47 0.00a2.24 1.12 0 1 0 -4.47 -0.00zM462.4 481.0a2.24 1.12 0 1 0 4.47 0.00a2.24 1.12 0 1 0 -4.47 -0.00zM440.1 483.0a2.24 1.12 0 1 0 4.47 0.00a2.24 1.12 0 1 0 -4.47 -0.00zM432.3 488.2a2.24 1.12 -30 1 0 3.87 -2.24a2.24 1.12 -30 1 0 -3.87 2.24zM424.2 490.2a2.24 1.12 -30 1 0 3.87 -2.24a2.24 1.12 -30 1 0 -3.87 2.24zM417.1 492.2a2.24 1.12 -30 1 0 3.87 -2.24a2.24 1.12 -30 1 0 -3.87 2.24zM415.8 466.8a2.24 1.12 0 1 0 4.47 0.00a2.24 1.12 0 1 0 -4.47 -0.00zM423.9 468.8a2.24 1.12 0 1 0 4.47 0.00a2.24 1.12 0 1 0 -4.47 -0.00zM434.0 466.8a2.24 1.12 0 1 0 4.47 0.00a2.24 1.12 0 1 0 -4.47 -0.00zM442.1 465.8a2.24 1.12 0 1 0 4.47 0.00a2.24 1.12 0 1 0 -4.47 -0.00zM492.8 472.9a2.24 1.12 0 1 0 4.47 0.00a2.24 1.12 0 1 0 -4.47 -0.00zM498.8 467.8a2.24 1.12 0 1 0 4.47 0.00a2.24 1.12 0 1 0 -4.47 -0.00zM508.9 468.8a2.24 1.12 0 1 0 4.47 0.00a2.24 1.12 0 1 0 -4.47 -0.00zM517.0 468.8a2.24 1.12 0 1 0 4.47 0.00a2.24 1.12 0 1 0 -4.47 -0.00zM522.1 474.9a2.24 1.12 0 1 0 4.47 0.00a2.24 1.12 0 1 0 -4.47 -0.00zM450.6 476.9a1.86 1.12 0 1 0 3.73 0.00a1.86 1.12 0 1 0 -3.73 -0.00zM456.7 483.0a1.86 1.12 0 1 0 3.73 0.00a1.86 1.12 0 1 0 -3.73 -0.00z"/><path fill="#0098ee" d="M479.0 403.0a0.99 1.76 83 1 0 0.23 1.96a0.99 1.76 83 1 0 -0.23 -1.96zM478.7 406.6a0.99 1.93 83 1 0 0.23 1.96a0.99 1.93 83 1 0 -0.23 -1.96zM479.8 410.0a0.99 2.11 83 1 0 0.23 1.96a0.99 2.11 83 1 0 -0.23 -1.96zM479.5 413.6a0.99 2.29 83 1 0 0.23 1.96a0.99 2.29 83 1 0 -0.23 -1.96zM448.2 420.2a0.99 1.61 61 1 0 0.97 1.72a0.99 1.61 61 1 0 -0.97 -1.72zM449.5 423.9a0.99 1.77 61 1 0 0.97 1.72a0.99 1.77 61 1 0 -0.97 -1.72zM452.0 427.0a0.99 1.94 61 1 0 0.97 1.72a0.99 1.94 61 1 0 -0.97 -1.72zM453.3 430.7a0.99 2.10 61 1 0 0.97 1.72a0.99 2.10 61 1 0 -0.97 -1.72zM417.3 438.1a0.99 1.32 26 1 0 1.78 0.85a0.99 1.32 26 1 0 -1.78 -0.85zM420.2 440.3a0.99 1.45 26 1 0 1.78 0.85a0.99 1.45 26 1 0 -1.78 -0.85zM423.8 441.2a0.99 1.58 26 1 0 1.78 0.85a0.99 1.58 26 1 0 -1.78 -0.85zM426.7 443.4a0.99 1.72 26 1 0 1.78 0.85a0.99 1.72 26 1 0 -1.78 -0.85zM503.8 419.6a0.99 1.46 56 1 0 1.10 1.64a0.99 1.46 56 1 0 -1.10 -1.64zM506.2 424.4a0.99 1.61 56 1 0 1.10 1.64a0.99 1.61 56 1 0 -1.10 -1.64zM509.7 428.3a0.99 1.76 56 1 0 1.10 1.64a0.99 1.76 56 1 0 -1.10 -1.64zM501.3 458.3a0.99 1.46 0 1 0 1.98 0.00a0.99 1.46 0 1 0 -1.98 -0.00zM506.2 459.0a0.99 1.61 0 1 0 1.98 0.00a0.99 1.61 0 1 0 -1.98 -0.00zM511.2 458.3a0.99 1.76 0 1 0 1.98 0.00a0.99 1.76 0 1 0 -1.98 -0.00zM478.3 514.3a0.99 1.76 -83 1 0 0.23 -1.96a0.99 1.76 -83 1 0 -0.23 1.96zM479.4 510.9a0.99 1.93 -83 1 0 0.23 -1.96a0.99 1.93 -83 1 0 -0.23 1.96zM479.1 507.3a0.99 2.11 -83 1 0 0.23 -1.96a0.99 2.11 -83 1 0 -0.23 1.96zM480.2 503.8a0.99 2.29 -83 1 0 0.23 -1.96a0.99 2.29 -83 1 0 -0.23 1.96zM447.6 496.8a0.99 1.61 -61 1 0 0.97 -1.72a0.99 1.61 -61 1 0 -0.97 1.72zM450.1 493.8a0.99 1.77 -61 1 0 0.97 -1.72a0.99 1.77 -61 1 0 -0.97 1.72zM451.4 490.1a0.99 1.94 -61 1 0 0.97 -1.72a0.99 1.94 -61 1 0 -0.97 1.72zM453.9 487.1a0.99 2.10 -61 1 0 0.97 -1.72a0.99 2.10 -61 1 0 -0.97 1.72zM417.0 478.6a0.99 1.32 -26 1 0 1.78 -0.85a0.99 1.32 -26 1 0 -1.78 0.85zM420.5 477.7a0.99 1.45 -26 1 0 1.78 -0.85a0.99 1.45 -26 1 0 -1.78 0.85zM423.5 475.5a0.99 1.58 -26 1 0 1.78 -0.85a0.99 1.58 -26 1 0 -1.78 0.85zM427.0 474.6a0.99 1.72 -26 1 0 1.78 -0.85a0.99 1.72 -26 1 0 -1.78 0.85zM503.3 497.4a0.99 1.46 -56 1 0 1.10 -1.64a0.99 1.46 -56 1 0 -1.10 1.64zM506.8 493.4a0.99 1.61 -56 1 0 1.10 -1.64a0.99 1.61 -56 1 0 -1.10 1.64zM509.1 488.7a0.99 1.76 -56 1 0 1.10 -1.64a0.99 1.76 -56 1 0 -1.10 1.64zM476.8 443.5a1.56 2.49 0 1 0 3.12 0.00a1.56 2.49 0 1 0 -3.12 -0.00zM452.0 458.7a2.49 1.56 0 1 0 4.99 0.00a2.49 1.56 0 1 0 -4.99 -0.00zM476.0 405.9a2.49 1.25 -20 1 0 4.69 -1.71a2.49 1.25 -20 1 0 -4.69 1.71zM478.5 407.2a2.49 1.25 20 1 0 4.69 1.71a2.49 1.25 20 1 0 -4.69 -1.71zM476.4 412.0a2.49 1.25 -20 1 0 4.69 -1.71a2.49 1.25 -20 1 0 -4.69 1.71zM477.6 413.7a2.18 1.25 0 1 0 4.36 0.00a2.18 1.25 0 1 0 -4.36 -0.00zM447.5 421.2a2.18 1.56 30 1 0 3.78 2.18a2.18 1.56 30 1 0 -3.78 -2.18zM450.3 424.0a2.49 1.56 30 1 0 4.32 2.49a2.49 1.56 30 1 0 -4.32 -2.49zM449.6 427.2a2.18 1.56 30 1 0 3.78 2.18a2.18 1.56 30 1 0 -3.78 -2.18zM451.6 430.8a1.87 1.25 0 1 0 3.74 0.00a1.87 1.25 0 1 0 -3.74 -0.00zM417.2 438.4a2.18 1.25 30 1 0 3.78 2.18a2.18 1.25 30 1 0 -3.78 -2.18zM420.2 441.4a2.18 1.25 30 1 0 3.78 2.18a2.18 1.25 30 1 0 -3.78 -2.18zM423.2 444.6a2.18 1.25 -30 1 0 3.78 -2.18a2.18 1.25 -30 1 0 -3.78 2.18zM425.5 443.0a1.87 1.25 -30 1 0 3.24 -1.87a1.87 1.25 -30 1 0 -3.24 1.87zM503.2 422.3a2.18 1.25 -30 1 0 3.78 -2.18a2.18 1.25 -30 1 0 -3.78 2.18zM506.3 422.2a2.18 1.56 30 1 0 3.78 2.18a2.18 1.56 30 1 0 -3.78 -2.18zM504.2 426.2a2.18 1.56 30 1 0 3.78 2.18a2.18 1.56 30 1 0 -3.78 -2.18zM507.3 428.7a1.87 1.25 0 1 0 3.74 0.00a1.87 1.25 0 1 0 -3.74 -0.00zM501.9 458.7a2.18 1.87 0 1 0 4.36 0.00a2.18 1.87 0 1 0 -4.36 -0.00zM504.6 458.7a2.49 2.18 0 1 0 4.99 0.00a2.49 2.18 0 1 0 -4.99 -0.00zM508.3 458.7a1.87 1.87 0 1 0 3.74 0.00a1.87 1.87 0 1 0 -3.74 -0.00zM497.8 455.0a1.25 1.25 0 1 0 2.49 0.00a1.25 1.25 0 1 0 -2.49 -0.00zM471.1 454.6a1.87 1.25 -30 1 0 3.24 -1.87a1.87 1.25 -30 1 0 -3.24 1.87zM465.3 458.7a1.38 1.10 0 1 0 2.76 0.00a1.38 1.10 0 1 0 -2.76 -0.00zM464.4 446.9a1.38 0.83 30 1 0 2.39 1.38a1.38 0.83 30 1 0 -2.39 -1.38zM473.6 448.6a1.10 0.83 0 1 0 2.21 0.00a1.10 0.83 0 1 0 -2.21 -0.00zM520.7 422.2a1.65 0.83 0 1 0 3.31 0.00a1.65 0.83 0 1 0 -3.31 -0.00zM451.1 440.5a1.38 0.83 0 1 0 2.76 0.00a1.38 0.83 0 1 0 -2.76 -0.00zM476.8 473.9a1.56 2.49 0 1 0 3.12 0.00a1.56 2.49 0 1 0 -3.12 -0.00zM476.0 511.5a2.49 1.25 20 1 0 4.69 1.71a2.49 1.25 20 1 0 -4.69 -1.71zM478.5 510.2a2.49 1.25 -20 1 0 4.69 -1.71a2.49 1.25 -20 1 0 -4.69 1.71zM476.4 505.4a2.49 1.25 20 1 0 4.69 1.71a2.49 1.25 20 1 0 -4.69 -1.71zM477.6 503.6a2.18 1.25 0 1 0 4.36 0.00a2.18 1.25 0 1 0 -4.36 -0.00zM447.5 496.2a2.18 1.56 -30 1 0 3.78 -2.18a2.18 1.56 -30 1 0 -3.78 2.18zM450.3 493.3a2.49 1.56 -30 1 0 4.32 -2.49a2.49 1.56 -30 1 0 -4.32 2.49zM449.6 490.2a2.18 1.56 -30 1 0 3.78 -2.18a2.18 1.56 -30 1 0 -3.78 2.18zM451.6 486.6a1.87 1.25 0 1 0 3.74 0.00a1.87 1.25 0 1 0 -3.74 -0.00zM417.2 479.0a2.18 1.25 -30 1 0 3.78 -2.18a2.18 1.25 -30 1 0 -3.78 2.18zM420.2 476.0a2.18 1.25 -30 1 0 3.78 -2.18a2.18 1.25 -30 1 0 -3.78 2.18zM423.2 472.8a2.18 1.25 30 1 0 3.78 2.18a2.18 1.25 30 1 0 -3.78 -2.18zM425.5 474.4a1.87 1.25 30 1 0 3.24 1.87a1.87 1.25 30 1 0 -3.24 -1.87zM503.2 495.1a2.18 1.25 30 1 0 3.78 2.18a2.18 1.25 30 1 0 -3.78 -2.18zM506.3 495.2a2.18 1.56 -30 1 0 3.78 -2.18a2.18 1.56 -30 1 0 -3.78 2.18zM504.2 491.2a2.18 1.56 -30 1 0 3.78 -2.18a2.18 1.56 -30 1 0 -3.78 2.18zM507.3 488.7a1.87 1.25 0 1 0 3.74 0.00a1.87 1.25 0 1 0 -3.74 -0.00zM497.8 462.3a1.25 1.25 0 1 0 2.49 0.00a1.25 1.25 0 1 0 -2.49 -0.00zM471.1 462.8a1.87 1.25 30 1 0 3.24 1.87a1.87 1.25 30 1 0 -3.24 -1.87zM464.4 470.5a1.38 0.83 -30 1 0 2.39 -1.38a1.38 0.83 -30 1 0 -2.39 1.38zM473.6 468.8a1.10 0.83 0 1 0 2.21 0.00a1.10 0.83 0 1 0 -2.21 -0.00zM520.7 495.1a1.65 0.83 0 1 0 3.31 0.00a1.65 0.83 0 1 0 -3.31 -0.00zM451.1 476.9a1.38 0.83 0 1 0 2.76 0.00a1.38 0.83 0 1 0 -2.76 -0.00z"/><path fill="#0054d0" d="M477.2 443.5a1.16 1.85 0 1 0 2.32 0.00a1.16 1.85 0 1 0 -2.32 -0.00zM452.6 458.7a1.85 1.16 0 1 0 3.71 0.00a1.85 1.16 0 1 0 -3.71 -0.00zM476.6 405.7a1.85 0.93 -20 1 0 3.48 -1.27a1.85 0.93 -20 1 0 -3.48 1.27zM479.1 407.4a1.85 0.93 20 1 0 3.48 1.27a1.85 0.93 20 1 0 -3.48 -1.27zM477.0 411.7a1.85 0.93 -20 1 0 3.48 -1.27a1.85 0.93 -20 1 0 -3.48 1.27zM478.2 413.7a1.62 0.93 0 1 0 3.24 0.00a1.62 0.93 0 1 0 -3.24 -0.00zM448.0 421.4a1.62 1.16 30 1 0 2.81 1.62a1.62 1.16 30 1 0 -2.81 -1.62zM450.9 424.4a1.85 1.16 30 1 0 3.21 1.85a1.85 1.16 30 1 0 -3.21 -1.85zM450.1 427.5a1.62 1.16 30 1 0 2.81 1.62a1.62 1.16 30 1 0 -2.81 -1.62zM452.1 430.8a1.39 0.93 0 1 0 2.78 0.00a1.39 0.93 0 1 0 -2.78 -0.00zM417.7 438.6a1.62 0.93 30 1 0 2.81 1.62a1.62 0.93 30 1 0 -2.81 -1.62zM420.7 441.7a1.62 0.93 30 1 0 2.81 1.62a1.62 0.93 30 1 0 -2.81 -1.62zM423.7 444.3a1.62 0.93 -30 1 0 2.81 -1.62a1.62 0.93 -30 1 0 -2.81 1.62zM426.0 442.8a1.39 0.93 -30 1 0 2.41 -1.39a1.39 0.93 -30 1 0 -2.41 1.39zM503.7 422.0a1.62 0.93 -30 1 0 2.81 -1.62a1.62 0.93 -30 1 0 -2.81 1.62zM506.7 422.4a1.62 1.16 30 1 0 2.81 1.62a1.62 1.16 30 1 0 -2.81 -1.62zM504.7 426.5a1.62 1.16 30 1 0 2.81 1.62a1.62 1.16 30 1 0 -2.81 -1.62zM507.8 428.7a1.39 0.93 0 1 0 2.78 0.00a1.39 0.93 0 1 0 -2.78 -0.00zM502.5 458.7a1.62 1.39 0 1 0 3.24 0.00a1.62 1.39 0 1 0 -3.24 -0.00zM505.3 458.7a1.85 1.62 0 1 0 3.71 0.00a1.85 1.62 0 1 0 -3.71 -0.00zM508.8 458.7a1.39 1.39 0 1 0 2.78 0.00a1.39 1.39 0 1 0 -2.78 -0.00zM498.1 455.0a0.93 0.93 0 1 0 1.85 0.00a0.93 0.93 0 1 0 -1.85 -0.00zM471.5 454.3a1.39 0.93 -30 1 0 2.41 -1.39a1.39 0.93 -30 1 0 -2.41 1.39zM477.2 473.9a1.16 1.85 0 1 0 2.32 0.00a1.16 1.85 0 1 0 -2.32 -0.00zM476.6 511.7a1.85 0.93 20 1 0 3.48 1.27a1.85 0.93 20 1 0 -3.48 -1.27zM479.1 509.9a1.85 0.93 -20 1 0 3.48 -1.27a1.85 0.93 -20 1 0 -3.48 1.27zM477.0 505.6a1.85 0.93 20 1 0 3.48 1.27a1.85 0.93 20 1 0 -3.48 -1.27zM478.2 503.6a1.62 0.93 0 1 0 3.24 0.00a1.62 0.93 0 1 0 -3.24 -0.00zM448.0 495.9a1.62 1.16 -30 1 0 2.81 -1.62a1.62 1.16 -30 1 0 -2.81 1.62zM450.9 493.0a1.85 1.16 -30 1 0 3.21 -1.85a1.85 1.16 -30 1 0 -3.21 1.85zM450.1 489.9a1.62 1.16 -30 1 0 2.81 -1.62a1.62 1.16 -30 1 0 -2.81 1.62zM452.1 486.6a1.39 0.93 0 1 0 2.78 0.00a1.39 0.93 0 1 0 -2.78 -0.00zM417.7 478.7a1.62 0.93 -30 1 0 2.81 -1.62a1.62 0.93 -30 1 0 -2.81 1.62zM420.7 475.7a1.62 0.93 -30 1 0 2.81 -1.62a1.62 0.93 -30 1 0 -2.81 1.62zM423.7 473.1a1.62 0.93 30 1 0 2.81 1.62a1.62 0.93 30 1 0 -2.81 -1.62zM426.0 474.6a1.39 0.93 30 1 0 2.41 1.39a1.39 0.93 30 1 0 -2.41 -1.39zM503.7 495.3a1.62 0.93 30 1 0 2.81 1.62a1.62 0.93 30 1 0 -2.81 -1.62zM506.7 494.9a1.62 1.16 -30 1 0 2.81 -1.62a1.62 1.16 -30 1 0 -2.81 1.62zM504.7 490.9a1.62 1.16 -30 1 0 2.81 -1.62a1.62 1.16 -30 1 0 -2.81 1.62zM507.8 488.7a1.39 0.93 0 1 0 2.78 0.00a1.39 0.93 0 1 0 -2.78 -0.00zM498.1 462.3a0.93 0.93 0 1 0 1.85 0.00a0.93 0.93 0 1 0 -1.85 -0.00zM471.5 463.1a1.39 0.93 30 1 0 2.41 1.39a1.39 0.93 30 1 0 -2.41 -1.39z"/><path fill="#001470" d="M477.5 443.5a0.88 1.41 0 1 0 1.77 0.00a0.88 1.41 0 1 0 -1.77 -0.00zM453.1 458.7a1.41 0.88 0 1 0 2.83 0.00a1.41 0.88 0 1 0 -2.83 -0.00zM477.1 405.5a1.41 0.71 -20 1 0 2.66 -0.97a1.41 0.71 -20 1 0 -2.66 0.97zM479.5 407.6a1.41 0.71 20 1 0 2.66 0.97a1.41 0.71 20 1 0 -2.66 -0.97zM477.5 411.6a1.41 0.71 -20 1 0 2.66 -0.97a1.41 0.71 -20 1 0 -2.66 0.97zM451.2 424.6a1.41 0.88 30 1 0 2.45 1.41a1.41 0.88 30 1 0 -2.45 -1.41zM450.4 427.7a1.24 0.88 30 1 0 2.14 1.24a1.24 0.88 30 1 0 -2.14 -1.24zM424.1 444.1a1.24 0.71 -30 1 0 2.14 -1.24a1.24 0.71 -30 1 0 -2.14 1.24zM426.2 442.6a1.06 0.71 -30 1 0 1.84 -1.06a1.06 0.71 -30 1 0 -1.84 1.06zM507.1 422.6a1.24 0.88 30 1 0 2.14 1.24a1.24 0.88 30 1 0 -2.14 -1.24zM505.0 426.7a1.24 0.88 30 1 0 2.14 1.24a1.24 0.88 30 1 0 -2.14 -1.24zM505.7 458.7a1.41 1.24 0 1 0 2.83 0.00a1.41 1.24 0 1 0 -2.83 -0.00zM498.3 455.0a0.71 0.71 0 1 0 1.41 0.00a0.71 0.71 0 1 0 -1.41 -0.00zM477.5 473.9a0.88 1.41 0 1 0 1.77 0.00a0.88 1.41 0 1 0 -1.77 -0.00zM477.1 511.9a1.41 0.71 20 1 0 2.66 0.97a1.41 0.71 20 1 0 -2.66 -0.97zM479.5 509.8a1.41 0.71 -20 1 0 2.66 -0.97a1.41 0.71 -20 1 0 -2.66 0.97zM477.5 505.8a1.41 0.71 20 1 0 2.66 0.97a1.41 0.71 20 1 0 -2.66 -0.97zM451.2 492.8a1.41 0.88 -30 1 0 2.45 -1.41a1.41 0.88 -30 1 0 -2.45 1.41zM450.4 489.7a1.24 0.88 -30 1 0 2.14 -1.24a1.24 0.88 -30 1 0 -2.14 1.24zM424.1 473.3a1.24 0.71 30 1 0 2.14 1.24a1.24 0.71 30 1 0 -2.14 -1.24zM426.2 474.8a1.06 0.71 30 1 0 1.84 1.06a1.06 0.71 30 1 0 -1.84 -1.06zM507.1 494.7a1.24 0.88 -30 1 0 2.14 -1.24a1.24 0.88 -30 1 0 -2.14 1.24zM505.0 490.7a1.24 0.88 -30 1 0 2.14 -1.24a1.24 0.88 -30 1 0 -2.14 1.24zM498.3 462.3a0.71 0.71 0 1 0 1.41 0.00a0.71 0.71 0 1 0 -1.41 -0.00z"/><path fill="#000018" d="M477.9 443.5a0.53 0.84 0 1 0 1.05 0.00a0.53 0.84 0 1 0 -1.05 -0.00zM453.7 458.7a0.84 0.53 0 1 0 1.68 0.00a0.84 0.53 0 1 0 -1.68 -0.00zM477.6 405.3a0.84 0.42 -20 1 0 1.58 -0.58a0.84 0.42 -20 1 0 -1.58 0.58zM480.0 407.8a0.84 0.42 20 1 0 1.58 0.58a0.84 0.42 20 1 0 -1.58 -0.58zM478.0 411.4a0.84 0.42 -20 1 0 1.58 -0.58a0.84 0.42 -20 1 0 -1.58 0.58zM451.7 424.9a0.84 0.53 30 1 0 1.46 0.84a0.84 0.53 30 1 0 -1.46 -0.84zM450.8 428.0a0.74 0.53 30 1 0 1.28 0.74a0.74 0.53 30 1 0 -1.28 -0.74zM424.5 443.9a0.74 0.42 -30 1 0 1.28 -0.74a0.74 0.42 -30 1 0 -1.28 0.74zM426.6 442.4a0.63 0.42 -30 1 0 1.09 -0.63a0.63 0.42 -30 1 0 -1.09 0.63zM507.5 422.9a0.74 0.53 30 1 0 1.28 0.74a0.74 0.53 30 1 0 -1.28 -0.74zM505.5 426.9a0.74 0.53 30 1 0 1.28 0.74a0.74 0.53 30 1 0 -1.28 -0.74zM506.3 458.7a0.84 0.74 0 1 0 1.68 0.00a0.84 0.74 0 1 0 -1.68 -0.00zM498.6 455.0a0.42 0.42 0 1 0 0.84 0.00a0.42 0.42 0 1 0 -0.84 -0.00zM477.9 473.9a0.53 0.84 0 1 0 1.05 0.00a0.53 0.84 0 1 0 -1.05 -0.00zM477.6 512.1a0.84 0.42 20 1 0 1.58 0.58a0.84 0.42 20 1 0 -1.58 -0.58zM480.0 509.6a0.84 0.42 -20 1 0 1.58 -0.58a0.84 0.42 -20 1 0 -1.58 0.58zM478.0 506.0a0.84 0.42 20 1 0 1.58 0.58a0.84 0.42 20 1 0 -1.58 -0.58zM451.7 492.5a0.84 0.53 -30 1 0 1.46 -0.84a0.84 0.53 -30 1 0 -1.46 0.84zM450.8 489.4a0.74 0.53 -30 1 0 1.28 -0.74a0.74 0.53 -30 1 0 -1.28 0.74zM424.5 473.5a0.74 0.42 30 1 0 1.28 0.74a0.74 0.42 30 1 0 -1.28 -0.74zM426.6 475.0a0.63 0.42 30 1 0 1.09 0.63a0.63 0.42 30 1 0 -1.09 -0.63zM507.5 494.5a0.74 0.53 -30 1 0 1.28 -0.74a0.74 0.53 -30 1 0 -1.28 0.74zM505.5 490.4a0.74 0.53 -30 1 0 1.28 -0.74a0.74 0.53 -30 1 0 -1.28 0.74zM498.6 462.3a0.42 0.42 0 1 0 0.84 0.00a0.42 0.42 0 1 0 -0.84 -0.00z"/></g><text x="436.70" y="451.60" font-size="17.4" font-family="'Liberation Sans', sans-serif" fill="#f00" textLength="27.70" lengthAdjust="spacingAndGlyphs">3rd</text><circle cx="454.5" cy="459.3" r="7.7" fill="none" stroke="#f02020" stroke-width="1.1" stroke-dasharray="1.1 1.1"/><circle cx="478.4" cy="443.5" r="7.7" fill="none" stroke="#f02020" stroke-width="1.1" stroke-dasharray="1.1 1.1"/><circle cx="478.4" cy="472.9" r="7.7" fill="none" stroke="#f02020" stroke-width="1.1" stroke-dasharray="1.1 1.1"/><path d="M415.30 403.2v-4.5M415.30 514.2v4.5M415.3 403.20h-4.5M526.3 403.20h4.5M420.85 403.2v-2.3M420.85 514.2v2.3M415.3 408.75h-2.3M526.3 408.75h2.3M426.40 403.2v-2.3M426.40 514.2v2.3M415.3 414.30h-2.3M526.3 414.30h2.3M431.95 403.2v-2.3M431.95 514.2v2.3M415.3 419.85h-2.3M526.3 419.85h2.3M437.50 403.2v-2.3M437.50 514.2v2.3M415.3 425.40h-2.3M526.3 425.40h2.3M443.05 403.2v-4.5M443.05 514.2v4.5M415.3 430.95h-4.5M526.3 430.95h4.5M448.60 403.2v-2.3M448.60 514.2v2.3M415.3 436.50h-2.3M526.3 436.50h2.3M454.15 403.2v-2.3M454.15 514.2v2.3M415.3 442.05h-2.3M526.3 442.05h2.3M459.70 403.2v-2.3M459.70 514.2v2.3M415.3 447.60h-2.3M526.3 447.60h2.3M465.25 403.2v-2.3M465.25 514.2v2.3M415.3 453.15h-2.3M526.3 453.15h2.3M470.80 403.2v-4.5M470.80 514.2v4.5M415.3 458.70h-4.5M526.3 458.70h4.5M476.35 403.2v-2.3M476.35 514.2v2.3M415.3 464.25h-2.3M526.3 464.25h2.3M481.90 403.2v-2.3M481.90 514.2v2.3M415.3 469.80h-2.3M526.3 469.80h2.3M487.45 403.2v-2.3M487.45 514.2v2.3M415.3 475.35h-2.3M526.3 475.35h2.3M493.00 403.2v-2.3M493.00 514.2v2.3M415.3 480.90h-2.3M526.3 480.90h2.3M498.55 403.2v-4.5M498.55 514.2v4.5M415.3 486.45h-4.5M526.3 486.45h4.5M504.10 403.2v-2.3M504.10 514.2v2.3M415.3 492.00h-2.3M526.3 492.00h2.3M509.65 403.2v-2.3M509.65 514.2v2.3M415.3 497.55h-2.3M526.3 497.55h2.3M515.20 403.2v-2.3M515.20 514.2v2.3M415.3 503.10h-2.3M526.3 503.10h2.3M520.75 403.2v-2.3M520.75 514.2v2.3M415.3 508.65h-2.3M526.3 508.65h2.3M526.30 403.2v-4.5M526.30 514.2v4.5M415.3 514.20h-4.5M526.3 514.20h4.5" stroke="#555" stroke-width="1" fill="none"/><text x="408.60" y="408.05" font-size="12.3" font-family="'Liberation Sans', sans-serif" font-weight="bold" text-anchor="end" textLength="15.20" lengthAdjust="spacingAndGlyphs">10</text><text x="408.60" y="435.80" font-size="12.3" font-family="'Liberation Sans', sans-serif" font-weight="bold" text-anchor="end" textLength="6.80" lengthAdjust="spacingAndGlyphs">5</text><text x="408.60" y="463.55" font-size="12.3" font-family="'Liberation Sans', sans-serif" font-weight="bold" text-anchor="end" textLength="6.80" lengthAdjust="spacingAndGlyphs">0</text><text x="408.60" y="491.30" font-size="12.3" font-family="'Liberation Sans', sans-serif" font-weight="bold" text-anchor="end" textLength="11.60" lengthAdjust="spacingAndGlyphs">-5</text><text x="408.60" y="519.05" font-size="12.3" font-family="'Liberation Sans', sans-serif" font-weight="bold" text-anchor="end" textLength="19.80" lengthAdjust="spacingAndGlyphs">-10</text><text x="414.90" y="529.70" font-size="12.3" font-family="'Liberation Sans', sans-serif" font-weight="bold" text-anchor="middle" textLength="15.20" lengthAdjust="spacingAndGlyphs">10</text><text x="442.10" y="529.70" font-size="12.3" font-family="'Liberation Sans', sans-serif" font-weight="bold" text-anchor="middle" textLength="6.80" lengthAdjust="spacingAndGlyphs">5</text><text x="469.30" y="529.70" font-size="12.3" font-family="'Liberation Sans', sans-serif" font-weight="bold" text-anchor="middle" textLength="6.80" lengthAdjust="spacingAndGlyphs">0</text><text x="496.20" y="529.70" font-size="12.3" font-family="'Liberation Sans', sans-serif" font-weight="bold" text-anchor="middle" textLength="11.60" lengthAdjust="spacingAndGlyphs">-5</text><text x="523.40" y="529.70" font-size="12.3" font-family="'Liberation Sans', sans-serif" font-weight="bold" text-anchor="middle" textLength="19.80" lengthAdjust="spacingAndGlyphs">-10</text><text x="392.50" y="546.80" font-size="11.3" font-family="'Liberation Sans', sans-serif" font-weight="bold" textLength="77.90" lengthAdjust="spacingAndGlyphs">Position along</text><text x="474.50" y="548.00" font-size="16" font-family="'Liberation Serif', serif" fill="#1a1a1a" stroke="#1a1a1a" stroke-width="0.3">[</text><text x="479.90" y="547.10" font-size="14.6" font-family="'Liberation Serif', serif" fill="#1a1a1a" stroke="#1a1a1a" stroke-width="0.3">1</text><path d="M480.60 534.90h4.3" stroke="#1a1a1a" stroke-width="1.3"/><text x="486.50" y="547.10" font-size="14.6" font-family="'Liberation Serif', serif" fill="#1a1a1a" textLength="13.40" lengthAdjust="spacingAndGlyphs" stroke="#1a1a1a" stroke-width="0.3">10</text><text x="500.50" y="548.00" font-size="16" font-family="'Liberation Serif', serif" fill="#1a1a1a" stroke="#1a1a1a" stroke-width="0.3">]</text><text x="505.50" y="550.10" font-size="8.2" font-family="'Liberation Sans', sans-serif" font-weight="bold" textLength="15.00" lengthAdjust="spacingAndGlyphs">HEX</text><text x="523.50" y="547.20" font-size="11.3" font-family="'Liberation Sans', sans-serif" font-weight="bold">(</text><text x="529.50" y="546.80" font-size="11.3" font-family="'Liberation Sans', sans-serif" font-weight="bold" textLength="9.60" lengthAdjust="spacingAndGlyphs">Å</text><text x="540.80" y="547.20" font-size="11.3" font-family="'Liberation Sans', sans-serif" font-weight="bold">)</text><g transform="translate(384.00 539.60) rotate(-90)"><text x="-0.40" y="0.00" font-size="11.3" font-family="'Liberation Sans', sans-serif" font-weight="bold" textLength="77.90" lengthAdjust="spacingAndGlyphs">Position along</text><text x="81.60" y="1.20" font-size="16" font-family="'Liberation Serif', serif" fill="#1a1a1a" stroke="#1a1a1a" stroke-width="0.3">[</text><text x="87.00" y="0.30" font-size="14.6" font-family="'Liberation Serif', serif" fill="#1a1a1a" stroke="#1a1a1a" stroke-width="0.3">1</text><path d="M87.70 -11.90h4.3" stroke="#1a1a1a" stroke-width="1.3"/><path d="M94.40 -11.90h4.3" stroke="#1a1a1a" stroke-width="1.3"/><text x="93.60" y="0.30" font-size="14.6" font-family="'Liberation Serif', serif" fill="#1a1a1a" textLength="13.40" lengthAdjust="spacingAndGlyphs" stroke="#1a1a1a" stroke-width="0.3">10</text><text x="107.60" y="1.20" font-size="16" font-family="'Liberation Serif', serif" fill="#1a1a1a" stroke="#1a1a1a" stroke-width="0.3">]</text><text x="112.60" y="3.30" font-size="8.2" font-family="'Liberation Sans', sans-serif" font-weight="bold" textLength="15.00" lengthAdjust="spacingAndGlyphs">HEX</text><text x="130.60" y="0.40" font-size="11.3" font-family="'Liberation Sans', sans-serif" font-weight="bold">(</text><text x="136.60" y="0.00" font-size="11.3" font-family="'Liberation Sans', sans-serif" font-weight="bold" textLength="9.60" lengthAdjust="spacingAndGlyphs">Å</text><text x="147.90" y="0.40" font-size="11.3" font-family="'Liberation Sans', sans-serif" font-weight="bold">)</text></g><text x="465.00" y="564.20" font-size="11.8" font-family="'Liberation Sans', sans-serif">(k)</text><rect x="593.2" y="403.1" width="111.0" height="111.0" fill="#fff" stroke="#555" stroke-width="1"/><clipPath id="pcl"><rect x="593.7" y="403.6" width="110.0" height="110.0"/></clipPath><g clip-path="url(#pcl)"><path fill="#00e0ff" d="M609.9 442.9a1.33 2.57 4 1 0 2.66 0.18a1.33 2.57 4 1 0 -2.66 -0.18zM613.5 443.8a1.33 2.83 4 1 0 2.66 0.18a1.33 2.83 4 1 0 -2.66 -0.18zM617.2 443.4a1.33 3.09 4 1 0 2.66 0.18a1.33 3.09 4 1 0 -2.66 -0.18zM620.8 444.3a1.33 3.35 4 1 0 2.66 0.18a1.33 3.35 4 1 0 -2.66 -0.18zM624.5 443.8a1.33 2.70 4 1 0 2.66 0.18a1.33 2.70 4 1 0 -2.66 -0.18zM628.1 444.8a1.33 2.96 4 1 0 2.66 0.18a1.33 2.96 4 1 0 -2.66 -0.18zM613.2 442.6a1.16 1.55 6 1 0 2.31 0.23a1.16 1.55 6 1 0 -2.31 -0.23zM617.1 443.7a1.16 1.71 6 1 0 2.31 0.23a1.16 1.71 6 1 0 -2.31 -0.23zM621.2 443.4a1.16 1.86 6 1 0 2.31 0.23a1.16 1.86 6 1 0 -2.31 -0.23zM625.2 444.5a1.16 2.02 6 1 0 2.31 0.23a1.16 2.02 6 1 0 -2.31 -0.23zM649.6 418.1a1.33 2.77 87 1 0 0.16 2.66a1.33 2.77 87 1 0 -0.16 -2.66zM649.1 422.7a1.33 3.05 87 1 0 0.16 2.66a1.33 3.05 87 1 0 -0.16 -2.66zM650.1 427.2a1.33 3.33 87 1 0 0.16 2.66a1.33 3.33 87 1 0 -0.16 -2.66zM649.7 431.9a1.33 3.61 87 1 0 0.16 2.66a1.33 3.61 87 1 0 -0.16 -2.66zM649.8 420.1a1.16 1.55 88 1 0 0.09 2.32a1.16 1.55 88 1 0 -0.09 -2.32zM649.3 425.2a1.16 1.71 88 1 0 0.09 2.32a1.16 1.71 88 1 0 -0.09 -2.32zM650.2 430.2a1.16 1.86 88 1 0 0.09 2.32a1.16 1.86 88 1 0 -0.09 -2.32zM667.7 448.0a1.33 2.57 -42 1 0 1.99 -1.78a1.33 2.57 -42 1 0 -1.99 1.78zM671.2 445.8a1.33 2.83 -42 1 0 1.99 -1.78a1.33 2.83 -42 1 0 -1.99 1.78zM673.7 442.6a1.33 3.09 -42 1 0 1.99 -1.78a1.33 3.09 -42 1 0 -1.99 1.78zM677.2 440.5a1.33 3.35 -42 1 0 1.99 -1.78a1.33 3.35 -42 1 0 -1.99 1.78zM679.7 437.3a1.33 2.70 -42 1 0 1.99 -1.78a1.33 2.70 -42 1 0 -1.99 1.78zM683.2 435.1a1.33 2.96 -42 1 0 1.99 -1.78a1.33 2.96 -42 1 0 -1.99 1.78zM670.3 445.4a1.16 1.38 -41 1 0 1.75 -1.52a1.16 1.38 -41 1 0 -1.75 1.52zM673.4 443.6a1.16 1.52 -41 1 0 1.75 -1.52a1.16 1.52 -41 1 0 -1.75 1.52zM675.6 440.8a1.16 1.65 -41 1 0 1.75 -1.52a1.16 1.65 -41 1 0 -1.75 1.52zM678.8 439.0a1.16 1.79 -41 1 0 1.75 -1.52a1.16 1.79 -41 1 0 -1.75 1.52zM681.0 436.1a1.16 1.45 -41 1 0 1.75 -1.52a1.16 1.45 -41 1 0 -1.75 1.52zM618.9 408.1a1.85 1.39 45 1 0 2.62 2.62a1.85 1.39 45 1 0 -2.62 -2.62zM621.1 411.4a1.85 1.53 45 1 0 2.62 2.62a1.85 1.53 45 1 0 -2.62 -2.62zM624.3 413.6a1.85 1.66 45 1 0 2.62 2.62a1.85 1.66 45 1 0 -2.62 -2.62zM609.9 473.4a1.33 2.57 -4 1 0 2.66 -0.18a1.33 2.57 -4 1 0 -2.66 0.18zM613.6 473.9a1.33 2.83 -4 1 0 2.66 -0.18a1.33 2.83 -4 1 0 -2.66 0.18zM617.2 472.9a1.33 3.09 -4 1 0 2.66 -0.18a1.33 3.09 -4 1 0 -2.66 0.18zM620.9 473.4a1.33 3.35 -4 1 0 2.66 -0.18a1.33 3.35 -4 1 0 -2.66 0.18zM624.5 472.4a1.33 2.70 -4 1 0 2.66 -0.18a1.33 2.70 -4 1 0 -2.66 0.18zM628.1 472.9a1.33 2.96 -4 1 0 2.66 -0.18a1.33 2.96 -4 1 0 -2.66 0.18zM613.1 473.6a1.16 1.55 -6 1 0 2.31 -0.23a1.16 1.55 -6 1 0 -2.31 0.23zM617.2 473.9a1.16 1.71 -6 1 0 2.31 -0.23a1.16 1.71 -6 1 0 -2.31 0.23zM621.2 472.8a1.16 1.86 -6 1 0 2.31 -0.23a1.16 1.86 -6 1 0 -2.31 0.23zM625.3 473.1a1.16 2.02 -6 1 0 2.31 -0.23a1.16 2.02 -6 1 0 -2.31 0.23zM648.9 498.9a1.33 2.77 -87 1 0 0.16 -2.66a1.33 2.77 -87 1 0 -0.16 2.66zM649.8 494.3a1.33 3.05 -87 1 0 0.16 -2.66a1.33 3.05 -87 1 0 -0.16 2.66zM649.4 489.7a1.33 3.33 -87 1 0 0.16 -2.66a1.33 3.33 -87 1 0 -0.16 2.66zM650.4 485.1a1.33 3.61 -87 1 0 0.16 -2.66a1.33 3.61 -87 1 0 -0.16 2.66zM649.1 496.9a1.16 1.55 -88 1 0 0.09 -2.32a1.16 1.55 -88 1 0 -0.09 2.32zM650.0 491.9a1.16 1.71 -88 1 0 0.09 -2.32a1.16 1.71 -88 1 0 -0.09 2.32zM649.5 486.8a1.16 1.86 -88 1 0 0.09 -2.32a1.16 1.86 -88 1 0 -0.09 2.32zM668.2 468.5a1.33 2.57 42 1 0 1.99 1.78a1.33 2.57 42 1 0 -1.99 -1.78zM670.7 471.7a1.33 2.83 42 1 0 1.99 1.78a1.33 2.83 42 1 0 -1.99 -1.78zM674.2 473.8a1.33 3.09 42 1 0 1.99 1.78a1.33 3.09 42 1 0 -1.99 -1.78zM676.7 477.0a1.33 3.35 42 1 0 1.99 1.78a1.33 3.35 42 1 0 -1.99 -1.78zM680.2 479.2a1.33 2.70 42 1 0 1.99 1.78a1.33 2.70 42 1 0 -1.99 -1.78zM682.7 482.4a1.33 2.96 42 1 0 1.99 1.78a1.33 2.96 42 1 0 -1.99 -1.78zM670.7 471.0a1.16 1.38 41 1 0 1.75 1.52a1.16 1.38 41 1 0 -1.75 -1.52zM672.9 473.9a1.16 1.52 41 1 0 1.75 1.52a1.16 1.52 41 1 0 -1.75 -1.52zM676.1 475.7a1.16 1.65 41 1 0 1.75 1.52a1.16 1.65 41 1 0 -1.75 -1.52zM678.3 478.5a1.16 1.79 41 1 0 1.75 1.52a1.16 1.79 41 1 0 -1.75 -1.52zM681.4 480.3a1.16 1.45 41 1 0 1.75 1.52a1.16 1.45 41 1 0 -1.75 -1.52zM618.4 508.3a1.85 1.39 -45 1 0 2.62 -2.62a1.85 1.39 -45 1 0 -2.62 2.62zM621.6 506.1a1.85 1.53 -45 1 0 2.62 -2.62a1.85 1.53 -45 1 0 -2.62 2.62zM623.8 502.9a1.85 1.66 -45 1 0 2.62 -2.62a1.85 1.66 -45 1 0 -2.62 2.62zM646.0 458.1a2.27 1.94 0 1 0 4.54 0.00a2.27 1.94 0 1 0 -4.54 -0.00zM643.4 455.0a1.62 1.30 0 1 0 3.24 0.00a1.62 1.30 0 1 0 -3.24 -0.00zM651.3 455.9a1.86 1.49 0 1 0 3.73 0.00a1.86 1.49 0 1 0 -3.73 -0.00zM641.1 458.3a1.49 1.86 0 1 0 2.98 0.00a1.49 1.86 0 1 0 -2.98 -0.00zM646.1 422.2a2.59 1.62 0 1 0 5.18 0.00a2.59 1.62 0 1 0 -5.18 -0.00zM646.8 425.3a2.92 1.62 0 1 0 5.83 0.00a2.92 1.62 0 1 0 -5.83 -0.00zM645.1 428.3a2.59 1.62 0 1 0 5.18 0.00a2.59 1.62 0 1 0 -5.18 -0.00zM648.8 431.4a1.94 1.30 0 1 0 3.89 0.00a1.94 1.30 0 1 0 -3.89 -0.00zM644.4 418.2a2.24 1.12 0 1 0 4.47 0.00a2.24 1.12 0 1 0 -4.47 -0.00zM649.9 420.2a1.86 1.12 0 1 0 3.73 0.00a1.86 1.12 0 1 0 -3.73 -0.00zM643.4 434.4a2.24 1.12 0 1 0 4.47 0.00a2.24 1.12 0 1 0 -4.47 -0.00zM612.7 441.5a1.62 2.59 0 1 0 3.24 0.00a1.62 2.59 0 1 0 -3.24 -0.00zM617.4 441.5a1.94 3.24 0 1 0 3.89 0.00a1.94 3.24 0 1 0 -3.89 -0.00zM620.8 444.5a1.62 2.59 0 1 0 3.24 0.00a1.62 2.59 0 1 0 -3.24 -0.00zM623.8 444.9a1.62 1.62 0 1 0 3.24 0.00a1.62 1.62 0 1 0 -3.24 -0.00zM626.6 445.5a1.86 1.12 0 1 0 3.73 0.00a1.86 1.12 0 1 0 -3.73 -0.00zM609.7 440.5a1.49 2.24 0 1 0 2.98 0.00a1.49 2.24 0 1 0 -2.98 -0.00zM670.4 446.1a2.27 1.62 -45 1 0 3.21 -3.21a2.27 1.62 -45 1 0 -3.21 3.21zM672.4 444.1a2.27 1.62 -45 1 0 3.21 -3.21a2.27 1.62 -45 1 0 -3.21 3.21zM675.4 441.1a2.27 1.62 -45 1 0 3.21 -3.21a2.27 1.62 -45 1 0 -3.21 3.21zM678.5 438.0a2.27 1.62 -45 1 0 3.21 -3.21a2.27 1.62 -45 1 0 -3.21 3.21zM681.1 435.0a2.24 1.12 -45 1 0 3.16 -3.16a2.24 1.12 -45 1 0 -3.16 3.16zM667.1 446.5a1.86 1.12 0 1 0 3.73 0.00a1.86 1.12 0 1 0 -3.73 -0.00zM617.2 408.2a2.24 1.12 60 1 0 2.24 3.87a2.24 1.12 60 1 0 -2.24 -3.87zM620.4 412.1a1.94 1.62 0 1 0 3.89 0.00a1.94 1.62 0 1 0 -3.89 -0.00zM623.2 409.1a1.62 1.30 0 1 0 3.24 0.00a1.62 1.30 0 1 0 -3.24 -0.00zM617.7 414.1a1.62 1.30 0 1 0 3.24 0.00a1.62 1.30 0 1 0 -3.24 -0.00zM623.5 416.3a2.24 1.12 -30 1 0 3.87 -2.24a2.24 1.12 -30 1 0 -3.87 2.24zM614.4 408.1a1.86 1.12 0 1 0 3.73 0.00a1.86 1.12 0 1 0 -3.73 -0.00zM695.0 426.6a2.61 1.12 30 1 0 4.52 2.61a2.61 1.12 30 1 0 -4.52 -2.61zM697.5 432.1a2.61 1.12 -30 1 0 4.52 -2.61a2.61 1.12 -30 1 0 -4.52 2.61zM699.8 427.2a2.24 1.12 30 1 0 3.87 2.24a2.24 1.12 30 1 0 -3.87 -2.24zM594.2 425.0a2.61 1.12 30 1 0 4.52 2.61a2.61 1.12 30 1 0 -4.52 -2.61zM596.2 430.0a2.61 1.12 -30 1 0 4.52 -2.61a2.61 1.12 -30 1 0 -4.52 2.61zM599.5 426.4a1.86 1.12 30 1 0 3.23 1.86a1.86 1.12 30 1 0 -3.23 -1.86zM698.7 458.5a1.62 2.59 0 1 0 3.24 0.00a1.62 2.59 0 1 0 -3.24 -0.00zM695.8 456.7a1.12 2.61 0 1 0 2.24 0.00a1.12 2.61 0 1 0 -2.24 -0.00zM655.7 434.5a5.96 0.93 30 1 0 10.32 5.96a5.96 0.93 30 1 0 -10.32 -5.96zM663.0 439.4a2.24 1.12 30 1 0 3.87 2.24a2.24 1.12 30 1 0 -3.87 -2.24zM650.5 432.4a2.24 1.12 0 1 0 4.47 0.00a2.24 1.12 0 1 0 -4.47 -0.00zM622.9 453.6a1.12 4.47 0 1 0 2.24 0.00a1.12 4.47 0 1 0 -2.24 -0.00zM593.8 408.1a2.24 1.12 0 1 0 4.47 0.00a2.24 1.12 0 1 0 -4.47 -0.00zM603.9 406.0a2.24 1.12 0 1 0 4.47 0.00a2.24 1.12 0 1 0 -4.47 -0.00zM630.3 406.0a2.24 1.12 0 1 0 4.47 0.00a2.24 1.12 0 1 0 -4.47 -0.00zM642.4 406.0a2.24 1.12 0 1 0 4.47 0.00a2.24 1.12 0 1 0 -4.47 -0.00zM650.9 410.1a1.86 1.12 0 1 0 3.73 0.00a1.86 1.12 0 1 0 -3.73 -0.00zM658.6 406.0a2.24 1.12 0 1 0 4.47 0.00a2.24 1.12 0 1 0 -4.47 -0.00zM670.8 408.1a2.24 1.12 0 1 0 4.47 0.00a2.24 1.12 0 1 0 -4.47 -0.00zM680.9 410.1a2.24 1.12 0 1 0 4.47 0.00a2.24 1.12 0 1 0 -4.47 -0.00zM691.0 406.0a2.24 1.12 0 1 0 4.47 0.00a2.24 1.12 0 1 0 -4.47 -0.00zM699.1 410.1a2.24 1.12 0 1 0 4.47 0.00a2.24 1.12 0 1 0 -4.47 -0.00zM601.9 418.2a2.24 1.12 0 1 0 4.47 0.00a2.24 1.12 0 1 0 -4.47 -0.00zM610.0 426.3a2.24 1.12 0 1 0 4.47 0.00a2.24 1.12 0 1 0 -4.47 -0.00zM602.2 433.3a2.24 1.12 30 1 0 3.87 2.24a2.24 1.12 30 1 0 -3.87 -2.24zM630.3 422.2a2.24 1.12 0 1 0 4.47 0.00a2.24 1.12 0 1 0 -4.47 -0.00zM634.3 434.4a2.24 1.12 0 1 0 4.47 0.00a2.24 1.12 0 1 0 -4.47 -0.00zM662.7 418.2a2.24 1.12 0 1 0 4.47 0.00a2.24 1.12 0 1 0 -4.47 -0.00zM670.8 426.3a2.24 1.12 0 1 0 4.47 0.00a2.24 1.12 0 1 0 -4.47 -0.00zM684.9 420.2a2.24 1.12 0 1 0 4.47 0.00a2.24 1.12 0 1 0 -4.47 -0.00zM689.0 434.4a2.24 1.12 0 1 0 4.47 0.00a2.24 1.12 0 1 0 -4.47 -0.00zM684.9 446.5a2.24 1.12 0 1 0 4.47 0.00a2.24 1.12 0 1 0 -4.47 -0.00zM691.0 451.6a2.24 1.12 0 1 0 4.47 0.00a2.24 1.12 0 1 0 -4.47 -0.00zM597.9 448.6a2.24 1.12 0 1 0 4.47 0.00a2.24 1.12 0 1 0 -4.47 -0.00zM606.0 452.6a2.24 1.12 0 1 0 4.47 0.00a2.24 1.12 0 1 0 -4.47 -0.00zM632.7 450.6a1.86 1.12 0 1 0 3.73 0.00a1.86 1.12 0 1 0 -3.73 -0.00zM661.0 450.6a1.86 1.12 0 1 0 3.73 0.00a1.86 1.12 0 1 0 -3.73 -0.00zM679.2 452.6a1.86 1.12 0 1 0 3.73 0.00a1.86 1.12 0 1 0 -3.73 -0.00zM643.4 461.9a1.62 1.30 0 1 0 3.24 0.00a1.62 1.30 0 1 0 -3.24 -0.00zM651.3 461.1a1.86 1.49 0 1 0 3.73 0.00a1.86 1.49 0 1 0 -3.73 -0.00zM646.1 494.7a2.59 1.62 0 1 0 5.18 0.00a2.59 1.62 0 1 0 -5.18 -0.00zM646.8 491.7a2.92 1.62 0 1 0 5.83 0.00a2.92 1.62 0 1 0 -5.83 -0.00zM645.1 488.7a2.59 1.62 0 1 0 5.18 0.00a2.59 1.62 0 1 0 -5.18 -0.00zM648.8 485.6a1.94 1.30 0 1 0 3.89 0.00a1.94 1.30 0 1 0 -3.89 -0.00zM644.4 498.8a2.24 1.12 0 1 0 4.47 0.00a2.24 1.12 0 1 0 -4.47 -0.00zM649.9 496.8a1.86 1.12 0 1 0 3.73 0.00a1.86 1.12 0 1 0 -3.73 -0.00zM643.4 482.6a2.24 1.12 0 1 0 4.47 0.00a2.24 1.12 0 1 0 -4.47 -0.00zM612.7 475.5a1.62 2.59 0 1 0 3.24 0.00a1.62 2.59 0 1 0 -3.24 -0.00zM617.4 475.5a1.94 3.24 0 1 0 3.89 0.00a1.94 3.24 0 1 0 -3.89 -0.00zM620.8 472.5a1.62 2.59 0 1 0 3.24 0.00a1.62 2.59 0 1 0 -3.24 -0.00zM623.8 472.1a1.62 1.62 0 1 0 3.24 0.00a1.62 1.62 0 1 0 -3.24 -0.00zM626.6 471.4a1.86 1.12 0 1 0 3.73 0.00a1.86 1.12 0 1 0 -3.73 -0.00zM609.7 476.5a1.49 2.24 0 1 0 2.98 0.00a1.49 2.24 0 1 0 -2.98 -0.00zM670.4 470.9a2.27 1.62 45 1 0 3.21 3.21a2.27 1.62 45 1 0 -3.21 -3.21zM672.4 472.9a2.27 1.62 45 1 0 3.21 3.21a2.27 1.62 45 1 0 -3.21 -3.21zM675.4 475.9a2.27 1.62 45 1 0 3.21 3.21a2.27 1.62 45 1 0 -3.21 -3.21zM678.5 479.0a2.27 1.62 45 1 0 3.21 3.21a2.27 1.62 45 1 0 -3.21 -3.21zM681.1 482.0a2.24 1.12 45 1 0 3.16 3.16a2.24 1.12 45 1 0 -3.16 -3.16zM667.1 470.4a1.86 1.12 0 1 0 3.73 0.00a1.86 1.12 0 1 0 -3.73 -0.00zM617.2 508.8a2.24 1.12 -60 1 0 2.24 -3.87a2.24 1.12 -60 1 0 -2.24 3.87zM620.4 504.9a1.94 1.62 0 1 0 3.89 0.00a1.94 1.62 0 1 0 -3.89 -0.00zM623.2 507.9a1.62 1.30 0 1 0 3.24 0.00a1.62 1.30 0 1 0 -3.24 -0.00zM617.7 502.8a1.62 1.30 0 1 0 3.24 0.00a1.62 1.30 0 1 0 -3.24 -0.00zM623.5 500.7a2.24 1.12 30 1 0 3.87 2.24a2.24 1.12 30 1 0 -3.87 -2.24zM614.4 508.9a1.86 1.12 0 1 0 3.73 0.00a1.86 1.12 0 1 0 -3.73 -0.00zM695.0 490.4a2.61 1.12 -30 1 0 4.52 -2.61a2.61 1.12 -30 1 0 -4.52 2.61zM697.5 484.9a2.61 1.12 30 1 0 4.52 2.61a2.61 1.12 30 1 0 -4.52 -2.61zM699.8 489.8a2.24 1.12 -30 1 0 3.87 -2.24a2.24 1.12 -30 1 0 -3.87 2.24zM594.2 492.0a2.61 1.12 -30 1 0 4.52 -2.61a2.61 1.12 -30 1 0 -4.52 2.61zM596.2 486.9a2.61 1.12 30 1 0 4.52 2.61a2.61 1.12 30 1 0 -4.52 -2.61zM599.5 490.6a1.86 1.12 -30 1 0 3.23 -1.86a1.86 1.12 -30 1 0 -3.23 1.86zM695.8 460.3a1.12 2.61 0 1 0 2.24 0.00a1.12 2.61 0 1 0 -2.24 -0.00zM655.7 482.5a5.96 0.93 -30 1 0 10.32 -5.96a5.96 0.93 -30 1 0 -10.32 5.96zM663.0 477.6a2.24 1.12 -30 1 0 3.87 -2.24a2.24 1.12 -30 1 0 -3.87 2.24zM650.5 484.6a2.24 1.12 0 1 0 4.47 0.00a2.24 1.12 0 1 0 -4.47 -0.00zM622.9 463.3a1.12 4.47 0 1 0 2.24 0.00a1.12 4.47 0 1 0 -2.24 -0.00zM593.8 508.9a2.24 1.12 0 1 0 4.47 0.00a2.24 1.12 0 1 0 -4.47 -0.00zM603.9 510.9a2.24 1.12 0 1 0 4.47 0.00a2.24 1.12 0 1 0 -4.47 -0.00zM630.3 510.9a2.24 1.12 0 1 0 4.47 0.00a2.24 1.12 0 1 0 -4.47 -0.00zM642.4 510.9a2.24 1.12 0 1 0 4.47 0.00a2.24 1.12 0 1 0 -4.47 -0.00zM650.9 506.9a1.86 1.12 0 1 0 3.73 0.00a1.86 1.12 0 1 0 -3.73 -0.00zM658.6 510.9a2.24 1.12 0 1 0 4.47 0.00a2.24 1.12 0 1 0 -4.47 -0.00zM670.8 508.9a2.24 1.12 0 1 0 4.47 0.00a2.24 1.12 0 1 0 -4.47 -0.00zM680.9 506.9a2.24 1.12 0 1 0 4.47 0.00a2.24 1.12 0 1 0 -4.47 -0.00zM691.0 510.9a2.24 1.12 0 1 0 4.47 0.00a2.24 1.12 0 1 0 -4.47 -0.00zM699.1 506.9a2.24 1.12 0 1 0 4.47 0.00a2.24 1.12 0 1 0 -4.47 -0.00zM601.9 498.8a2.24 1.12 0 1 0 4.47 0.00a2.24 1.12 0 1 0 -4.47 -0.00zM610.0 490.7a2.24 1.12 0 1 0 4.47 0.00a2.24 1.12 0 1 0 -4.47 -0.00zM602.2 483.7a2.24 1.12 -30 1 0 3.87 -2.24a2.24 1.12 -30 1 0 -3.87 2.24zM630.3 494.7a2.24 1.12 0 1 0 4.47 0.00a2.24 1.12 0 1 0 -4.47 -0.00zM634.3 482.6a2.24 1.12 0 1 0 4.47 0.00a2.24 1.12 0 1 0 -4.47 -0.00zM662.7 498.8a2.24 1.12 0 1 0 4.47 0.00a2.24 1.12 0 1 0 -4.47 -0.00zM670.8 490.7a2.24 1.12 0 1 0 4.47 0.00a2.24 1.12 0 1 0 -4.47 -0.00zM684.9 496.8a2.24 1.12 0 1 0 4.47 0.00a2.24 1.12 0 1 0 -4.47 -0.00zM689.0 482.6a2.24 1.12 0 1 0 4.47 0.00a2.24 1.12 0 1 0 -4.47 -0.00zM684.9 470.4a2.24 1.12 0 1 0 4.47 0.00a2.24 1.12 0 1 0 -4.47 -0.00zM691.0 465.4a2.24 1.12 0 1 0 4.47 0.00a2.24 1.12 0 1 0 -4.47 -0.00zM597.9 468.4a2.24 1.12 0 1 0 4.47 0.00a2.24 1.12 0 1 0 -4.47 -0.00zM606.0 464.4a2.24 1.12 0 1 0 4.47 0.00a2.24 1.12 0 1 0 -4.47 -0.00zM632.7 466.4a1.86 1.12 0 1 0 3.73 0.00a1.86 1.12 0 1 0 -3.73 -0.00zM661.0 466.4a1.86 1.12 0 1 0 3.73 0.00a1.86 1.12 0 1 0 -3.73 -0.00zM679.2 464.4a1.86 1.12 0 1 0 3.73 0.00a1.86 1.12 0 1 0 -3.73 -0.00z"/><path fill="#0098ee" d="M610.3 442.9a0.99 1.90 4 1 0 1.97 0.13a0.99 1.90 4 1 0 -1.97 -0.13zM613.9 443.8a0.99 2.10 4 1 0 1.97 0.13a0.99 2.10 4 1 0 -1.97 -0.13zM617.6 443.4a0.99 2.29 4 1 0 1.97 0.13a0.99 2.29 4 1 0 -1.97 -0.13zM621.2 444.3a0.99 2.48 4 1 0 1.97 0.13a0.99 2.48 4 1 0 -1.97 -0.13zM624.8 443.9a0.99 2.00 4 1 0 1.97 0.13a0.99 2.00 4 1 0 -1.97 -0.13zM628.4 444.8a0.99 2.19 4 1 0 1.97 0.13a0.99 2.19 4 1 0 -1.97 -0.13zM613.5 442.7a0.86 1.15 6 1 0 1.71 0.17a0.86 1.15 6 1 0 -1.71 -0.17zM617.4 443.8a0.86 1.26 6 1 0 1.71 0.17a0.86 1.26 6 1 0 -1.71 -0.17zM621.5 443.5a0.86 1.38 6 1 0 1.71 0.17a0.86 1.38 6 1 0 -1.71 -0.17zM625.5 444.6a0.86 1.49 6 1 0 1.71 0.17a0.86 1.49 6 1 0 -1.71 -0.17zM649.6 418.4a0.99 2.05 87 1 0 0.12 1.97a0.99 2.05 87 1 0 -0.12 -1.97zM649.2 423.0a0.99 2.26 87 1 0 0.12 1.97a0.99 2.26 87 1 0 -0.12 -1.97zM650.1 427.6a0.99 2.46 87 1 0 0.12 1.97a0.99 2.46 87 1 0 -0.12 -1.97zM649.7 432.2a0.99 2.67 87 1 0 0.12 1.97a0.99 2.67 87 1 0 -0.12 -1.97zM649.8 420.4a0.86 1.15 88 1 0 0.07 1.72a0.86 1.15 88 1 0 -0.07 -1.72zM649.3 425.5a0.86 1.26 88 1 0 0.07 1.72a0.86 1.26 88 1 0 -0.07 -1.72zM650.2 430.5a0.86 1.38 88 1 0 0.07 1.72a0.86 1.38 88 1 0 -0.07 -1.72zM668.0 447.7a0.99 1.90 -42 1 0 1.47 -1.31a0.99 1.90 -42 1 0 -1.47 1.31zM671.4 445.6a0.99 2.10 -42 1 0 1.47 -1.31a0.99 2.10 -42 1 0 -1.47 1.31zM674.0 442.4a0.99 2.29 -42 1 0 1.47 -1.31a0.99 2.29 -42 1 0 -1.47 1.31zM677.4 440.3a0.99 2.48 -42 1 0 1.47 -1.31a0.99 2.48 -42 1 0 -1.47 1.31zM680.0 437.1a0.99 2.00 -42 1 0 1.47 -1.31a0.99 2.00 -42 1 0 -1.47 1.31zM683.4 434.9a0.99 2.19 -42 1 0 1.47 -1.31a0.99 2.19 -42 1 0 -1.47 1.31zM670.5 445.2a0.86 1.02 -41 1 0 1.30 -1.13a0.86 1.02 -41 1 0 -1.30 1.13zM673.6 443.4a0.86 1.12 -41 1 0 1.30 -1.13a0.86 1.12 -41 1 0 -1.30 1.13zM675.9 440.6a0.86 1.22 -41 1 0 1.30 -1.13a0.86 1.22 -41 1 0 -1.30 1.13zM679.0 438.8a0.86 1.33 -41 1 0 1.30 -1.13a0.86 1.33 -41 1 0 -1.30 1.13zM681.2 435.9a0.86 1.07 -41 1 0 1.30 -1.13a0.86 1.07 -41 1 0 -1.30 1.13zM619.2 408.5a1.37 1.03 45 1 0 1.94 1.94a1.37 1.03 45 1 0 -1.94 -1.94zM621.5 411.7a1.37 1.13 45 1 0 1.94 1.94a1.37 1.13 45 1 0 -1.94 -1.94zM624.7 413.9a1.37 1.23 45 1 0 1.94 1.94a1.37 1.23 45 1 0 -1.94 -1.94zM610.2 473.4a0.99 1.90 -4 1 0 1.97 -0.13a0.99 1.90 -4 1 0 -1.97 0.13zM613.9 473.8a0.99 2.10 -4 1 0 1.97 -0.13a0.99 2.10 -4 1 0 -1.97 0.13zM617.5 472.9a0.99 2.29 -4 1 0 1.97 -0.13a0.99 2.29 -4 1 0 -1.97 0.13zM621.2 473.4a0.99 2.48 -4 1 0 1.97 -0.13a0.99 2.48 -4 1 0 -1.97 0.13zM624.8 472.4a0.99 2.00 -4 1 0 1.97 -0.13a0.99 2.00 -4 1 0 -1.97 0.13zM628.5 472.9a0.99 2.19 -4 1 0 1.97 -0.13a0.99 2.19 -4 1 0 -1.97 0.13zM613.4 473.6a0.86 1.15 -6 1 0 1.71 -0.17a0.86 1.15 -6 1 0 -1.71 0.17zM617.5 473.9a0.86 1.26 -6 1 0 1.71 -0.17a0.86 1.26 -6 1 0 -1.71 0.17zM621.5 472.8a0.86 1.38 -6 1 0 1.71 -0.17a0.86 1.38 -6 1 0 -1.71 0.17zM625.6 473.1a0.86 1.49 -6 1 0 1.71 -0.17a0.86 1.49 -6 1 0 -1.71 0.17zM648.9 498.5a0.99 2.05 -87 1 0 0.12 -1.97a0.99 2.05 -87 1 0 -0.12 1.97zM649.9 494.0a0.99 2.26 -87 1 0 0.12 -1.97a0.99 2.26 -87 1 0 -0.12 1.97zM649.4 489.4a0.99 2.46 -87 1 0 0.12 -1.97a0.99 2.46 -87 1 0 -0.12 1.97zM650.4 484.8a0.99 2.67 -87 1 0 0.12 -1.97a0.99 2.67 -87 1 0 -0.12 1.97zM649.1 496.6a0.86 1.15 -88 1 0 0.07 -1.72a0.86 1.15 -88 1 0 -0.07 1.72zM650.0 491.6a0.86 1.26 -88 1 0 0.07 -1.72a0.86 1.26 -88 1 0 -0.07 1.72zM649.5 486.5a0.86 1.38 -88 1 0 0.07 -1.72a0.86 1.38 -88 1 0 -0.07 1.72zM668.4 468.7a0.99 1.90 42 1 0 1.47 1.31a0.99 1.90 42 1 0 -1.47 -1.31zM671.0 471.9a0.99 2.10 42 1 0 1.47 1.31a0.99 2.10 42 1 0 -1.47 -1.31zM674.4 474.0a0.99 2.29 42 1 0 1.47 1.31a0.99 2.29 42 1 0 -1.47 -1.31zM677.0 477.2a0.99 2.48 42 1 0 1.47 1.31a0.99 2.48 42 1 0 -1.47 -1.31zM680.4 479.4a0.99 2.00 42 1 0 1.47 1.31a0.99 2.00 42 1 0 -1.47 -1.31zM682.9 482.6a0.99 2.19 42 1 0 1.47 1.31a0.99 2.19 42 1 0 -1.47 -1.31zM670.9 471.2a0.86 1.02 41 1 0 1.30 1.13a0.86 1.02 41 1 0 -1.30 -1.13zM673.2 474.1a0.86 1.12 41 1 0 1.30 1.13a0.86 1.12 41 1 0 -1.30 -1.13zM676.3 475.9a0.86 1.22 41 1 0 1.30 1.13a0.86 1.22 41 1 0 -1.30 -1.13zM678.5 478.7a0.86 1.33 41 1 0 1.30 1.13a0.86 1.33 41 1 0 -1.30 -1.13zM681.7 480.5a0.86 1.07 41 1 0 1.30 1.13a0.86 1.07 41 1 0 -1.30 -1.13zM618.7 508.0a1.37 1.03 -45 1 0 1.94 -1.94a1.37 1.03 -45 1 0 -1.94 1.94zM622.0 505.8a1.37 1.13 -45 1 0 1.94 -1.94a1.37 1.13 -45 1 0 -1.94 1.94zM624.2 502.5a1.37 1.23 -45 1 0 1.94 -1.94a1.37 1.23 -45 1 0 -1.94 1.94zM646.6 458.1a1.68 1.44 0 1 0 3.36 0.00a1.68 1.44 0 1 0 -3.36 -0.00zM643.8 455.0a1.20 0.96 0 1 0 2.40 0.00a1.20 0.96 0 1 0 -2.40 -0.00zM651.8 455.9a1.38 1.10 0 1 0 2.76 0.00a1.38 1.10 0 1 0 -2.76 -0.00zM641.5 458.3a1.10 1.38 0 1 0 2.21 0.00a1.10 1.38 0 1 0 -2.21 -0.00zM646.8 422.2a1.92 1.20 0 1 0 3.84 0.00a1.92 1.20 0 1 0 -3.84 -0.00zM647.5 425.3a2.16 1.20 0 1 0 4.31 0.00a2.16 1.20 0 1 0 -4.31 -0.00zM645.8 428.3a1.92 1.20 0 1 0 3.84 0.00a1.92 1.20 0 1 0 -3.84 -0.00zM649.3 431.4a1.44 0.96 0 1 0 2.88 0.00a1.44 0.96 0 1 0 -2.88 -0.00zM613.1 441.5a1.20 1.92 0 1 0 2.40 0.00a1.20 1.92 0 1 0 -2.40 -0.00zM617.9 441.5a1.44 2.40 0 1 0 2.88 0.00a1.44 2.40 0 1 0 -2.88 -0.00zM621.2 444.5a1.20 1.92 0 1 0 2.40 0.00a1.20 1.92 0 1 0 -2.40 -0.00zM624.2 444.9a1.20 1.20 0 1 0 2.40 0.00a1.20 1.20 0 1 0 -2.40 -0.00zM670.8 445.7a1.68 1.20 -45 1 0 2.37 -2.37a1.68 1.20 -45 1 0 -2.37 2.37zM672.8 443.7a1.68 1.20 -45 1 0 2.37 -2.37a1.68 1.20 -45 1 0 -2.37 2.37zM675.8 440.6a1.68 1.20 -45 1 0 2.37 -2.37a1.68 1.20 -45 1 0 -2.37 2.37zM678.9 437.6a1.68 1.20 -45 1 0 2.37 -2.37a1.68 1.20 -45 1 0 -2.37 2.37zM620.9 412.1a1.44 1.20 0 1 0 2.88 0.00a1.44 1.20 0 1 0 -2.88 -0.00zM623.6 409.1a1.20 0.96 0 1 0 2.40 0.00a1.20 0.96 0 1 0 -2.40 -0.00zM618.1 414.1a1.20 0.96 0 1 0 2.40 0.00a1.20 0.96 0 1 0 -2.40 -0.00zM699.1 458.5a1.20 1.92 0 1 0 2.40 0.00a1.20 1.92 0 1 0 -2.40 -0.00zM643.8 461.9a1.20 0.96 0 1 0 2.40 0.00a1.20 0.96 0 1 0 -2.40 -0.00zM651.8 461.1a1.38 1.10 0 1 0 2.76 0.00a1.38 1.10 0 1 0 -2.76 -0.00zM646.8 494.7a1.92 1.20 0 1 0 3.84 0.00a1.92 1.20 0 1 0 -3.84 -0.00zM647.5 491.7a2.16 1.20 0 1 0 4.31 0.00a2.16 1.20 0 1 0 -4.31 -0.00zM645.8 488.7a1.92 1.20 0 1 0 3.84 0.00a1.92 1.20 0 1 0 -3.84 -0.00zM649.3 485.6a1.44 0.96 0 1 0 2.88 0.00a1.44 0.96 0 1 0 -2.88 -0.00zM613.1 475.5a1.20 1.92 0 1 0 2.40 0.00a1.20 1.92 0 1 0 -2.40 -0.00zM617.9 475.5a1.44 2.40 0 1 0 2.88 0.00a1.44 2.40 0 1 0 -2.88 -0.00zM621.2 472.5a1.20 1.92 0 1 0 2.40 0.00a1.20 1.92 0 1 0 -2.40 -0.00zM624.2 472.1a1.20 1.20 0 1 0 2.40 0.00a1.20 1.20 0 1 0 -2.40 -0.00zM670.8 471.3a1.68 1.20 45 1 0 2.37 2.37a1.68 1.20 45 1 0 -2.37 -2.37zM672.8 473.3a1.68 1.20 45 1 0 2.37 2.37a1.68 1.20 45 1 0 -2.37 -2.37zM675.8 476.3a1.68 1.20 45 1 0 2.37 2.37a1.68 1.20 45 1 0 -2.37 -2.37zM678.9 479.4a1.68 1.20 45 1 0 2.37 2.37a1.68 1.20 45 1 0 -2.37 -2.37zM620.9 504.9a1.44 1.20 0 1 0 2.88 0.00a1.44 1.20 0 1 0 -2.88 -0.00zM623.6 507.9a1.20 0.96 0 1 0 2.40 0.00a1.20 0.96 0 1 0 -2.40 -0.00zM618.1 502.8a1.20 0.96 0 1 0 2.40 0.00a1.20 0.96 0 1 0 -2.40 -0.00z"/><path fill="#0054d0" d="M613.7 442.7a0.64 0.85 6 1 0 1.27 0.13a0.64 0.85 6 1 0 -1.27 -0.13zM617.7 443.8a0.64 0.94 6 1 0 1.27 0.13a0.64 0.94 6 1 0 -1.27 -0.13zM621.8 443.5a0.64 1.02 6 1 0 1.27 0.13a0.64 1.02 6 1 0 -1.27 -0.13zM625.7 444.6a0.64 1.11 6 1 0 1.27 0.13a0.64 1.11 6 1 0 -1.27 -0.13zM649.8 420.6a0.64 0.85 88 1 0 0.05 1.28a0.64 0.85 88 1 0 -0.05 -1.28zM649.3 425.7a0.64 0.94 88 1 0 0.05 1.28a0.64 0.94 88 1 0 -0.05 -1.28zM650.2 430.7a0.64 1.02 88 1 0 0.05 1.28a0.64 1.02 88 1 0 -0.05 -1.28zM670.7 445.1a0.64 0.76 -41 1 0 0.96 -0.84a0.64 0.76 -41 1 0 -0.96 0.84zM673.8 443.3a0.64 0.83 -41 1 0 0.96 -0.84a0.64 0.83 -41 1 0 -0.96 0.84zM676.0 440.4a0.64 0.91 -41 1 0 0.96 -0.84a0.64 0.91 -41 1 0 -0.96 0.84zM679.2 438.6a0.64 0.99 -41 1 0 0.96 -0.84a0.64 0.99 -41 1 0 -0.96 0.84zM681.4 435.8a0.64 0.80 -41 1 0 0.96 -0.84a0.64 0.80 -41 1 0 -0.96 0.84zM613.6 473.6a0.64 0.85 -6 1 0 1.27 -0.13a0.64 0.85 -6 1 0 -1.27 0.13zM617.7 473.9a0.64 0.94 -6 1 0 1.27 -0.13a0.64 0.94 -6 1 0 -1.27 0.13zM621.7 472.8a0.64 1.02 -6 1 0 1.27 -0.13a0.64 1.02 -6 1 0 -1.27 0.13zM625.8 473.1a0.64 1.11 -6 1 0 1.27 -0.13a0.64 1.11 -6 1 0 -1.27 0.13zM649.1 496.4a0.64 0.85 -88 1 0 0.05 -1.28a0.64 0.85 -88 1 0 -0.05 1.28zM650.0 491.3a0.64 0.94 -88 1 0 0.05 -1.28a0.64 0.94 -88 1 0 -0.05 1.28zM649.5 486.2a0.64 1.02 -88 1 0 0.05 -1.28a0.64 1.02 -88 1 0 -0.05 1.28zM671.1 471.4a0.64 0.76 41 1 0 0.96 0.84a0.64 0.76 41 1 0 -0.96 -0.84zM673.3 474.2a0.64 0.83 41 1 0 0.96 0.84a0.64 0.83 41 1 0 -0.96 -0.84zM676.5 476.0a0.64 0.91 41 1 0 0.96 0.84a0.64 0.91 41 1 0 -0.96 -0.84zM678.7 478.9a0.64 0.99 41 1 0 0.96 0.84a0.64 0.99 41 1 0 -0.96 -0.84zM681.8 480.7a0.64 0.80 41 1 0 0.96 0.84a0.64 0.80 41 1 0 -0.96 -0.84zM647.0 458.1a1.25 1.07 0 1 0 2.49 0.00a1.25 1.07 0 1 0 -2.49 -0.00zM644.2 455.0a0.89 0.71 0 1 0 1.78 0.00a0.89 0.71 0 1 0 -1.78 -0.00zM647.3 422.2a1.43 0.89 0 1 0 2.85 0.00a1.43 0.89 0 1 0 -2.85 -0.00zM648.1 425.3a1.60 0.89 0 1 0 3.21 0.00a1.60 0.89 0 1 0 -3.21 -0.00zM646.3 428.3a1.43 0.89 0 1 0 2.85 0.00a1.43 0.89 0 1 0 -2.85 -0.00zM649.6 431.4a1.07 0.71 0 1 0 2.14 0.00a1.07 0.71 0 1 0 -2.14 -0.00zM613.4 441.5a0.89 1.43 0 1 0 1.78 0.00a0.89 1.43 0 1 0 -1.78 -0.00zM618.3 441.5a1.07 1.78 0 1 0 2.14 0.00a1.07 1.78 0 1 0 -2.14 -0.00zM621.5 444.5a0.89 1.43 0 1 0 1.78 0.00a0.89 1.43 0 1 0 -1.78 -0.00zM624.5 444.9a0.89 0.89 0 1 0 1.78 0.00a0.89 0.89 0 1 0 -1.78 -0.00zM671.1 445.4a1.25 0.89 -45 1 0 1.76 -1.76a1.25 0.89 -45 1 0 -1.76 1.76zM673.1 443.4a1.25 0.89 -45 1 0 1.76 -1.76a1.25 0.89 -45 1 0 -1.76 1.76zM676.2 440.3a1.25 0.89 -45 1 0 1.76 -1.76a1.25 0.89 -45 1 0 -1.76 1.76zM679.2 437.3a1.25 0.89 -45 1 0 1.76 -1.76a1.25 0.89 -45 1 0 -1.76 1.76zM621.3 412.1a1.07 0.89 0 1 0 2.14 0.00a1.07 0.89 0 1 0 -2.14 -0.00zM623.9 409.1a0.89 0.71 0 1 0 1.78 0.00a0.89 0.71 0 1 0 -1.78 -0.00zM618.4 414.1a0.89 0.71 0 1 0 1.78 0.00a0.89 0.71 0 1 0 -1.78 -0.00zM699.4 458.5a0.89 1.43 0 1 0 1.78 0.00a0.89 1.43 0 1 0 -1.78 -0.00zM644.2 461.9a0.89 0.71 0 1 0 1.78 0.00a0.89 0.71 0 1 0 -1.78 -0.00zM647.3 494.7a1.43 0.89 0 1 0 2.85 0.00a1.43 0.89 0 1 0 -2.85 -0.00zM648.1 491.7a1.60 0.89 0 1 0 3.21 0.00a1.60 0.89 0 1 0 -3.21 -0.00zM646.3 488.7a1.43 0.89 0 1 0 2.85 0.00a1.43 0.89 0 1 0 -2.85 -0.00zM649.6 485.6a1.07 0.71 0 1 0 2.14 0.00a1.07 0.71 0 1 0 -2.14 -0.00zM613.4 475.5a0.89 1.43 0 1 0 1.78 0.00a0.89 1.43 0 1 0 -1.78 -0.00zM618.3 475.5a1.07 1.78 0 1 0 2.14 0.00a1.07 1.78 0 1 0 -2.14 -0.00zM621.5 472.5a0.89 1.43 0 1 0 1.78 0.00a0.89 1.43 0 1 0 -1.78 -0.00zM624.5 472.1a0.89 0.89 0 1 0 1.78 0.00a0.89 0.89 0 1 0 -1.78 -0.00zM671.1 471.6a1.25 0.89 45 1 0 1.76 1.76a1.25 0.89 45 1 0 -1.76 -1.76zM673.1 473.6a1.25 0.89 45 1 0 1.76 1.76a1.25 0.89 45 1 0 -1.76 -1.76zM676.2 476.6a1.25 0.89 45 1 0 1.76 1.76a1.25 0.89 45 1 0 -1.76 -1.76zM679.2 479.7a1.25 0.89 45 1 0 1.76 1.76a1.25 0.89 45 1 0 -1.76 -1.76zM621.3 504.9a1.07 0.89 0 1 0 2.14 0.00a1.07 0.89 0 1 0 -2.14 -0.00zM623.9 507.9a0.89 0.71 0 1 0 1.78 0.00a0.89 0.71 0 1 0 -1.78 -0.00zM618.4 502.8a0.89 0.71 0 1 0 1.78 0.00a0.89 0.71 0 1 0 -1.78 -0.00z"/><path fill="#001470" d="M647.3 458.1a0.95 0.82 0 1 0 1.90 0.00a0.95 0.82 0 1 0 -1.90 -0.00zM648.5 425.3a1.22 0.68 0 1 0 2.45 0.00a1.22 0.68 0 1 0 -2.45 -0.00zM618.5 441.5a0.82 1.36 0 1 0 1.63 0.00a0.82 1.36 0 1 0 -1.63 -0.00zM621.7 444.5a0.68 1.09 0 1 0 1.36 0.00a0.68 1.09 0 1 0 -1.36 -0.00zM673.3 443.2a0.95 0.68 -45 1 0 1.35 -1.35a0.95 0.68 -45 1 0 -1.35 1.35zM621.6 412.1a0.82 0.68 0 1 0 1.63 0.00a0.82 0.68 0 1 0 -1.63 -0.00zM699.6 458.5a0.68 1.09 0 1 0 1.36 0.00a0.68 1.09 0 1 0 -1.36 -0.00zM648.5 491.7a1.22 0.68 0 1 0 2.45 0.00a1.22 0.68 0 1 0 -2.45 -0.00zM618.5 475.5a0.82 1.36 0 1 0 1.63 0.00a0.82 1.36 0 1 0 -1.63 -0.00zM621.7 472.5a0.68 1.09 0 1 0 1.36 0.00a0.68 1.09 0 1 0 -1.36 -0.00zM673.3 473.8a0.95 0.68 45 1 0 1.35 1.35a0.95 0.68 45 1 0 -1.35 -1.35zM621.6 504.9a0.82 0.68 0 1 0 1.63 0.00a0.82 0.68 0 1 0 -1.63 -0.00z"/><path fill="#000018" d="M647.7 458.1a0.57 0.49 0 1 0 1.13 0.00a0.57 0.49 0 1 0 -1.13 -0.00zM649.0 425.3a0.73 0.40 0 1 0 1.46 0.00a0.73 0.40 0 1 0 -1.46 -0.00zM618.8 441.5a0.49 0.81 0 1 0 0.97 0.00a0.49 0.81 0 1 0 -0.97 -0.00zM622.0 444.5a0.40 0.65 0 1 0 0.81 0.00a0.40 0.65 0 1 0 -0.81 -0.00zM673.6 442.9a0.57 0.40 -45 1 0 0.80 -0.80a0.57 0.40 -45 1 0 -0.80 0.80zM621.9 412.1a0.49 0.40 0 1 0 0.97 0.00a0.49 0.40 0 1 0 -0.97 -0.00zM699.9 458.5a0.40 0.65 0 1 0 0.81 0.00a0.40 0.65 0 1 0 -0.81 -0.00zM649.0 491.7a0.73 0.40 0 1 0 1.46 0.00a0.73 0.40 0 1 0 -1.46 -0.00zM618.8 475.5a0.49 0.81 0 1 0 0.97 0.00a0.49 0.81 0 1 0 -0.97 -0.00zM622.0 472.5a0.40 0.65 0 1 0 0.81 0.00a0.40 0.65 0 1 0 -0.81 -0.00zM673.6 474.1a0.57 0.40 45 1 0 0.80 0.80a0.57 0.40 45 1 0 -0.80 -0.80zM621.9 504.9a0.49 0.40 0 1 0 0.97 0.00a0.49 0.40 0 1 0 -0.97 -0.00z"/></g><text x="635.50" y="450.60" font-size="17.4" font-family="'Liberation Sans', sans-serif" fill="#f00" textLength="28.60" lengthAdjust="spacingAndGlyphs">4th</text><circle cx="649.1" cy="459.1" r="7.7" fill="none" stroke="#f02020" stroke-width="1.1" stroke-dasharray="1.1 1.1"/><path d="M593.20 403.1v-4.5M593.20 514.1v4.5M593.2 403.10h-4.5M704.2 403.10h4.5M598.75 403.1v-2.3M598.75 514.1v2.3M593.2 408.65h-2.3M704.2 408.65h2.3M604.30 403.1v-2.3M604.30 514.1v2.3M593.2 414.20h-2.3M704.2 414.20h2.3M609.85 403.1v-2.3M609.85 514.1v2.3M593.2 419.75h-2.3M704.2 419.75h2.3M615.40 403.1v-2.3M615.40 514.1v2.3M593.2 425.30h-2.3M704.2 425.30h2.3M620.95 403.1v-4.5M620.95 514.1v4.5M593.2 430.85h-4.5M704.2 430.85h4.5M626.50 403.1v-2.3M626.50 514.1v2.3M593.2 436.40h-2.3M704.2 436.40h2.3M632.05 403.1v-2.3M632.05 514.1v2.3M593.2 441.95h-2.3M704.2 441.95h2.3M637.60 403.1v-2.3M637.60 514.1v2.3M593.2 447.50h-2.3M704.2 447.50h2.3M643.15 403.1v-2.3M643.15 514.1v2.3M593.2 453.05h-2.3M704.2 453.05h2.3M648.70 403.1v-4.5M648.70 514.1v4.5M593.2 458.60h-4.5M704.2 458.60h4.5M654.25 403.1v-2.3M654.25 514.1v2.3M593.2 464.15h-2.3M704.2 464.15h2.3M659.80 403.1v-2.3M659.80 514.1v2.3M593.2 469.70h-2.3M704.2 469.70h2.3M665.35 403.1v-2.3M665.35 514.1v2.3M593.2 475.25h-2.3M704.2 475.25h2.3M670.90 403.1v-2.3M670.90 514.1v2.3M593.2 480.80h-2.3M704.2 480.80h2.3M676.45 403.1v-4.5M676.45 514.1v4.5M593.2 486.35h-4.5M704.2 486.35h4.5M682.00 403.1v-2.3M682.00 514.1v2.3M593.2 491.90h-2.3M704.2 491.90h2.3M687.55 403.1v-2.3M687.55 514.1v2.3M593.2 497.45h-2.3M704.2 497.45h2.3M693.10 403.1v-2.3M693.10 514.1v2.3M593.2 503.00h-2.3M704.2 503.00h2.3M698.65 403.1v-2.3M698.65 514.1v2.3M593.2 508.55h-2.3M704.2 508.55h2.3M704.20 403.1v-4.5M704.20 514.1v4.5M593.2 514.10h-4.5M704.2 514.10h4.5" stroke="#555" stroke-width="1" fill="none"/><text x="584.90" y="407.95" font-size="12.3" font-family="'Liberation Sans', sans-serif" font-weight="bold" text-anchor="end" textLength="15.20" lengthAdjust="spacingAndGlyphs">10</text><text x="584.90" y="435.70" font-size="12.3" font-family="'Liberation Sans', sans-serif" font-weight="bold" text-anchor="end" textLength="6.80" lengthAdjust="spacingAndGlyphs">5</text><text x="584.90" y="463.45" font-size="12.3" font-family="'Liberation Sans', sans-serif" font-weight="bold" text-anchor="end" textLength="6.80" lengthAdjust="spacingAndGlyphs">0</text><text x="584.90" y="491.20" font-size="12.3" font-family="'Liberation Sans', sans-serif" font-weight="bold" text-anchor="end" textLength="11.60" lengthAdjust="spacingAndGlyphs">-5</text><text x="584.90" y="518.95" font-size="12.3" font-family="'Liberation Sans', sans-serif" font-weight="bold" text-anchor="end" textLength="19.80" lengthAdjust="spacingAndGlyphs">-10</text><text x="592.80" y="529.60" font-size="12.3" font-family="'Liberation Sans', sans-serif" font-weight="bold" text-anchor="middle" textLength="15.20" lengthAdjust="spacingAndGlyphs">10</text><text x="620.00" y="529.60" font-size="12.3" font-family="'Liberation Sans', sans-serif" font-weight="bold" text-anchor="middle" textLength="6.80" lengthAdjust="spacingAndGlyphs">5</text><text x="647.20" y="529.60" font-size="12.3" font-family="'Liberation Sans', sans-serif" font-weight="bold" text-anchor="middle" textLength="6.80" lengthAdjust="spacingAndGlyphs">0</text><text x="674.10" y="529.60" font-size="12.3" font-family="'Liberation Sans', sans-serif" font-weight="bold" text-anchor="middle" textLength="11.60" lengthAdjust="spacingAndGlyphs">-5</text><text x="701.30" y="529.60" font-size="12.3" font-family="'Liberation Sans', sans-serif" font-weight="bold" text-anchor="middle" textLength="19.80" lengthAdjust="spacingAndGlyphs">-10</text><text x="568.90" y="546.80" font-size="11.3" font-family="'Liberation Sans', sans-serif" font-weight="bold" textLength="77.90" lengthAdjust="spacingAndGlyphs">Position along</text><text x="650.90" y="548.00" font-size="16" font-family="'Liberation Serif', serif" fill="#1a1a1a" stroke="#1a1a1a" stroke-width="0.3">[</text><text x="656.30" y="547.10" font-size="14.6" font-family="'Liberation Serif', serif" fill="#1a1a1a" stroke="#1a1a1a" stroke-width="0.3">1</text><path d="M657.00 534.90h4.3" stroke="#1a1a1a" stroke-width="1.3"/><text x="662.90" y="547.10" font-size="14.6" font-family="'Liberation Serif', serif" fill="#1a1a1a" textLength="13.40" lengthAdjust="spacingAndGlyphs" stroke="#1a1a1a" stroke-width="0.3">10</text><text x="676.90" y="548.00" font-size="16" font-family="'Liberation Serif', serif" fill="#1a1a1a" stroke="#1a1a1a" stroke-width="0.3">]</text><text x="681.90" y="550.10" font-size="8.2" font-family="'Liberation Sans', sans-serif" font-weight="bold" textLength="15.00" lengthAdjust="spacingAndGlyphs">HEX</text><text x="699.90" y="547.20" font-size="11.3" font-family="'Liberation Sans', sans-serif" font-weight="bold">(</text><text x="705.90" y="546.80" font-size="11.3" font-family="'Liberation Sans', sans-serif" font-weight="bold" textLength="9.60" lengthAdjust="spacingAndGlyphs">Å</text><text x="717.20" y="547.20" font-size="11.3" font-family="'Liberation Sans', sans-serif" font-weight="bold">)</text><g transform="translate(560.50 539.60) rotate(-90)"><text x="-0.40" y="0.00" font-size="11.3" font-family="'Liberation Sans', sans-serif" font-weight="bold" textLength="77.90" lengthAdjust="spacingAndGlyphs">Position along</text><text x="81.60" y="1.20" font-size="16" font-family="'Liberation Serif', serif" fill="#1a1a1a" stroke="#1a1a1a" stroke-width="0.3">[</text><text x="87.00" y="0.30" font-size="14.6" font-family="'Liberation Serif', serif" fill="#1a1a1a" stroke="#1a1a1a" stroke-width="0.3">1</text><path d="M87.70 -11.90h4.3" stroke="#1a1a1a" stroke-width="1.3"/><path d="M94.40 -11.90h4.3" stroke="#1a1a1a" stroke-width="1.3"/><text x="93.60" y="0.30" font-size="14.6" font-family="'Liberation Serif', serif" fill="#1a1a1a" textLength="13.40" lengthAdjust="spacingAndGlyphs" stroke="#1a1a1a" stroke-width="0.3">10</text><text x="107.60" y="1.20" font-size="16" font-family="'Liberation Serif', serif" fill="#1a1a1a" stroke="#1a1a1a" stroke-width="0.3">]</text><text x="112.60" y="3.30" font-size="8.2" font-family="'Liberation Sans', sans-serif" font-weight="bold" textLength="15.00" lengthAdjust="spacingAndGlyphs">HEX</text><text x="130.60" y="0.40" font-size="11.3" font-family="'Liberation Sans', sans-serif" font-weight="bold">(</text><text x="136.60" y="0.00" font-size="11.3" font-family="'Liberation Sans', sans-serif" font-weight="bold" textLength="9.60" lengthAdjust="spacingAndGlyphs">Å</text><text x="147.90" y="0.40" font-size="11.3" font-family="'Liberation Sans', sans-serif" font-weight="bold">)</text></g><text x="643.70" y="564.20" font-size="11.8" font-family="'Liberation Sans', sans-serif">(l)</text>
</svg>
</body></html>
